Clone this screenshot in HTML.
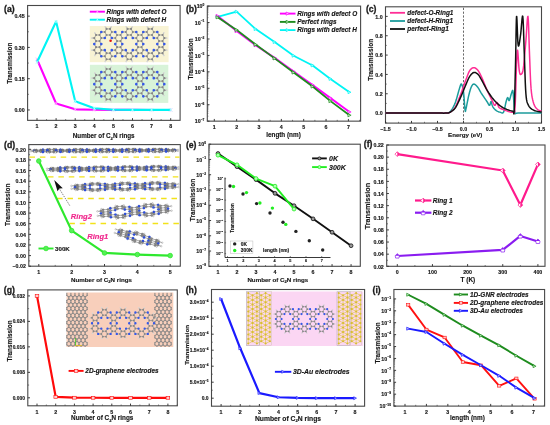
<!DOCTYPE html>
<html><head><meta charset="utf-8"><style>
html,body{margin:0;padding:0;background:#fff;width:550px;height:425px;overflow:hidden}
svg{display:block;filter:blur(0.3px);font-family:"Liberation Sans", sans-serif}
</style></head><body>
<svg width="550" height="425" viewBox="0 0 550 425">
<style>text{stroke-width:0.14px}</style>
<rect width="550" height="425" fill="#fff"/>
<rect x="89.8" y="26" width="78.8" height="36.2" fill="#f8f3d4" stroke="none" stroke-width="1" />
<path d="M153.8,31.98L152.05,35.01M153.8,31.98L152.05,28.94M153.8,31.98L157.3,31.98M152.05,35.01L148.55,35.01M152.05,35.01L153.8,38.04M148.55,35.01L146.8,31.98M148.55,35.01L146.8,38.04M146.8,31.98L148.55,28.94M146.8,31.98L143.3,31.98M148.55,28.94L152.05,28.94M159.05,35.01L157.3,38.04M159.05,35.01L157.3,31.98M159.05,35.01L162.55,35.01M157.3,38.04L153.8,38.04M157.3,38.04L159.05,41.07M164.3,38.04L162.55,41.07M164.3,38.04L162.55,35.01M162.55,41.07L159.05,41.07M162.55,41.07L164.3,44.1M159.05,41.07L157.3,44.1M146.8,38.04L143.3,38.04M143.3,38.04L141.55,35.01M143.3,38.04L141.55,41.07M141.55,35.01L143.3,31.98M141.55,35.01L138.05,35.01M164.3,44.1L162.55,47.13M162.55,47.13L159.05,47.13M162.55,47.13L164.3,50.16M159.05,47.13L157.3,44.1M159.05,47.13L157.3,50.16M132.8,31.98L131.05,35.01M132.8,31.98L131.05,28.94M132.8,31.98L136.3,31.98M131.05,35.01L127.55,35.01M131.05,35.01L132.8,38.04M127.55,35.01L125.8,31.98M127.55,35.01L125.8,38.04M125.8,31.98L127.55,28.94M125.8,31.98L122.3,31.98M127.55,28.94L131.05,28.94M138.05,35.01L136.3,38.04M138.05,35.01L136.3,31.98M136.3,38.04L132.8,38.04M136.3,38.04L138.05,41.07M141.55,41.07L138.05,41.07M141.55,41.07L143.3,44.1M138.05,41.07L136.3,44.1M164.3,50.16L162.55,53.19M162.55,53.19L159.05,53.19M159.05,53.19L157.3,50.16M159.05,53.19L157.3,56.22M157.3,50.16L153.8,50.16M125.8,38.04L122.3,38.04M122.3,38.04L120.55,35.01M122.3,38.04L120.55,41.07M120.55,35.01L122.3,31.98M120.55,35.01L117.05,35.01M143.3,44.1L141.55,47.13M141.55,47.13L138.05,47.13M141.55,47.13L143.3,50.16M138.05,47.13L136.3,44.1M138.05,47.13L136.3,50.16M157.3,56.22L153.8,56.22M153.8,56.22L152.05,53.19M153.8,56.22L152.05,59.26M152.05,53.19L153.8,50.16M152.05,53.19L148.55,53.19M111.8,31.98L110.05,35.01M111.8,31.98L110.05,28.94M111.8,31.98L115.3,31.98M110.05,35.01L106.55,35.01M110.05,35.01L111.8,38.04M106.55,35.01L104.8,31.98M106.55,35.01L104.8,38.04M104.8,31.98L106.55,28.94M104.8,31.98L101.3,31.98M106.55,28.94L110.05,28.94M117.05,35.01L115.3,38.04M117.05,35.01L115.3,31.98M115.3,38.04L111.8,38.04M115.3,38.04L117.05,41.07M120.55,41.07L117.05,41.07M120.55,41.07L122.3,44.1M117.05,41.07L115.3,44.1M143.3,50.16L141.55,53.19M143.3,50.16L146.8,50.16M141.55,53.19L138.05,53.19M141.55,53.19L143.3,56.22M138.05,53.19L136.3,50.16M138.05,53.19L136.3,56.22M136.3,50.16L132.8,50.16M148.55,53.19L146.8,56.22M148.55,53.19L146.8,50.16M146.8,56.22L143.3,56.22M146.8,56.22L148.55,59.26M152.05,59.26L148.55,59.26M104.8,38.04L101.3,38.04M101.3,38.04L99.55,35.01M101.3,38.04L99.55,41.07M99.55,35.01L101.3,31.98M99.55,35.01L96.05,35.01M122.3,44.1L120.55,47.13M120.55,47.13L117.05,47.13M120.55,47.13L122.3,50.16M117.05,47.13L115.3,44.1M117.05,47.13L115.3,50.16M136.3,56.22L132.8,56.22M132.8,56.22L131.05,53.19M132.8,56.22L131.05,59.26M131.05,53.19L132.8,50.16M131.05,53.19L127.55,53.19M99.55,41.07L96.05,41.07M99.55,41.07L101.3,44.1M96.05,41.07L94.3,38.04M96.05,41.07L94.3,44.1M94.3,38.04L96.05,35.01M122.3,50.16L120.55,53.19M122.3,50.16L125.8,50.16M120.55,53.19L117.05,53.19M120.55,53.19L122.3,56.22M117.05,53.19L115.3,50.16M117.05,53.19L115.3,56.22M115.3,50.16L111.8,50.16M127.55,53.19L125.8,56.22M127.55,53.19L125.8,50.16M125.8,56.22L122.3,56.22M125.8,56.22L127.55,59.26M131.05,59.26L127.55,59.26M101.3,44.1L99.55,47.13M99.55,47.13L96.05,47.13M99.55,47.13L101.3,50.16M96.05,47.13L94.3,44.1M96.05,47.13L94.3,50.16M115.3,56.22L111.8,56.22M111.8,56.22L110.05,53.19M111.8,56.22L110.05,59.26M110.05,53.19L111.8,50.16M110.05,53.19L106.55,53.19M101.3,50.16L99.55,53.19M101.3,50.16L104.8,50.16M99.55,53.19L96.05,53.19M99.55,53.19L101.3,56.22M96.05,53.19L94.3,50.16M106.55,53.19L104.8,56.22M106.55,53.19L104.8,50.16M104.8,56.22L101.3,56.22M104.8,56.22L106.55,59.26M110.05,59.26L106.55,59.26M148.55,28.94L147.29,26.76M152.05,28.94L153.31,26.76M164.3,38.04L166.82,38.04M162.55,35.01L163.81,32.82M127.55,28.94L126.29,26.76M131.05,28.94L132.31,26.76M164.3,50.16L166.82,50.16M162.55,53.19L163.81,55.38M106.55,28.94L105.29,26.76M110.05,28.94L111.31,26.76M152.05,59.26L153.31,61.44M148.55,59.26L147.29,61.44M94.3,38.04L91.78,38.04M96.05,35.01L94.79,32.82M131.05,59.26L132.31,61.44M127.55,59.26L126.29,61.44M96.05,53.19L94.79,55.38M94.3,50.16L91.78,50.16M110.05,59.26L111.31,61.44M106.55,59.26L105.29,61.44" stroke="#9a9a9a" stroke-width="0.88" fill="none"/>
<path d="M152.72,31.98a1.08,1.08 0 1,0 2.17,0a1.08,1.08 0 1,0 -2.17,0M150.97,35.01a1.08,1.08 0 1,0 2.17,0a1.08,1.08 0 1,0 -2.17,0M147.47,35.01a1.08,1.08 0 1,0 2.17,0a1.08,1.08 0 1,0 -2.17,0M145.72,31.98a1.08,1.08 0 1,0 2.17,0a1.08,1.08 0 1,0 -2.17,0M147.47,28.94a1.08,1.08 0 1,0 2.17,0a1.08,1.08 0 1,0 -2.17,0M150.97,28.94a1.08,1.08 0 1,0 2.17,0a1.08,1.08 0 1,0 -2.17,0M157.97,35.01a1.08,1.08 0 1,0 2.17,0a1.08,1.08 0 1,0 -2.17,0M156.22,38.04a1.08,1.08 0 1,0 2.17,0a1.08,1.08 0 1,0 -2.17,0M163.22,38.04a1.08,1.08 0 1,0 2.17,0a1.08,1.08 0 1,0 -2.17,0M161.47,41.07a1.08,1.08 0 1,0 2.17,0a1.08,1.08 0 1,0 -2.17,0M157.97,41.07a1.08,1.08 0 1,0 2.17,0a1.08,1.08 0 1,0 -2.17,0M161.47,35.01a1.08,1.08 0 1,0 2.17,0a1.08,1.08 0 1,0 -2.17,0M142.22,38.04a1.08,1.08 0 1,0 2.17,0a1.08,1.08 0 1,0 -2.17,0M140.47,35.01a1.08,1.08 0 1,0 2.17,0a1.08,1.08 0 1,0 -2.17,0M161.47,47.13a1.08,1.08 0 1,0 2.17,0a1.08,1.08 0 1,0 -2.17,0M157.97,47.13a1.08,1.08 0 1,0 2.17,0a1.08,1.08 0 1,0 -2.17,0M131.72,31.98a1.08,1.08 0 1,0 2.17,0a1.08,1.08 0 1,0 -2.17,0M129.97,35.01a1.08,1.08 0 1,0 2.17,0a1.08,1.08 0 1,0 -2.17,0M126.47,35.01a1.08,1.08 0 1,0 2.17,0a1.08,1.08 0 1,0 -2.17,0M124.72,31.98a1.08,1.08 0 1,0 2.17,0a1.08,1.08 0 1,0 -2.17,0M126.47,28.94a1.08,1.08 0 1,0 2.17,0a1.08,1.08 0 1,0 -2.17,0M129.97,28.94a1.08,1.08 0 1,0 2.17,0a1.08,1.08 0 1,0 -2.17,0M136.97,35.01a1.08,1.08 0 1,0 2.17,0a1.08,1.08 0 1,0 -2.17,0M135.22,38.04a1.08,1.08 0 1,0 2.17,0a1.08,1.08 0 1,0 -2.17,0M140.47,41.07a1.08,1.08 0 1,0 2.17,0a1.08,1.08 0 1,0 -2.17,0M136.97,41.07a1.08,1.08 0 1,0 2.17,0a1.08,1.08 0 1,0 -2.17,0M163.22,50.16a1.08,1.08 0 1,0 2.17,0a1.08,1.08 0 1,0 -2.17,0M161.47,53.19a1.08,1.08 0 1,0 2.17,0a1.08,1.08 0 1,0 -2.17,0M157.97,53.19a1.08,1.08 0 1,0 2.17,0a1.08,1.08 0 1,0 -2.17,0M156.22,50.16a1.08,1.08 0 1,0 2.17,0a1.08,1.08 0 1,0 -2.17,0M121.22,38.04a1.08,1.08 0 1,0 2.17,0a1.08,1.08 0 1,0 -2.17,0M119.47,35.01a1.08,1.08 0 1,0 2.17,0a1.08,1.08 0 1,0 -2.17,0M140.47,47.13a1.08,1.08 0 1,0 2.17,0a1.08,1.08 0 1,0 -2.17,0M136.97,47.13a1.08,1.08 0 1,0 2.17,0a1.08,1.08 0 1,0 -2.17,0M152.72,56.22a1.08,1.08 0 1,0 2.17,0a1.08,1.08 0 1,0 -2.17,0M150.97,53.19a1.08,1.08 0 1,0 2.17,0a1.08,1.08 0 1,0 -2.17,0M110.72,31.98a1.08,1.08 0 1,0 2.17,0a1.08,1.08 0 1,0 -2.17,0M108.97,35.01a1.08,1.08 0 1,0 2.17,0a1.08,1.08 0 1,0 -2.17,0M105.47,35.01a1.08,1.08 0 1,0 2.17,0a1.08,1.08 0 1,0 -2.17,0M103.72,31.98a1.08,1.08 0 1,0 2.17,0a1.08,1.08 0 1,0 -2.17,0M105.47,28.94a1.08,1.08 0 1,0 2.17,0a1.08,1.08 0 1,0 -2.17,0M108.97,28.94a1.08,1.08 0 1,0 2.17,0a1.08,1.08 0 1,0 -2.17,0M115.97,35.01a1.08,1.08 0 1,0 2.17,0a1.08,1.08 0 1,0 -2.17,0M114.22,38.04a1.08,1.08 0 1,0 2.17,0a1.08,1.08 0 1,0 -2.17,0M119.47,41.07a1.08,1.08 0 1,0 2.17,0a1.08,1.08 0 1,0 -2.17,0M115.97,41.07a1.08,1.08 0 1,0 2.17,0a1.08,1.08 0 1,0 -2.17,0M142.22,50.16a1.08,1.08 0 1,0 2.17,0a1.08,1.08 0 1,0 -2.17,0M140.47,53.19a1.08,1.08 0 1,0 2.17,0a1.08,1.08 0 1,0 -2.17,0M136.97,53.19a1.08,1.08 0 1,0 2.17,0a1.08,1.08 0 1,0 -2.17,0M135.22,50.16a1.08,1.08 0 1,0 2.17,0a1.08,1.08 0 1,0 -2.17,0M147.47,53.19a1.08,1.08 0 1,0 2.17,0a1.08,1.08 0 1,0 -2.17,0M145.72,56.22a1.08,1.08 0 1,0 2.17,0a1.08,1.08 0 1,0 -2.17,0M150.97,59.26a1.08,1.08 0 1,0 2.17,0a1.08,1.08 0 1,0 -2.17,0M147.47,59.26a1.08,1.08 0 1,0 2.17,0a1.08,1.08 0 1,0 -2.17,0M100.22,38.04a1.08,1.08 0 1,0 2.17,0a1.08,1.08 0 1,0 -2.17,0M98.47,35.01a1.08,1.08 0 1,0 2.17,0a1.08,1.08 0 1,0 -2.17,0M119.47,47.13a1.08,1.08 0 1,0 2.17,0a1.08,1.08 0 1,0 -2.17,0M115.97,47.13a1.08,1.08 0 1,0 2.17,0a1.08,1.08 0 1,0 -2.17,0M131.72,56.22a1.08,1.08 0 1,0 2.17,0a1.08,1.08 0 1,0 -2.17,0M129.97,53.19a1.08,1.08 0 1,0 2.17,0a1.08,1.08 0 1,0 -2.17,0M98.47,41.07a1.08,1.08 0 1,0 2.17,0a1.08,1.08 0 1,0 -2.17,0M94.97,41.07a1.08,1.08 0 1,0 2.17,0a1.08,1.08 0 1,0 -2.17,0M93.22,38.04a1.08,1.08 0 1,0 2.17,0a1.08,1.08 0 1,0 -2.17,0M94.97,35.01a1.08,1.08 0 1,0 2.17,0a1.08,1.08 0 1,0 -2.17,0M121.22,50.16a1.08,1.08 0 1,0 2.17,0a1.08,1.08 0 1,0 -2.17,0M119.47,53.19a1.08,1.08 0 1,0 2.17,0a1.08,1.08 0 1,0 -2.17,0M115.97,53.19a1.08,1.08 0 1,0 2.17,0a1.08,1.08 0 1,0 -2.17,0M114.22,50.16a1.08,1.08 0 1,0 2.17,0a1.08,1.08 0 1,0 -2.17,0M126.47,53.19a1.08,1.08 0 1,0 2.17,0a1.08,1.08 0 1,0 -2.17,0M124.72,56.22a1.08,1.08 0 1,0 2.17,0a1.08,1.08 0 1,0 -2.17,0M129.97,59.26a1.08,1.08 0 1,0 2.17,0a1.08,1.08 0 1,0 -2.17,0M126.47,59.26a1.08,1.08 0 1,0 2.17,0a1.08,1.08 0 1,0 -2.17,0M98.47,47.13a1.08,1.08 0 1,0 2.17,0a1.08,1.08 0 1,0 -2.17,0M94.97,47.13a1.08,1.08 0 1,0 2.17,0a1.08,1.08 0 1,0 -2.17,0M110.72,56.22a1.08,1.08 0 1,0 2.17,0a1.08,1.08 0 1,0 -2.17,0M108.97,53.19a1.08,1.08 0 1,0 2.17,0a1.08,1.08 0 1,0 -2.17,0M100.22,50.16a1.08,1.08 0 1,0 2.17,0a1.08,1.08 0 1,0 -2.17,0M98.47,53.19a1.08,1.08 0 1,0 2.17,0a1.08,1.08 0 1,0 -2.17,0M94.97,53.19a1.08,1.08 0 1,0 2.17,0a1.08,1.08 0 1,0 -2.17,0M93.22,50.16a1.08,1.08 0 1,0 2.17,0a1.08,1.08 0 1,0 -2.17,0M105.47,53.19a1.08,1.08 0 1,0 2.17,0a1.08,1.08 0 1,0 -2.17,0M103.72,56.22a1.08,1.08 0 1,0 2.17,0a1.08,1.08 0 1,0 -2.17,0M108.97,59.26a1.08,1.08 0 1,0 2.17,0a1.08,1.08 0 1,0 -2.17,0M105.47,59.26a1.08,1.08 0 1,0 2.17,0a1.08,1.08 0 1,0 -2.17,0" fill="#878787"/>
<path d="M152.47,38.04a1.33,1.33 0 1,0 2.66,0a1.33,1.33 0 1,0 -2.66,0M155.97,31.98a1.33,1.33 0 1,0 2.66,0a1.33,1.33 0 1,0 -2.66,0M145.47,38.04a1.33,1.33 0 1,0 2.66,0a1.33,1.33 0 1,0 -2.66,0M141.97,31.98a1.33,1.33 0 1,0 2.66,0a1.33,1.33 0 1,0 -2.66,0M162.97,44.1a1.33,1.33 0 1,0 2.66,0a1.33,1.33 0 1,0 -2.66,0M155.97,44.1a1.33,1.33 0 1,0 2.66,0a1.33,1.33 0 1,0 -2.66,0M131.47,38.04a1.33,1.33 0 1,0 2.66,0a1.33,1.33 0 1,0 -2.66,0M134.97,31.98a1.33,1.33 0 1,0 2.66,0a1.33,1.33 0 1,0 -2.66,0M124.47,38.04a1.33,1.33 0 1,0 2.66,0a1.33,1.33 0 1,0 -2.66,0M120.97,31.98a1.33,1.33 0 1,0 2.66,0a1.33,1.33 0 1,0 -2.66,0M141.97,44.1a1.33,1.33 0 1,0 2.66,0a1.33,1.33 0 1,0 -2.66,0M134.97,44.1a1.33,1.33 0 1,0 2.66,0a1.33,1.33 0 1,0 -2.66,0M155.97,56.22a1.33,1.33 0 1,0 2.66,0a1.33,1.33 0 1,0 -2.66,0M152.47,50.16a1.33,1.33 0 1,0 2.66,0a1.33,1.33 0 1,0 -2.66,0M110.47,38.04a1.33,1.33 0 1,0 2.66,0a1.33,1.33 0 1,0 -2.66,0M113.97,31.98a1.33,1.33 0 1,0 2.66,0a1.33,1.33 0 1,0 -2.66,0M141.97,56.22a1.33,1.33 0 1,0 2.66,0a1.33,1.33 0 1,0 -2.66,0M145.47,50.16a1.33,1.33 0 1,0 2.66,0a1.33,1.33 0 1,0 -2.66,0M103.47,38.04a1.33,1.33 0 1,0 2.66,0a1.33,1.33 0 1,0 -2.66,0M99.97,31.98a1.33,1.33 0 1,0 2.66,0a1.33,1.33 0 1,0 -2.66,0M120.97,44.1a1.33,1.33 0 1,0 2.66,0a1.33,1.33 0 1,0 -2.66,0M113.97,44.1a1.33,1.33 0 1,0 2.66,0a1.33,1.33 0 1,0 -2.66,0M134.97,56.22a1.33,1.33 0 1,0 2.66,0a1.33,1.33 0 1,0 -2.66,0M131.47,50.16a1.33,1.33 0 1,0 2.66,0a1.33,1.33 0 1,0 -2.66,0M120.97,56.22a1.33,1.33 0 1,0 2.66,0a1.33,1.33 0 1,0 -2.66,0M124.47,50.16a1.33,1.33 0 1,0 2.66,0a1.33,1.33 0 1,0 -2.66,0M99.97,44.1a1.33,1.33 0 1,0 2.66,0a1.33,1.33 0 1,0 -2.66,0M92.97,44.1a1.33,1.33 0 1,0 2.66,0a1.33,1.33 0 1,0 -2.66,0M113.97,56.22a1.33,1.33 0 1,0 2.66,0a1.33,1.33 0 1,0 -2.66,0M110.47,50.16a1.33,1.33 0 1,0 2.66,0a1.33,1.33 0 1,0 -2.66,0M99.97,56.22a1.33,1.33 0 1,0 2.66,0a1.33,1.33 0 1,0 -2.66,0M103.47,50.16a1.33,1.33 0 1,0 2.66,0a1.33,1.33 0 1,0 -2.66,0" fill="#3558e8"/>
<path d="M146.45,26.76a0.84,0.84 0 1,0 1.68,0a0.84,0.84 0 1,0 -1.68,0M152.47,26.76a0.84,0.84 0 1,0 1.68,0a0.84,0.84 0 1,0 -1.68,0M165.98,38.04a0.84,0.84 0 1,0 1.68,0a0.84,0.84 0 1,0 -1.68,0M162.97,32.82a0.84,0.84 0 1,0 1.68,0a0.84,0.84 0 1,0 -1.68,0M125.45,26.76a0.84,0.84 0 1,0 1.68,0a0.84,0.84 0 1,0 -1.68,0M131.47,26.76a0.84,0.84 0 1,0 1.68,0a0.84,0.84 0 1,0 -1.68,0M165.98,50.16a0.84,0.84 0 1,0 1.68,0a0.84,0.84 0 1,0 -1.68,0M162.97,55.38a0.84,0.84 0 1,0 1.68,0a0.84,0.84 0 1,0 -1.68,0M104.45,26.76a0.84,0.84 0 1,0 1.68,0a0.84,0.84 0 1,0 -1.68,0M110.47,26.76a0.84,0.84 0 1,0 1.68,0a0.84,0.84 0 1,0 -1.68,0M152.47,61.44a0.84,0.84 0 1,0 1.68,0a0.84,0.84 0 1,0 -1.68,0M146.45,61.44a0.84,0.84 0 1,0 1.68,0a0.84,0.84 0 1,0 -1.68,0M90.94,38.04a0.84,0.84 0 1,0 1.68,0a0.84,0.84 0 1,0 -1.68,0M93.95,32.82a0.84,0.84 0 1,0 1.68,0a0.84,0.84 0 1,0 -1.68,0M131.47,61.44a0.84,0.84 0 1,0 1.68,0a0.84,0.84 0 1,0 -1.68,0M125.45,61.44a0.84,0.84 0 1,0 1.68,0a0.84,0.84 0 1,0 -1.68,0M93.95,55.38a0.84,0.84 0 1,0 1.68,0a0.84,0.84 0 1,0 -1.68,0M90.94,50.16a0.84,0.84 0 1,0 1.68,0a0.84,0.84 0 1,0 -1.68,0M110.47,61.44a0.84,0.84 0 1,0 1.68,0a0.84,0.84 0 1,0 -1.68,0M104.45,61.44a0.84,0.84 0 1,0 1.68,0a0.84,0.84 0 1,0 -1.68,0" fill="#d8d8d8"/>
<circle cx="110.6" cy="40.8" r="1.26" fill="#e01010" stroke="none" stroke-width="0.5"/>
<rect x="89.9" y="64.8" width="78.4" height="38.1" fill="#d8f3d8" stroke="none" stroke-width="1" />
<path d="M153.8,72.08L152.05,75.11M153.8,72.08L152.05,69.04M153.8,72.08L157.3,72.08M152.05,75.11L148.55,75.11M152.05,75.11L153.8,78.14M148.55,75.11L146.8,72.08M148.55,75.11L146.8,78.14M146.8,72.08L148.55,69.04M146.8,72.08L143.3,72.08M148.55,69.04L152.05,69.04M159.05,75.11L157.3,78.14M159.05,75.11L157.3,72.08M159.05,75.11L162.55,75.11M157.3,78.14L153.8,78.14M157.3,78.14L159.05,81.17M164.3,78.14L162.55,81.17M164.3,78.14L162.55,75.11M162.55,81.17L159.05,81.17M162.55,81.17L164.3,84.2M159.05,81.17L157.3,84.2M146.8,78.14L143.3,78.14M143.3,78.14L141.55,75.11M143.3,78.14L141.55,81.17M141.55,75.11L143.3,72.08M141.55,75.11L138.05,75.11M164.3,84.2L162.55,87.23M162.55,87.23L159.05,87.23M162.55,87.23L164.3,90.26M159.05,87.23L157.3,84.2M159.05,87.23L157.3,90.26M132.8,72.08L131.05,75.11M132.8,72.08L131.05,69.04M132.8,72.08L136.3,72.08M131.05,75.11L127.55,75.11M131.05,75.11L132.8,78.14M127.55,75.11L125.8,72.08M127.55,75.11L125.8,78.14M125.8,72.08L127.55,69.04M125.8,72.08L122.3,72.08M127.55,69.04L131.05,69.04M138.05,75.11L136.3,78.14M138.05,75.11L136.3,72.08M136.3,78.14L132.8,78.14M136.3,78.14L138.05,81.17M141.55,81.17L138.05,81.17M141.55,81.17L143.3,84.2M138.05,81.17L136.3,84.2M164.3,90.26L162.55,93.29M162.55,93.29L159.05,93.29M159.05,93.29L157.3,90.26M159.05,93.29L157.3,96.32M157.3,90.26L153.8,90.26M125.8,78.14L122.3,78.14M122.3,78.14L120.55,75.11M122.3,78.14L120.55,81.17M120.55,75.11L122.3,72.08M120.55,75.11L117.05,75.11M143.3,84.2L141.55,87.23M141.55,87.23L138.05,87.23M141.55,87.23L143.3,90.26M138.05,87.23L136.3,84.2M138.05,87.23L136.3,90.26M157.3,96.32L153.8,96.32M153.8,96.32L152.05,93.29M153.8,96.32L152.05,99.36M152.05,93.29L153.8,90.26M152.05,93.29L148.55,93.29M111.8,72.08L110.05,75.11M111.8,72.08L110.05,69.04M111.8,72.08L115.3,72.08M110.05,75.11L106.55,75.11M110.05,75.11L111.8,78.14M106.55,75.11L104.8,72.08M106.55,75.11L104.8,78.14M104.8,72.08L106.55,69.04M104.8,72.08L101.3,72.08M106.55,69.04L110.05,69.04M117.05,75.11L115.3,78.14M117.05,75.11L115.3,72.08M115.3,78.14L111.8,78.14M115.3,78.14L117.05,81.17M120.55,81.17L117.05,81.17M120.55,81.17L122.3,84.2M117.05,81.17L115.3,84.2M143.3,90.26L141.55,93.29M143.3,90.26L146.8,90.26M141.55,93.29L138.05,93.29M141.55,93.29L143.3,96.32M138.05,93.29L136.3,90.26M138.05,93.29L136.3,96.32M136.3,90.26L132.8,90.26M148.55,93.29L146.8,96.32M148.55,93.29L146.8,90.26M146.8,96.32L143.3,96.32M146.8,96.32L148.55,99.36M152.05,99.36L148.55,99.36M104.8,78.14L101.3,78.14M101.3,78.14L99.55,75.11M101.3,78.14L99.55,81.17M99.55,75.11L101.3,72.08M99.55,75.11L96.05,75.11M122.3,84.2L120.55,87.23M120.55,87.23L117.05,87.23M120.55,87.23L122.3,90.26M117.05,87.23L115.3,84.2M117.05,87.23L115.3,90.26M136.3,96.32L132.8,96.32M132.8,96.32L131.05,93.29M132.8,96.32L131.05,99.36M131.05,93.29L132.8,90.26M131.05,93.29L127.55,93.29M99.55,81.17L96.05,81.17M99.55,81.17L101.3,84.2M96.05,81.17L94.3,78.14M96.05,81.17L94.3,84.2M94.3,78.14L96.05,75.11M122.3,90.26L120.55,93.29M122.3,90.26L125.8,90.26M120.55,93.29L117.05,93.29M120.55,93.29L122.3,96.32M117.05,93.29L115.3,90.26M117.05,93.29L115.3,96.32M115.3,90.26L111.8,90.26M127.55,93.29L125.8,96.32M127.55,93.29L125.8,90.26M125.8,96.32L122.3,96.32M125.8,96.32L127.55,99.36M131.05,99.36L127.55,99.36M101.3,84.2L99.55,87.23M99.55,87.23L96.05,87.23M99.55,87.23L101.3,90.26M96.05,87.23L94.3,84.2M96.05,87.23L94.3,90.26M115.3,96.32L111.8,96.32M111.8,96.32L110.05,93.29M111.8,96.32L110.05,99.36M110.05,93.29L111.8,90.26M110.05,93.29L106.55,93.29M101.3,90.26L99.55,93.29M101.3,90.26L104.8,90.26M99.55,93.29L96.05,93.29M99.55,93.29L101.3,96.32M96.05,93.29L94.3,90.26M106.55,93.29L104.8,96.32M106.55,93.29L104.8,90.26M104.8,96.32L101.3,96.32M104.8,96.32L106.55,99.36M110.05,99.36L106.55,99.36M148.55,69.04L147.29,66.86M152.05,69.04L153.31,66.86M164.3,78.14L166.82,78.14M162.55,75.11L163.81,72.92M127.55,69.04L126.29,66.86M131.05,69.04L132.31,66.86M164.3,90.26L166.82,90.26M162.55,93.29L163.81,95.48M106.55,69.04L105.29,66.86M110.05,69.04L111.31,66.86M152.05,99.36L153.31,101.54M148.55,99.36L147.29,101.54M94.3,78.14L91.78,78.14M96.05,75.11L94.79,72.92M131.05,99.36L132.31,101.54M127.55,99.36L126.29,101.54M96.05,93.29L94.79,95.48M94.3,90.26L91.78,90.26M110.05,99.36L111.31,101.54M106.55,99.36L105.29,101.54" stroke="#9a9a9a" stroke-width="0.88" fill="none"/>
<path d="M152.72,72.08a1.08,1.08 0 1,0 2.17,0a1.08,1.08 0 1,0 -2.17,0M150.97,75.11a1.08,1.08 0 1,0 2.17,0a1.08,1.08 0 1,0 -2.17,0M147.47,75.11a1.08,1.08 0 1,0 2.17,0a1.08,1.08 0 1,0 -2.17,0M145.72,72.08a1.08,1.08 0 1,0 2.17,0a1.08,1.08 0 1,0 -2.17,0M147.47,69.04a1.08,1.08 0 1,0 2.17,0a1.08,1.08 0 1,0 -2.17,0M150.97,69.04a1.08,1.08 0 1,0 2.17,0a1.08,1.08 0 1,0 -2.17,0M157.97,75.11a1.08,1.08 0 1,0 2.17,0a1.08,1.08 0 1,0 -2.17,0M156.22,78.14a1.08,1.08 0 1,0 2.17,0a1.08,1.08 0 1,0 -2.17,0M163.22,78.14a1.08,1.08 0 1,0 2.17,0a1.08,1.08 0 1,0 -2.17,0M161.47,81.17a1.08,1.08 0 1,0 2.17,0a1.08,1.08 0 1,0 -2.17,0M157.97,81.17a1.08,1.08 0 1,0 2.17,0a1.08,1.08 0 1,0 -2.17,0M161.47,75.11a1.08,1.08 0 1,0 2.17,0a1.08,1.08 0 1,0 -2.17,0M142.22,78.14a1.08,1.08 0 1,0 2.17,0a1.08,1.08 0 1,0 -2.17,0M140.47,75.11a1.08,1.08 0 1,0 2.17,0a1.08,1.08 0 1,0 -2.17,0M161.47,87.23a1.08,1.08 0 1,0 2.17,0a1.08,1.08 0 1,0 -2.17,0M157.97,87.23a1.08,1.08 0 1,0 2.17,0a1.08,1.08 0 1,0 -2.17,0M131.72,72.08a1.08,1.08 0 1,0 2.17,0a1.08,1.08 0 1,0 -2.17,0M129.97,75.11a1.08,1.08 0 1,0 2.17,0a1.08,1.08 0 1,0 -2.17,0M126.47,75.11a1.08,1.08 0 1,0 2.17,0a1.08,1.08 0 1,0 -2.17,0M124.72,72.08a1.08,1.08 0 1,0 2.17,0a1.08,1.08 0 1,0 -2.17,0M126.47,69.04a1.08,1.08 0 1,0 2.17,0a1.08,1.08 0 1,0 -2.17,0M129.97,69.04a1.08,1.08 0 1,0 2.17,0a1.08,1.08 0 1,0 -2.17,0M136.97,75.11a1.08,1.08 0 1,0 2.17,0a1.08,1.08 0 1,0 -2.17,0M135.22,78.14a1.08,1.08 0 1,0 2.17,0a1.08,1.08 0 1,0 -2.17,0M140.47,81.17a1.08,1.08 0 1,0 2.17,0a1.08,1.08 0 1,0 -2.17,0M136.97,81.17a1.08,1.08 0 1,0 2.17,0a1.08,1.08 0 1,0 -2.17,0M163.22,90.26a1.08,1.08 0 1,0 2.17,0a1.08,1.08 0 1,0 -2.17,0M161.47,93.29a1.08,1.08 0 1,0 2.17,0a1.08,1.08 0 1,0 -2.17,0M157.97,93.29a1.08,1.08 0 1,0 2.17,0a1.08,1.08 0 1,0 -2.17,0M156.22,90.26a1.08,1.08 0 1,0 2.17,0a1.08,1.08 0 1,0 -2.17,0M121.22,78.14a1.08,1.08 0 1,0 2.17,0a1.08,1.08 0 1,0 -2.17,0M119.47,75.11a1.08,1.08 0 1,0 2.17,0a1.08,1.08 0 1,0 -2.17,0M140.47,87.23a1.08,1.08 0 1,0 2.17,0a1.08,1.08 0 1,0 -2.17,0M136.97,87.23a1.08,1.08 0 1,0 2.17,0a1.08,1.08 0 1,0 -2.17,0M152.72,96.32a1.08,1.08 0 1,0 2.17,0a1.08,1.08 0 1,0 -2.17,0M150.97,93.29a1.08,1.08 0 1,0 2.17,0a1.08,1.08 0 1,0 -2.17,0M110.72,72.08a1.08,1.08 0 1,0 2.17,0a1.08,1.08 0 1,0 -2.17,0M108.97,75.11a1.08,1.08 0 1,0 2.17,0a1.08,1.08 0 1,0 -2.17,0M105.47,75.11a1.08,1.08 0 1,0 2.17,0a1.08,1.08 0 1,0 -2.17,0M103.72,72.08a1.08,1.08 0 1,0 2.17,0a1.08,1.08 0 1,0 -2.17,0M105.47,69.04a1.08,1.08 0 1,0 2.17,0a1.08,1.08 0 1,0 -2.17,0M108.97,69.04a1.08,1.08 0 1,0 2.17,0a1.08,1.08 0 1,0 -2.17,0M115.97,75.11a1.08,1.08 0 1,0 2.17,0a1.08,1.08 0 1,0 -2.17,0M114.22,78.14a1.08,1.08 0 1,0 2.17,0a1.08,1.08 0 1,0 -2.17,0M119.47,81.17a1.08,1.08 0 1,0 2.17,0a1.08,1.08 0 1,0 -2.17,0M115.97,81.17a1.08,1.08 0 1,0 2.17,0a1.08,1.08 0 1,0 -2.17,0M142.22,90.26a1.08,1.08 0 1,0 2.17,0a1.08,1.08 0 1,0 -2.17,0M140.47,93.29a1.08,1.08 0 1,0 2.17,0a1.08,1.08 0 1,0 -2.17,0M136.97,93.29a1.08,1.08 0 1,0 2.17,0a1.08,1.08 0 1,0 -2.17,0M135.22,90.26a1.08,1.08 0 1,0 2.17,0a1.08,1.08 0 1,0 -2.17,0M147.47,93.29a1.08,1.08 0 1,0 2.17,0a1.08,1.08 0 1,0 -2.17,0M145.72,96.32a1.08,1.08 0 1,0 2.17,0a1.08,1.08 0 1,0 -2.17,0M150.97,99.36a1.08,1.08 0 1,0 2.17,0a1.08,1.08 0 1,0 -2.17,0M147.47,99.36a1.08,1.08 0 1,0 2.17,0a1.08,1.08 0 1,0 -2.17,0M100.22,78.14a1.08,1.08 0 1,0 2.17,0a1.08,1.08 0 1,0 -2.17,0M98.47,75.11a1.08,1.08 0 1,0 2.17,0a1.08,1.08 0 1,0 -2.17,0M119.47,87.23a1.08,1.08 0 1,0 2.17,0a1.08,1.08 0 1,0 -2.17,0M115.97,87.23a1.08,1.08 0 1,0 2.17,0a1.08,1.08 0 1,0 -2.17,0M131.72,96.32a1.08,1.08 0 1,0 2.17,0a1.08,1.08 0 1,0 -2.17,0M129.97,93.29a1.08,1.08 0 1,0 2.17,0a1.08,1.08 0 1,0 -2.17,0M98.47,81.17a1.08,1.08 0 1,0 2.17,0a1.08,1.08 0 1,0 -2.17,0M94.97,81.17a1.08,1.08 0 1,0 2.17,0a1.08,1.08 0 1,0 -2.17,0M93.22,78.14a1.08,1.08 0 1,0 2.17,0a1.08,1.08 0 1,0 -2.17,0M94.97,75.11a1.08,1.08 0 1,0 2.17,0a1.08,1.08 0 1,0 -2.17,0M121.22,90.26a1.08,1.08 0 1,0 2.17,0a1.08,1.08 0 1,0 -2.17,0M119.47,93.29a1.08,1.08 0 1,0 2.17,0a1.08,1.08 0 1,0 -2.17,0M115.97,93.29a1.08,1.08 0 1,0 2.17,0a1.08,1.08 0 1,0 -2.17,0M114.22,90.26a1.08,1.08 0 1,0 2.17,0a1.08,1.08 0 1,0 -2.17,0M126.47,93.29a1.08,1.08 0 1,0 2.17,0a1.08,1.08 0 1,0 -2.17,0M124.72,96.32a1.08,1.08 0 1,0 2.17,0a1.08,1.08 0 1,0 -2.17,0M129.97,99.36a1.08,1.08 0 1,0 2.17,0a1.08,1.08 0 1,0 -2.17,0M126.47,99.36a1.08,1.08 0 1,0 2.17,0a1.08,1.08 0 1,0 -2.17,0M98.47,87.23a1.08,1.08 0 1,0 2.17,0a1.08,1.08 0 1,0 -2.17,0M94.97,87.23a1.08,1.08 0 1,0 2.17,0a1.08,1.08 0 1,0 -2.17,0M110.72,96.32a1.08,1.08 0 1,0 2.17,0a1.08,1.08 0 1,0 -2.17,0M108.97,93.29a1.08,1.08 0 1,0 2.17,0a1.08,1.08 0 1,0 -2.17,0M100.22,90.26a1.08,1.08 0 1,0 2.17,0a1.08,1.08 0 1,0 -2.17,0M98.47,93.29a1.08,1.08 0 1,0 2.17,0a1.08,1.08 0 1,0 -2.17,0M94.97,93.29a1.08,1.08 0 1,0 2.17,0a1.08,1.08 0 1,0 -2.17,0M93.22,90.26a1.08,1.08 0 1,0 2.17,0a1.08,1.08 0 1,0 -2.17,0M105.47,93.29a1.08,1.08 0 1,0 2.17,0a1.08,1.08 0 1,0 -2.17,0M103.72,96.32a1.08,1.08 0 1,0 2.17,0a1.08,1.08 0 1,0 -2.17,0M108.97,99.36a1.08,1.08 0 1,0 2.17,0a1.08,1.08 0 1,0 -2.17,0M105.47,99.36a1.08,1.08 0 1,0 2.17,0a1.08,1.08 0 1,0 -2.17,0" fill="#878787"/>
<path d="M152.47,78.14a1.33,1.33 0 1,0 2.66,0a1.33,1.33 0 1,0 -2.66,0M155.97,72.08a1.33,1.33 0 1,0 2.66,0a1.33,1.33 0 1,0 -2.66,0M145.47,78.14a1.33,1.33 0 1,0 2.66,0a1.33,1.33 0 1,0 -2.66,0M141.97,72.08a1.33,1.33 0 1,0 2.66,0a1.33,1.33 0 1,0 -2.66,0M162.97,84.2a1.33,1.33 0 1,0 2.66,0a1.33,1.33 0 1,0 -2.66,0M155.97,84.2a1.33,1.33 0 1,0 2.66,0a1.33,1.33 0 1,0 -2.66,0M131.47,78.14a1.33,1.33 0 1,0 2.66,0a1.33,1.33 0 1,0 -2.66,0M134.97,72.08a1.33,1.33 0 1,0 2.66,0a1.33,1.33 0 1,0 -2.66,0M124.47,78.14a1.33,1.33 0 1,0 2.66,0a1.33,1.33 0 1,0 -2.66,0M120.97,72.08a1.33,1.33 0 1,0 2.66,0a1.33,1.33 0 1,0 -2.66,0M141.97,84.2a1.33,1.33 0 1,0 2.66,0a1.33,1.33 0 1,0 -2.66,0M134.97,84.2a1.33,1.33 0 1,0 2.66,0a1.33,1.33 0 1,0 -2.66,0M155.97,96.32a1.33,1.33 0 1,0 2.66,0a1.33,1.33 0 1,0 -2.66,0M152.47,90.26a1.33,1.33 0 1,0 2.66,0a1.33,1.33 0 1,0 -2.66,0M110.47,78.14a1.33,1.33 0 1,0 2.66,0a1.33,1.33 0 1,0 -2.66,0M113.97,72.08a1.33,1.33 0 1,0 2.66,0a1.33,1.33 0 1,0 -2.66,0M141.97,96.32a1.33,1.33 0 1,0 2.66,0a1.33,1.33 0 1,0 -2.66,0M145.47,90.26a1.33,1.33 0 1,0 2.66,0a1.33,1.33 0 1,0 -2.66,0M103.47,78.14a1.33,1.33 0 1,0 2.66,0a1.33,1.33 0 1,0 -2.66,0M99.97,72.08a1.33,1.33 0 1,0 2.66,0a1.33,1.33 0 1,0 -2.66,0M120.97,84.2a1.33,1.33 0 1,0 2.66,0a1.33,1.33 0 1,0 -2.66,0M113.97,84.2a1.33,1.33 0 1,0 2.66,0a1.33,1.33 0 1,0 -2.66,0M134.97,96.32a1.33,1.33 0 1,0 2.66,0a1.33,1.33 0 1,0 -2.66,0M131.47,90.26a1.33,1.33 0 1,0 2.66,0a1.33,1.33 0 1,0 -2.66,0M120.97,96.32a1.33,1.33 0 1,0 2.66,0a1.33,1.33 0 1,0 -2.66,0M124.47,90.26a1.33,1.33 0 1,0 2.66,0a1.33,1.33 0 1,0 -2.66,0M99.97,84.2a1.33,1.33 0 1,0 2.66,0a1.33,1.33 0 1,0 -2.66,0M92.97,84.2a1.33,1.33 0 1,0 2.66,0a1.33,1.33 0 1,0 -2.66,0M113.97,96.32a1.33,1.33 0 1,0 2.66,0a1.33,1.33 0 1,0 -2.66,0M110.47,90.26a1.33,1.33 0 1,0 2.66,0a1.33,1.33 0 1,0 -2.66,0M99.97,96.32a1.33,1.33 0 1,0 2.66,0a1.33,1.33 0 1,0 -2.66,0M103.47,90.26a1.33,1.33 0 1,0 2.66,0a1.33,1.33 0 1,0 -2.66,0" fill="#3558e8"/>
<path d="M146.45,66.86a0.84,0.84 0 1,0 1.68,0a0.84,0.84 0 1,0 -1.68,0M152.47,66.86a0.84,0.84 0 1,0 1.68,0a0.84,0.84 0 1,0 -1.68,0M165.98,78.14a0.84,0.84 0 1,0 1.68,0a0.84,0.84 0 1,0 -1.68,0M162.97,72.92a0.84,0.84 0 1,0 1.68,0a0.84,0.84 0 1,0 -1.68,0M125.45,66.86a0.84,0.84 0 1,0 1.68,0a0.84,0.84 0 1,0 -1.68,0M131.47,66.86a0.84,0.84 0 1,0 1.68,0a0.84,0.84 0 1,0 -1.68,0M165.98,90.26a0.84,0.84 0 1,0 1.68,0a0.84,0.84 0 1,0 -1.68,0M162.97,95.48a0.84,0.84 0 1,0 1.68,0a0.84,0.84 0 1,0 -1.68,0M104.45,66.86a0.84,0.84 0 1,0 1.68,0a0.84,0.84 0 1,0 -1.68,0M110.47,66.86a0.84,0.84 0 1,0 1.68,0a0.84,0.84 0 1,0 -1.68,0M152.47,101.54a0.84,0.84 0 1,0 1.68,0a0.84,0.84 0 1,0 -1.68,0M146.45,101.54a0.84,0.84 0 1,0 1.68,0a0.84,0.84 0 1,0 -1.68,0M90.94,78.14a0.84,0.84 0 1,0 1.68,0a0.84,0.84 0 1,0 -1.68,0M93.95,72.92a0.84,0.84 0 1,0 1.68,0a0.84,0.84 0 1,0 -1.68,0M131.47,101.54a0.84,0.84 0 1,0 1.68,0a0.84,0.84 0 1,0 -1.68,0M125.45,101.54a0.84,0.84 0 1,0 1.68,0a0.84,0.84 0 1,0 -1.68,0M93.95,95.48a0.84,0.84 0 1,0 1.68,0a0.84,0.84 0 1,0 -1.68,0M90.94,90.26a0.84,0.84 0 1,0 1.68,0a0.84,0.84 0 1,0 -1.68,0M110.47,101.54a0.84,0.84 0 1,0 1.68,0a0.84,0.84 0 1,0 -1.68,0M104.45,101.54a0.84,0.84 0 1,0 1.68,0a0.84,0.84 0 1,0 -1.68,0" fill="#d8d8d8"/>
<rect x="27.6" y="5.5" width="152.5" height="114.85" fill="none" stroke="#484848" stroke-width="1.1" />
<line x1="27.6" y1="109.96" x2="29.8" y2="109.96" stroke="#333" stroke-width="0.95" />
<text x="24.7" y="112.17" text-anchor="end" fill="#161616" stroke="#161616" style="font-size:5.3px;font-weight:bold;">0.00</text>
<line x1="27.6" y1="78.69" x2="29.8" y2="78.69" stroke="#333" stroke-width="0.95" />
<text x="24.7" y="80.89" text-anchor="end" fill="#161616" stroke="#161616" style="font-size:5.3px;font-weight:bold;">0.15</text>
<line x1="27.6" y1="47.41" x2="29.8" y2="47.41" stroke="#333" stroke-width="0.95" />
<text x="24.7" y="49.62" text-anchor="end" fill="#161616" stroke="#161616" style="font-size:5.3px;font-weight:bold;">0.30</text>
<line x1="27.6" y1="16.13" x2="29.8" y2="16.13" stroke="#333" stroke-width="0.95" />
<text x="24.7" y="18.34" text-anchor="end" fill="#161616" stroke="#161616" style="font-size:5.3px;font-weight:bold;">0.45</text>
<line x1="27.6" y1="94.32" x2="28.9" y2="94.32" stroke="#484848" stroke-width="0.7" />
<line x1="27.6" y1="63.05" x2="28.9" y2="63.05" stroke="#484848" stroke-width="0.7" />
<line x1="27.6" y1="31.77" x2="28.9" y2="31.77" stroke="#484848" stroke-width="0.7" />
<line x1="37" y1="120.35" x2="37" y2="118.15" stroke="#333" stroke-width="0.95" />
<text x="37" y="128.16" text-anchor="middle" fill="#161616" stroke="#161616" style="font-size:5.3px;font-weight:bold;">1</text>
<line x1="56.1" y1="120.35" x2="56.1" y2="118.15" stroke="#333" stroke-width="0.95" />
<text x="56.1" y="128.16" text-anchor="middle" fill="#161616" stroke="#161616" style="font-size:5.3px;font-weight:bold;">2</text>
<line x1="75.2" y1="120.35" x2="75.2" y2="118.15" stroke="#333" stroke-width="0.95" />
<text x="75.2" y="128.16" text-anchor="middle" fill="#161616" stroke="#161616" style="font-size:5.3px;font-weight:bold;">3</text>
<line x1="94.3" y1="120.35" x2="94.3" y2="118.15" stroke="#333" stroke-width="0.95" />
<text x="94.3" y="128.16" text-anchor="middle" fill="#161616" stroke="#161616" style="font-size:5.3px;font-weight:bold;">4</text>
<line x1="113.4" y1="120.35" x2="113.4" y2="118.15" stroke="#333" stroke-width="0.95" />
<text x="113.4" y="128.16" text-anchor="middle" fill="#161616" stroke="#161616" style="font-size:5.3px;font-weight:bold;">5</text>
<line x1="132.5" y1="120.35" x2="132.5" y2="118.15" stroke="#333" stroke-width="0.95" />
<text x="132.5" y="128.16" text-anchor="middle" fill="#161616" stroke="#161616" style="font-size:5.3px;font-weight:bold;">6</text>
<line x1="151.6" y1="120.35" x2="151.6" y2="118.15" stroke="#333" stroke-width="0.95" />
<text x="151.6" y="128.16" text-anchor="middle" fill="#161616" stroke="#161616" style="font-size:5.3px;font-weight:bold;">7</text>
<line x1="170.7" y1="120.35" x2="170.7" y2="118.15" stroke="#333" stroke-width="0.95" />
<text x="170.7" y="128.16" text-anchor="middle" fill="#161616" stroke="#161616" style="font-size:5.3px;font-weight:bold;">8</text>
<line x1="46.55" y1="120.35" x2="46.55" y2="119.05" stroke="#484848" stroke-width="0.7" />
<line x1="65.65" y1="120.35" x2="65.65" y2="119.05" stroke="#484848" stroke-width="0.7" />
<line x1="84.75" y1="120.35" x2="84.75" y2="119.05" stroke="#484848" stroke-width="0.7" />
<line x1="103.85" y1="120.35" x2="103.85" y2="119.05" stroke="#484848" stroke-width="0.7" />
<line x1="122.95" y1="120.35" x2="122.95" y2="119.05" stroke="#484848" stroke-width="0.7" />
<line x1="142.05" y1="120.35" x2="142.05" y2="119.05" stroke="#484848" stroke-width="0.7" />
<line x1="161.15" y1="120.35" x2="161.15" y2="119.05" stroke="#484848" stroke-width="0.7" />
<polyline points="37,59.29 56.1,103.5 75.2,109.33 94.3,109.79 113.4,109.9 132.5,109.92 151.6,109.94 170.7,109.94" fill="none" stroke="#ff00ff" stroke-width="2.1" stroke-linejoin="round" />
<path d="M35.4,57.69 L38.6,60.89 M35.4,60.89 L38.6,57.69 M37,57.69 L37,60.89" stroke="#ffb0ff" stroke-width="0.7"/>
<path d="M54.5,101.9 L57.7,105.1 M54.5,105.1 L57.7,101.9 M56.1,101.9 L56.1,105.1" stroke="#ffb0ff" stroke-width="0.7"/>
<path d="M73.6,107.73 L76.8,110.93 M73.6,110.93 L76.8,107.73 M75.2,107.73 L75.2,110.93" stroke="#ffb0ff" stroke-width="0.7"/>
<path d="M92.7,108.19 L95.9,111.39 M92.7,111.39 L95.9,108.19 M94.3,108.19 L94.3,111.39" stroke="#ffb0ff" stroke-width="0.7"/>
<path d="M111.8,108.3 L115,111.5 M111.8,111.5 L115,108.3 M113.4,108.3 L113.4,111.5" stroke="#ffb0ff" stroke-width="0.7"/>
<path d="M130.9,108.32 L134.1,111.52 M130.9,111.52 L134.1,108.32 M132.5,108.32 L132.5,111.52" stroke="#ffb0ff" stroke-width="0.7"/>
<path d="M150,108.34 L153.2,111.54 M150,111.54 L153.2,108.34 M151.6,108.34 L151.6,111.54" stroke="#ffb0ff" stroke-width="0.7"/>
<path d="M169.1,108.34 L172.3,111.54 M169.1,111.54 L172.3,108.34 M170.7,108.34 L170.7,111.54" stroke="#ffb0ff" stroke-width="0.7"/>
<polyline points="37,62.21 56.1,21.56 75.2,101.2 94.3,108.29 113.4,109.75 132.5,109.86 151.6,109.9 170.7,109.92" fill="none" stroke="#00f4f4" stroke-width="2.1" stroke-linejoin="round" />
<path d="M35.4,60.61 L38.6,63.81 M35.4,63.81 L38.6,60.61 M37,60.61 L37,63.81" stroke="#b0ffff" stroke-width="0.7"/>
<path d="M54.5,19.96 L57.7,23.16 M54.5,23.16 L57.7,19.96 M56.1,19.96 L56.1,23.16" stroke="#b0ffff" stroke-width="0.7"/>
<path d="M73.6,99.6 L76.8,102.8 M73.6,102.8 L76.8,99.6 M75.2,99.6 L75.2,102.8" stroke="#b0ffff" stroke-width="0.7"/>
<path d="M92.7,106.69 L95.9,109.89 M92.7,109.89 L95.9,106.69 M94.3,106.69 L94.3,109.89" stroke="#b0ffff" stroke-width="0.7"/>
<path d="M111.8,108.15 L115,111.35 M111.8,111.35 L115,108.15 M113.4,108.15 L113.4,111.35" stroke="#b0ffff" stroke-width="0.7"/>
<path d="M130.9,108.26 L134.1,111.46 M130.9,111.46 L134.1,108.26 M132.5,108.26 L132.5,111.46" stroke="#b0ffff" stroke-width="0.7"/>
<path d="M150,108.3 L153.2,111.5 M150,111.5 L153.2,108.3 M151.6,108.3 L151.6,111.5" stroke="#b0ffff" stroke-width="0.7"/>
<path d="M169.1,108.32 L172.3,111.52 M169.1,111.52 L172.3,108.32 M170.7,108.32 L170.7,111.52" stroke="#b0ffff" stroke-width="0.7"/>
<line x1="89.8" y1="11.7" x2="104.9" y2="11.7" stroke="#ff00ff" stroke-width="1.9" />
<path d="M95.75,10.1 L98.95,13.3 M95.75,13.3 L98.95,10.1 M97.35,10.1 L97.35,13.3" stroke="#ffb0ff" stroke-width="0.7"/>
<line x1="89.8" y1="19.7" x2="104.9" y2="19.7" stroke="#00f4f4" stroke-width="1.9" />
<path d="M95.75,18.1 L98.95,21.3 M95.75,21.3 L98.95,18.1 M97.35,18.1 L97.35,21.3" stroke="#b0ffff" stroke-width="0.7"/>
<text x="106.5" y="14.02" text-anchor="start" fill="#161616" stroke="#161616" style="font-size:6.45px;font-weight:bold;font-style:italic;">Rings with defect O</text>
<text x="106.5" y="22.02" text-anchor="start" fill="#161616" stroke="#161616" style="font-size:6.45px;font-weight:bold;font-style:italic;">Rings with defect H</text>
<text x="4" y="12" fill="#1a1a1a" stroke="#1a1a1a" style="font-size:8.7px;font-weight:bold;stroke-width:0.3px">(a)</text>
<text x="12" y="63.2" text-anchor="middle" fill="#161616" stroke="#161616" style="font-size:6.4px;font-weight:bold;" transform="rotate(-90 12 63.2)">Transmission</text>
<text x="103.7" y="138.3" text-anchor="middle" fill="#161616" stroke="#161616" style="font-size:6.3px;font-weight:bold;">Number of C<tspan dy="1.3" style="font-size:4.2px">2</tspan><tspan dy="-1.3">N rings</tspan></text>
<rect x="207.3" y="6.1" width="153.3" height="115.05" fill="none" stroke="#484848" stroke-width="1.1" />
<line x1="207.3" y1="6.1" x2="209.5" y2="6.1" stroke="#333" stroke-width="0.95" />
<text x="204.4" y="8.31" text-anchor="end" fill="#161616" stroke="#161616" style="font-size:5.3px;font-weight:bold;">10<tspan dy="-2.38" style="font-size:3.29px">0</tspan></text>
<line x1="207.3" y1="22.54" x2="209.5" y2="22.54" stroke="#333" stroke-width="0.95" />
<text x="204.4" y="24.74" text-anchor="end" fill="#161616" stroke="#161616" style="font-size:5.3px;font-weight:bold;">10<tspan dy="-2.38" style="font-size:3.29px">&#8722;1</tspan></text>
<line x1="207.3" y1="38.97" x2="209.5" y2="38.97" stroke="#333" stroke-width="0.95" />
<text x="204.4" y="41.18" text-anchor="end" fill="#161616" stroke="#161616" style="font-size:5.3px;font-weight:bold;">10<tspan dy="-2.38" style="font-size:3.29px">&#8722;2</tspan></text>
<line x1="207.3" y1="55.41" x2="209.5" y2="55.41" stroke="#333" stroke-width="0.95" />
<text x="204.4" y="57.62" text-anchor="end" fill="#161616" stroke="#161616" style="font-size:5.3px;font-weight:bold;">10<tspan dy="-2.38" style="font-size:3.29px">&#8722;3</tspan></text>
<line x1="207.3" y1="71.84" x2="209.5" y2="71.84" stroke="#333" stroke-width="0.95" />
<text x="204.4" y="74.05" text-anchor="end" fill="#161616" stroke="#161616" style="font-size:5.3px;font-weight:bold;">10<tspan dy="-2.38" style="font-size:3.29px">&#8722;4</tspan></text>
<line x1="207.3" y1="88.28" x2="209.5" y2="88.28" stroke="#333" stroke-width="0.95" />
<text x="204.4" y="90.49" text-anchor="end" fill="#161616" stroke="#161616" style="font-size:5.3px;font-weight:bold;">10<tspan dy="-2.38" style="font-size:3.29px">&#8722;5</tspan></text>
<line x1="207.3" y1="104.71" x2="209.5" y2="104.71" stroke="#333" stroke-width="0.95" />
<text x="204.4" y="106.92" text-anchor="end" fill="#161616" stroke="#161616" style="font-size:5.3px;font-weight:bold;">10<tspan dy="-2.38" style="font-size:3.29px">&#8722;6</tspan></text>
<line x1="207.3" y1="121.15" x2="209.5" y2="121.15" stroke="#333" stroke-width="0.95" />
<text x="204.4" y="123.36" text-anchor="end" fill="#161616" stroke="#161616" style="font-size:5.3px;font-weight:bold;">10<tspan dy="-2.38" style="font-size:3.29px">&#8722;7</tspan></text>
<line x1="207.3" y1="17.59" x2="208.5" y2="17.59" stroke="#484848" stroke-width="0.5" />
<line x1="207.3" y1="14.69" x2="208.5" y2="14.69" stroke="#484848" stroke-width="0.5" />
<line x1="207.3" y1="12.64" x2="208.5" y2="12.64" stroke="#484848" stroke-width="0.5" />
<line x1="207.3" y1="11.05" x2="208.5" y2="11.05" stroke="#484848" stroke-width="0.5" />
<line x1="207.3" y1="9.75" x2="208.5" y2="9.75" stroke="#484848" stroke-width="0.5" />
<line x1="207.3" y1="8.65" x2="208.5" y2="8.65" stroke="#484848" stroke-width="0.5" />
<line x1="207.3" y1="7.69" x2="208.5" y2="7.69" stroke="#484848" stroke-width="0.5" />
<line x1="207.3" y1="6.85" x2="208.5" y2="6.85" stroke="#484848" stroke-width="0.5" />
<line x1="207.3" y1="34.02" x2="208.5" y2="34.02" stroke="#484848" stroke-width="0.5" />
<line x1="207.3" y1="31.13" x2="208.5" y2="31.13" stroke="#484848" stroke-width="0.5" />
<line x1="207.3" y1="29.08" x2="208.5" y2="29.08" stroke="#484848" stroke-width="0.5" />
<line x1="207.3" y1="27.48" x2="208.5" y2="27.48" stroke="#484848" stroke-width="0.5" />
<line x1="207.3" y1="26.18" x2="208.5" y2="26.18" stroke="#484848" stroke-width="0.5" />
<line x1="207.3" y1="25.08" x2="208.5" y2="25.08" stroke="#484848" stroke-width="0.5" />
<line x1="207.3" y1="24.13" x2="208.5" y2="24.13" stroke="#484848" stroke-width="0.5" />
<line x1="207.3" y1="23.29" x2="208.5" y2="23.29" stroke="#484848" stroke-width="0.5" />
<line x1="207.3" y1="50.46" x2="208.5" y2="50.46" stroke="#484848" stroke-width="0.5" />
<line x1="207.3" y1="47.57" x2="208.5" y2="47.57" stroke="#484848" stroke-width="0.5" />
<line x1="207.3" y1="45.51" x2="208.5" y2="45.51" stroke="#484848" stroke-width="0.5" />
<line x1="207.3" y1="43.92" x2="208.5" y2="43.92" stroke="#484848" stroke-width="0.5" />
<line x1="207.3" y1="42.62" x2="208.5" y2="42.62" stroke="#484848" stroke-width="0.5" />
<line x1="207.3" y1="41.52" x2="208.5" y2="41.52" stroke="#484848" stroke-width="0.5" />
<line x1="207.3" y1="40.56" x2="208.5" y2="40.56" stroke="#484848" stroke-width="0.5" />
<line x1="207.3" y1="39.72" x2="208.5" y2="39.72" stroke="#484848" stroke-width="0.5" />
<line x1="207.3" y1="66.9" x2="208.5" y2="66.9" stroke="#484848" stroke-width="0.5" />
<line x1="207.3" y1="64" x2="208.5" y2="64" stroke="#484848" stroke-width="0.5" />
<line x1="207.3" y1="61.95" x2="208.5" y2="61.95" stroke="#484848" stroke-width="0.5" />
<line x1="207.3" y1="60.35" x2="208.5" y2="60.35" stroke="#484848" stroke-width="0.5" />
<line x1="207.3" y1="59.05" x2="208.5" y2="59.05" stroke="#484848" stroke-width="0.5" />
<line x1="207.3" y1="57.95" x2="208.5" y2="57.95" stroke="#484848" stroke-width="0.5" />
<line x1="207.3" y1="57" x2="208.5" y2="57" stroke="#484848" stroke-width="0.5" />
<line x1="207.3" y1="56.16" x2="208.5" y2="56.16" stroke="#484848" stroke-width="0.5" />
<line x1="207.3" y1="83.33" x2="208.5" y2="83.33" stroke="#484848" stroke-width="0.5" />
<line x1="207.3" y1="80.44" x2="208.5" y2="80.44" stroke="#484848" stroke-width="0.5" />
<line x1="207.3" y1="78.38" x2="208.5" y2="78.38" stroke="#484848" stroke-width="0.5" />
<line x1="207.3" y1="76.79" x2="208.5" y2="76.79" stroke="#484848" stroke-width="0.5" />
<line x1="207.3" y1="75.49" x2="208.5" y2="75.49" stroke="#484848" stroke-width="0.5" />
<line x1="207.3" y1="74.39" x2="208.5" y2="74.39" stroke="#484848" stroke-width="0.5" />
<line x1="207.3" y1="73.44" x2="208.5" y2="73.44" stroke="#484848" stroke-width="0.5" />
<line x1="207.3" y1="72.59" x2="208.5" y2="72.59" stroke="#484848" stroke-width="0.5" />
<line x1="207.3" y1="99.77" x2="208.5" y2="99.77" stroke="#484848" stroke-width="0.5" />
<line x1="207.3" y1="96.87" x2="208.5" y2="96.87" stroke="#484848" stroke-width="0.5" />
<line x1="207.3" y1="94.82" x2="208.5" y2="94.82" stroke="#484848" stroke-width="0.5" />
<line x1="207.3" y1="93.23" x2="208.5" y2="93.23" stroke="#484848" stroke-width="0.5" />
<line x1="207.3" y1="91.92" x2="208.5" y2="91.92" stroke="#484848" stroke-width="0.5" />
<line x1="207.3" y1="90.82" x2="208.5" y2="90.82" stroke="#484848" stroke-width="0.5" />
<line x1="207.3" y1="89.87" x2="208.5" y2="89.87" stroke="#484848" stroke-width="0.5" />
<line x1="207.3" y1="89.03" x2="208.5" y2="89.03" stroke="#484848" stroke-width="0.5" />
<line x1="207.3" y1="116.2" x2="208.5" y2="116.2" stroke="#484848" stroke-width="0.5" />
<line x1="207.3" y1="113.31" x2="208.5" y2="113.31" stroke="#484848" stroke-width="0.5" />
<line x1="207.3" y1="111.25" x2="208.5" y2="111.25" stroke="#484848" stroke-width="0.5" />
<line x1="207.3" y1="109.66" x2="208.5" y2="109.66" stroke="#484848" stroke-width="0.5" />
<line x1="207.3" y1="108.36" x2="208.5" y2="108.36" stroke="#484848" stroke-width="0.5" />
<line x1="207.3" y1="107.26" x2="208.5" y2="107.26" stroke="#484848" stroke-width="0.5" />
<line x1="207.3" y1="106.31" x2="208.5" y2="106.31" stroke="#484848" stroke-width="0.5" />
<line x1="207.3" y1="105.47" x2="208.5" y2="105.47" stroke="#484848" stroke-width="0.5" />
<line x1="214.3" y1="121.15" x2="214.3" y2="118.95" stroke="#333" stroke-width="0.95" />
<text x="214.3" y="128.96" text-anchor="middle" fill="#161616" stroke="#161616" style="font-size:5.3px;font-weight:bold;">1</text>
<line x1="236.65" y1="121.15" x2="236.65" y2="118.95" stroke="#333" stroke-width="0.95" />
<text x="236.65" y="128.96" text-anchor="middle" fill="#161616" stroke="#161616" style="font-size:5.3px;font-weight:bold;">2</text>
<line x1="259" y1="121.15" x2="259" y2="118.95" stroke="#333" stroke-width="0.95" />
<text x="259" y="128.96" text-anchor="middle" fill="#161616" stroke="#161616" style="font-size:5.3px;font-weight:bold;">3</text>
<line x1="281.35" y1="121.15" x2="281.35" y2="118.95" stroke="#333" stroke-width="0.95" />
<text x="281.35" y="128.96" text-anchor="middle" fill="#161616" stroke="#161616" style="font-size:5.3px;font-weight:bold;">4</text>
<line x1="303.7" y1="121.15" x2="303.7" y2="118.95" stroke="#333" stroke-width="0.95" />
<text x="303.7" y="128.96" text-anchor="middle" fill="#161616" stroke="#161616" style="font-size:5.3px;font-weight:bold;">5</text>
<line x1="326.05" y1="121.15" x2="326.05" y2="118.95" stroke="#333" stroke-width="0.95" />
<text x="326.05" y="128.96" text-anchor="middle" fill="#161616" stroke="#161616" style="font-size:5.3px;font-weight:bold;">6</text>
<line x1="348.4" y1="121.15" x2="348.4" y2="118.95" stroke="#333" stroke-width="0.95" />
<text x="348.4" y="128.96" text-anchor="middle" fill="#161616" stroke="#161616" style="font-size:5.3px;font-weight:bold;">7</text>
<line x1="225.48" y1="121.15" x2="225.48" y2="119.85" stroke="#484848" stroke-width="0.7" />
<line x1="247.83" y1="121.15" x2="247.83" y2="119.85" stroke="#484848" stroke-width="0.7" />
<line x1="270.18" y1="121.15" x2="270.18" y2="119.85" stroke="#484848" stroke-width="0.7" />
<line x1="292.53" y1="121.15" x2="292.53" y2="119.85" stroke="#484848" stroke-width="0.7" />
<line x1="314.88" y1="121.15" x2="314.88" y2="119.85" stroke="#484848" stroke-width="0.7" />
<line x1="337.23" y1="121.15" x2="337.23" y2="119.85" stroke="#484848" stroke-width="0.7" />
<line x1="359.58" y1="121.15" x2="359.58" y2="119.85" stroke="#484848" stroke-width="0.7" />
<polyline points="217.65,16.78 236.65,11.69 255.65,29.11 274.65,42.09 293.64,55.74 312.64,65.43 330.52,78.91 349.52,92.22" fill="none" stroke="#00f4f4" stroke-width="1.8" stroke-linejoin="round" />
<path d="M216.15,15.28 L219.15,16.78 L216.15,18.28 Z" fill="#c0ffff" stroke="#00f4f4" stroke-width="0.7"/>
<path d="M235.15,10.19 L238.15,11.69 L235.15,13.19 Z" fill="#c0ffff" stroke="#00f4f4" stroke-width="0.7"/>
<path d="M254.15,27.61 L257.15,29.11 L254.15,30.61 Z" fill="#c0ffff" stroke="#00f4f4" stroke-width="0.7"/>
<path d="M273.15,40.59 L276.15,42.09 L273.15,43.59 Z" fill="#c0ffff" stroke="#00f4f4" stroke-width="0.7"/>
<path d="M292.14,54.24 L295.14,55.74 L292.14,57.24 Z" fill="#c0ffff" stroke="#00f4f4" stroke-width="0.7"/>
<path d="M311.14,63.93 L314.14,65.43 L311.14,66.93 Z" fill="#c0ffff" stroke="#00f4f4" stroke-width="0.7"/>
<path d="M329.02,77.41 L332.02,78.91 L329.02,80.41 Z" fill="#c0ffff" stroke="#00f4f4" stroke-width="0.7"/>
<path d="M348.02,90.72 L351.02,92.22 L348.02,93.72 Z" fill="#c0ffff" stroke="#00f4f4" stroke-width="0.7"/>
<polyline points="217.65,15.96 236.65,31.08 255.65,45.22 274.65,57.87 293.64,71.51 312.64,84.99 330.52,98.14 349.52,111.95" fill="none" stroke="#ff00ff" stroke-width="1.9" stroke-linejoin="round" />
<path d="M216.05,14.36 L219.25,15.96 L216.05,17.56 Z" fill="#ffc0ff" stroke="#ff00ff" stroke-width="0.7"/>
<path d="M235.05,29.48 L238.25,31.08 L235.05,32.68 Z" fill="#ffc0ff" stroke="#ff00ff" stroke-width="0.7"/>
<path d="M254.05,43.62 L257.25,45.22 L254.05,46.82 Z" fill="#ffc0ff" stroke="#ff00ff" stroke-width="0.7"/>
<path d="M273.05,56.27 L276.25,57.87 L273.05,59.47 Z" fill="#ffc0ff" stroke="#ff00ff" stroke-width="0.7"/>
<path d="M292.04,69.91 L295.24,71.51 L292.04,73.11 Z" fill="#ffc0ff" stroke="#ff00ff" stroke-width="0.7"/>
<path d="M311.04,83.39 L314.24,84.99 L311.04,86.59 Z" fill="#ffc0ff" stroke="#ff00ff" stroke-width="0.7"/>
<path d="M328.92,96.54 L332.12,98.14 L328.92,99.74 Z" fill="#ffc0ff" stroke="#ff00ff" stroke-width="0.7"/>
<path d="M347.92,110.35 L351.12,111.95 L347.92,113.55 Z" fill="#ffc0ff" stroke="#ff00ff" stroke-width="0.7"/>
<polyline points="217.65,17.28 236.65,29.93 255.65,44.56 274.65,58.37 293.64,72.5 312.64,86.47 330.52,101.1 349.52,115.23" fill="none" stroke="#1e8c1e" stroke-width="1.75" stroke-linejoin="round" />
<path d="M216.05,15.68 L219.25,17.28 L216.05,18.88 Z" fill="#c8f0c8" stroke="#1e8c1e" stroke-width="0.7"/>
<path d="M235.05,28.33 L238.25,29.93 L235.05,31.53 Z" fill="#c8f0c8" stroke="#1e8c1e" stroke-width="0.7"/>
<path d="M254.05,42.96 L257.25,44.56 L254.05,46.16 Z" fill="#c8f0c8" stroke="#1e8c1e" stroke-width="0.7"/>
<path d="M273.05,56.77 L276.25,58.37 L273.05,59.97 Z" fill="#c8f0c8" stroke="#1e8c1e" stroke-width="0.7"/>
<path d="M292.04,70.9 L295.24,72.5 L292.04,74.1 Z" fill="#c8f0c8" stroke="#1e8c1e" stroke-width="0.7"/>
<path d="M311.04,84.87 L314.24,86.47 L311.04,88.07 Z" fill="#c8f0c8" stroke="#1e8c1e" stroke-width="0.7"/>
<path d="M328.92,99.5 L332.12,101.1 L328.92,102.7 Z" fill="#c8f0c8" stroke="#1e8c1e" stroke-width="0.7"/>
<path d="M347.92,113.63 L351.12,115.23 L347.92,116.83 Z" fill="#c8f0c8" stroke="#1e8c1e" stroke-width="0.7"/>
<line x1="279.9" y1="13.6" x2="295.5" y2="13.6" stroke="#ff00ff" stroke-width="1.9" />
<path d="M286.1,12 L289.3,13.6 L286.1,15.2 Z" fill="#ffc0ff" stroke="#ff00ff" stroke-width="0.7"/>
<line x1="279.9" y1="21.9" x2="295.5" y2="21.9" stroke="#1e8c1e" stroke-width="1.9" />
<path d="M286.1,20.3 L289.3,21.9 L286.1,23.5 Z" fill="#c8f0c8" stroke="#1e8c1e" stroke-width="0.7"/>
<line x1="279.9" y1="30.1" x2="295.5" y2="30.1" stroke="#00f4f4" stroke-width="1.8" />
<path d="M286.2,28.6 L289.2,30.1 L286.2,31.6 Z" fill="#c0ffff" stroke="#00f4f4" stroke-width="0.7"/>
<text x="297.2" y="15.92" text-anchor="start" fill="#161616" stroke="#161616" style="font-size:6.45px;font-weight:bold;font-style:italic;">Rings with defect O</text>
<text x="297.2" y="24.22" text-anchor="start" fill="#161616" stroke="#161616" style="font-size:6.45px;font-weight:bold;font-style:italic;">Perfect rings</text>
<text x="297.2" y="32.42" text-anchor="start" fill="#161616" stroke="#161616" style="font-size:6.45px;font-weight:bold;font-style:italic;">Rings with defect H</text>
<text x="185.9" y="11.85" fill="#1a1a1a" stroke="#1a1a1a" style="font-size:8.7px;font-weight:bold;stroke-width:0.3px">(b)</text>
<text x="193" y="59" text-anchor="middle" fill="#161616" stroke="#161616" style="font-size:6.4px;font-weight:bold;" transform="rotate(-90 193 59)">Transmission</text>
<text x="283.5" y="137.4" text-anchor="middle" fill="#161616" stroke="#161616" style="font-size:6.35px;font-weight:bold;">length (nm)</text>
<rect x="385.5" y="6.8" width="156" height="116.3" fill="none" stroke="#484848" stroke-width="1.1" />
<line x1="385.5" y1="113.1" x2="387.7" y2="113.1" stroke="#333" stroke-width="0.95" />
<text x="382.6" y="115.31" text-anchor="end" fill="#161616" stroke="#161616" style="font-size:5.3px;font-weight:bold;">0.0</text>
<line x1="385.5" y1="93.76" x2="387.7" y2="93.76" stroke="#333" stroke-width="0.95" />
<text x="382.6" y="95.97" text-anchor="end" fill="#161616" stroke="#161616" style="font-size:5.3px;font-weight:bold;">0.2</text>
<line x1="385.5" y1="74.42" x2="387.7" y2="74.42" stroke="#333" stroke-width="0.95" />
<text x="382.6" y="76.63" text-anchor="end" fill="#161616" stroke="#161616" style="font-size:5.3px;font-weight:bold;">0.4</text>
<line x1="385.5" y1="55.08" x2="387.7" y2="55.08" stroke="#333" stroke-width="0.95" />
<text x="382.6" y="57.29" text-anchor="end" fill="#161616" stroke="#161616" style="font-size:5.3px;font-weight:bold;">0.6</text>
<line x1="385.5" y1="35.74" x2="387.7" y2="35.74" stroke="#333" stroke-width="0.95" />
<text x="382.6" y="37.95" text-anchor="end" fill="#161616" stroke="#161616" style="font-size:5.3px;font-weight:bold;">0.8</text>
<line x1="385.5" y1="16.4" x2="387.7" y2="16.4" stroke="#333" stroke-width="0.95" />
<text x="382.6" y="18.61" text-anchor="end" fill="#161616" stroke="#161616" style="font-size:5.3px;font-weight:bold;">1.0</text>
<line x1="385.5" y1="122.77" x2="386.8" y2="122.77" stroke="#484848" stroke-width="0.7" />
<line x1="385.5" y1="103.43" x2="386.8" y2="103.43" stroke="#484848" stroke-width="0.7" />
<line x1="385.5" y1="84.09" x2="386.8" y2="84.09" stroke="#484848" stroke-width="0.7" />
<line x1="385.5" y1="64.75" x2="386.8" y2="64.75" stroke="#484848" stroke-width="0.7" />
<line x1="385.5" y1="45.41" x2="386.8" y2="45.41" stroke="#484848" stroke-width="0.7" />
<line x1="385.5" y1="26.07" x2="386.8" y2="26.07" stroke="#484848" stroke-width="0.7" />
<line x1="385.5" y1="123.1" x2="385.5" y2="120.9" stroke="#333" stroke-width="0.95" />
<text x="385.5" y="130.91" text-anchor="middle" fill="#161616" stroke="#161616" style="font-size:5.3px;font-weight:bold;">&#8722;1.5</text>
<line x1="411.5" y1="123.1" x2="411.5" y2="120.9" stroke="#333" stroke-width="0.95" />
<text x="411.5" y="130.91" text-anchor="middle" fill="#161616" stroke="#161616" style="font-size:5.3px;font-weight:bold;">&#8722;1.0</text>
<line x1="437.5" y1="123.1" x2="437.5" y2="120.9" stroke="#333" stroke-width="0.95" />
<text x="437.5" y="130.91" text-anchor="middle" fill="#161616" stroke="#161616" style="font-size:5.3px;font-weight:bold;">&#8722;0.5</text>
<line x1="463.5" y1="123.1" x2="463.5" y2="120.9" stroke="#333" stroke-width="0.95" />
<text x="463.5" y="130.91" text-anchor="middle" fill="#161616" stroke="#161616" style="font-size:5.3px;font-weight:bold;">0.0</text>
<line x1="489.5" y1="123.1" x2="489.5" y2="120.9" stroke="#333" stroke-width="0.95" />
<text x="489.5" y="130.91" text-anchor="middle" fill="#161616" stroke="#161616" style="font-size:5.3px;font-weight:bold;">0.5</text>
<line x1="515.5" y1="123.1" x2="515.5" y2="120.9" stroke="#333" stroke-width="0.95" />
<text x="515.5" y="130.91" text-anchor="middle" fill="#161616" stroke="#161616" style="font-size:5.3px;font-weight:bold;">1.0</text>
<line x1="541.5" y1="123.1" x2="541.5" y2="120.9" stroke="#333" stroke-width="0.95" />
<text x="541.5" y="130.91" text-anchor="middle" fill="#161616" stroke="#161616" style="font-size:5.3px;font-weight:bold;">1.5</text>
<line x1="398.5" y1="123.1" x2="398.5" y2="121.8" stroke="#484848" stroke-width="0.7" />
<line x1="424.5" y1="123.1" x2="424.5" y2="121.8" stroke="#484848" stroke-width="0.7" />
<line x1="450.5" y1="123.1" x2="450.5" y2="121.8" stroke="#484848" stroke-width="0.7" />
<line x1="476.5" y1="123.1" x2="476.5" y2="121.8" stroke="#484848" stroke-width="0.7" />
<line x1="502.5" y1="123.1" x2="502.5" y2="121.8" stroke="#484848" stroke-width="0.7" />
<line x1="528.5" y1="123.1" x2="528.5" y2="121.8" stroke="#484848" stroke-width="0.7" />
<line x1="463.5" y1="7.8" x2="463.5" y2="122.1" stroke="#444" stroke-width="0.8" stroke-dasharray="2.2,1.6"/>
<polyline points="385.5,113.1 390.97,113.1 398.85,113.1 408.02,113.1 417.39,113.1 425.85,113.1 432.3,113.1 436.67,113.11 439.83,113.12 442.08,113.14 443.72,113.14 445.04,113.13 446.34,113.1 447.43,113.07 448.03,113.05 448.32,113.02 448.46,112.94 448.61,112.78 448.94,112.52 449.42,112.18 449.92,111.79 450.44,111.32 450.96,110.76 451.5,110.07 452.06,109.23 452.64,108.26 453.23,107.16 453.85,105.94 454.47,104.6 455.09,103.12 455.7,101.5 456.32,99.59 456.97,97.38 457.62,95.03 458.24,92.72 458.82,90.63 459.34,88.92 459.78,87.53 460.15,86.27 460.48,85.24 460.78,84.48 461.09,84.08 461.42,84.09 461.77,84.53 462.13,85.34 462.49,86.51 462.85,87.99 463.18,89.78 463.5,91.83 463.8,94.51 464.08,97.91 464.34,101.62 464.6,105.18 464.84,108.19 465.06,110.2 465.25,111.17 465.39,111.45 465.52,111.17 465.66,110.45 465.84,109.44 466.1,108.26 466.44,106.74 466.85,104.72 467.3,102.4 467.78,99.99 468.25,97.69 468.7,95.69 469.13,93.95 469.57,92.29 470,90.74 470.43,89.32 470.87,88.06 471.3,86.99 471.72,86.1 472.13,85.38 472.54,84.82 472.96,84.41 473.41,84.17 473.9,84.09 474.44,84.19 475.02,84.48 475.62,84.94 476.25,85.52 476.89,86.22 477.54,86.99 478.19,87.88 478.85,88.92 479.52,90.07 480.22,91.29 480.94,92.53 481.7,93.76 482.54,95.04 483.45,96.41 484.4,97.81 485.32,99.17 486.17,100.42 486.9,101.5 487.5,102.45 488,103.36 488.43,104.16 488.81,104.79 489.16,105.21 489.5,105.36 489.82,105.07 490.1,104.33 490.35,103.37 490.58,102.43 490.81,101.73 491.06,101.5 491.3,101.81 491.52,102.5 491.74,103.43 491.98,104.47 492.27,105.48 492.62,106.33 493.04,107.05 493.51,107.76 494.02,108.45 494.57,109.09 495.14,109.68 495.74,110.2 496.38,110.66 497.07,111.06 497.79,111.41 498.51,111.7 499.22,111.94 499.9,112.13 500.55,112.37 501.19,112.67 501.82,112.92 502.42,112.99 503,112.77 503.54,112.13 504.05,110.9 504.52,109.12 504.97,107.06 505.39,104.93 505.78,103 506.14,101.5 506.46,100.38 506.74,99.45 506.98,98.72 507.22,98.17 507.45,97.8 507.7,97.63 507.95,97.83 508.2,98.45 508.45,99.26 508.7,100.03 508.97,100.53 509.26,100.53 509.58,99.92 509.93,98.85 510.3,97.51 510.67,96.09 511.02,94.78 511.34,93.76 511.64,92.87 511.92,91.93 512.18,91.1 512.44,90.54 512.68,90.4 512.9,90.86 513.1,92.09 513.29,94.01 513.45,96.36 513.61,98.88 513.77,101.32 513.94,103.43 514.09,105.32 514.21,107.23 514.33,109.05 514.48,110.7 514.69,112.08 514.98,113.1 515.14,113.66 515.11,113.82 515.14,113.7 515.48,113.46 516.38,113.21 518.1,113.1 521.1,113.1 525.26,113.1 530,113.1 534.68,113.1 538.72,113.1 541.5,113.1" fill="none" stroke="#1c9c9c" stroke-width="1.5" stroke-linejoin="round" />
<polyline points="385.5,113.1 390.97,113.1 398.85,113.1 408.02,113.1 417.39,113.1 425.85,113.1 432.3,113.1 436.67,113.1 439.83,113.11 442.08,113.12 443.72,113.13 445.04,113.12 446.34,113.1 447.43,113.08 448.03,113.06 448.32,113.03 448.46,112.97 448.61,112.87 448.94,112.71 449.42,112.51 449.92,112.28 450.44,112 450.96,111.67 451.5,111.26 452.06,110.78 452.62,110.28 453.18,109.78 453.75,109.22 454.35,108.51 455,107.57 455.7,106.33 456.48,104.73 457.32,102.81 458.2,100.67 459.11,98.39 460.02,96.06 460.9,93.76 461.78,91.39 462.69,88.85 463.6,86.27 464.48,83.73 465.32,81.36 466.1,79.25 466.79,77.4 467.41,75.71 467.99,74.18 468.55,72.81 469.12,71.6 469.74,70.55 470.4,69.67 471.09,68.94 471.79,68.38 472.49,67.97 473.2,67.73 473.9,67.65 474.6,67.75 475.31,68.04 476.01,68.5 476.71,69.08 477.4,69.78 478.06,70.55 478.68,71.39 479.25,72.31 479.81,73.33 480.39,74.49 481.01,75.81 481.7,77.32 482.48,79.1 483.32,81.15 484.2,83.36 485.11,85.63 486.02,87.84 486.9,89.89 487.8,91.84 488.73,93.8 489.66,95.69 490.56,97.48 491.38,99.11 492.1,100.53 492.69,101.76 493.17,102.86 493.58,103.79 493.95,104.54 494.31,105.07 494.7,105.36 495.11,105.24 495.52,104.68 495.92,103.91 496.31,103.14 496.68,102.59 497.04,102.46 497.35,102.85 497.62,103.61 497.87,104.58 498.14,105.61 498.46,106.57 498.86,107.3 499.34,107.79 499.88,108.16 500.47,108.45 501.1,108.69 501.78,108.94 502.5,109.23 503.28,109.57 504.12,109.91 505,110.26 505.91,110.59 506.82,110.9 507.7,111.17 508.6,111.44 509.55,111.74 510.49,112.01 511.4,112.2 512.21,112.26 512.9,112.13 513.43,112.23 513.84,112.67 514.17,112.98 514.44,112.67 514.7,111.26 514.98,108.26 515.28,102.97 515.56,95.62 515.82,87.17 516.08,78.57 516.32,70.78 516.54,64.75 516.74,60.26 516.91,56.51 517.06,53.57 517.21,51.5 517.38,50.37 517.58,50.24 517.81,51.68 518.06,54.72 518.33,58.71 518.6,62.96 518.87,66.81 519.14,69.58 519.39,71.35 519.62,72.67 519.86,73.57 520.1,74.13 520.38,74.4 520.7,74.42 521.07,74.33 521.49,74.1 521.94,73.57 522.39,72.59 522.85,71 523.3,68.62 523.74,65.19 524.19,60.77 524.63,55.74 525.07,50.46 525.5,45.28 525.9,40.57 526.28,35.59 526.65,29.9 527,24.32 527.34,19.66 527.67,16.75 527.98,16.4 528.27,19.27 528.54,24.82 528.79,32.11 529.04,40.22 529.29,48.19 529.54,55.08 529.79,61.22 530.02,67.44 530.25,73.51 530.5,79.26 530.78,84.46 531.1,88.92 531.46,92.56 531.85,95.51 532.27,97.93 532.72,99.96 533.19,101.74 533.7,103.43 534.24,104.95 534.82,106.15 535.42,107.12 536.05,107.91 536.69,108.59 537.34,109.23 538.05,109.8 538.84,110.23 539.65,110.56 540.4,110.81 541.04,111 541.5,111.17" fill="none" stroke="#ff2d95" stroke-width="1.5" stroke-linejoin="round" />
<polyline points="385.5,113.1 390.97,113.1 398.85,113.1 408.02,113.1 417.39,113.1 425.85,113.1 432.3,113.1 436.67,113.1 439.83,113.11 442.08,113.12 443.72,113.13 445.04,113.12 446.34,113.1 447.43,113.07 448.03,113.05 448.32,113.02 448.46,112.96 448.61,112.86 448.94,112.71 449.42,112.52 449.92,112.3 450.44,112.05 450.96,111.75 451.5,111.39 452.06,110.97 452.62,110.55 453.18,110.15 453.75,109.69 454.35,109.11 455,108.34 455.7,107.3 456.48,105.95 457.32,104.34 458.2,102.54 459.11,100.61 460.02,98.63 460.9,96.66 461.78,94.62 462.69,92.43 463.6,90.19 464.48,87.99 465.32,85.93 466.1,84.09 466.79,82.48 467.41,81.01 467.99,79.68 468.55,78.47 469.12,77.36 469.74,76.35 470.4,75.42 471.09,74.56 471.79,73.82 472.49,73.2 473.2,72.75 473.9,72.49 474.6,72.43 475.31,72.56 476.01,72.85 476.71,73.27 477.4,73.81 478.06,74.42 478.68,75.12 479.25,75.92 479.81,76.84 480.39,77.86 481.01,78.99 481.7,80.22 482.48,81.63 483.32,83.23 484.2,84.94 485.11,86.67 486.02,88.35 486.9,89.89 487.77,91.32 488.63,92.69 489.5,94 490.37,95.26 491.23,96.47 492.1,97.63 492.97,98.73 493.83,99.78 494.7,100.77 495.57,101.71 496.43,102.6 497.3,103.43 498.17,104.2 499.03,104.92 499.9,105.58 500.77,106.19 501.63,106.76 502.5,107.3 503.37,107.8 504.23,108.25 505.1,108.66 505.97,109.04 506.83,109.39 507.7,109.72 508.61,110.04 509.58,110.36 510.54,110.65 511.46,110.9 512.26,111.08 512.9,111.17 513.34,111.66 513.62,112.67 513.79,113.61 513.91,113.91 514.03,112.96 514.2,110.2 514.42,105.23 514.64,98.45 514.87,90.44 515.09,81.76 515.3,73.01 515.5,64.75 515.69,56.01 515.86,46.13 516.02,36.16 516.18,27.18 516.35,20.24 516.54,16.4 516.74,16.58 516.96,20.12 517.19,25.71 517.42,32.02 517.64,37.73 517.84,41.54 518.02,43.6 518.18,44.98 518.33,45.77 518.49,46.05 518.66,45.91 518.88,45.41 519.14,44.44 519.42,42.9 519.73,40.94 520.05,38.68 520.37,36.25 520.7,33.81 521.04,30.59 521.39,26.36 521.76,21.96 522.12,18.26 522.46,16.12 522.78,16.4 523.07,19.6 523.34,25.14 523.59,32.23 523.84,40.11 524.09,47.98 524.34,55.08 524.59,61.84 524.82,68.98 525.06,76.11 525.3,82.87 525.58,88.88 525.9,93.76 526.24,97.34 526.59,99.88 526.97,101.68 527.4,103 527.9,104.14 528.5,105.36 529.19,106.6 529.94,107.58 530.78,108.39 531.68,109.05 532.65,109.64 533.7,110.2 534.94,110.71 536.4,111.13 537.93,111.47 539.38,111.74 540.62,111.96 541.5,112.13" fill="none" stroke="#111" stroke-width="1.5" stroke-linejoin="round" />
<line x1="390" y1="12.8" x2="405" y2="12.8" stroke="#ff2d95" stroke-width="1.8" />
<line x1="390" y1="21" x2="405" y2="21" stroke="#1c9c9c" stroke-width="1.8" />
<line x1="390" y1="29" x2="405" y2="29" stroke="#111" stroke-width="1.8" />
<text x="407.3" y="15.12" text-anchor="start" fill="#161616" stroke="#161616" style="font-size:6.45px;font-weight:bold;font-style:italic;">defect-O-Ring1</text>
<text x="407.3" y="23.32" text-anchor="start" fill="#161616" stroke="#161616" style="font-size:6.45px;font-weight:bold;font-style:italic;">defect-H-Ring1</text>
<text x="407.3" y="31.32" text-anchor="start" fill="#161616" stroke="#161616" style="font-size:6.45px;font-weight:bold;font-style:italic;">perfect-Ring1</text>
<text x="365.9" y="11.85" fill="#1a1a1a" stroke="#1a1a1a" style="font-size:8.7px;font-weight:bold;stroke-width:0.3px">(c)</text>
<text x="373" y="59.7" text-anchor="middle" fill="#161616" stroke="#161616" style="font-size:6.5px;font-weight:bold;" transform="rotate(-90 373 59.7)">Transmission</text>
<text x="465.2" y="137.4" text-anchor="middle" fill="#161616" stroke="#161616" style="font-size:6.2px;font-weight:bold;">Energy (eV)</text>
<rect x="28.8" y="144.6" width="151.5" height="121.6" fill="none" stroke="#484848" stroke-width="1.1" />
<line x1="29.5" y1="157.2" x2="179.5" y2="157.2" stroke="#f2e21a" stroke-width="1.3" stroke-dasharray="5.5,4.9"/>
<line x1="48" y1="176.8" x2="179.5" y2="176.8" stroke="#f2e21a" stroke-width="1.3" stroke-dasharray="5.5,4.9"/>
<line x1="57.1" y1="198.5" x2="179.5" y2="198.5" stroke="#f2e21a" stroke-width="1.3" stroke-dasharray="5.5,4.9"/>
<line x1="69.4" y1="223.5" x2="179.5" y2="223.5" stroke="#f2e21a" stroke-width="1.3" stroke-dasharray="5.5,4.9"/>
<path d="M161.7,149.26L159.5,149.55M161.7,149.26L159.49,148.98M161.7,149.26L166.1,149.24M159.5,149.55L155.1,149.57M159.5,149.55L161.7,149.83M155.1,149.57L152.9,149.29M155.1,149.57L152.9,149.86M152.9,149.29L155.09,148.99M152.9,149.29L148.5,149.3M155.09,148.99L159.49,148.98M168.3,149.52L166.1,149.81M168.3,149.52L166.1,149.24M168.3,149.52L172.7,149.5M166.1,149.81L161.7,149.83M166.1,149.81L168.3,150.09M174.9,149.78L172.7,150.08M174.9,149.78L172.7,149.5M172.7,150.08L168.3,150.09M172.7,150.08L174.9,150.35M168.3,150.09L166.1,150.38M152.9,149.86L148.5,149.87M148.5,149.87L146.3,149.6M148.5,149.87L146.3,150.17M146.3,149.6L148.5,149.3M146.3,149.6L141.9,149.61M174.9,150.35L172.7,150.65M172.7,150.65L168.3,150.66M172.7,150.65L174.9,150.93M168.3,150.66L166.1,150.38M168.3,150.66L166.1,150.96M135.3,149.35L133.1,149.64M135.3,149.35L133.09,149.07M135.3,149.35L139.7,149.33M133.1,149.64L128.7,149.66M133.1,149.64L135.3,149.92M128.7,149.66L126.5,149.38M128.7,149.66L126.5,149.95M126.5,149.38L128.69,149.09M126.5,149.38L122.1,149.4M128.69,149.09L133.09,149.07M141.9,149.61L139.7,149.91M141.9,149.61L139.7,149.33M139.7,149.91L135.3,149.92M139.7,149.91L141.9,150.18M146.3,150.17L141.9,150.18M146.3,150.17L148.5,150.45M141.9,150.18L139.7,150.48M174.9,150.93L172.7,151.22M172.7,151.22L168.3,151.23M168.3,151.23L166.1,150.96M168.3,151.23L166.1,151.53M166.1,150.96L161.7,150.97M126.5,149.95L122.1,149.97M122.1,149.97L119.9,149.69M122.1,149.97L119.9,150.26M119.9,149.69L122.1,149.4M119.9,149.69L115.5,149.7M148.5,150.45L146.3,150.74M146.3,150.74L141.9,150.76M146.3,150.74L148.5,151.02M141.9,150.76L139.7,150.48M141.9,150.76L139.7,151.05M166.1,151.53L161.7,151.54M161.7,151.54L159.5,151.27M161.7,151.54L159.5,151.84M159.5,151.27L161.7,150.97M159.5,151.27L155.1,151.28M108.9,149.44L106.7,149.73M108.9,149.44L106.69,149.16M108.9,149.44L113.3,149.43M106.7,149.73L102.3,149.75M106.7,149.73L108.9,150.01M102.3,149.75L100.1,149.47M102.3,149.75L100.1,150.04M100.1,149.47L102.3,149.18M100.1,149.47L95.7,149.49M102.3,149.18L106.69,149.16M115.5,149.7L113.3,150M115.5,149.7L113.3,149.43M113.3,150L108.9,150.01M113.3,150L115.5,150.28M119.9,150.26L115.5,150.28M119.9,150.26L122.1,150.54M115.5,150.28L113.3,150.57M148.5,151.02L146.3,151.31M148.5,151.02L152.9,151M146.3,151.31L141.9,151.33M146.3,151.31L148.5,151.59M141.9,151.33L139.7,151.05M141.9,151.33L139.7,151.62M139.7,151.05L135.3,151.06M155.1,151.28L152.9,151.57M155.1,151.28L152.9,151M152.9,151.57L148.5,151.59M152.9,151.57L155.1,151.85M159.5,151.84L155.1,151.85M100.1,150.04L95.7,150.06M95.7,150.06L93.5,149.78M95.7,150.06L93.5,150.35M93.5,149.78L95.7,149.49M93.5,149.78L89.1,149.8M122.1,150.54L119.9,150.83M119.9,150.83L115.5,150.85M119.9,150.83L122.1,151.11M115.5,150.85L113.3,150.57M115.5,150.85L113.3,151.14M139.7,151.62L135.3,151.64M135.3,151.64L133.1,151.36M135.3,151.64L133.1,151.93M133.1,151.36L135.3,151.06M133.1,151.36L128.7,151.37M82.5,149.53L80.3,149.83M82.5,149.53L80.3,149.26M82.5,149.53L86.9,149.52M80.3,149.83L75.9,149.84M80.3,149.83L82.5,150.11M75.9,149.84L73.7,149.56M75.9,149.84L73.7,150.14M73.7,149.56L75.9,149.27M73.7,149.56L69.3,149.58M75.9,149.27L80.3,149.26M89.1,149.8L86.9,150.09M89.1,149.8L86.9,149.52M86.9,150.09L82.5,150.11M86.9,150.09L89.1,150.37M93.5,150.35L89.1,150.37M93.5,150.35L95.7,150.63M89.1,150.37L86.9,150.66M122.1,151.11L119.9,151.4M122.1,151.11L126.5,151.09M119.9,151.4L115.5,151.42M119.9,151.4L122.1,151.68M115.5,151.42L113.3,151.14M115.5,151.42L113.3,151.71M113.3,151.14L108.9,151.16M128.7,151.37L126.5,151.67M128.7,151.37L126.5,151.09M126.5,151.67L122.1,151.68M126.5,151.67L128.7,151.94M133.1,151.93L128.7,151.94M73.7,150.14L69.3,150.15M69.3,150.15L67.1,149.87M69.3,150.15L67.1,150.44M67.1,149.87L69.3,149.58M67.1,149.87L62.7,149.89M95.7,150.63L93.5,150.92M93.5,150.92L89.1,150.94M93.5,150.92L95.7,151.2M89.1,150.94L86.9,150.66M89.1,150.94L86.9,151.23M113.3,151.71L108.9,151.73M108.9,151.73L106.7,151.45M108.9,151.73L106.7,152.02M106.7,151.45L108.9,151.16M106.7,151.45L102.3,151.47M56.1,149.63L53.9,149.92M56.1,149.63L53.9,149.35M56.1,149.63L60.5,149.61M53.9,149.92L49.5,149.93M53.9,149.92L56.1,150.2M49.5,149.93L47.3,149.66M49.5,149.93L47.3,150.23M47.3,149.66L49.5,149.36M47.3,149.66L42.9,149.67M49.5,149.36L53.9,149.35M62.7,149.89L60.5,150.18M62.7,149.89L60.5,149.61M60.5,150.18L56.1,150.2M60.5,150.18L62.7,150.46M67.1,150.44L62.7,150.46M67.1,150.44L69.3,150.72M62.7,150.46L60.5,150.75M95.7,151.2L93.5,151.5M95.7,151.2L100.1,151.19M93.5,151.5L89.1,151.51M93.5,151.5L95.7,151.77M89.1,151.51L86.9,151.23M89.1,151.51L86.9,151.8M86.9,151.23L82.5,151.25M102.3,151.47L100.1,151.76M102.3,151.47L100.1,151.19M100.1,151.76L95.7,151.77M100.1,151.76L102.31,152.04M106.7,152.02L102.31,152.04M47.3,150.23L42.9,150.24M42.9,150.24L40.7,149.97M42.9,150.24L40.7,150.54M40.7,149.97L42.9,149.67M40.7,149.97L36.3,149.98M69.3,150.72L67.1,151.02M67.1,151.02L62.7,151.03M67.1,151.02L69.3,151.29M62.7,151.03L60.5,150.75M62.7,151.03L60.5,151.33M86.9,151.8L82.5,151.82M82.5,151.82L80.3,151.54M82.5,151.82L80.31,152.11M80.3,151.54L82.5,151.25M80.3,151.54L75.9,151.56M40.7,150.54L36.3,150.55M40.7,150.54L42.9,150.82M36.3,150.55L34.1,150.27M36.3,150.55L34.1,150.85M34.1,150.27L36.3,149.98M69.3,151.29L67.1,151.59M69.3,151.29L73.7,151.28M67.1,151.59L62.7,151.6M67.1,151.59L69.3,151.87M62.7,151.6L60.5,151.33M62.7,151.6L60.5,151.9M60.5,151.33L56.1,151.34M75.9,151.56L73.7,151.85M75.9,151.56L73.7,151.28M73.7,151.85L69.3,151.87M73.7,151.85L75.91,152.13M80.31,152.11L75.91,152.13M42.9,150.82L40.7,151.11M40.7,151.11L36.3,151.12M40.7,151.11L42.9,151.39M36.3,151.12L34.1,150.85M36.3,151.12L34.1,151.42M60.5,151.9L56.1,151.91M56.1,151.91L53.9,151.63M56.1,151.91L53.91,152.21M53.9,151.63L56.1,151.34M53.9,151.63L49.5,151.65M42.9,151.39L40.7,151.68M42.9,151.39L47.3,151.37M40.7,151.68L36.3,151.7M40.7,151.68L42.9,151.96M36.3,151.7L34.1,151.42M49.5,151.65L47.3,151.94M49.5,151.65L47.3,151.37M47.3,151.94L42.9,151.96M47.3,151.94L49.51,152.22M53.91,152.21L49.51,152.22M155.09,148.99L153.51,148.79M159.49,148.98L161.08,148.77M174.9,149.78L178.07,149.77M172.7,149.5L174.28,149.29M128.69,149.09L127.11,148.89M133.09,149.07L134.68,148.86M174.9,150.93L178.07,150.91M172.7,151.22L174.29,151.42M102.3,149.18L100.71,148.98M106.69,149.16L108.28,148.95M159.5,151.84L161.09,152.04M155.1,151.85L153.52,152.06M75.9,149.27L74.31,149.07M80.3,149.26L81.88,149.04M133.1,151.93L134.69,152.13M128.7,151.94L127.12,152.16M49.5,149.36L47.91,149.16M53.9,149.35L55.48,149.14M106.7,152.02L108.29,152.22M102.31,152.04L100.72,152.25M34.1,150.27L30.93,150.29M36.3,149.98L34.71,149.78M80.31,152.11L81.89,152.31M75.91,152.13L74.32,152.34M36.3,151.7L34.72,151.91M34.1,151.42L30.93,151.43M53.91,152.21L55.49,152.41M49.51,152.22L47.92,152.43" stroke="#8a8a8a" stroke-width="0.7" fill="none"/>
<circle cx="127.11" cy="148.89" r="0.8" fill="#f4f4f4" stroke="#666" stroke-width="0.25"/>
<circle cx="134.68" cy="148.86" r="0.8" fill="#f4f4f4" stroke="#666" stroke-width="0.25"/>
<circle cx="47.91" cy="149.16" r="0.8" fill="#f4f4f4" stroke="#666" stroke-width="0.25"/>
<circle cx="55.48" cy="149.14" r="0.8" fill="#f4f4f4" stroke="#666" stroke-width="0.25"/>
<circle cx="74.31" cy="149.07" r="0.8" fill="#f4f4f4" stroke="#666" stroke-width="0.25"/>
<circle cx="81.88" cy="149.04" r="0.8" fill="#f4f4f4" stroke="#666" stroke-width="0.25"/>
<circle cx="100.71" cy="148.98" r="0.8" fill="#f4f4f4" stroke="#666" stroke-width="0.25"/>
<circle cx="108.28" cy="148.95" r="0.8" fill="#f4f4f4" stroke="#666" stroke-width="0.25"/>
<circle cx="153.51" cy="148.79" r="0.8" fill="#f4f4f4" stroke="#666" stroke-width="0.25"/>
<circle cx="161.08" cy="148.77" r="0.8" fill="#f4f4f4" stroke="#666" stroke-width="0.25"/>
<circle cx="128.69" cy="149.09" r="1.05" fill="#8e8e8e" stroke="#4a4a4a" stroke-width="0.25"/>
<circle cx="133.09" cy="149.07" r="1.05" fill="#8e8e8e" stroke="#4a4a4a" stroke-width="0.25"/>
<circle cx="49.5" cy="149.36" r="1.05" fill="#8e8e8e" stroke="#4a4a4a" stroke-width="0.25"/>
<circle cx="53.9" cy="149.35" r="1.05" fill="#8e8e8e" stroke="#4a4a4a" stroke-width="0.25"/>
<circle cx="75.9" cy="149.27" r="1.05" fill="#8e8e8e" stroke="#4a4a4a" stroke-width="0.25"/>
<circle cx="80.3" cy="149.26" r="1.05" fill="#8e8e8e" stroke="#4a4a4a" stroke-width="0.25"/>
<circle cx="102.3" cy="149.18" r="1.05" fill="#8e8e8e" stroke="#4a4a4a" stroke-width="0.25"/>
<circle cx="106.69" cy="149.16" r="1.05" fill="#8e8e8e" stroke="#4a4a4a" stroke-width="0.25"/>
<circle cx="155.09" cy="148.99" r="1.05" fill="#8e8e8e" stroke="#4a4a4a" stroke-width="0.25"/>
<circle cx="159.49" cy="148.98" r="1.05" fill="#8e8e8e" stroke="#4a4a4a" stroke-width="0.25"/>
<circle cx="86.9" cy="149.52" r="1.2" fill="#2d52ea" stroke="#1a2a80" stroke-width="0.2"/>
<circle cx="113.3" cy="149.43" r="1.2" fill="#2d52ea" stroke="#1a2a80" stroke-width="0.2"/>
<circle cx="126.5" cy="149.38" r="1.05" fill="#8e8e8e" stroke="#4a4a4a" stroke-width="0.25"/>
<circle cx="139.7" cy="149.33" r="1.2" fill="#2d52ea" stroke="#1a2a80" stroke-width="0.2"/>
<circle cx="47.3" cy="149.66" r="1.05" fill="#8e8e8e" stroke="#4a4a4a" stroke-width="0.25"/>
<circle cx="60.5" cy="149.61" r="1.2" fill="#2d52ea" stroke="#1a2a80" stroke-width="0.2"/>
<circle cx="73.7" cy="149.56" r="1.05" fill="#8e8e8e" stroke="#4a4a4a" stroke-width="0.25"/>
<circle cx="82.5" cy="149.53" r="1.05" fill="#8e8e8e" stroke="#4a4a4a" stroke-width="0.25"/>
<circle cx="108.9" cy="149.44" r="1.05" fill="#8e8e8e" stroke="#4a4a4a" stroke-width="0.25"/>
<circle cx="122.1" cy="149.4" r="1.2" fill="#2d52ea" stroke="#1a2a80" stroke-width="0.2"/>
<circle cx="135.3" cy="149.35" r="1.05" fill="#8e8e8e" stroke="#4a4a4a" stroke-width="0.25"/>
<circle cx="42.9" cy="149.67" r="1.2" fill="#2d52ea" stroke="#1a2a80" stroke-width="0.2"/>
<circle cx="56.1" cy="149.63" r="1.05" fill="#8e8e8e" stroke="#4a4a4a" stroke-width="0.25"/>
<circle cx="69.3" cy="149.58" r="1.2" fill="#2d52ea" stroke="#1a2a80" stroke-width="0.2"/>
<circle cx="100.1" cy="149.47" r="1.05" fill="#8e8e8e" stroke="#4a4a4a" stroke-width="0.25"/>
<circle cx="95.7" cy="149.49" r="1.2" fill="#2d52ea" stroke="#1a2a80" stroke-width="0.2"/>
<circle cx="152.9" cy="149.29" r="1.05" fill="#8e8e8e" stroke="#4a4a4a" stroke-width="0.25"/>
<circle cx="166.1" cy="149.24" r="1.2" fill="#2d52ea" stroke="#1a2a80" stroke-width="0.2"/>
<circle cx="148.5" cy="149.3" r="1.2" fill="#2d52ea" stroke="#1a2a80" stroke-width="0.2"/>
<circle cx="161.7" cy="149.26" r="1.05" fill="#8e8e8e" stroke="#4a4a4a" stroke-width="0.25"/>
<circle cx="174.28" cy="149.29" r="0.8" fill="#f4f4f4" stroke="#666" stroke-width="0.25"/>
<circle cx="34.71" cy="149.78" r="0.8" fill="#f4f4f4" stroke="#666" stroke-width="0.25"/>
<circle cx="80.3" cy="149.83" r="1.05" fill="#8e8e8e" stroke="#4a4a4a" stroke-width="0.25"/>
<circle cx="93.5" cy="149.78" r="1.05" fill="#8e8e8e" stroke="#4a4a4a" stroke-width="0.25"/>
<circle cx="106.7" cy="149.73" r="1.05" fill="#8e8e8e" stroke="#4a4a4a" stroke-width="0.25"/>
<circle cx="119.9" cy="149.69" r="1.05" fill="#8e8e8e" stroke="#4a4a4a" stroke-width="0.25"/>
<circle cx="128.7" cy="149.66" r="1.05" fill="#8e8e8e" stroke="#4a4a4a" stroke-width="0.25"/>
<circle cx="133.1" cy="149.64" r="1.05" fill="#8e8e8e" stroke="#4a4a4a" stroke-width="0.25"/>
<circle cx="146.3" cy="149.6" r="1.05" fill="#8e8e8e" stroke="#4a4a4a" stroke-width="0.25"/>
<circle cx="172.7" cy="149.5" r="1.05" fill="#8e8e8e" stroke="#4a4a4a" stroke-width="0.25"/>
<circle cx="36.3" cy="149.98" r="1.05" fill="#8e8e8e" stroke="#4a4a4a" stroke-width="0.25"/>
<circle cx="40.7" cy="149.97" r="1.05" fill="#8e8e8e" stroke="#4a4a4a" stroke-width="0.25"/>
<circle cx="49.5" cy="149.93" r="1.05" fill="#8e8e8e" stroke="#4a4a4a" stroke-width="0.25"/>
<circle cx="53.9" cy="149.92" r="1.05" fill="#8e8e8e" stroke="#4a4a4a" stroke-width="0.25"/>
<circle cx="62.7" cy="149.89" r="1.05" fill="#8e8e8e" stroke="#4a4a4a" stroke-width="0.25"/>
<circle cx="67.1" cy="149.87" r="1.05" fill="#8e8e8e" stroke="#4a4a4a" stroke-width="0.25"/>
<circle cx="75.9" cy="149.84" r="1.05" fill="#8e8e8e" stroke="#4a4a4a" stroke-width="0.25"/>
<circle cx="89.1" cy="149.8" r="1.05" fill="#8e8e8e" stroke="#4a4a4a" stroke-width="0.25"/>
<circle cx="115.5" cy="149.7" r="1.05" fill="#8e8e8e" stroke="#4a4a4a" stroke-width="0.25"/>
<circle cx="141.9" cy="149.61" r="1.05" fill="#8e8e8e" stroke="#4a4a4a" stroke-width="0.25"/>
<circle cx="168.3" cy="149.52" r="1.05" fill="#8e8e8e" stroke="#4a4a4a" stroke-width="0.25"/>
<circle cx="102.3" cy="149.75" r="1.05" fill="#8e8e8e" stroke="#4a4a4a" stroke-width="0.25"/>
<circle cx="155.1" cy="149.57" r="1.05" fill="#8e8e8e" stroke="#4a4a4a" stroke-width="0.25"/>
<circle cx="159.5" cy="149.55" r="1.05" fill="#8e8e8e" stroke="#4a4a4a" stroke-width="0.25"/>
<circle cx="82.5" cy="150.11" r="1.2" fill="#2d52ea" stroke="#1a2a80" stroke-width="0.2"/>
<circle cx="95.7" cy="150.06" r="1.05" fill="#8e8e8e" stroke="#4a4a4a" stroke-width="0.25"/>
<circle cx="108.9" cy="150.01" r="1.2" fill="#2d52ea" stroke="#1a2a80" stroke-width="0.2"/>
<circle cx="122.1" cy="149.97" r="1.05" fill="#8e8e8e" stroke="#4a4a4a" stroke-width="0.25"/>
<circle cx="126.5" cy="149.95" r="1.2" fill="#2d52ea" stroke="#1a2a80" stroke-width="0.2"/>
<circle cx="135.3" cy="149.92" r="1.2" fill="#2d52ea" stroke="#1a2a80" stroke-width="0.2"/>
<circle cx="148.5" cy="149.87" r="1.05" fill="#8e8e8e" stroke="#4a4a4a" stroke-width="0.25"/>
<circle cx="174.9" cy="149.78" r="1.05" fill="#8e8e8e" stroke="#4a4a4a" stroke-width="0.25"/>
<circle cx="178.07" cy="149.77" r="0.8" fill="#f4f4f4" stroke="#666" stroke-width="0.25"/>
<circle cx="42.9" cy="150.24" r="1.05" fill="#8e8e8e" stroke="#4a4a4a" stroke-width="0.25"/>
<circle cx="69.3" cy="150.15" r="1.05" fill="#8e8e8e" stroke="#4a4a4a" stroke-width="0.25"/>
<circle cx="86.9" cy="150.09" r="1.05" fill="#8e8e8e" stroke="#4a4a4a" stroke-width="0.25"/>
<circle cx="113.3" cy="150" r="1.05" fill="#8e8e8e" stroke="#4a4a4a" stroke-width="0.25"/>
<circle cx="139.7" cy="149.91" r="1.05" fill="#8e8e8e" stroke="#4a4a4a" stroke-width="0.25"/>
<circle cx="166.1" cy="149.81" r="1.05" fill="#8e8e8e" stroke="#4a4a4a" stroke-width="0.25"/>
<circle cx="34.1" cy="150.27" r="1.05" fill="#8e8e8e" stroke="#4a4a4a" stroke-width="0.25"/>
<circle cx="47.3" cy="150.23" r="1.2" fill="#2d52ea" stroke="#1a2a80" stroke-width="0.2"/>
<circle cx="56.1" cy="150.2" r="1.2" fill="#2d52ea" stroke="#1a2a80" stroke-width="0.2"/>
<circle cx="60.5" cy="150.18" r="1.05" fill="#8e8e8e" stroke="#4a4a4a" stroke-width="0.25"/>
<circle cx="73.7" cy="150.14" r="1.2" fill="#2d52ea" stroke="#1a2a80" stroke-width="0.2"/>
<circle cx="30.93" cy="150.29" r="0.8" fill="#f4f4f4" stroke="#666" stroke-width="0.25"/>
<circle cx="100.1" cy="150.04" r="1.2" fill="#2d52ea" stroke="#1a2a80" stroke-width="0.2"/>
<circle cx="152.9" cy="149.86" r="1.2" fill="#2d52ea" stroke="#1a2a80" stroke-width="0.2"/>
<circle cx="161.7" cy="149.83" r="1.2" fill="#2d52ea" stroke="#1a2a80" stroke-width="0.2"/>
<circle cx="40.7" cy="150.54" r="1.05" fill="#8e8e8e" stroke="#4a4a4a" stroke-width="0.25"/>
<circle cx="67.1" cy="150.44" r="1.05" fill="#8e8e8e" stroke="#4a4a4a" stroke-width="0.25"/>
<circle cx="93.5" cy="150.35" r="1.05" fill="#8e8e8e" stroke="#4a4a4a" stroke-width="0.25"/>
<circle cx="119.9" cy="150.26" r="1.05" fill="#8e8e8e" stroke="#4a4a4a" stroke-width="0.25"/>
<circle cx="146.3" cy="150.17" r="1.05" fill="#8e8e8e" stroke="#4a4a4a" stroke-width="0.25"/>
<circle cx="172.7" cy="150.08" r="1.05" fill="#8e8e8e" stroke="#4a4a4a" stroke-width="0.25"/>
<circle cx="36.3" cy="150.55" r="1.05" fill="#8e8e8e" stroke="#4a4a4a" stroke-width="0.25"/>
<circle cx="62.7" cy="150.46" r="1.05" fill="#8e8e8e" stroke="#4a4a4a" stroke-width="0.25"/>
<circle cx="89.1" cy="150.37" r="1.05" fill="#8e8e8e" stroke="#4a4a4a" stroke-width="0.25"/>
<circle cx="115.5" cy="150.28" r="1.05" fill="#8e8e8e" stroke="#4a4a4a" stroke-width="0.25"/>
<circle cx="141.9" cy="150.18" r="1.05" fill="#8e8e8e" stroke="#4a4a4a" stroke-width="0.25"/>
<circle cx="168.3" cy="150.09" r="1.05" fill="#8e8e8e" stroke="#4a4a4a" stroke-width="0.25"/>
<circle cx="42.9" cy="150.82" r="1.2" fill="#2d52ea" stroke="#1a2a80" stroke-width="0.2"/>
<circle cx="69.3" cy="150.72" r="1.2" fill="#2d52ea" stroke="#1a2a80" stroke-width="0.2"/>
<circle cx="95.7" cy="150.63" r="1.2" fill="#2d52ea" stroke="#1a2a80" stroke-width="0.2"/>
<circle cx="122.1" cy="150.54" r="1.2" fill="#2d52ea" stroke="#1a2a80" stroke-width="0.2"/>
<circle cx="148.5" cy="150.45" r="1.2" fill="#2d52ea" stroke="#1a2a80" stroke-width="0.2"/>
<circle cx="174.9" cy="150.35" r="1.2" fill="#2d52ea" stroke="#1a2a80" stroke-width="0.2"/>
<circle cx="34.1" cy="150.85" r="1.2" fill="#2d52ea" stroke="#1a2a80" stroke-width="0.2"/>
<circle cx="60.5" cy="150.75" r="1.2" fill="#2d52ea" stroke="#1a2a80" stroke-width="0.2"/>
<circle cx="86.9" cy="150.66" r="1.2" fill="#2d52ea" stroke="#1a2a80" stroke-width="0.2"/>
<circle cx="113.3" cy="150.57" r="1.2" fill="#2d52ea" stroke="#1a2a80" stroke-width="0.2"/>
<circle cx="139.7" cy="150.48" r="1.2" fill="#2d52ea" stroke="#1a2a80" stroke-width="0.2"/>
<circle cx="166.1" cy="150.38" r="1.2" fill="#2d52ea" stroke="#1a2a80" stroke-width="0.2"/>
<circle cx="172.7" cy="150.65" r="1.05" fill="#8e8e8e" stroke="#4a4a4a" stroke-width="0.25"/>
<circle cx="168.3" cy="150.66" r="1.05" fill="#8e8e8e" stroke="#4a4a4a" stroke-width="0.25"/>
<circle cx="119.9" cy="150.83" r="1.05" fill="#8e8e8e" stroke="#4a4a4a" stroke-width="0.25"/>
<circle cx="115.5" cy="150.85" r="1.05" fill="#8e8e8e" stroke="#4a4a4a" stroke-width="0.25"/>
<circle cx="93.5" cy="150.92" r="1.05" fill="#8e8e8e" stroke="#4a4a4a" stroke-width="0.25"/>
<circle cx="40.7" cy="151.11" r="1.05" fill="#8e8e8e" stroke="#4a4a4a" stroke-width="0.25"/>
<circle cx="67.1" cy="151.02" r="1.05" fill="#8e8e8e" stroke="#4a4a4a" stroke-width="0.25"/>
<circle cx="89.1" cy="150.94" r="1.05" fill="#8e8e8e" stroke="#4a4a4a" stroke-width="0.25"/>
<circle cx="36.3" cy="151.12" r="1.05" fill="#8e8e8e" stroke="#4a4a4a" stroke-width="0.25"/>
<circle cx="62.7" cy="151.03" r="1.05" fill="#8e8e8e" stroke="#4a4a4a" stroke-width="0.25"/>
<circle cx="146.3" cy="150.74" r="1.05" fill="#8e8e8e" stroke="#4a4a4a" stroke-width="0.25"/>
<circle cx="141.9" cy="150.76" r="1.05" fill="#8e8e8e" stroke="#4a4a4a" stroke-width="0.25"/>
<circle cx="174.9" cy="150.93" r="1.05" fill="#8e8e8e" stroke="#4a4a4a" stroke-width="0.25"/>
<circle cx="178.07" cy="150.91" r="0.8" fill="#f4f4f4" stroke="#666" stroke-width="0.25"/>
<circle cx="86.9" cy="151.23" r="1.05" fill="#8e8e8e" stroke="#4a4a4a" stroke-width="0.25"/>
<circle cx="113.3" cy="151.14" r="1.05" fill="#8e8e8e" stroke="#4a4a4a" stroke-width="0.25"/>
<circle cx="126.5" cy="151.09" r="1.2" fill="#2d52ea" stroke="#1a2a80" stroke-width="0.2"/>
<circle cx="47.3" cy="151.37" r="1.2" fill="#2d52ea" stroke="#1a2a80" stroke-width="0.2"/>
<circle cx="60.5" cy="151.33" r="1.05" fill="#8e8e8e" stroke="#4a4a4a" stroke-width="0.25"/>
<circle cx="73.7" cy="151.28" r="1.2" fill="#2d52ea" stroke="#1a2a80" stroke-width="0.2"/>
<circle cx="82.5" cy="151.25" r="1.2" fill="#2d52ea" stroke="#1a2a80" stroke-width="0.2"/>
<circle cx="100.1" cy="151.19" r="1.2" fill="#2d52ea" stroke="#1a2a80" stroke-width="0.2"/>
<circle cx="108.9" cy="151.16" r="1.2" fill="#2d52ea" stroke="#1a2a80" stroke-width="0.2"/>
<circle cx="122.1" cy="151.11" r="1.05" fill="#8e8e8e" stroke="#4a4a4a" stroke-width="0.25"/>
<circle cx="34.1" cy="151.42" r="1.05" fill="#8e8e8e" stroke="#4a4a4a" stroke-width="0.25"/>
<circle cx="42.9" cy="151.39" r="1.05" fill="#8e8e8e" stroke="#4a4a4a" stroke-width="0.25"/>
<circle cx="56.1" cy="151.34" r="1.2" fill="#2d52ea" stroke="#1a2a80" stroke-width="0.2"/>
<circle cx="69.3" cy="151.29" r="1.05" fill="#8e8e8e" stroke="#4a4a4a" stroke-width="0.25"/>
<circle cx="95.7" cy="151.2" r="1.05" fill="#8e8e8e" stroke="#4a4a4a" stroke-width="0.25"/>
<circle cx="139.7" cy="151.05" r="1.05" fill="#8e8e8e" stroke="#4a4a4a" stroke-width="0.25"/>
<circle cx="152.9" cy="151" r="1.2" fill="#2d52ea" stroke="#1a2a80" stroke-width="0.2"/>
<circle cx="166.1" cy="150.96" r="1.05" fill="#8e8e8e" stroke="#4a4a4a" stroke-width="0.25"/>
<circle cx="30.93" cy="151.43" r="0.8" fill="#f4f4f4" stroke="#666" stroke-width="0.25"/>
<circle cx="135.3" cy="151.06" r="1.2" fill="#2d52ea" stroke="#1a2a80" stroke-width="0.2"/>
<circle cx="148.5" cy="151.02" r="1.05" fill="#8e8e8e" stroke="#4a4a4a" stroke-width="0.25"/>
<circle cx="161.7" cy="150.97" r="1.2" fill="#2d52ea" stroke="#1a2a80" stroke-width="0.2"/>
<circle cx="172.7" cy="151.22" r="1.05" fill="#8e8e8e" stroke="#4a4a4a" stroke-width="0.25"/>
<circle cx="89.1" cy="151.51" r="1.05" fill="#8e8e8e" stroke="#4a4a4a" stroke-width="0.25"/>
<circle cx="115.5" cy="151.42" r="1.05" fill="#8e8e8e" stroke="#4a4a4a" stroke-width="0.25"/>
<circle cx="119.9" cy="151.4" r="1.05" fill="#8e8e8e" stroke="#4a4a4a" stroke-width="0.25"/>
<circle cx="133.1" cy="151.36" r="1.05" fill="#8e8e8e" stroke="#4a4a4a" stroke-width="0.25"/>
<circle cx="40.7" cy="151.68" r="1.05" fill="#8e8e8e" stroke="#4a4a4a" stroke-width="0.25"/>
<circle cx="53.9" cy="151.63" r="1.05" fill="#8e8e8e" stroke="#4a4a4a" stroke-width="0.25"/>
<circle cx="62.7" cy="151.6" r="1.05" fill="#8e8e8e" stroke="#4a4a4a" stroke-width="0.25"/>
<circle cx="67.1" cy="151.59" r="1.05" fill="#8e8e8e" stroke="#4a4a4a" stroke-width="0.25"/>
<circle cx="80.3" cy="151.54" r="1.05" fill="#8e8e8e" stroke="#4a4a4a" stroke-width="0.25"/>
<circle cx="93.5" cy="151.5" r="1.05" fill="#8e8e8e" stroke="#4a4a4a" stroke-width="0.25"/>
<circle cx="106.7" cy="151.45" r="1.05" fill="#8e8e8e" stroke="#4a4a4a" stroke-width="0.25"/>
<circle cx="128.7" cy="151.37" r="1.05" fill="#8e8e8e" stroke="#4a4a4a" stroke-width="0.25"/>
<circle cx="36.3" cy="151.7" r="1.05" fill="#8e8e8e" stroke="#4a4a4a" stroke-width="0.25"/>
<circle cx="49.5" cy="151.65" r="1.05" fill="#8e8e8e" stroke="#4a4a4a" stroke-width="0.25"/>
<circle cx="75.9" cy="151.56" r="1.05" fill="#8e8e8e" stroke="#4a4a4a" stroke-width="0.25"/>
<circle cx="102.3" cy="151.47" r="1.05" fill="#8e8e8e" stroke="#4a4a4a" stroke-width="0.25"/>
<circle cx="141.9" cy="151.33" r="1.05" fill="#8e8e8e" stroke="#4a4a4a" stroke-width="0.25"/>
<circle cx="146.3" cy="151.31" r="1.05" fill="#8e8e8e" stroke="#4a4a4a" stroke-width="0.25"/>
<circle cx="159.5" cy="151.27" r="1.05" fill="#8e8e8e" stroke="#4a4a4a" stroke-width="0.25"/>
<circle cx="168.3" cy="151.23" r="1.05" fill="#8e8e8e" stroke="#4a4a4a" stroke-width="0.25"/>
<circle cx="155.1" cy="151.28" r="1.05" fill="#8e8e8e" stroke="#4a4a4a" stroke-width="0.25"/>
<circle cx="174.29" cy="151.42" r="0.8" fill="#f4f4f4" stroke="#666" stroke-width="0.25"/>
<circle cx="34.72" cy="151.91" r="0.8" fill="#f4f4f4" stroke="#666" stroke-width="0.25"/>
<circle cx="86.9" cy="151.8" r="1.2" fill="#2d52ea" stroke="#1a2a80" stroke-width="0.2"/>
<circle cx="113.3" cy="151.71" r="1.2" fill="#2d52ea" stroke="#1a2a80" stroke-width="0.2"/>
<circle cx="122.1" cy="151.68" r="1.2" fill="#2d52ea" stroke="#1a2a80" stroke-width="0.2"/>
<circle cx="126.5" cy="151.67" r="1.05" fill="#8e8e8e" stroke="#4a4a4a" stroke-width="0.25"/>
<circle cx="135.3" cy="151.64" r="1.05" fill="#8e8e8e" stroke="#4a4a4a" stroke-width="0.25"/>
<circle cx="42.9" cy="151.96" r="1.2" fill="#2d52ea" stroke="#1a2a80" stroke-width="0.2"/>
<circle cx="47.3" cy="151.94" r="1.05" fill="#8e8e8e" stroke="#4a4a4a" stroke-width="0.25"/>
<circle cx="56.1" cy="151.91" r="1.05" fill="#8e8e8e" stroke="#4a4a4a" stroke-width="0.25"/>
<circle cx="60.5" cy="151.9" r="1.2" fill="#2d52ea" stroke="#1a2a80" stroke-width="0.2"/>
<circle cx="69.3" cy="151.87" r="1.2" fill="#2d52ea" stroke="#1a2a80" stroke-width="0.2"/>
<circle cx="73.7" cy="151.85" r="1.05" fill="#8e8e8e" stroke="#4a4a4a" stroke-width="0.25"/>
<circle cx="82.5" cy="151.82" r="1.05" fill="#8e8e8e" stroke="#4a4a4a" stroke-width="0.25"/>
<circle cx="95.7" cy="151.77" r="1.2" fill="#2d52ea" stroke="#1a2a80" stroke-width="0.2"/>
<circle cx="100.1" cy="151.76" r="1.05" fill="#8e8e8e" stroke="#4a4a4a" stroke-width="0.25"/>
<circle cx="108.9" cy="151.73" r="1.05" fill="#8e8e8e" stroke="#4a4a4a" stroke-width="0.25"/>
<circle cx="139.7" cy="151.62" r="1.2" fill="#2d52ea" stroke="#1a2a80" stroke-width="0.2"/>
<circle cx="148.5" cy="151.59" r="1.2" fill="#2d52ea" stroke="#1a2a80" stroke-width="0.2"/>
<circle cx="152.9" cy="151.57" r="1.05" fill="#8e8e8e" stroke="#4a4a4a" stroke-width="0.25"/>
<circle cx="161.7" cy="151.54" r="1.05" fill="#8e8e8e" stroke="#4a4a4a" stroke-width="0.25"/>
<circle cx="166.1" cy="151.53" r="1.2" fill="#2d52ea" stroke="#1a2a80" stroke-width="0.2"/>
<circle cx="53.91" cy="152.21" r="1.05" fill="#8e8e8e" stroke="#4a4a4a" stroke-width="0.25"/>
<circle cx="80.31" cy="152.11" r="1.05" fill="#8e8e8e" stroke="#4a4a4a" stroke-width="0.25"/>
<circle cx="106.7" cy="152.02" r="1.05" fill="#8e8e8e" stroke="#4a4a4a" stroke-width="0.25"/>
<circle cx="128.7" cy="151.94" r="1.05" fill="#8e8e8e" stroke="#4a4a4a" stroke-width="0.25"/>
<circle cx="133.1" cy="151.93" r="1.05" fill="#8e8e8e" stroke="#4a4a4a" stroke-width="0.25"/>
<circle cx="49.51" cy="152.22" r="1.05" fill="#8e8e8e" stroke="#4a4a4a" stroke-width="0.25"/>
<circle cx="75.91" cy="152.13" r="1.05" fill="#8e8e8e" stroke="#4a4a4a" stroke-width="0.25"/>
<circle cx="102.31" cy="152.04" r="1.05" fill="#8e8e8e" stroke="#4a4a4a" stroke-width="0.25"/>
<circle cx="155.1" cy="151.85" r="1.05" fill="#8e8e8e" stroke="#4a4a4a" stroke-width="0.25"/>
<circle cx="159.5" cy="151.84" r="1.05" fill="#8e8e8e" stroke="#4a4a4a" stroke-width="0.25"/>
<circle cx="55.49" cy="152.41" r="0.8" fill="#f4f4f4" stroke="#666" stroke-width="0.25"/>
<circle cx="81.89" cy="152.31" r="0.8" fill="#f4f4f4" stroke="#666" stroke-width="0.25"/>
<circle cx="108.29" cy="152.22" r="0.8" fill="#f4f4f4" stroke="#666" stroke-width="0.25"/>
<circle cx="127.12" cy="152.16" r="0.8" fill="#f4f4f4" stroke="#666" stroke-width="0.25"/>
<circle cx="134.69" cy="152.13" r="0.8" fill="#f4f4f4" stroke="#666" stroke-width="0.25"/>
<circle cx="47.92" cy="152.43" r="0.8" fill="#f4f4f4" stroke="#666" stroke-width="0.25"/>
<circle cx="74.32" cy="152.34" r="0.8" fill="#f4f4f4" stroke="#666" stroke-width="0.25"/>
<circle cx="100.72" cy="152.25" r="0.8" fill="#f4f4f4" stroke="#666" stroke-width="0.25"/>
<circle cx="153.52" cy="152.06" r="0.8" fill="#f4f4f4" stroke="#666" stroke-width="0.25"/>
<circle cx="161.09" cy="152.04" r="0.8" fill="#f4f4f4" stroke="#666" stroke-width="0.25"/>
<path d="M160.98,166.47L158.58,166.95M160.98,166.47L158.57,166.04M160.98,166.47L165.78,166.42M158.58,166.95L153.78,167M158.58,166.95L160.99,167.38M153.78,167L151.38,166.57M153.78,167L151.39,167.48M151.38,166.57L153.77,166.09M151.38,166.57L146.58,166.62M153.77,166.09L158.57,166.04M168.18,166.85L165.79,167.33M168.18,166.85L165.78,166.42M168.18,166.85L172.98,166.8M165.79,167.33L160.99,167.38M165.79,167.33L168.19,167.76M175.39,167.23L172.99,167.71M175.39,167.23L172.98,166.8M172.99,167.71L168.19,167.76M172.99,167.71L175.4,168.15M168.19,167.76L165.8,168.25M151.39,167.48L146.59,167.53M146.59,167.53L144.18,167.1M146.59,167.53L144.19,168.02M144.18,167.1L146.58,166.62M144.18,167.1L139.38,167.15M175.4,168.15L173,168.63M173,168.63L168.2,168.68M173,168.63L175.41,169.06M168.2,168.68L165.8,168.25M168.2,168.68L165.81,169.16M132.18,166.77L129.78,167.25M132.18,166.77L129.78,166.34M132.18,166.77L136.98,166.72M129.78,167.25L124.98,167.3M129.78,167.25L132.19,167.68M124.98,167.3L122.58,166.87M124.98,167.3L122.59,167.78M122.58,166.87L124.98,166.39M122.58,166.87L117.78,166.92M124.98,166.39L129.78,166.34M139.38,167.15L136.99,167.63M139.38,167.15L136.98,166.72M136.99,167.63L132.19,167.68M136.99,167.63L139.39,168.07M144.19,168.02L139.39,168.07M144.19,168.02L146.6,168.45M139.39,168.07L137,168.55M175.41,169.06L173.01,169.54M173.01,169.54L168.21,169.59M168.21,169.59L165.81,169.16M168.21,169.59L165.82,170.08M165.81,169.16L161.01,169.21M122.59,167.78L117.79,167.84M117.79,167.84L115.39,167.4M117.79,167.84L115.4,168.32M115.39,167.4L117.78,166.92M115.39,167.4L110.59,167.45M146.6,168.45L144.2,168.93M144.2,168.93L139.4,168.98M144.2,168.93L146.61,169.36M139.4,168.98L137,168.55M139.4,168.98L137.01,169.46M165.82,170.08L161.02,170.13M161.02,170.13L158.61,169.69M161.02,170.13L158.62,170.61M158.61,169.69L161.01,169.21M158.61,169.69L153.81,169.74M103.38,167.07L100.99,167.55M103.38,167.07L100.98,166.64M103.38,167.07L108.18,167.02M100.99,167.55L96.19,167.6M100.99,167.55L103.39,167.99M96.19,167.6L93.78,167.17M96.19,167.6L93.79,168.09M93.78,167.17L96.18,166.69M93.78,167.17L88.98,167.22M96.18,166.69L100.98,166.64M110.59,167.45L108.19,167.94M110.59,167.45L108.18,167.02M108.19,167.94L103.39,167.99M108.19,167.94L110.6,168.37M115.4,168.32L110.6,168.37M115.4,168.32L117.8,168.75M110.6,168.37L108.2,168.85M146.61,169.36L144.21,169.84M146.61,169.36L151.41,169.31M144.21,169.84L139.41,169.9M144.21,169.84L146.62,170.28M139.41,169.9L137.01,169.46M139.41,169.9L137.02,170.38M137.01,169.46L132.21,169.51M153.81,169.74L151.42,170.23M153.81,169.74L151.41,169.31M151.42,170.23L146.62,170.28M151.42,170.23L153.82,170.66M158.62,170.61L153.82,170.66M93.79,168.09L88.99,168.14M88.99,168.14L86.59,167.7M88.99,168.14L86.6,168.62M86.59,167.7L88.98,167.22M86.59,167.7L81.79,167.76M117.8,168.75L115.4,169.23M115.4,169.23L110.6,169.28M115.4,169.23L117.81,169.66M110.6,169.28L108.2,168.85M110.6,169.28L108.21,169.76M137.02,170.38L132.22,170.43M132.22,170.43L129.81,170M132.22,170.43L129.82,170.91M129.81,170L132.21,169.51M129.81,170L125.01,170.05M74.58,167.37L72.19,167.86M74.58,167.37L72.18,166.94M74.58,167.37L79.38,167.32M72.19,167.86L67.39,167.91M72.19,167.86L74.59,168.29M67.39,167.91L64.98,167.47M67.39,167.91L64.99,168.39M64.98,167.47L67.38,166.99M64.98,167.47L60.18,167.52M67.38,166.99L72.18,166.94M81.79,167.76L79.39,168.24M81.79,167.76L79.38,167.32M79.39,168.24L74.59,168.29M79.39,168.24L81.8,168.67M86.6,168.62L81.8,168.67M86.6,168.62L89,169.05M81.8,168.67L79.4,169.15M117.81,169.66L115.41,170.15M117.81,169.66L122.61,169.61M115.41,170.15L110.61,170.2M115.41,170.15L117.82,170.58M110.61,170.2L108.21,169.76M110.61,170.2L108.22,170.68M108.21,169.76L103.41,169.82M125.01,170.05L122.62,170.53M125.01,170.05L122.61,169.61M122.62,170.53L117.82,170.58M122.62,170.53L125.02,170.96M129.82,170.91L125.02,170.96M64.99,168.39L60.19,168.44M60.19,168.44L57.79,168.01M60.19,168.44L57.8,168.92M57.79,168.01L60.18,167.52M57.79,168.01L52.99,168.06M89,169.05L86.61,169.53M86.61,169.53L81.81,169.58M86.61,169.53L89.01,169.97M81.81,169.58L79.4,169.15M81.81,169.58L79.41,170.07M108.22,170.68L103.42,170.73M103.42,170.73L101.02,170.3M103.42,170.73L101.02,171.21M101.02,170.3L103.41,169.82M101.02,170.3L96.22,170.35M57.8,168.92L53,168.97M57.8,168.92L60.2,169.35M53,168.97L50.59,168.54M53,168.97L50.6,169.45M50.59,168.54L52.99,168.06M89.01,169.97L86.62,170.45M89.01,169.97L93.81,169.92M86.62,170.45L81.82,170.5M86.62,170.45L89.02,170.88M81.82,170.5L79.41,170.07M81.82,170.5L79.42,170.98M79.41,170.07L74.61,170.12M96.22,170.35L93.82,170.83M96.22,170.35L93.81,169.92M93.82,170.83L89.02,170.88M93.82,170.83L96.22,171.26M101.02,171.21L96.22,171.26M60.2,169.35L57.81,169.84M57.81,169.84L53.01,169.89M57.81,169.84L60.21,170.27M53.01,169.89L50.6,169.45M53.01,169.89L50.61,170.37M79.42,170.98L74.62,171.03M74.62,171.03L72.22,170.6M74.62,171.03L72.23,171.51M72.22,170.6L74.61,170.12M72.22,170.6L67.42,170.65M60.21,170.27L57.82,170.75M60.21,170.27L65.01,170.22M57.82,170.75L53.02,170.8M57.82,170.75L60.22,171.18M53.02,170.8L50.61,170.37M67.42,170.65L65.02,171.13M67.42,170.65L65.01,170.22M65.02,171.13L60.22,171.18M65.02,171.13L67.43,171.56M72.23,171.51L67.43,171.56M153.77,166.09L152.04,165.78M158.57,166.04L160.3,165.69M175.39,167.23L178.84,167.2M172.98,166.8L174.71,166.45M124.98,166.39L123.24,166.08M129.78,166.34L131.5,165.99M175.41,169.06L178.86,169.02M173.01,169.54L174.74,169.85M96.18,166.69L94.45,166.38M100.98,166.64L102.7,166.29M158.62,170.61L160.35,170.92M153.82,170.66L152.1,171.01M67.38,166.99L65.65,166.68M72.18,166.94L73.9,166.59M129.82,170.91L131.55,171.22M125.02,170.96L123.3,171.31M50.59,168.54L47.14,168.58M52.99,168.06L51.26,167.75M101.02,171.21L102.76,171.52M96.22,171.26L94.5,171.61M53.02,170.8L51.29,171.15M50.61,170.37L47.16,170.4M72.23,171.51L73.96,171.82M67.43,171.56L65.7,171.91" stroke="#8a8a8a" stroke-width="0.7" fill="none"/>
<circle cx="123.24" cy="166.08" r="0.8" fill="#f4f4f4" stroke="#666" stroke-width="0.25"/>
<circle cx="131.5" cy="165.99" r="0.8" fill="#f4f4f4" stroke="#666" stroke-width="0.25"/>
<circle cx="65.65" cy="166.68" r="0.8" fill="#f4f4f4" stroke="#666" stroke-width="0.25"/>
<circle cx="73.9" cy="166.59" r="0.8" fill="#f4f4f4" stroke="#666" stroke-width="0.25"/>
<circle cx="94.45" cy="166.38" r="0.8" fill="#f4f4f4" stroke="#666" stroke-width="0.25"/>
<circle cx="102.7" cy="166.29" r="0.8" fill="#f4f4f4" stroke="#666" stroke-width="0.25"/>
<circle cx="152.04" cy="165.78" r="0.8" fill="#f4f4f4" stroke="#666" stroke-width="0.25"/>
<circle cx="160.3" cy="165.69" r="0.8" fill="#f4f4f4" stroke="#666" stroke-width="0.25"/>
<circle cx="124.98" cy="166.39" r="1.05" fill="#8e8e8e" stroke="#4a4a4a" stroke-width="0.25"/>
<circle cx="129.78" cy="166.34" r="1.05" fill="#8e8e8e" stroke="#4a4a4a" stroke-width="0.25"/>
<circle cx="67.38" cy="166.99" r="1.05" fill="#8e8e8e" stroke="#4a4a4a" stroke-width="0.25"/>
<circle cx="72.18" cy="166.94" r="1.05" fill="#8e8e8e" stroke="#4a4a4a" stroke-width="0.25"/>
<circle cx="96.18" cy="166.69" r="1.05" fill="#8e8e8e" stroke="#4a4a4a" stroke-width="0.25"/>
<circle cx="100.98" cy="166.64" r="1.05" fill="#8e8e8e" stroke="#4a4a4a" stroke-width="0.25"/>
<circle cx="153.77" cy="166.09" r="1.05" fill="#8e8e8e" stroke="#4a4a4a" stroke-width="0.25"/>
<circle cx="158.57" cy="166.04" r="1.05" fill="#8e8e8e" stroke="#4a4a4a" stroke-width="0.25"/>
<circle cx="132.18" cy="166.77" r="1.05" fill="#8e8e8e" stroke="#4a4a4a" stroke-width="0.25"/>
<circle cx="136.98" cy="166.72" r="1.2" fill="#2d52ea" stroke="#1a2a80" stroke-width="0.2"/>
<circle cx="146.58" cy="166.62" r="1.2" fill="#2d52ea" stroke="#1a2a80" stroke-width="0.2"/>
<circle cx="151.38" cy="166.57" r="1.05" fill="#8e8e8e" stroke="#4a4a4a" stroke-width="0.25"/>
<circle cx="60.18" cy="167.52" r="1.2" fill="#2d52ea" stroke="#1a2a80" stroke-width="0.2"/>
<circle cx="64.98" cy="167.47" r="1.05" fill="#8e8e8e" stroke="#4a4a4a" stroke-width="0.25"/>
<circle cx="74.58" cy="167.37" r="1.05" fill="#8e8e8e" stroke="#4a4a4a" stroke-width="0.25"/>
<circle cx="79.38" cy="167.32" r="1.2" fill="#2d52ea" stroke="#1a2a80" stroke-width="0.2"/>
<circle cx="88.98" cy="167.22" r="1.2" fill="#2d52ea" stroke="#1a2a80" stroke-width="0.2"/>
<circle cx="93.78" cy="167.17" r="1.05" fill="#8e8e8e" stroke="#4a4a4a" stroke-width="0.25"/>
<circle cx="103.38" cy="167.07" r="1.05" fill="#8e8e8e" stroke="#4a4a4a" stroke-width="0.25"/>
<circle cx="108.18" cy="167.02" r="1.2" fill="#2d52ea" stroke="#1a2a80" stroke-width="0.2"/>
<circle cx="117.78" cy="166.92" r="1.2" fill="#2d52ea" stroke="#1a2a80" stroke-width="0.2"/>
<circle cx="122.58" cy="166.87" r="1.05" fill="#8e8e8e" stroke="#4a4a4a" stroke-width="0.25"/>
<circle cx="160.98" cy="166.47" r="1.05" fill="#8e8e8e" stroke="#4a4a4a" stroke-width="0.25"/>
<circle cx="165.78" cy="166.42" r="1.2" fill="#2d52ea" stroke="#1a2a80" stroke-width="0.2"/>
<circle cx="51.26" cy="167.75" r="0.8" fill="#f4f4f4" stroke="#666" stroke-width="0.25"/>
<circle cx="174.71" cy="166.45" r="0.8" fill="#f4f4f4" stroke="#666" stroke-width="0.25"/>
<circle cx="129.78" cy="167.25" r="1.05" fill="#8e8e8e" stroke="#4a4a4a" stroke-width="0.25"/>
<circle cx="139.38" cy="167.15" r="1.05" fill="#8e8e8e" stroke="#4a4a4a" stroke-width="0.25"/>
<circle cx="144.18" cy="167.1" r="1.05" fill="#8e8e8e" stroke="#4a4a4a" stroke-width="0.25"/>
<circle cx="153.78" cy="167" r="1.05" fill="#8e8e8e" stroke="#4a4a4a" stroke-width="0.25"/>
<circle cx="57.79" cy="168.01" r="1.05" fill="#8e8e8e" stroke="#4a4a4a" stroke-width="0.25"/>
<circle cx="67.39" cy="167.91" r="1.05" fill="#8e8e8e" stroke="#4a4a4a" stroke-width="0.25"/>
<circle cx="72.19" cy="167.86" r="1.05" fill="#8e8e8e" stroke="#4a4a4a" stroke-width="0.25"/>
<circle cx="86.59" cy="167.7" r="1.05" fill="#8e8e8e" stroke="#4a4a4a" stroke-width="0.25"/>
<circle cx="96.19" cy="167.6" r="1.05" fill="#8e8e8e" stroke="#4a4a4a" stroke-width="0.25"/>
<circle cx="100.99" cy="167.55" r="1.05" fill="#8e8e8e" stroke="#4a4a4a" stroke-width="0.25"/>
<circle cx="52.99" cy="168.06" r="1.05" fill="#8e8e8e" stroke="#4a4a4a" stroke-width="0.25"/>
<circle cx="81.79" cy="167.76" r="1.05" fill="#8e8e8e" stroke="#4a4a4a" stroke-width="0.25"/>
<circle cx="110.59" cy="167.45" r="1.05" fill="#8e8e8e" stroke="#4a4a4a" stroke-width="0.25"/>
<circle cx="115.39" cy="167.4" r="1.05" fill="#8e8e8e" stroke="#4a4a4a" stroke-width="0.25"/>
<circle cx="124.98" cy="167.3" r="1.05" fill="#8e8e8e" stroke="#4a4a4a" stroke-width="0.25"/>
<circle cx="158.58" cy="166.95" r="1.05" fill="#8e8e8e" stroke="#4a4a4a" stroke-width="0.25"/>
<circle cx="168.18" cy="166.85" r="1.05" fill="#8e8e8e" stroke="#4a4a4a" stroke-width="0.25"/>
<circle cx="172.98" cy="166.8" r="1.05" fill="#8e8e8e" stroke="#4a4a4a" stroke-width="0.25"/>
<circle cx="136.99" cy="167.63" r="1.05" fill="#8e8e8e" stroke="#4a4a4a" stroke-width="0.25"/>
<circle cx="146.59" cy="167.53" r="1.05" fill="#8e8e8e" stroke="#4a4a4a" stroke-width="0.25"/>
<circle cx="151.39" cy="167.48" r="1.2" fill="#2d52ea" stroke="#1a2a80" stroke-width="0.2"/>
<circle cx="132.19" cy="167.68" r="1.2" fill="#2d52ea" stroke="#1a2a80" stroke-width="0.2"/>
<circle cx="64.99" cy="168.39" r="1.2" fill="#2d52ea" stroke="#1a2a80" stroke-width="0.2"/>
<circle cx="93.79" cy="168.09" r="1.2" fill="#2d52ea" stroke="#1a2a80" stroke-width="0.2"/>
<circle cx="47.14" cy="168.58" r="0.8" fill="#f4f4f4" stroke="#666" stroke-width="0.25"/>
<circle cx="50.59" cy="168.54" r="1.05" fill="#8e8e8e" stroke="#4a4a4a" stroke-width="0.25"/>
<circle cx="60.19" cy="168.44" r="1.05" fill="#8e8e8e" stroke="#4a4a4a" stroke-width="0.25"/>
<circle cx="74.59" cy="168.29" r="1.2" fill="#2d52ea" stroke="#1a2a80" stroke-width="0.2"/>
<circle cx="79.39" cy="168.24" r="1.05" fill="#8e8e8e" stroke="#4a4a4a" stroke-width="0.25"/>
<circle cx="88.99" cy="168.14" r="1.05" fill="#8e8e8e" stroke="#4a4a4a" stroke-width="0.25"/>
<circle cx="103.39" cy="167.99" r="1.2" fill="#2d52ea" stroke="#1a2a80" stroke-width="0.2"/>
<circle cx="108.19" cy="167.94" r="1.05" fill="#8e8e8e" stroke="#4a4a4a" stroke-width="0.25"/>
<circle cx="117.79" cy="167.84" r="1.05" fill="#8e8e8e" stroke="#4a4a4a" stroke-width="0.25"/>
<circle cx="122.59" cy="167.78" r="1.2" fill="#2d52ea" stroke="#1a2a80" stroke-width="0.2"/>
<circle cx="165.79" cy="167.33" r="1.05" fill="#8e8e8e" stroke="#4a4a4a" stroke-width="0.25"/>
<circle cx="175.39" cy="167.23" r="1.05" fill="#8e8e8e" stroke="#4a4a4a" stroke-width="0.25"/>
<circle cx="178.84" cy="167.2" r="0.8" fill="#f4f4f4" stroke="#666" stroke-width="0.25"/>
<circle cx="160.99" cy="167.38" r="1.2" fill="#2d52ea" stroke="#1a2a80" stroke-width="0.2"/>
<circle cx="57.8" cy="168.92" r="1.05" fill="#8e8e8e" stroke="#4a4a4a" stroke-width="0.25"/>
<circle cx="86.6" cy="168.62" r="1.05" fill="#8e8e8e" stroke="#4a4a4a" stroke-width="0.25"/>
<circle cx="115.4" cy="168.32" r="1.05" fill="#8e8e8e" stroke="#4a4a4a" stroke-width="0.25"/>
<circle cx="144.19" cy="168.02" r="1.05" fill="#8e8e8e" stroke="#4a4a4a" stroke-width="0.25"/>
<circle cx="172.99" cy="167.71" r="1.05" fill="#8e8e8e" stroke="#4a4a4a" stroke-width="0.25"/>
<circle cx="53" cy="168.97" r="1.05" fill="#8e8e8e" stroke="#4a4a4a" stroke-width="0.25"/>
<circle cx="81.8" cy="168.67" r="1.05" fill="#8e8e8e" stroke="#4a4a4a" stroke-width="0.25"/>
<circle cx="110.6" cy="168.37" r="1.05" fill="#8e8e8e" stroke="#4a4a4a" stroke-width="0.25"/>
<circle cx="139.39" cy="168.07" r="1.05" fill="#8e8e8e" stroke="#4a4a4a" stroke-width="0.25"/>
<circle cx="168.19" cy="167.76" r="1.05" fill="#8e8e8e" stroke="#4a4a4a" stroke-width="0.25"/>
<circle cx="60.2" cy="169.35" r="1.2" fill="#2d52ea" stroke="#1a2a80" stroke-width="0.2"/>
<circle cx="89" cy="169.05" r="1.2" fill="#2d52ea" stroke="#1a2a80" stroke-width="0.2"/>
<circle cx="117.8" cy="168.75" r="1.2" fill="#2d52ea" stroke="#1a2a80" stroke-width="0.2"/>
<circle cx="146.6" cy="168.45" r="1.2" fill="#2d52ea" stroke="#1a2a80" stroke-width="0.2"/>
<circle cx="175.4" cy="168.15" r="1.2" fill="#2d52ea" stroke="#1a2a80" stroke-width="0.2"/>
<circle cx="50.6" cy="169.45" r="1.2" fill="#2d52ea" stroke="#1a2a80" stroke-width="0.2"/>
<circle cx="79.4" cy="169.15" r="1.2" fill="#2d52ea" stroke="#1a2a80" stroke-width="0.2"/>
<circle cx="108.2" cy="168.85" r="1.2" fill="#2d52ea" stroke="#1a2a80" stroke-width="0.2"/>
<circle cx="137" cy="168.55" r="1.2" fill="#2d52ea" stroke="#1a2a80" stroke-width="0.2"/>
<circle cx="165.8" cy="168.25" r="1.2" fill="#2d52ea" stroke="#1a2a80" stroke-width="0.2"/>
<circle cx="144.2" cy="168.93" r="1.05" fill="#8e8e8e" stroke="#4a4a4a" stroke-width="0.25"/>
<circle cx="173" cy="168.63" r="1.05" fill="#8e8e8e" stroke="#4a4a4a" stroke-width="0.25"/>
<circle cx="139.4" cy="168.98" r="1.05" fill="#8e8e8e" stroke="#4a4a4a" stroke-width="0.25"/>
<circle cx="168.2" cy="168.68" r="1.05" fill="#8e8e8e" stroke="#4a4a4a" stroke-width="0.25"/>
<circle cx="57.81" cy="169.84" r="1.05" fill="#8e8e8e" stroke="#4a4a4a" stroke-width="0.25"/>
<circle cx="86.61" cy="169.53" r="1.05" fill="#8e8e8e" stroke="#4a4a4a" stroke-width="0.25"/>
<circle cx="53.01" cy="169.89" r="1.05" fill="#8e8e8e" stroke="#4a4a4a" stroke-width="0.25"/>
<circle cx="81.81" cy="169.58" r="1.05" fill="#8e8e8e" stroke="#4a4a4a" stroke-width="0.25"/>
<circle cx="115.4" cy="169.23" r="1.05" fill="#8e8e8e" stroke="#4a4a4a" stroke-width="0.25"/>
<circle cx="110.6" cy="169.28" r="1.05" fill="#8e8e8e" stroke="#4a4a4a" stroke-width="0.25"/>
<circle cx="108.21" cy="169.76" r="1.05" fill="#8e8e8e" stroke="#4a4a4a" stroke-width="0.25"/>
<circle cx="132.21" cy="169.51" r="1.2" fill="#2d52ea" stroke="#1a2a80" stroke-width="0.2"/>
<circle cx="137.01" cy="169.46" r="1.05" fill="#8e8e8e" stroke="#4a4a4a" stroke-width="0.25"/>
<circle cx="146.61" cy="169.36" r="1.05" fill="#8e8e8e" stroke="#4a4a4a" stroke-width="0.25"/>
<circle cx="151.41" cy="169.31" r="1.2" fill="#2d52ea" stroke="#1a2a80" stroke-width="0.2"/>
<circle cx="175.41" cy="169.06" r="1.05" fill="#8e8e8e" stroke="#4a4a4a" stroke-width="0.25"/>
<circle cx="178.86" cy="169.02" r="0.8" fill="#f4f4f4" stroke="#666" stroke-width="0.25"/>
<circle cx="47.16" cy="170.4" r="0.8" fill="#f4f4f4" stroke="#666" stroke-width="0.25"/>
<circle cx="50.61" cy="170.37" r="1.05" fill="#8e8e8e" stroke="#4a4a4a" stroke-width="0.25"/>
<circle cx="103.41" cy="169.82" r="1.2" fill="#2d52ea" stroke="#1a2a80" stroke-width="0.2"/>
<circle cx="60.21" cy="170.27" r="1.05" fill="#8e8e8e" stroke="#4a4a4a" stroke-width="0.25"/>
<circle cx="65.01" cy="170.22" r="1.2" fill="#2d52ea" stroke="#1a2a80" stroke-width="0.2"/>
<circle cx="74.61" cy="170.12" r="1.2" fill="#2d52ea" stroke="#1a2a80" stroke-width="0.2"/>
<circle cx="79.41" cy="170.07" r="1.05" fill="#8e8e8e" stroke="#4a4a4a" stroke-width="0.25"/>
<circle cx="89.01" cy="169.97" r="1.05" fill="#8e8e8e" stroke="#4a4a4a" stroke-width="0.25"/>
<circle cx="93.81" cy="169.92" r="1.2" fill="#2d52ea" stroke="#1a2a80" stroke-width="0.2"/>
<circle cx="117.81" cy="169.66" r="1.05" fill="#8e8e8e" stroke="#4a4a4a" stroke-width="0.25"/>
<circle cx="122.61" cy="169.61" r="1.2" fill="#2d52ea" stroke="#1a2a80" stroke-width="0.2"/>
<circle cx="161.01" cy="169.21" r="1.2" fill="#2d52ea" stroke="#1a2a80" stroke-width="0.2"/>
<circle cx="165.81" cy="169.16" r="1.05" fill="#8e8e8e" stroke="#4a4a4a" stroke-width="0.25"/>
<circle cx="139.41" cy="169.9" r="1.05" fill="#8e8e8e" stroke="#4a4a4a" stroke-width="0.25"/>
<circle cx="144.21" cy="169.84" r="1.05" fill="#8e8e8e" stroke="#4a4a4a" stroke-width="0.25"/>
<circle cx="173.01" cy="169.54" r="1.05" fill="#8e8e8e" stroke="#4a4a4a" stroke-width="0.25"/>
<circle cx="110.61" cy="170.2" r="1.05" fill="#8e8e8e" stroke="#4a4a4a" stroke-width="0.25"/>
<circle cx="53.02" cy="170.8" r="1.05" fill="#8e8e8e" stroke="#4a4a4a" stroke-width="0.25"/>
<circle cx="57.82" cy="170.75" r="1.05" fill="#8e8e8e" stroke="#4a4a4a" stroke-width="0.25"/>
<circle cx="67.42" cy="170.65" r="1.05" fill="#8e8e8e" stroke="#4a4a4a" stroke-width="0.25"/>
<circle cx="72.22" cy="170.6" r="1.05" fill="#8e8e8e" stroke="#4a4a4a" stroke-width="0.25"/>
<circle cx="81.82" cy="170.5" r="1.05" fill="#8e8e8e" stroke="#4a4a4a" stroke-width="0.25"/>
<circle cx="86.62" cy="170.45" r="1.05" fill="#8e8e8e" stroke="#4a4a4a" stroke-width="0.25"/>
<circle cx="96.22" cy="170.35" r="1.05" fill="#8e8e8e" stroke="#4a4a4a" stroke-width="0.25"/>
<circle cx="101.02" cy="170.3" r="1.05" fill="#8e8e8e" stroke="#4a4a4a" stroke-width="0.25"/>
<circle cx="115.41" cy="170.15" r="1.05" fill="#8e8e8e" stroke="#4a4a4a" stroke-width="0.25"/>
<circle cx="125.01" cy="170.05" r="1.05" fill="#8e8e8e" stroke="#4a4a4a" stroke-width="0.25"/>
<circle cx="129.81" cy="170" r="1.05" fill="#8e8e8e" stroke="#4a4a4a" stroke-width="0.25"/>
<circle cx="153.81" cy="169.74" r="1.05" fill="#8e8e8e" stroke="#4a4a4a" stroke-width="0.25"/>
<circle cx="158.61" cy="169.69" r="1.05" fill="#8e8e8e" stroke="#4a4a4a" stroke-width="0.25"/>
<circle cx="168.21" cy="169.59" r="1.05" fill="#8e8e8e" stroke="#4a4a4a" stroke-width="0.25"/>
<circle cx="174.74" cy="169.85" r="0.8" fill="#f4f4f4" stroke="#666" stroke-width="0.25"/>
<circle cx="51.29" cy="171.15" r="0.8" fill="#f4f4f4" stroke="#666" stroke-width="0.25"/>
<circle cx="137.02" cy="170.38" r="1.2" fill="#2d52ea" stroke="#1a2a80" stroke-width="0.2"/>
<circle cx="146.62" cy="170.28" r="1.2" fill="#2d52ea" stroke="#1a2a80" stroke-width="0.2"/>
<circle cx="65.02" cy="171.13" r="1.05" fill="#8e8e8e" stroke="#4a4a4a" stroke-width="0.25"/>
<circle cx="74.62" cy="171.03" r="1.05" fill="#8e8e8e" stroke="#4a4a4a" stroke-width="0.25"/>
<circle cx="79.42" cy="170.98" r="1.2" fill="#2d52ea" stroke="#1a2a80" stroke-width="0.2"/>
<circle cx="93.82" cy="170.83" r="1.05" fill="#8e8e8e" stroke="#4a4a4a" stroke-width="0.25"/>
<circle cx="103.42" cy="170.73" r="1.05" fill="#8e8e8e" stroke="#4a4a4a" stroke-width="0.25"/>
<circle cx="108.22" cy="170.68" r="1.2" fill="#2d52ea" stroke="#1a2a80" stroke-width="0.2"/>
<circle cx="122.62" cy="170.53" r="1.05" fill="#8e8e8e" stroke="#4a4a4a" stroke-width="0.25"/>
<circle cx="132.22" cy="170.43" r="1.05" fill="#8e8e8e" stroke="#4a4a4a" stroke-width="0.25"/>
<circle cx="60.22" cy="171.18" r="1.2" fill="#2d52ea" stroke="#1a2a80" stroke-width="0.2"/>
<circle cx="89.02" cy="170.88" r="1.2" fill="#2d52ea" stroke="#1a2a80" stroke-width="0.2"/>
<circle cx="117.82" cy="170.58" r="1.2" fill="#2d52ea" stroke="#1a2a80" stroke-width="0.2"/>
<circle cx="151.42" cy="170.23" r="1.05" fill="#8e8e8e" stroke="#4a4a4a" stroke-width="0.25"/>
<circle cx="161.02" cy="170.13" r="1.05" fill="#8e8e8e" stroke="#4a4a4a" stroke-width="0.25"/>
<circle cx="165.82" cy="170.08" r="1.2" fill="#2d52ea" stroke="#1a2a80" stroke-width="0.2"/>
<circle cx="72.23" cy="171.51" r="1.05" fill="#8e8e8e" stroke="#4a4a4a" stroke-width="0.25"/>
<circle cx="101.02" cy="171.21" r="1.05" fill="#8e8e8e" stroke="#4a4a4a" stroke-width="0.25"/>
<circle cx="129.82" cy="170.91" r="1.05" fill="#8e8e8e" stroke="#4a4a4a" stroke-width="0.25"/>
<circle cx="67.43" cy="171.56" r="1.05" fill="#8e8e8e" stroke="#4a4a4a" stroke-width="0.25"/>
<circle cx="96.22" cy="171.26" r="1.05" fill="#8e8e8e" stroke="#4a4a4a" stroke-width="0.25"/>
<circle cx="125.02" cy="170.96" r="1.05" fill="#8e8e8e" stroke="#4a4a4a" stroke-width="0.25"/>
<circle cx="153.82" cy="170.66" r="1.05" fill="#8e8e8e" stroke="#4a4a4a" stroke-width="0.25"/>
<circle cx="158.62" cy="170.61" r="1.05" fill="#8e8e8e" stroke="#4a4a4a" stroke-width="0.25"/>
<circle cx="73.96" cy="171.82" r="0.8" fill="#f4f4f4" stroke="#666" stroke-width="0.25"/>
<circle cx="102.76" cy="171.52" r="0.8" fill="#f4f4f4" stroke="#666" stroke-width="0.25"/>
<circle cx="131.55" cy="171.22" r="0.8" fill="#f4f4f4" stroke="#666" stroke-width="0.25"/>
<circle cx="65.7" cy="171.91" r="0.8" fill="#f4f4f4" stroke="#666" stroke-width="0.25"/>
<circle cx="94.5" cy="171.61" r="0.8" fill="#f4f4f4" stroke="#666" stroke-width="0.25"/>
<circle cx="123.3" cy="171.31" r="0.8" fill="#f4f4f4" stroke="#666" stroke-width="0.25"/>
<circle cx="152.1" cy="171.01" r="0.8" fill="#f4f4f4" stroke="#666" stroke-width="0.25"/>
<circle cx="160.35" cy="170.92" r="0.8" fill="#f4f4f4" stroke="#666" stroke-width="0.25"/>
<path d="M159.95,183.01L157.46,183.78M159.95,183.01L157.44,182.31M159.95,183.01L164.95,182.93M157.46,183.78L152.46,183.86M157.46,183.78L159.97,184.48M152.46,183.86L149.95,183.16M152.46,183.86L149.97,184.64M149.95,183.16L152.44,182.39M149.95,183.16L144.95,183.24M152.44,182.39L157.44,182.31M167.46,183.62L164.97,184.4M167.46,183.62L164.95,182.93M167.46,183.62L172.46,183.55M164.97,184.4L159.97,184.48M164.97,184.4L167.48,185.1M174.97,184.24L172.48,185.02M174.97,184.24L172.46,183.55M172.48,185.02L167.48,185.1M172.48,185.02L174.99,185.71M167.48,185.1L165,185.87M149.97,184.64L144.97,184.71M144.97,184.71L142.46,184.02M144.97,184.71L142.49,185.49M142.46,184.02L144.95,183.24M142.46,184.02L137.46,184.1M174.99,185.71L172.51,186.49M172.51,186.49L167.51,186.57M172.51,186.49L175.02,187.19M167.51,186.57L165,185.87M167.51,186.57L165.02,187.34M129.95,183.48L127.47,184.25M129.95,183.48L127.44,182.78M129.95,183.48L134.95,183.4M127.47,184.25L122.47,184.33M127.47,184.25L129.98,184.95M122.47,184.33L119.95,183.63M122.47,184.33L119.98,185.11M119.95,183.63L122.44,182.86M119.95,183.63L114.95,183.71M122.44,182.86L127.44,182.78M137.46,184.1L134.98,184.87M137.46,184.1L134.95,183.4M134.98,184.87L129.98,184.95M134.98,184.87L137.49,185.57M142.49,185.49L137.49,185.57M142.49,185.49L145,186.19M137.49,185.57L135,186.34M175.02,187.19L172.53,187.96M172.53,187.96L167.53,188.04M167.53,188.04L165.02,187.34M167.53,188.04L165.04,188.82M165.02,187.34L160.02,187.42M119.98,185.11L114.98,185.19M114.98,185.19L112.47,184.49M114.98,185.19L112.49,185.96M112.47,184.49L114.95,183.71M112.47,184.49L107.47,184.57M145,186.19L142.51,186.96M142.51,186.96L137.51,187.04M142.51,186.96L145.02,187.66M137.51,187.04L135,186.34M137.51,187.04L135.02,187.81M165.04,188.82L160.04,188.89M160.04,188.89L157.53,188.2M160.04,188.89L157.55,189.67M157.53,188.2L160.02,187.42M157.53,188.2L152.53,188.28M99.96,183.95L97.47,184.72M99.96,183.95L97.45,183.25M99.96,183.95L104.96,183.87M97.47,184.72L92.47,184.8M97.47,184.72L99.98,185.42M92.47,184.8L89.96,184.11M92.47,184.8L89.98,185.58M89.96,184.11L92.45,183.33M89.96,184.11L84.96,184.18M92.45,183.33L97.45,183.25M107.47,184.57L104.98,185.34M107.47,184.57L104.96,183.87M104.98,185.34L99.98,185.42M104.98,185.34L107.49,186.04M112.49,185.96L107.49,186.04M112.49,185.96L115,186.66M107.49,186.04L105,186.81M145.02,187.66L142.53,188.43M145.02,187.66L150.02,187.58M142.53,188.43L137.53,188.51M142.53,188.43L145.04,189.13M137.53,188.51L135.02,187.81M137.53,188.51L135.05,189.29M135.02,187.81L130.02,187.89M152.53,188.28L150.04,189.05M152.53,188.28L150.02,187.58M150.04,189.05L145.04,189.13M150.04,189.05L152.55,189.75M157.55,189.67L152.55,189.75M89.98,185.58L84.98,185.66M84.98,185.66L82.47,184.96M84.98,185.66L82.49,186.43M82.47,184.96L84.96,184.18M82.47,184.96L77.47,185.04M115,186.66L112.51,187.43M112.51,187.43L107.51,187.51M112.51,187.43L115.02,188.13M107.51,187.51L105,186.81M107.51,187.51L105.03,188.29M135.05,189.29L130.05,189.37M130.05,189.37L127.53,188.67M130.05,189.37L127.56,190.14M127.53,188.67L130.02,187.89M127.53,188.67L122.53,188.75M82.49,186.43L77.49,186.51M82.49,186.43L85,187.13M77.49,186.51L74.98,185.81M77.49,186.51L75.01,187.29M74.98,185.81L77.47,185.04M115.02,188.13L112.54,188.9M115.02,188.13L120.02,188.05M112.54,188.9L107.54,188.98M112.54,188.9L115.05,189.6M107.54,188.98L105.03,188.29M107.54,188.98L105.05,189.76M105.03,188.29L100.03,188.36M122.53,188.75L120.05,189.52M122.53,188.75L120.02,188.05M120.05,189.52L115.05,189.6M120.05,189.52L122.56,190.22M127.56,190.14L122.56,190.22M85,187.13L82.52,187.9M82.52,187.9L77.52,187.98M82.52,187.9L85.03,188.6M77.52,187.98L75.01,187.29M77.52,187.98L75.03,188.76M105.05,189.76L100.05,189.84M100.05,189.84L97.54,189.14M100.05,189.84L97.56,190.61M97.54,189.14L100.03,188.36M97.54,189.14L92.54,189.22M85.03,188.6L82.54,189.38M85.03,188.6L90.03,188.52M82.54,189.38L77.54,189.45M82.54,189.38L85.05,190.07M77.54,189.45L75.03,188.76M92.54,189.22L90.05,189.99M92.54,189.22L90.03,188.52M90.05,189.99L85.05,190.07M90.05,189.99L92.56,190.69M97.56,190.61L92.56,190.69M152.44,182.39L150.63,181.89M157.44,182.31L159.23,181.75M174.97,184.24L178.57,184.19M172.46,183.55L174.25,182.99M122.44,182.86L120.63,182.36M127.44,182.78L129.23,182.22M175.02,187.19L178.62,187.13M172.53,187.96L174.34,188.46M92.45,183.33L90.64,182.83M97.45,183.25L99.24,182.69M157.55,189.67L159.36,190.17M152.55,189.75L150.76,190.31M74.98,185.81L71.38,185.87M77.47,185.04L75.66,184.54M127.56,190.14L129.37,190.64M122.56,190.22L120.77,190.78M77.54,189.45L75.75,190.01M75.03,188.76L71.43,188.81M97.56,190.61L99.37,191.11M92.56,190.69L90.77,191.25" stroke="#8a8a8a" stroke-width="0.7" fill="none"/>
<circle cx="90.64" cy="182.83" r="0.8" fill="#f4f4f4" stroke="#666" stroke-width="0.25"/>
<circle cx="99.24" cy="182.69" r="0.8" fill="#f4f4f4" stroke="#666" stroke-width="0.25"/>
<circle cx="120.63" cy="182.36" r="0.8" fill="#f4f4f4" stroke="#666" stroke-width="0.25"/>
<circle cx="129.23" cy="182.22" r="0.8" fill="#f4f4f4" stroke="#666" stroke-width="0.25"/>
<circle cx="150.63" cy="181.89" r="0.8" fill="#f4f4f4" stroke="#666" stroke-width="0.25"/>
<circle cx="159.23" cy="181.75" r="0.8" fill="#f4f4f4" stroke="#666" stroke-width="0.25"/>
<circle cx="92.45" cy="183.33" r="1.05" fill="#8e8e8e" stroke="#4a4a4a" stroke-width="0.25"/>
<circle cx="97.45" cy="183.25" r="1.05" fill="#8e8e8e" stroke="#4a4a4a" stroke-width="0.25"/>
<circle cx="122.44" cy="182.86" r="1.05" fill="#8e8e8e" stroke="#4a4a4a" stroke-width="0.25"/>
<circle cx="127.44" cy="182.78" r="1.05" fill="#8e8e8e" stroke="#4a4a4a" stroke-width="0.25"/>
<circle cx="152.44" cy="182.39" r="1.05" fill="#8e8e8e" stroke="#4a4a4a" stroke-width="0.25"/>
<circle cx="157.44" cy="182.31" r="1.05" fill="#8e8e8e" stroke="#4a4a4a" stroke-width="0.25"/>
<circle cx="84.96" cy="184.18" r="1.2" fill="#2d52ea" stroke="#1a2a80" stroke-width="0.2"/>
<circle cx="89.96" cy="184.11" r="1.05" fill="#8e8e8e" stroke="#4a4a4a" stroke-width="0.25"/>
<circle cx="99.96" cy="183.95" r="1.05" fill="#8e8e8e" stroke="#4a4a4a" stroke-width="0.25"/>
<circle cx="104.96" cy="183.87" r="1.2" fill="#2d52ea" stroke="#1a2a80" stroke-width="0.2"/>
<circle cx="114.95" cy="183.71" r="1.2" fill="#2d52ea" stroke="#1a2a80" stroke-width="0.2"/>
<circle cx="119.95" cy="183.63" r="1.05" fill="#8e8e8e" stroke="#4a4a4a" stroke-width="0.25"/>
<circle cx="129.95" cy="183.48" r="1.05" fill="#8e8e8e" stroke="#4a4a4a" stroke-width="0.25"/>
<circle cx="134.95" cy="183.4" r="1.2" fill="#2d52ea" stroke="#1a2a80" stroke-width="0.2"/>
<circle cx="159.95" cy="183.01" r="1.05" fill="#8e8e8e" stroke="#4a4a4a" stroke-width="0.25"/>
<circle cx="164.95" cy="182.93" r="1.2" fill="#2d52ea" stroke="#1a2a80" stroke-width="0.2"/>
<circle cx="144.95" cy="183.24" r="1.2" fill="#2d52ea" stroke="#1a2a80" stroke-width="0.2"/>
<circle cx="149.95" cy="183.16" r="1.05" fill="#8e8e8e" stroke="#4a4a4a" stroke-width="0.25"/>
<circle cx="174.25" cy="182.99" r="0.8" fill="#f4f4f4" stroke="#666" stroke-width="0.25"/>
<circle cx="75.66" cy="184.54" r="0.8" fill="#f4f4f4" stroke="#666" stroke-width="0.25"/>
<circle cx="172.46" cy="183.55" r="1.05" fill="#8e8e8e" stroke="#4a4a4a" stroke-width="0.25"/>
<circle cx="127.47" cy="184.25" r="1.05" fill="#8e8e8e" stroke="#4a4a4a" stroke-width="0.25"/>
<circle cx="157.46" cy="183.78" r="1.05" fill="#8e8e8e" stroke="#4a4a4a" stroke-width="0.25"/>
<circle cx="167.46" cy="183.62" r="1.05" fill="#8e8e8e" stroke="#4a4a4a" stroke-width="0.25"/>
<circle cx="82.47" cy="184.96" r="1.05" fill="#8e8e8e" stroke="#4a4a4a" stroke-width="0.25"/>
<circle cx="92.47" cy="184.8" r="1.05" fill="#8e8e8e" stroke="#4a4a4a" stroke-width="0.25"/>
<circle cx="97.47" cy="184.72" r="1.05" fill="#8e8e8e" stroke="#4a4a4a" stroke-width="0.25"/>
<circle cx="112.47" cy="184.49" r="1.05" fill="#8e8e8e" stroke="#4a4a4a" stroke-width="0.25"/>
<circle cx="122.47" cy="184.33" r="1.05" fill="#8e8e8e" stroke="#4a4a4a" stroke-width="0.25"/>
<circle cx="142.46" cy="184.02" r="1.05" fill="#8e8e8e" stroke="#4a4a4a" stroke-width="0.25"/>
<circle cx="77.47" cy="185.04" r="1.05" fill="#8e8e8e" stroke="#4a4a4a" stroke-width="0.25"/>
<circle cx="107.47" cy="184.57" r="1.05" fill="#8e8e8e" stroke="#4a4a4a" stroke-width="0.25"/>
<circle cx="137.46" cy="184.1" r="1.05" fill="#8e8e8e" stroke="#4a4a4a" stroke-width="0.25"/>
<circle cx="152.46" cy="183.86" r="1.05" fill="#8e8e8e" stroke="#4a4a4a" stroke-width="0.25"/>
<circle cx="164.97" cy="184.4" r="1.05" fill="#8e8e8e" stroke="#4a4a4a" stroke-width="0.25"/>
<circle cx="174.97" cy="184.24" r="1.05" fill="#8e8e8e" stroke="#4a4a4a" stroke-width="0.25"/>
<circle cx="178.57" cy="184.19" r="0.8" fill="#f4f4f4" stroke="#666" stroke-width="0.25"/>
<circle cx="71.38" cy="185.87" r="0.8" fill="#f4f4f4" stroke="#666" stroke-width="0.25"/>
<circle cx="74.98" cy="185.81" r="1.05" fill="#8e8e8e" stroke="#4a4a4a" stroke-width="0.25"/>
<circle cx="84.98" cy="185.66" r="1.05" fill="#8e8e8e" stroke="#4a4a4a" stroke-width="0.25"/>
<circle cx="89.98" cy="185.58" r="1.2" fill="#2d52ea" stroke="#1a2a80" stroke-width="0.2"/>
<circle cx="99.98" cy="185.42" r="1.2" fill="#2d52ea" stroke="#1a2a80" stroke-width="0.2"/>
<circle cx="104.98" cy="185.34" r="1.05" fill="#8e8e8e" stroke="#4a4a4a" stroke-width="0.25"/>
<circle cx="114.98" cy="185.19" r="1.05" fill="#8e8e8e" stroke="#4a4a4a" stroke-width="0.25"/>
<circle cx="119.98" cy="185.11" r="1.2" fill="#2d52ea" stroke="#1a2a80" stroke-width="0.2"/>
<circle cx="129.98" cy="184.95" r="1.2" fill="#2d52ea" stroke="#1a2a80" stroke-width="0.2"/>
<circle cx="134.98" cy="184.87" r="1.05" fill="#8e8e8e" stroke="#4a4a4a" stroke-width="0.25"/>
<circle cx="144.97" cy="184.71" r="1.05" fill="#8e8e8e" stroke="#4a4a4a" stroke-width="0.25"/>
<circle cx="159.97" cy="184.48" r="1.2" fill="#2d52ea" stroke="#1a2a80" stroke-width="0.2"/>
<circle cx="149.97" cy="184.64" r="1.2" fill="#2d52ea" stroke="#1a2a80" stroke-width="0.2"/>
<circle cx="82.49" cy="186.43" r="1.05" fill="#8e8e8e" stroke="#4a4a4a" stroke-width="0.25"/>
<circle cx="112.49" cy="185.96" r="1.05" fill="#8e8e8e" stroke="#4a4a4a" stroke-width="0.25"/>
<circle cx="142.49" cy="185.49" r="1.05" fill="#8e8e8e" stroke="#4a4a4a" stroke-width="0.25"/>
<circle cx="172.48" cy="185.02" r="1.05" fill="#8e8e8e" stroke="#4a4a4a" stroke-width="0.25"/>
<circle cx="77.49" cy="186.51" r="1.05" fill="#8e8e8e" stroke="#4a4a4a" stroke-width="0.25"/>
<circle cx="107.49" cy="186.04" r="1.05" fill="#8e8e8e" stroke="#4a4a4a" stroke-width="0.25"/>
<circle cx="137.49" cy="185.57" r="1.05" fill="#8e8e8e" stroke="#4a4a4a" stroke-width="0.25"/>
<circle cx="167.48" cy="185.1" r="1.05" fill="#8e8e8e" stroke="#4a4a4a" stroke-width="0.25"/>
<circle cx="85" cy="187.13" r="1.2" fill="#2d52ea" stroke="#1a2a80" stroke-width="0.2"/>
<circle cx="115" cy="186.66" r="1.2" fill="#2d52ea" stroke="#1a2a80" stroke-width="0.2"/>
<circle cx="145" cy="186.19" r="1.2" fill="#2d52ea" stroke="#1a2a80" stroke-width="0.2"/>
<circle cx="174.99" cy="185.71" r="1.2" fill="#2d52ea" stroke="#1a2a80" stroke-width="0.2"/>
<circle cx="75.01" cy="187.29" r="1.2" fill="#2d52ea" stroke="#1a2a80" stroke-width="0.2"/>
<circle cx="105" cy="186.81" r="1.2" fill="#2d52ea" stroke="#1a2a80" stroke-width="0.2"/>
<circle cx="135" cy="186.34" r="1.2" fill="#2d52ea" stroke="#1a2a80" stroke-width="0.2"/>
<circle cx="165" cy="185.87" r="1.2" fill="#2d52ea" stroke="#1a2a80" stroke-width="0.2"/>
<circle cx="172.51" cy="186.49" r="1.05" fill="#8e8e8e" stroke="#4a4a4a" stroke-width="0.25"/>
<circle cx="167.51" cy="186.57" r="1.05" fill="#8e8e8e" stroke="#4a4a4a" stroke-width="0.25"/>
<circle cx="82.52" cy="187.9" r="1.05" fill="#8e8e8e" stroke="#4a4a4a" stroke-width="0.25"/>
<circle cx="112.51" cy="187.43" r="1.05" fill="#8e8e8e" stroke="#4a4a4a" stroke-width="0.25"/>
<circle cx="142.51" cy="186.96" r="1.05" fill="#8e8e8e" stroke="#4a4a4a" stroke-width="0.25"/>
<circle cx="77.52" cy="187.98" r="1.05" fill="#8e8e8e" stroke="#4a4a4a" stroke-width="0.25"/>
<circle cx="107.51" cy="187.51" r="1.05" fill="#8e8e8e" stroke="#4a4a4a" stroke-width="0.25"/>
<circle cx="137.51" cy="187.04" r="1.05" fill="#8e8e8e" stroke="#4a4a4a" stroke-width="0.25"/>
<circle cx="175.02" cy="187.19" r="1.05" fill="#8e8e8e" stroke="#4a4a4a" stroke-width="0.25"/>
<circle cx="178.62" cy="187.13" r="0.8" fill="#f4f4f4" stroke="#666" stroke-width="0.25"/>
<circle cx="135.02" cy="187.81" r="1.05" fill="#8e8e8e" stroke="#4a4a4a" stroke-width="0.25"/>
<circle cx="165.02" cy="187.34" r="1.05" fill="#8e8e8e" stroke="#4a4a4a" stroke-width="0.25"/>
<circle cx="71.43" cy="188.81" r="0.8" fill="#f4f4f4" stroke="#666" stroke-width="0.25"/>
<circle cx="75.03" cy="188.76" r="1.05" fill="#8e8e8e" stroke="#4a4a4a" stroke-width="0.25"/>
<circle cx="85.03" cy="188.6" r="1.05" fill="#8e8e8e" stroke="#4a4a4a" stroke-width="0.25"/>
<circle cx="90.03" cy="188.52" r="1.2" fill="#2d52ea" stroke="#1a2a80" stroke-width="0.2"/>
<circle cx="100.03" cy="188.36" r="1.2" fill="#2d52ea" stroke="#1a2a80" stroke-width="0.2"/>
<circle cx="105.03" cy="188.29" r="1.05" fill="#8e8e8e" stroke="#4a4a4a" stroke-width="0.25"/>
<circle cx="115.02" cy="188.13" r="1.05" fill="#8e8e8e" stroke="#4a4a4a" stroke-width="0.25"/>
<circle cx="120.02" cy="188.05" r="1.2" fill="#2d52ea" stroke="#1a2a80" stroke-width="0.2"/>
<circle cx="130.02" cy="187.89" r="1.2" fill="#2d52ea" stroke="#1a2a80" stroke-width="0.2"/>
<circle cx="160.02" cy="187.42" r="1.2" fill="#2d52ea" stroke="#1a2a80" stroke-width="0.2"/>
<circle cx="150.02" cy="187.58" r="1.2" fill="#2d52ea" stroke="#1a2a80" stroke-width="0.2"/>
<circle cx="145.02" cy="187.66" r="1.05" fill="#8e8e8e" stroke="#4a4a4a" stroke-width="0.25"/>
<circle cx="172.53" cy="187.96" r="1.05" fill="#8e8e8e" stroke="#4a4a4a" stroke-width="0.25"/>
<circle cx="137.53" cy="188.51" r="1.05" fill="#8e8e8e" stroke="#4a4a4a" stroke-width="0.25"/>
<circle cx="167.53" cy="188.04" r="1.05" fill="#8e8e8e" stroke="#4a4a4a" stroke-width="0.25"/>
<circle cx="82.54" cy="189.38" r="1.05" fill="#8e8e8e" stroke="#4a4a4a" stroke-width="0.25"/>
<circle cx="97.54" cy="189.14" r="1.05" fill="#8e8e8e" stroke="#4a4a4a" stroke-width="0.25"/>
<circle cx="107.54" cy="188.98" r="1.05" fill="#8e8e8e" stroke="#4a4a4a" stroke-width="0.25"/>
<circle cx="112.54" cy="188.9" r="1.05" fill="#8e8e8e" stroke="#4a4a4a" stroke-width="0.25"/>
<circle cx="127.53" cy="188.67" r="1.05" fill="#8e8e8e" stroke="#4a4a4a" stroke-width="0.25"/>
<circle cx="157.53" cy="188.2" r="1.05" fill="#8e8e8e" stroke="#4a4a4a" stroke-width="0.25"/>
<circle cx="77.54" cy="189.45" r="1.05" fill="#8e8e8e" stroke="#4a4a4a" stroke-width="0.25"/>
<circle cx="92.54" cy="189.22" r="1.05" fill="#8e8e8e" stroke="#4a4a4a" stroke-width="0.25"/>
<circle cx="122.53" cy="188.75" r="1.05" fill="#8e8e8e" stroke="#4a4a4a" stroke-width="0.25"/>
<circle cx="142.53" cy="188.43" r="1.05" fill="#8e8e8e" stroke="#4a4a4a" stroke-width="0.25"/>
<circle cx="152.53" cy="188.28" r="1.05" fill="#8e8e8e" stroke="#4a4a4a" stroke-width="0.25"/>
<circle cx="174.34" cy="188.46" r="0.8" fill="#f4f4f4" stroke="#666" stroke-width="0.25"/>
<circle cx="75.75" cy="190.01" r="0.8" fill="#f4f4f4" stroke="#666" stroke-width="0.25"/>
<circle cx="85.05" cy="190.07" r="1.2" fill="#2d52ea" stroke="#1a2a80" stroke-width="0.2"/>
<circle cx="90.05" cy="189.99" r="1.05" fill="#8e8e8e" stroke="#4a4a4a" stroke-width="0.25"/>
<circle cx="100.05" cy="189.84" r="1.05" fill="#8e8e8e" stroke="#4a4a4a" stroke-width="0.25"/>
<circle cx="105.05" cy="189.76" r="1.2" fill="#2d52ea" stroke="#1a2a80" stroke-width="0.2"/>
<circle cx="115.05" cy="189.6" r="1.2" fill="#2d52ea" stroke="#1a2a80" stroke-width="0.2"/>
<circle cx="120.05" cy="189.52" r="1.05" fill="#8e8e8e" stroke="#4a4a4a" stroke-width="0.25"/>
<circle cx="130.05" cy="189.37" r="1.05" fill="#8e8e8e" stroke="#4a4a4a" stroke-width="0.25"/>
<circle cx="135.05" cy="189.29" r="1.2" fill="#2d52ea" stroke="#1a2a80" stroke-width="0.2"/>
<circle cx="150.04" cy="189.05" r="1.05" fill="#8e8e8e" stroke="#4a4a4a" stroke-width="0.25"/>
<circle cx="160.04" cy="188.89" r="1.05" fill="#8e8e8e" stroke="#4a4a4a" stroke-width="0.25"/>
<circle cx="165.04" cy="188.82" r="1.2" fill="#2d52ea" stroke="#1a2a80" stroke-width="0.2"/>
<circle cx="145.04" cy="189.13" r="1.2" fill="#2d52ea" stroke="#1a2a80" stroke-width="0.2"/>
<circle cx="97.56" cy="190.61" r="1.05" fill="#8e8e8e" stroke="#4a4a4a" stroke-width="0.25"/>
<circle cx="127.56" cy="190.14" r="1.05" fill="#8e8e8e" stroke="#4a4a4a" stroke-width="0.25"/>
<circle cx="157.55" cy="189.67" r="1.05" fill="#8e8e8e" stroke="#4a4a4a" stroke-width="0.25"/>
<circle cx="92.56" cy="190.69" r="1.05" fill="#8e8e8e" stroke="#4a4a4a" stroke-width="0.25"/>
<circle cx="122.56" cy="190.22" r="1.05" fill="#8e8e8e" stroke="#4a4a4a" stroke-width="0.25"/>
<circle cx="152.55" cy="189.75" r="1.05" fill="#8e8e8e" stroke="#4a4a4a" stroke-width="0.25"/>
<circle cx="99.37" cy="191.11" r="0.8" fill="#f4f4f4" stroke="#666" stroke-width="0.25"/>
<circle cx="129.37" cy="190.64" r="0.8" fill="#f4f4f4" stroke="#666" stroke-width="0.25"/>
<circle cx="159.36" cy="190.17" r="0.8" fill="#f4f4f4" stroke="#666" stroke-width="0.25"/>
<circle cx="90.77" cy="191.25" r="0.8" fill="#f4f4f4" stroke="#666" stroke-width="0.25"/>
<circle cx="120.77" cy="190.78" r="0.8" fill="#f4f4f4" stroke="#666" stroke-width="0.25"/>
<circle cx="150.76" cy="190.31" r="0.8" fill="#f4f4f4" stroke="#666" stroke-width="0.25"/>
<path d="M153.34,205.18L151.02,206.47M153.34,205.18L150.87,204.23M153.34,205.18L158.13,204.85M151.02,206.47L146.24,206.8M151.02,206.47L153.5,207.42M146.24,206.8L143.76,205.85M146.24,206.8L143.92,208.09M143.76,205.85L146.08,204.56M143.76,205.85L138.98,206.19M146.08,204.56L150.87,204.23M160.6,205.8L158.28,207.09M160.6,205.8L158.13,204.85M160.6,205.8L165.39,205.46M158.28,207.09L153.5,207.42M158.28,207.09L160.76,208.04M167.86,206.42L165.55,207.7M167.86,206.42L165.39,205.46M165.55,207.7L160.76,208.04M165.55,207.7L168.02,208.66M160.76,208.04L158.44,209.33M143.92,208.09L139.13,208.43M139.13,208.43L136.66,207.47M139.13,208.43L136.82,209.71M136.66,207.47L138.98,206.19M136.66,207.47L131.87,207.81M168.02,208.66L165.7,209.94M165.7,209.94L160.91,210.28M165.7,209.94L168.17,210.9M160.91,210.28L158.44,209.33M160.91,210.28L158.6,211.57M124.61,207.19L122.29,208.48M124.61,207.19L122.14,206.24M124.61,207.19L129.4,206.86M122.29,208.48L117.51,208.81M122.29,208.48L124.77,209.43M117.51,208.81L115.03,207.86M117.51,208.81L115.19,210.1M115.03,207.86L117.35,206.57M115.03,207.86L110.25,208.2M117.35,206.57L122.14,206.24M131.87,207.81L129.56,209.1M131.87,207.81L129.4,206.86M129.56,209.1L124.77,209.43M129.56,209.1L132.03,210.05M136.82,209.71L132.03,210.05M136.82,209.71L139.29,210.67M132.03,210.05L129.71,211.33M168.17,210.9L165.86,212.18M165.86,212.18L161.07,212.52M161.07,212.52L158.6,211.57M161.07,212.52L158.75,213.8M158.6,211.57L153.81,211.9M115.19,210.1L110.4,210.43M110.4,210.43L107.93,209.48M110.4,210.43L108.09,211.72M107.93,209.48L110.25,208.2M107.93,209.48L103.14,209.82M139.29,210.67L136.97,211.95M136.97,211.95L132.18,212.29M136.97,211.95L139.44,212.9M132.18,212.29L129.71,211.33M132.18,212.29L129.87,213.57M158.75,213.8L153.97,214.14M153.97,214.14L151.49,213.19M153.97,214.14L151.65,215.43M151.49,213.19L153.81,211.9M151.49,213.19L146.71,213.52M108.09,211.72L103.3,212.06M108.09,211.72L110.56,212.67M103.3,212.06L100.83,211.1M103.3,212.06L100.98,213.34M100.83,211.1L103.14,209.82M139.44,212.9L137.13,214.19M139.44,212.9L144.23,212.57M137.13,214.19L132.34,214.53M137.13,214.19L139.6,215.14M132.34,214.53L129.87,213.57M132.34,214.53L130.02,215.81M129.87,213.57L125.08,213.91M146.71,213.52L144.39,214.81M146.71,213.52L144.23,212.57M144.39,214.81L139.6,215.14M144.39,214.81L146.86,215.76M151.65,215.43L146.86,215.76M110.56,212.67L108.24,213.96M108.24,213.96L103.45,214.3M108.24,213.96L110.72,214.91M103.45,214.3L100.98,213.34M103.45,214.3L101.14,215.58M130.02,215.81L125.24,216.15M125.24,216.15L122.76,215.2M125.24,216.15L122.92,217.44M122.76,215.2L125.08,213.91M122.76,215.2L117.98,215.53M110.72,214.91L108.4,216.2M110.72,214.91L115.5,214.58M108.4,216.2L103.61,216.54M108.4,216.2L110.87,217.15M103.61,216.54L101.14,215.58M117.98,215.53L115.66,216.82M117.98,215.53L115.5,214.58M115.66,216.82L110.87,217.15M115.66,216.82L118.13,217.77M122.92,217.44L118.13,217.77M146.08,204.56L144.3,203.88M150.87,204.23L152.54,203.3M167.86,206.42L171.31,206.18M165.39,205.46L167.06,204.54M117.35,206.57L115.57,205.89M122.14,206.24L123.81,205.31M168.17,210.9L171.62,210.65M165.86,212.18L167.64,212.87M100.83,211.1L97.38,211.35M103.14,209.82L101.36,209.13M151.65,215.43L153.43,216.11M146.86,215.76L145.19,216.69M103.61,216.54L101.94,217.46M101.14,215.58L97.69,215.82M122.92,217.44L124.7,218.12M118.13,217.77L116.46,218.7" stroke="#8a8a8a" stroke-width="0.7" fill="none"/>
<circle cx="115.57" cy="205.89" r="0.8" fill="#f4f4f4" stroke="#666" stroke-width="0.25"/>
<circle cx="123.81" cy="205.31" r="0.8" fill="#f4f4f4" stroke="#666" stroke-width="0.25"/>
<circle cx="144.3" cy="203.88" r="0.8" fill="#f4f4f4" stroke="#666" stroke-width="0.25"/>
<circle cx="152.54" cy="203.3" r="0.8" fill="#f4f4f4" stroke="#666" stroke-width="0.25"/>
<circle cx="117.35" cy="206.57" r="1.05" fill="#8e8e8e" stroke="#4a4a4a" stroke-width="0.25"/>
<circle cx="122.14" cy="206.24" r="1.05" fill="#8e8e8e" stroke="#4a4a4a" stroke-width="0.25"/>
<circle cx="146.08" cy="204.56" r="1.05" fill="#8e8e8e" stroke="#4a4a4a" stroke-width="0.25"/>
<circle cx="150.87" cy="204.23" r="1.05" fill="#8e8e8e" stroke="#4a4a4a" stroke-width="0.25"/>
<circle cx="110.25" cy="208.2" r="1.2" fill="#2d52ea" stroke="#1a2a80" stroke-width="0.2"/>
<circle cx="115.03" cy="207.86" r="1.05" fill="#8e8e8e" stroke="#4a4a4a" stroke-width="0.25"/>
<circle cx="124.61" cy="207.19" r="1.05" fill="#8e8e8e" stroke="#4a4a4a" stroke-width="0.25"/>
<circle cx="129.4" cy="206.86" r="1.2" fill="#2d52ea" stroke="#1a2a80" stroke-width="0.2"/>
<circle cx="138.98" cy="206.19" r="1.2" fill="#2d52ea" stroke="#1a2a80" stroke-width="0.2"/>
<circle cx="143.76" cy="205.85" r="1.05" fill="#8e8e8e" stroke="#4a4a4a" stroke-width="0.25"/>
<circle cx="153.34" cy="205.18" r="1.05" fill="#8e8e8e" stroke="#4a4a4a" stroke-width="0.25"/>
<circle cx="158.13" cy="204.85" r="1.2" fill="#2d52ea" stroke="#1a2a80" stroke-width="0.2"/>
<circle cx="101.36" cy="209.13" r="0.8" fill="#f4f4f4" stroke="#666" stroke-width="0.25"/>
<circle cx="167.06" cy="204.54" r="0.8" fill="#f4f4f4" stroke="#666" stroke-width="0.25"/>
<circle cx="107.93" cy="209.48" r="1.05" fill="#8e8e8e" stroke="#4a4a4a" stroke-width="0.25"/>
<circle cx="117.51" cy="208.81" r="1.05" fill="#8e8e8e" stroke="#4a4a4a" stroke-width="0.25"/>
<circle cx="122.29" cy="208.48" r="1.05" fill="#8e8e8e" stroke="#4a4a4a" stroke-width="0.25"/>
<circle cx="136.66" cy="207.47" r="1.05" fill="#8e8e8e" stroke="#4a4a4a" stroke-width="0.25"/>
<circle cx="146.24" cy="206.8" r="1.05" fill="#8e8e8e" stroke="#4a4a4a" stroke-width="0.25"/>
<circle cx="151.02" cy="206.47" r="1.05" fill="#8e8e8e" stroke="#4a4a4a" stroke-width="0.25"/>
<circle cx="103.14" cy="209.82" r="1.05" fill="#8e8e8e" stroke="#4a4a4a" stroke-width="0.25"/>
<circle cx="131.87" cy="207.81" r="1.05" fill="#8e8e8e" stroke="#4a4a4a" stroke-width="0.25"/>
<circle cx="160.6" cy="205.8" r="1.05" fill="#8e8e8e" stroke="#4a4a4a" stroke-width="0.25"/>
<circle cx="165.39" cy="205.46" r="1.05" fill="#8e8e8e" stroke="#4a4a4a" stroke-width="0.25"/>
<circle cx="115.19" cy="210.1" r="1.2" fill="#2d52ea" stroke="#1a2a80" stroke-width="0.2"/>
<circle cx="143.92" cy="208.09" r="1.2" fill="#2d52ea" stroke="#1a2a80" stroke-width="0.2"/>
<circle cx="97.38" cy="211.35" r="0.8" fill="#f4f4f4" stroke="#666" stroke-width="0.25"/>
<circle cx="100.83" cy="211.1" r="1.05" fill="#8e8e8e" stroke="#4a4a4a" stroke-width="0.25"/>
<circle cx="110.4" cy="210.43" r="1.05" fill="#8e8e8e" stroke="#4a4a4a" stroke-width="0.25"/>
<circle cx="124.77" cy="209.43" r="1.2" fill="#2d52ea" stroke="#1a2a80" stroke-width="0.2"/>
<circle cx="129.56" cy="209.1" r="1.05" fill="#8e8e8e" stroke="#4a4a4a" stroke-width="0.25"/>
<circle cx="139.13" cy="208.43" r="1.05" fill="#8e8e8e" stroke="#4a4a4a" stroke-width="0.25"/>
<circle cx="153.5" cy="207.42" r="1.2" fill="#2d52ea" stroke="#1a2a80" stroke-width="0.2"/>
<circle cx="158.28" cy="207.09" r="1.05" fill="#8e8e8e" stroke="#4a4a4a" stroke-width="0.25"/>
<circle cx="167.86" cy="206.42" r="1.05" fill="#8e8e8e" stroke="#4a4a4a" stroke-width="0.25"/>
<circle cx="171.31" cy="206.18" r="0.8" fill="#f4f4f4" stroke="#666" stroke-width="0.25"/>
<circle cx="108.09" cy="211.72" r="1.05" fill="#8e8e8e" stroke="#4a4a4a" stroke-width="0.25"/>
<circle cx="136.82" cy="209.71" r="1.05" fill="#8e8e8e" stroke="#4a4a4a" stroke-width="0.25"/>
<circle cx="165.55" cy="207.7" r="1.05" fill="#8e8e8e" stroke="#4a4a4a" stroke-width="0.25"/>
<circle cx="103.3" cy="212.06" r="1.05" fill="#8e8e8e" stroke="#4a4a4a" stroke-width="0.25"/>
<circle cx="132.03" cy="210.05" r="1.05" fill="#8e8e8e" stroke="#4a4a4a" stroke-width="0.25"/>
<circle cx="160.76" cy="208.04" r="1.05" fill="#8e8e8e" stroke="#4a4a4a" stroke-width="0.25"/>
<circle cx="110.56" cy="212.67" r="1.2" fill="#2d52ea" stroke="#1a2a80" stroke-width="0.2"/>
<circle cx="139.29" cy="210.67" r="1.2" fill="#2d52ea" stroke="#1a2a80" stroke-width="0.2"/>
<circle cx="168.02" cy="208.66" r="1.2" fill="#2d52ea" stroke="#1a2a80" stroke-width="0.2"/>
<circle cx="100.98" cy="213.34" r="1.2" fill="#2d52ea" stroke="#1a2a80" stroke-width="0.2"/>
<circle cx="129.71" cy="211.33" r="1.2" fill="#2d52ea" stroke="#1a2a80" stroke-width="0.2"/>
<circle cx="158.44" cy="209.33" r="1.2" fill="#2d52ea" stroke="#1a2a80" stroke-width="0.2"/>
<circle cx="108.24" cy="213.96" r="1.05" fill="#8e8e8e" stroke="#4a4a4a" stroke-width="0.25"/>
<circle cx="136.97" cy="211.95" r="1.05" fill="#8e8e8e" stroke="#4a4a4a" stroke-width="0.25"/>
<circle cx="103.45" cy="214.3" r="1.05" fill="#8e8e8e" stroke="#4a4a4a" stroke-width="0.25"/>
<circle cx="132.18" cy="212.29" r="1.05" fill="#8e8e8e" stroke="#4a4a4a" stroke-width="0.25"/>
<circle cx="165.7" cy="209.94" r="1.05" fill="#8e8e8e" stroke="#4a4a4a" stroke-width="0.25"/>
<circle cx="160.91" cy="210.28" r="1.05" fill="#8e8e8e" stroke="#4a4a4a" stroke-width="0.25"/>
<circle cx="158.6" cy="211.57" r="1.05" fill="#8e8e8e" stroke="#4a4a4a" stroke-width="0.25"/>
<circle cx="97.69" cy="215.82" r="0.8" fill="#f4f4f4" stroke="#666" stroke-width="0.25"/>
<circle cx="101.14" cy="215.58" r="1.05" fill="#8e8e8e" stroke="#4a4a4a" stroke-width="0.25"/>
<circle cx="153.81" cy="211.9" r="1.2" fill="#2d52ea" stroke="#1a2a80" stroke-width="0.2"/>
<circle cx="110.72" cy="214.91" r="1.05" fill="#8e8e8e" stroke="#4a4a4a" stroke-width="0.25"/>
<circle cx="115.5" cy="214.58" r="1.2" fill="#2d52ea" stroke="#1a2a80" stroke-width="0.2"/>
<circle cx="125.08" cy="213.91" r="1.2" fill="#2d52ea" stroke="#1a2a80" stroke-width="0.2"/>
<circle cx="129.87" cy="213.57" r="1.05" fill="#8e8e8e" stroke="#4a4a4a" stroke-width="0.25"/>
<circle cx="139.44" cy="212.9" r="1.05" fill="#8e8e8e" stroke="#4a4a4a" stroke-width="0.25"/>
<circle cx="144.23" cy="212.57" r="1.2" fill="#2d52ea" stroke="#1a2a80" stroke-width="0.2"/>
<circle cx="168.17" cy="210.9" r="1.05" fill="#8e8e8e" stroke="#4a4a4a" stroke-width="0.25"/>
<circle cx="171.62" cy="210.65" r="0.8" fill="#f4f4f4" stroke="#666" stroke-width="0.25"/>
<circle cx="161.07" cy="212.52" r="1.05" fill="#8e8e8e" stroke="#4a4a4a" stroke-width="0.25"/>
<circle cx="103.61" cy="216.54" r="1.05" fill="#8e8e8e" stroke="#4a4a4a" stroke-width="0.25"/>
<circle cx="108.4" cy="216.2" r="1.05" fill="#8e8e8e" stroke="#4a4a4a" stroke-width="0.25"/>
<circle cx="117.98" cy="215.53" r="1.05" fill="#8e8e8e" stroke="#4a4a4a" stroke-width="0.25"/>
<circle cx="122.76" cy="215.2" r="1.05" fill="#8e8e8e" stroke="#4a4a4a" stroke-width="0.25"/>
<circle cx="132.34" cy="214.53" r="1.05" fill="#8e8e8e" stroke="#4a4a4a" stroke-width="0.25"/>
<circle cx="137.13" cy="214.19" r="1.05" fill="#8e8e8e" stroke="#4a4a4a" stroke-width="0.25"/>
<circle cx="146.71" cy="213.52" r="1.05" fill="#8e8e8e" stroke="#4a4a4a" stroke-width="0.25"/>
<circle cx="151.49" cy="213.19" r="1.05" fill="#8e8e8e" stroke="#4a4a4a" stroke-width="0.25"/>
<circle cx="165.86" cy="212.18" r="1.05" fill="#8e8e8e" stroke="#4a4a4a" stroke-width="0.25"/>
<circle cx="167.64" cy="212.87" r="0.8" fill="#f4f4f4" stroke="#666" stroke-width="0.25"/>
<circle cx="101.94" cy="217.46" r="0.8" fill="#f4f4f4" stroke="#666" stroke-width="0.25"/>
<circle cx="115.66" cy="216.82" r="1.05" fill="#8e8e8e" stroke="#4a4a4a" stroke-width="0.25"/>
<circle cx="125.24" cy="216.15" r="1.05" fill="#8e8e8e" stroke="#4a4a4a" stroke-width="0.25"/>
<circle cx="130.02" cy="215.81" r="1.2" fill="#2d52ea" stroke="#1a2a80" stroke-width="0.2"/>
<circle cx="144.39" cy="214.81" r="1.05" fill="#8e8e8e" stroke="#4a4a4a" stroke-width="0.25"/>
<circle cx="153.97" cy="214.14" r="1.05" fill="#8e8e8e" stroke="#4a4a4a" stroke-width="0.25"/>
<circle cx="158.75" cy="213.8" r="1.2" fill="#2d52ea" stroke="#1a2a80" stroke-width="0.2"/>
<circle cx="110.87" cy="217.15" r="1.2" fill="#2d52ea" stroke="#1a2a80" stroke-width="0.2"/>
<circle cx="139.6" cy="215.14" r="1.2" fill="#2d52ea" stroke="#1a2a80" stroke-width="0.2"/>
<circle cx="122.92" cy="217.44" r="1.05" fill="#8e8e8e" stroke="#4a4a4a" stroke-width="0.25"/>
<circle cx="151.65" cy="215.43" r="1.05" fill="#8e8e8e" stroke="#4a4a4a" stroke-width="0.25"/>
<circle cx="118.13" cy="217.77" r="1.05" fill="#8e8e8e" stroke="#4a4a4a" stroke-width="0.25"/>
<circle cx="146.86" cy="215.76" r="1.05" fill="#8e8e8e" stroke="#4a4a4a" stroke-width="0.25"/>
<circle cx="124.7" cy="218.12" r="0.8" fill="#f4f4f4" stroke="#666" stroke-width="0.25"/>
<circle cx="153.43" cy="216.11" r="0.8" fill="#f4f4f4" stroke="#666" stroke-width="0.25"/>
<circle cx="116.46" cy="218.7" r="0.8" fill="#f4f4f4" stroke="#666" stroke-width="0.25"/>
<circle cx="145.19" cy="216.69" r="0.8" fill="#f4f4f4" stroke="#666" stroke-width="0.25"/>
<path d="M144.46,235.62L141.74,235.81M144.46,235.62L142.25,234.01M144.46,235.62L149.39,237.03M141.74,235.81L136.81,234.4M141.74,235.81L143.95,237.42M136.81,234.4L134.6,232.79M136.81,234.4L134.08,234.59M134.6,232.79L137.32,232.6M134.6,232.79L129.67,231.38M137.32,232.6L142.25,234.01M151.6,238.64L148.88,238.83M151.6,238.64L149.39,237.03M151.6,238.64L156.53,240.05M148.88,238.83L143.95,237.42M148.88,238.83L151.09,240.44M158.74,241.66L156.02,241.85M158.74,241.66L156.53,240.05M156.02,241.85L151.09,240.44M156.02,241.85L158.23,243.46M151.09,240.44L148.36,240.63M134.08,234.59L129.15,233.17M129.15,233.17L126.95,231.57M129.15,233.17L126.43,233.37M126.95,231.57L129.67,231.38M126.95,231.57L122.01,230.15M158.23,243.46L155.5,243.65M155.5,243.65L150.57,242.23M155.5,243.65L157.71,245.25M150.57,242.23L148.36,240.63M150.57,242.23L147.85,242.43M126.43,233.37L121.5,231.95M126.43,233.37L128.64,234.97M121.5,231.95L119.29,230.35M121.5,231.95L118.77,232.14M119.29,230.35L122.01,230.15M157.71,245.25L154.99,245.45M154.99,245.45L150.05,244.03M150.05,244.03L147.85,242.43M150.05,244.03L147.33,244.22M147.85,242.43L142.92,241.01M128.64,234.97L125.91,235.16M125.91,235.16L120.98,233.75M125.91,235.16L128.12,236.77M120.98,233.75L118.77,232.14M120.98,233.75L118.26,233.94M147.33,244.22L142.4,242.81M142.4,242.81L140.19,241.2M142.4,242.81L139.68,243M140.19,241.2L142.92,241.01M140.19,241.2L135.26,239.79M128.12,236.77L125.4,236.96M128.12,236.77L133.05,238.18M125.4,236.96L120.47,235.55M125.4,236.96L127.61,238.57M120.47,235.55L118.26,233.94M135.26,239.79L132.54,239.98M135.26,239.79L133.05,238.18M132.54,239.98L127.61,238.57M132.54,239.98L134.75,241.59M139.68,243L134.75,241.59M137.32,232.6L135.73,231.44M142.25,234.01L144.22,233.87M158.74,241.66L162.29,242.68M156.53,240.05L158.49,239.91M119.29,230.35L115.74,229.33M122.01,230.15L120.42,229M157.71,245.25L161.26,246.27M154.99,245.45L156.58,246.6M120.47,235.55L118.51,235.69M118.26,233.94L114.71,232.92M139.68,243L141.27,244.16M134.75,241.59L132.78,241.73" stroke="#8a8a8a" stroke-width="0.7" fill="none"/>
<circle cx="135.73" cy="231.44" r="0.8" fill="#f4f4f4" stroke="#666" stroke-width="0.25"/>
<circle cx="144.22" cy="233.87" r="0.8" fill="#f4f4f4" stroke="#666" stroke-width="0.25"/>
<circle cx="137.32" cy="232.6" r="1.05" fill="#8e8e8e" stroke="#4a4a4a" stroke-width="0.25"/>
<circle cx="142.25" cy="234.01" r="1.05" fill="#8e8e8e" stroke="#4a4a4a" stroke-width="0.25"/>
<circle cx="129.67" cy="231.38" r="1.2" fill="#2d52ea" stroke="#1a2a80" stroke-width="0.2"/>
<circle cx="134.6" cy="232.79" r="1.05" fill="#8e8e8e" stroke="#4a4a4a" stroke-width="0.25"/>
<circle cx="144.46" cy="235.62" r="1.05" fill="#8e8e8e" stroke="#4a4a4a" stroke-width="0.25"/>
<circle cx="149.39" cy="237.03" r="1.2" fill="#2d52ea" stroke="#1a2a80" stroke-width="0.2"/>
<circle cx="158.49" cy="239.91" r="0.8" fill="#f4f4f4" stroke="#666" stroke-width="0.25"/>
<circle cx="120.42" cy="229" r="0.8" fill="#f4f4f4" stroke="#666" stroke-width="0.25"/>
<circle cx="126.95" cy="231.57" r="1.05" fill="#8e8e8e" stroke="#4a4a4a" stroke-width="0.25"/>
<circle cx="136.81" cy="234.4" r="1.05" fill="#8e8e8e" stroke="#4a4a4a" stroke-width="0.25"/>
<circle cx="141.74" cy="235.81" r="1.05" fill="#8e8e8e" stroke="#4a4a4a" stroke-width="0.25"/>
<circle cx="156.53" cy="240.05" r="1.05" fill="#8e8e8e" stroke="#4a4a4a" stroke-width="0.25"/>
<circle cx="122.01" cy="230.15" r="1.05" fill="#8e8e8e" stroke="#4a4a4a" stroke-width="0.25"/>
<circle cx="151.6" cy="238.64" r="1.05" fill="#8e8e8e" stroke="#4a4a4a" stroke-width="0.25"/>
<circle cx="134.08" cy="234.59" r="1.2" fill="#2d52ea" stroke="#1a2a80" stroke-width="0.2"/>
<circle cx="143.95" cy="237.42" r="1.2" fill="#2d52ea" stroke="#1a2a80" stroke-width="0.2"/>
<circle cx="115.74" cy="229.33" r="0.8" fill="#f4f4f4" stroke="#666" stroke-width="0.25"/>
<circle cx="119.29" cy="230.35" r="1.05" fill="#8e8e8e" stroke="#4a4a4a" stroke-width="0.25"/>
<circle cx="129.15" cy="233.17" r="1.05" fill="#8e8e8e" stroke="#4a4a4a" stroke-width="0.25"/>
<circle cx="148.88" cy="238.83" r="1.05" fill="#8e8e8e" stroke="#4a4a4a" stroke-width="0.25"/>
<circle cx="158.74" cy="241.66" r="1.05" fill="#8e8e8e" stroke="#4a4a4a" stroke-width="0.25"/>
<circle cx="162.29" cy="242.68" r="0.8" fill="#f4f4f4" stroke="#666" stroke-width="0.25"/>
<circle cx="126.43" cy="233.37" r="1.05" fill="#8e8e8e" stroke="#4a4a4a" stroke-width="0.25"/>
<circle cx="156.02" cy="241.85" r="1.05" fill="#8e8e8e" stroke="#4a4a4a" stroke-width="0.25"/>
<circle cx="121.5" cy="231.95" r="1.05" fill="#8e8e8e" stroke="#4a4a4a" stroke-width="0.25"/>
<circle cx="151.09" cy="240.44" r="1.05" fill="#8e8e8e" stroke="#4a4a4a" stroke-width="0.25"/>
<circle cx="128.64" cy="234.97" r="1.2" fill="#2d52ea" stroke="#1a2a80" stroke-width="0.2"/>
<circle cx="158.23" cy="243.46" r="1.2" fill="#2d52ea" stroke="#1a2a80" stroke-width="0.2"/>
<circle cx="118.77" cy="232.14" r="1.2" fill="#2d52ea" stroke="#1a2a80" stroke-width="0.2"/>
<circle cx="148.36" cy="240.63" r="1.2" fill="#2d52ea" stroke="#1a2a80" stroke-width="0.2"/>
<circle cx="125.91" cy="235.16" r="1.05" fill="#8e8e8e" stroke="#4a4a4a" stroke-width="0.25"/>
<circle cx="155.5" cy="243.65" r="1.05" fill="#8e8e8e" stroke="#4a4a4a" stroke-width="0.25"/>
<circle cx="120.98" cy="233.75" r="1.05" fill="#8e8e8e" stroke="#4a4a4a" stroke-width="0.25"/>
<circle cx="150.57" cy="242.23" r="1.05" fill="#8e8e8e" stroke="#4a4a4a" stroke-width="0.25"/>
<circle cx="114.71" cy="232.92" r="0.8" fill="#f4f4f4" stroke="#666" stroke-width="0.25"/>
<circle cx="118.26" cy="233.94" r="1.05" fill="#8e8e8e" stroke="#4a4a4a" stroke-width="0.25"/>
<circle cx="157.71" cy="245.25" r="1.05" fill="#8e8e8e" stroke="#4a4a4a" stroke-width="0.25"/>
<circle cx="161.26" cy="246.27" r="0.8" fill="#f4f4f4" stroke="#666" stroke-width="0.25"/>
<circle cx="128.12" cy="236.77" r="1.05" fill="#8e8e8e" stroke="#4a4a4a" stroke-width="0.25"/>
<circle cx="133.05" cy="238.18" r="1.2" fill="#2d52ea" stroke="#1a2a80" stroke-width="0.2"/>
<circle cx="142.92" cy="241.01" r="1.2" fill="#2d52ea" stroke="#1a2a80" stroke-width="0.2"/>
<circle cx="147.85" cy="242.43" r="1.05" fill="#8e8e8e" stroke="#4a4a4a" stroke-width="0.25"/>
<circle cx="120.47" cy="235.55" r="1.05" fill="#8e8e8e" stroke="#4a4a4a" stroke-width="0.25"/>
<circle cx="125.4" cy="236.96" r="1.05" fill="#8e8e8e" stroke="#4a4a4a" stroke-width="0.25"/>
<circle cx="135.26" cy="239.79" r="1.05" fill="#8e8e8e" stroke="#4a4a4a" stroke-width="0.25"/>
<circle cx="140.19" cy="241.2" r="1.05" fill="#8e8e8e" stroke="#4a4a4a" stroke-width="0.25"/>
<circle cx="150.05" cy="244.03" r="1.05" fill="#8e8e8e" stroke="#4a4a4a" stroke-width="0.25"/>
<circle cx="154.99" cy="245.45" r="1.05" fill="#8e8e8e" stroke="#4a4a4a" stroke-width="0.25"/>
<circle cx="118.51" cy="235.69" r="0.8" fill="#f4f4f4" stroke="#666" stroke-width="0.25"/>
<circle cx="156.58" cy="246.6" r="0.8" fill="#f4f4f4" stroke="#666" stroke-width="0.25"/>
<circle cx="127.61" cy="238.57" r="1.2" fill="#2d52ea" stroke="#1a2a80" stroke-width="0.2"/>
<circle cx="132.54" cy="239.98" r="1.05" fill="#8e8e8e" stroke="#4a4a4a" stroke-width="0.25"/>
<circle cx="142.4" cy="242.81" r="1.05" fill="#8e8e8e" stroke="#4a4a4a" stroke-width="0.25"/>
<circle cx="147.33" cy="244.22" r="1.2" fill="#2d52ea" stroke="#1a2a80" stroke-width="0.2"/>
<circle cx="134.75" cy="241.59" r="1.05" fill="#8e8e8e" stroke="#4a4a4a" stroke-width="0.25"/>
<circle cx="139.68" cy="243" r="1.05" fill="#8e8e8e" stroke="#4a4a4a" stroke-width="0.25"/>
<circle cx="132.78" cy="241.73" r="0.8" fill="#f4f4f4" stroke="#666" stroke-width="0.25"/>
<circle cx="141.27" cy="244.16" r="0.8" fill="#f4f4f4" stroke="#666" stroke-width="0.25"/>
<line x1="28.8" y1="266.23" x2="31" y2="266.23" stroke="#333" stroke-width="0.95" />
<text x="25.9" y="268.44" text-anchor="end" fill="#161616" stroke="#161616" style="font-size:5.3px;font-weight:bold;">&#8722;0.02</text>
<line x1="28.8" y1="255.6" x2="31" y2="255.6" stroke="#333" stroke-width="0.95" />
<text x="25.9" y="257.81" text-anchor="end" fill="#161616" stroke="#161616" style="font-size:5.3px;font-weight:bold;">0.00</text>
<line x1="28.8" y1="244.97" x2="31" y2="244.97" stroke="#333" stroke-width="0.95" />
<text x="25.9" y="247.18" text-anchor="end" fill="#161616" stroke="#161616" style="font-size:5.3px;font-weight:bold;">0.02</text>
<line x1="28.8" y1="234.34" x2="31" y2="234.34" stroke="#333" stroke-width="0.95" />
<text x="25.9" y="236.55" text-anchor="end" fill="#161616" stroke="#161616" style="font-size:5.3px;font-weight:bold;">0.04</text>
<line x1="28.8" y1="223.72" x2="31" y2="223.72" stroke="#333" stroke-width="0.95" />
<text x="25.9" y="225.92" text-anchor="end" fill="#161616" stroke="#161616" style="font-size:5.3px;font-weight:bold;">0.06</text>
<line x1="28.8" y1="213.09" x2="31" y2="213.09" stroke="#333" stroke-width="0.95" />
<text x="25.9" y="215.3" text-anchor="end" fill="#161616" stroke="#161616" style="font-size:5.3px;font-weight:bold;">0.08</text>
<line x1="28.8" y1="202.46" x2="31" y2="202.46" stroke="#333" stroke-width="0.95" />
<text x="25.9" y="204.67" text-anchor="end" fill="#161616" stroke="#161616" style="font-size:5.3px;font-weight:bold;">0.10</text>
<line x1="28.8" y1="191.83" x2="31" y2="191.83" stroke="#333" stroke-width="0.95" />
<text x="25.9" y="194.04" text-anchor="end" fill="#161616" stroke="#161616" style="font-size:5.3px;font-weight:bold;">0.12</text>
<line x1="28.8" y1="181.2" x2="31" y2="181.2" stroke="#333" stroke-width="0.95" />
<text x="25.9" y="183.41" text-anchor="end" fill="#161616" stroke="#161616" style="font-size:5.3px;font-weight:bold;">0.14</text>
<line x1="28.8" y1="170.58" x2="31" y2="170.58" stroke="#333" stroke-width="0.95" />
<text x="25.9" y="172.78" text-anchor="end" fill="#161616" stroke="#161616" style="font-size:5.3px;font-weight:bold;">0.16</text>
<line x1="28.8" y1="159.95" x2="31" y2="159.95" stroke="#333" stroke-width="0.95" />
<text x="25.9" y="162.16" text-anchor="end" fill="#161616" stroke="#161616" style="font-size:5.3px;font-weight:bold;">0.18</text>
<line x1="28.8" y1="149.32" x2="31" y2="149.32" stroke="#333" stroke-width="0.95" />
<text x="25.9" y="151.53" text-anchor="end" fill="#161616" stroke="#161616" style="font-size:5.3px;font-weight:bold;">0.20</text>
<line x1="28.8" y1="260.91" x2="30.1" y2="260.91" stroke="#484848" stroke-width="0.7" />
<line x1="28.8" y1="250.29" x2="30.1" y2="250.29" stroke="#484848" stroke-width="0.7" />
<line x1="28.8" y1="239.66" x2="30.1" y2="239.66" stroke="#484848" stroke-width="0.7" />
<line x1="28.8" y1="229.03" x2="30.1" y2="229.03" stroke="#484848" stroke-width="0.7" />
<line x1="28.8" y1="218.4" x2="30.1" y2="218.4" stroke="#484848" stroke-width="0.7" />
<line x1="28.8" y1="207.77" x2="30.1" y2="207.77" stroke="#484848" stroke-width="0.7" />
<line x1="28.8" y1="197.15" x2="30.1" y2="197.15" stroke="#484848" stroke-width="0.7" />
<line x1="28.8" y1="186.52" x2="30.1" y2="186.52" stroke="#484848" stroke-width="0.7" />
<line x1="28.8" y1="175.89" x2="30.1" y2="175.89" stroke="#484848" stroke-width="0.7" />
<line x1="28.8" y1="165.26" x2="30.1" y2="165.26" stroke="#484848" stroke-width="0.7" />
<line x1="28.8" y1="154.63" x2="30.1" y2="154.63" stroke="#484848" stroke-width="0.7" />
<line x1="38.8" y1="266.2" x2="38.8" y2="264" stroke="#333" stroke-width="0.95" />
<text x="38.8" y="274.01" text-anchor="middle" fill="#161616" stroke="#161616" style="font-size:5.3px;font-weight:bold;">1</text>
<line x1="71.65" y1="266.2" x2="71.65" y2="264" stroke="#333" stroke-width="0.95" />
<text x="71.65" y="274.01" text-anchor="middle" fill="#161616" stroke="#161616" style="font-size:5.3px;font-weight:bold;">2</text>
<line x1="104.5" y1="266.2" x2="104.5" y2="264" stroke="#333" stroke-width="0.95" />
<text x="104.5" y="274.01" text-anchor="middle" fill="#161616" stroke="#161616" style="font-size:5.3px;font-weight:bold;">3</text>
<line x1="137.35" y1="266.2" x2="137.35" y2="264" stroke="#333" stroke-width="0.95" />
<text x="137.35" y="274.01" text-anchor="middle" fill="#161616" stroke="#161616" style="font-size:5.3px;font-weight:bold;">4</text>
<line x1="170.2" y1="266.2" x2="170.2" y2="264" stroke="#333" stroke-width="0.95" />
<text x="170.2" y="274.01" text-anchor="middle" fill="#161616" stroke="#161616" style="font-size:5.3px;font-weight:bold;">5</text>
<line x1="55.22" y1="266.2" x2="55.22" y2="264.9" stroke="#484848" stroke-width="0.7" />
<line x1="88.08" y1="266.2" x2="88.08" y2="264.9" stroke="#484848" stroke-width="0.7" />
<line x1="120.92" y1="266.2" x2="120.92" y2="264.9" stroke="#484848" stroke-width="0.7" />
<line x1="153.78" y1="266.2" x2="153.78" y2="264.9" stroke="#484848" stroke-width="0.7" />
<polyline points="38.8,161.01 71.65,230.62 104.5,252.94 137.35,254.54 170.2,255.6" fill="none" stroke="#2ee82e" stroke-width="2.2" stroke-linejoin="round" />
<circle cx="38.8" cy="161.01" r="2.3" fill="#55f055" stroke="#2ee82e" stroke-width="0.8"/>
<circle cx="71.65" cy="230.62" r="2.3" fill="#55f055" stroke="#2ee82e" stroke-width="0.8"/>
<circle cx="104.5" cy="252.94" r="2.3" fill="#55f055" stroke="#2ee82e" stroke-width="0.8"/>
<circle cx="137.35" cy="254.54" r="2.3" fill="#55f055" stroke="#2ee82e" stroke-width="0.8"/>
<circle cx="170.2" cy="255.6" r="2.3" fill="#55f055" stroke="#2ee82e" stroke-width="0.8"/>
<line x1="38.5" y1="248.5" x2="53.5" y2="248.5" stroke="#2ee82e" stroke-width="1.9" />
<circle cx="46" cy="248.5" r="2.3" fill="#55f055" stroke="#2ee82e" stroke-width="0.8"/>
<text x="55" y="250.83" text-anchor="start" fill="#161616" stroke="#161616" style="font-size:6.2px;font-weight:bold;">300K</text>
<line x1="59.8" y1="189.5" x2="70.3" y2="206.5" stroke="#555" stroke-width="0.75" stroke-dasharray="1.4,1.1"/>
<path d="M54.2,179.9 L62.8,188.2 L59.4,188.6 L57.5,191.3 Z" fill="#111"/>
<text x="70.8" y="218.94" text-anchor="start" fill="#f0268c" stroke="#f0268c" style="font-size:7.6px;font-weight:bold;font-style:italic;">Ring2</text>
<text x="87.2" y="239.34" text-anchor="start" fill="#f0268c" stroke="#f0268c" style="font-size:7.6px;font-weight:bold;font-style:italic;">Ring1</text>
<text x="4.1" y="147.6" fill="#1a1a1a" stroke="#1a1a1a" style="font-size:8.7px;font-weight:bold;stroke-width:0.3px">(d)</text>
<text x="10.2" y="204.7" text-anchor="middle" fill="#161616" stroke="#161616" style="font-size:6.6px;font-weight:bold;" transform="rotate(-90 10.2 204.7)">Transmission</text>
<text x="101.5" y="281.5" text-anchor="middle" fill="#161616" stroke="#161616" style="font-size:6.2px;font-weight:bold;">Number of C<tspan dy="1.3" style="font-size:4.2px">2</tspan><tspan dy="-1.3">N rings</tspan></text>
<rect x="208.9" y="144.2" width="151.4" height="122.1" fill="none" stroke="#484848" stroke-width="1.1" />
<line x1="208.9" y1="144.2" x2="211.1" y2="144.2" stroke="#333" stroke-width="0.95" />
<text x="206" y="146.41" text-anchor="end" fill="#161616" stroke="#161616" style="font-size:5.3px;font-weight:bold;">10<tspan dy="-2.38" style="font-size:3.29px">0</tspan></text>
<line x1="208.9" y1="159.46" x2="211.1" y2="159.46" stroke="#333" stroke-width="0.95" />
<text x="206" y="161.67" text-anchor="end" fill="#161616" stroke="#161616" style="font-size:5.3px;font-weight:bold;">10<tspan dy="-2.38" style="font-size:3.29px">&#8722;1</tspan></text>
<line x1="208.9" y1="174.72" x2="211.1" y2="174.72" stroke="#333" stroke-width="0.95" />
<text x="206" y="176.93" text-anchor="end" fill="#161616" stroke="#161616" style="font-size:5.3px;font-weight:bold;">10<tspan dy="-2.38" style="font-size:3.29px">&#8722;2</tspan></text>
<line x1="208.9" y1="189.99" x2="211.1" y2="189.99" stroke="#333" stroke-width="0.95" />
<text x="206" y="192.2" text-anchor="end" fill="#161616" stroke="#161616" style="font-size:5.3px;font-weight:bold;">10<tspan dy="-2.38" style="font-size:3.29px">&#8722;3</tspan></text>
<line x1="208.9" y1="205.25" x2="211.1" y2="205.25" stroke="#333" stroke-width="0.95" />
<text x="206" y="207.46" text-anchor="end" fill="#161616" stroke="#161616" style="font-size:5.3px;font-weight:bold;">10<tspan dy="-2.38" style="font-size:3.29px">&#8722;4</tspan></text>
<line x1="208.9" y1="220.51" x2="211.1" y2="220.51" stroke="#333" stroke-width="0.95" />
<text x="206" y="222.72" text-anchor="end" fill="#161616" stroke="#161616" style="font-size:5.3px;font-weight:bold;">10<tspan dy="-2.38" style="font-size:3.29px">&#8722;5</tspan></text>
<line x1="208.9" y1="235.78" x2="211.1" y2="235.78" stroke="#333" stroke-width="0.95" />
<text x="206" y="237.98" text-anchor="end" fill="#161616" stroke="#161616" style="font-size:5.3px;font-weight:bold;">10<tspan dy="-2.38" style="font-size:3.29px">&#8722;6</tspan></text>
<line x1="208.9" y1="251.04" x2="211.1" y2="251.04" stroke="#333" stroke-width="0.95" />
<text x="206" y="253.25" text-anchor="end" fill="#161616" stroke="#161616" style="font-size:5.3px;font-weight:bold;">10<tspan dy="-2.38" style="font-size:3.29px">&#8722;7</tspan></text>
<line x1="208.9" y1="266.3" x2="211.1" y2="266.3" stroke="#333" stroke-width="0.95" />
<text x="206" y="268.51" text-anchor="end" fill="#161616" stroke="#161616" style="font-size:5.3px;font-weight:bold;">10<tspan dy="-2.38" style="font-size:3.29px">&#8722;8</tspan></text>
<line x1="208.9" y1="154.87" x2="210.1" y2="154.87" stroke="#484848" stroke-width="0.5" />
<line x1="208.9" y1="152.18" x2="210.1" y2="152.18" stroke="#484848" stroke-width="0.5" />
<line x1="208.9" y1="150.27" x2="210.1" y2="150.27" stroke="#484848" stroke-width="0.5" />
<line x1="208.9" y1="148.79" x2="210.1" y2="148.79" stroke="#484848" stroke-width="0.5" />
<line x1="208.9" y1="147.59" x2="210.1" y2="147.59" stroke="#484848" stroke-width="0.5" />
<line x1="208.9" y1="146.56" x2="210.1" y2="146.56" stroke="#484848" stroke-width="0.5" />
<line x1="208.9" y1="145.68" x2="210.1" y2="145.68" stroke="#484848" stroke-width="0.5" />
<line x1="208.9" y1="144.9" x2="210.1" y2="144.9" stroke="#484848" stroke-width="0.5" />
<line x1="208.9" y1="170.13" x2="210.1" y2="170.13" stroke="#484848" stroke-width="0.5" />
<line x1="208.9" y1="167.44" x2="210.1" y2="167.44" stroke="#484848" stroke-width="0.5" />
<line x1="208.9" y1="165.54" x2="210.1" y2="165.54" stroke="#484848" stroke-width="0.5" />
<line x1="208.9" y1="164.06" x2="210.1" y2="164.06" stroke="#484848" stroke-width="0.5" />
<line x1="208.9" y1="162.85" x2="210.1" y2="162.85" stroke="#484848" stroke-width="0.5" />
<line x1="208.9" y1="161.83" x2="210.1" y2="161.83" stroke="#484848" stroke-width="0.5" />
<line x1="208.9" y1="160.94" x2="210.1" y2="160.94" stroke="#484848" stroke-width="0.5" />
<line x1="208.9" y1="160.16" x2="210.1" y2="160.16" stroke="#484848" stroke-width="0.5" />
<line x1="208.9" y1="185.39" x2="210.1" y2="185.39" stroke="#484848" stroke-width="0.5" />
<line x1="208.9" y1="182.71" x2="210.1" y2="182.71" stroke="#484848" stroke-width="0.5" />
<line x1="208.9" y1="180.8" x2="210.1" y2="180.8" stroke="#484848" stroke-width="0.5" />
<line x1="208.9" y1="179.32" x2="210.1" y2="179.32" stroke="#484848" stroke-width="0.5" />
<line x1="208.9" y1="178.11" x2="210.1" y2="178.11" stroke="#484848" stroke-width="0.5" />
<line x1="208.9" y1="177.09" x2="210.1" y2="177.09" stroke="#484848" stroke-width="0.5" />
<line x1="208.9" y1="176.2" x2="210.1" y2="176.2" stroke="#484848" stroke-width="0.5" />
<line x1="208.9" y1="175.42" x2="210.1" y2="175.42" stroke="#484848" stroke-width="0.5" />
<line x1="208.9" y1="200.66" x2="210.1" y2="200.66" stroke="#484848" stroke-width="0.5" />
<line x1="208.9" y1="197.97" x2="210.1" y2="197.97" stroke="#484848" stroke-width="0.5" />
<line x1="208.9" y1="196.06" x2="210.1" y2="196.06" stroke="#484848" stroke-width="0.5" />
<line x1="208.9" y1="194.58" x2="210.1" y2="194.58" stroke="#484848" stroke-width="0.5" />
<line x1="208.9" y1="193.37" x2="210.1" y2="193.37" stroke="#484848" stroke-width="0.5" />
<line x1="208.9" y1="192.35" x2="210.1" y2="192.35" stroke="#484848" stroke-width="0.5" />
<line x1="208.9" y1="191.47" x2="210.1" y2="191.47" stroke="#484848" stroke-width="0.5" />
<line x1="208.9" y1="190.69" x2="210.1" y2="190.69" stroke="#484848" stroke-width="0.5" />
<line x1="208.9" y1="215.92" x2="210.1" y2="215.92" stroke="#484848" stroke-width="0.5" />
<line x1="208.9" y1="213.23" x2="210.1" y2="213.23" stroke="#484848" stroke-width="0.5" />
<line x1="208.9" y1="211.32" x2="210.1" y2="211.32" stroke="#484848" stroke-width="0.5" />
<line x1="208.9" y1="209.84" x2="210.1" y2="209.84" stroke="#484848" stroke-width="0.5" />
<line x1="208.9" y1="208.64" x2="210.1" y2="208.64" stroke="#484848" stroke-width="0.5" />
<line x1="208.9" y1="207.61" x2="210.1" y2="207.61" stroke="#484848" stroke-width="0.5" />
<line x1="208.9" y1="206.73" x2="210.1" y2="206.73" stroke="#484848" stroke-width="0.5" />
<line x1="208.9" y1="205.95" x2="210.1" y2="205.95" stroke="#484848" stroke-width="0.5" />
<line x1="208.9" y1="231.18" x2="210.1" y2="231.18" stroke="#484848" stroke-width="0.5" />
<line x1="208.9" y1="228.49" x2="210.1" y2="228.49" stroke="#484848" stroke-width="0.5" />
<line x1="208.9" y1="226.59" x2="210.1" y2="226.59" stroke="#484848" stroke-width="0.5" />
<line x1="208.9" y1="225.11" x2="210.1" y2="225.11" stroke="#484848" stroke-width="0.5" />
<line x1="208.9" y1="223.9" x2="210.1" y2="223.9" stroke="#484848" stroke-width="0.5" />
<line x1="208.9" y1="222.88" x2="210.1" y2="222.88" stroke="#484848" stroke-width="0.5" />
<line x1="208.9" y1="221.99" x2="210.1" y2="221.99" stroke="#484848" stroke-width="0.5" />
<line x1="208.9" y1="221.21" x2="210.1" y2="221.21" stroke="#484848" stroke-width="0.5" />
<line x1="208.9" y1="246.44" x2="210.1" y2="246.44" stroke="#484848" stroke-width="0.5" />
<line x1="208.9" y1="243.76" x2="210.1" y2="243.76" stroke="#484848" stroke-width="0.5" />
<line x1="208.9" y1="241.85" x2="210.1" y2="241.85" stroke="#484848" stroke-width="0.5" />
<line x1="208.9" y1="240.37" x2="210.1" y2="240.37" stroke="#484848" stroke-width="0.5" />
<line x1="208.9" y1="239.16" x2="210.1" y2="239.16" stroke="#484848" stroke-width="0.5" />
<line x1="208.9" y1="238.14" x2="210.1" y2="238.14" stroke="#484848" stroke-width="0.5" />
<line x1="208.9" y1="237.25" x2="210.1" y2="237.25" stroke="#484848" stroke-width="0.5" />
<line x1="208.9" y1="236.47" x2="210.1" y2="236.47" stroke="#484848" stroke-width="0.5" />
<line x1="208.9" y1="261.71" x2="210.1" y2="261.71" stroke="#484848" stroke-width="0.5" />
<line x1="208.9" y1="259.02" x2="210.1" y2="259.02" stroke="#484848" stroke-width="0.5" />
<line x1="208.9" y1="257.11" x2="210.1" y2="257.11" stroke="#484848" stroke-width="0.5" />
<line x1="208.9" y1="255.63" x2="210.1" y2="255.63" stroke="#484848" stroke-width="0.5" />
<line x1="208.9" y1="254.42" x2="210.1" y2="254.42" stroke="#484848" stroke-width="0.5" />
<line x1="208.9" y1="253.4" x2="210.1" y2="253.4" stroke="#484848" stroke-width="0.5" />
<line x1="208.9" y1="252.52" x2="210.1" y2="252.52" stroke="#484848" stroke-width="0.5" />
<line x1="208.9" y1="251.74" x2="210.1" y2="251.74" stroke="#484848" stroke-width="0.5" />
<line x1="218" y1="266.3" x2="218" y2="264.1" stroke="#333" stroke-width="0.95" />
<text x="218" y="274.11" text-anchor="middle" fill="#161616" stroke="#161616" style="font-size:5.3px;font-weight:bold;">1</text>
<line x1="237.01" y1="266.3" x2="237.01" y2="264.1" stroke="#333" stroke-width="0.95" />
<text x="237.01" y="274.11" text-anchor="middle" fill="#161616" stroke="#161616" style="font-size:5.3px;font-weight:bold;">2</text>
<line x1="256.02" y1="266.3" x2="256.02" y2="264.1" stroke="#333" stroke-width="0.95" />
<text x="256.02" y="274.11" text-anchor="middle" fill="#161616" stroke="#161616" style="font-size:5.3px;font-weight:bold;">3</text>
<line x1="275.03" y1="266.3" x2="275.03" y2="264.1" stroke="#333" stroke-width="0.95" />
<text x="275.03" y="274.11" text-anchor="middle" fill="#161616" stroke="#161616" style="font-size:5.3px;font-weight:bold;">4</text>
<line x1="294.04" y1="266.3" x2="294.04" y2="264.1" stroke="#333" stroke-width="0.95" />
<text x="294.04" y="274.11" text-anchor="middle" fill="#161616" stroke="#161616" style="font-size:5.3px;font-weight:bold;">5</text>
<line x1="313.05" y1="266.3" x2="313.05" y2="264.1" stroke="#333" stroke-width="0.95" />
<text x="313.05" y="274.11" text-anchor="middle" fill="#161616" stroke="#161616" style="font-size:5.3px;font-weight:bold;">6</text>
<line x1="332.06" y1="266.3" x2="332.06" y2="264.1" stroke="#333" stroke-width="0.95" />
<text x="332.06" y="274.11" text-anchor="middle" fill="#161616" stroke="#161616" style="font-size:5.3px;font-weight:bold;">7</text>
<line x1="351.07" y1="266.3" x2="351.07" y2="264.1" stroke="#333" stroke-width="0.95" />
<text x="351.07" y="274.11" text-anchor="middle" fill="#161616" stroke="#161616" style="font-size:5.3px;font-weight:bold;">8</text>
<line x1="227.5" y1="266.3" x2="227.5" y2="265" stroke="#484848" stroke-width="0.7" />
<line x1="246.51" y1="266.3" x2="246.51" y2="265" stroke="#484848" stroke-width="0.7" />
<line x1="265.52" y1="266.3" x2="265.52" y2="265" stroke="#484848" stroke-width="0.7" />
<line x1="284.54" y1="266.3" x2="284.54" y2="265" stroke="#484848" stroke-width="0.7" />
<line x1="303.55" y1="266.3" x2="303.55" y2="265" stroke="#484848" stroke-width="0.7" />
<line x1="322.56" y1="266.3" x2="322.56" y2="265" stroke="#484848" stroke-width="0.7" />
<line x1="341.56" y1="266.3" x2="341.56" y2="265" stroke="#484848" stroke-width="0.7" />
<line x1="225" y1="177.5" x2="225" y2="257.5" stroke="#222" stroke-width="0.9" />
<line x1="225" y1="257.5" x2="330.5" y2="257.5" stroke="#222" stroke-width="0.9" />
<line x1="224.6" y1="178.7" x2="226.1" y2="178.7" stroke="#333" stroke-width="0.6" />
<text x="223" y="180.07" text-anchor="end" fill="#161616" stroke="#161616" style="font-size:3.8px;font-weight:bold;">10<tspan dy="-1.71" style="font-size:2.36px">0</tspan></text>
<line x1="224.6" y1="189.4" x2="226.1" y2="189.4" stroke="#333" stroke-width="0.6" />
<text x="223" y="190.77" text-anchor="end" fill="#161616" stroke="#161616" style="font-size:3.8px;font-weight:bold;">10<tspan dy="-1.71" style="font-size:2.36px">&#8722;1</tspan></text>
<line x1="224.6" y1="200.1" x2="226.1" y2="200.1" stroke="#333" stroke-width="0.6" />
<text x="223" y="201.47" text-anchor="end" fill="#161616" stroke="#161616" style="font-size:3.8px;font-weight:bold;">10<tspan dy="-1.71" style="font-size:2.36px">&#8722;2</tspan></text>
<line x1="224.6" y1="210.8" x2="226.1" y2="210.8" stroke="#333" stroke-width="0.6" />
<text x="223" y="212.17" text-anchor="end" fill="#161616" stroke="#161616" style="font-size:3.8px;font-weight:bold;">10<tspan dy="-1.71" style="font-size:2.36px">&#8722;3</tspan></text>
<line x1="224.6" y1="221.5" x2="226.1" y2="221.5" stroke="#333" stroke-width="0.6" />
<text x="223" y="222.87" text-anchor="end" fill="#161616" stroke="#161616" style="font-size:3.8px;font-weight:bold;">10<tspan dy="-1.71" style="font-size:2.36px">&#8722;4</tspan></text>
<line x1="224.6" y1="232.2" x2="226.1" y2="232.2" stroke="#333" stroke-width="0.6" />
<text x="223" y="233.57" text-anchor="end" fill="#161616" stroke="#161616" style="font-size:3.8px;font-weight:bold;">10<tspan dy="-1.71" style="font-size:2.36px">&#8722;5</tspan></text>
<line x1="224.6" y1="242.9" x2="226.1" y2="242.9" stroke="#333" stroke-width="0.6" />
<text x="223" y="244.27" text-anchor="end" fill="#161616" stroke="#161616" style="font-size:3.8px;font-weight:bold;">10<tspan dy="-1.71" style="font-size:2.36px">&#8722;6</tspan></text>
<line x1="224.6" y1="253.6" x2="226.1" y2="253.6" stroke="#333" stroke-width="0.6" />
<text x="223" y="254.97" text-anchor="end" fill="#161616" stroke="#161616" style="font-size:3.8px;font-weight:bold;">10<tspan dy="-1.71" style="font-size:2.36px">&#8722;7</tspan></text>
<line x1="227.5" y1="257.5" x2="227.5" y2="256" stroke="#333" stroke-width="0.6" />
<text x="227.5" y="262.47" text-anchor="middle" fill="#161616" stroke="#161616" style="font-size:3.8px;font-weight:bold;">1</text>
<line x1="243.2" y1="257.5" x2="243.2" y2="256" stroke="#333" stroke-width="0.6" />
<text x="243.2" y="262.47" text-anchor="middle" fill="#161616" stroke="#161616" style="font-size:3.8px;font-weight:bold;">2</text>
<line x1="258.9" y1="257.5" x2="258.9" y2="256" stroke="#333" stroke-width="0.6" />
<text x="258.9" y="262.47" text-anchor="middle" fill="#161616" stroke="#161616" style="font-size:3.8px;font-weight:bold;">3</text>
<line x1="274.6" y1="257.5" x2="274.6" y2="256" stroke="#333" stroke-width="0.6" />
<text x="274.6" y="262.47" text-anchor="middle" fill="#161616" stroke="#161616" style="font-size:3.8px;font-weight:bold;">4</text>
<line x1="290.3" y1="257.5" x2="290.3" y2="256" stroke="#333" stroke-width="0.6" />
<text x="290.3" y="262.47" text-anchor="middle" fill="#161616" stroke="#161616" style="font-size:3.8px;font-weight:bold;">5</text>
<line x1="306" y1="257.5" x2="306" y2="256" stroke="#333" stroke-width="0.6" />
<text x="306" y="262.47" text-anchor="middle" fill="#161616" stroke="#161616" style="font-size:3.8px;font-weight:bold;">6</text>
<line x1="321.7" y1="257.5" x2="321.7" y2="256" stroke="#333" stroke-width="0.6" />
<text x="321.7" y="262.47" text-anchor="middle" fill="#161616" stroke="#161616" style="font-size:3.8px;font-weight:bold;">7</text>
<text x="234" y="218" text-anchor="middle" fill="#161616" stroke="#161616" style="font-size:4.6px;font-weight:bold;" transform="rotate(-90 234 218)">Transmission</text>
<text x="263.1" y="251.53" text-anchor="start" fill="#161616" stroke="#161616" style="font-size:4.8px;font-weight:bold;">length (nm)</text>
<rect x="230.4" y="241" width="22.5" height="12.4" fill="none" stroke="#bbb" stroke-width="0.5" />
<circle cx="230" cy="186" r="1.7" fill="#222" stroke="none" stroke-width="0.5"/>
<circle cx="243" cy="194" r="1.7" fill="#222" stroke="none" stroke-width="0.5"/>
<circle cx="256.6" cy="203.6" r="1.7" fill="#222" stroke="none" stroke-width="0.5"/>
<circle cx="270" cy="213" r="1.7" fill="#222" stroke="none" stroke-width="0.5"/>
<circle cx="283" cy="222.2" r="1.7" fill="#222" stroke="none" stroke-width="0.5"/>
<circle cx="295.9" cy="231.4" r="1.7" fill="#222" stroke="none" stroke-width="0.5"/>
<circle cx="309.3" cy="240.8" r="1.7" fill="#222" stroke="none" stroke-width="0.5"/>
<circle cx="322.7" cy="250" r="1.7" fill="#222" stroke="none" stroke-width="0.5"/>
<circle cx="233.5" cy="186.5" r="1.7" fill="#22ee22" stroke="none" stroke-width="0.5"/>
<circle cx="246.5" cy="192.6" r="1.7" fill="#22ee22" stroke="none" stroke-width="0.5"/>
<circle cx="259.9" cy="203" r="1.7" fill="#22ee22" stroke="none" stroke-width="0.5"/>
<circle cx="272.4" cy="208.1" r="1.7" fill="#22ee22" stroke="none" stroke-width="0.5"/>
<circle cx="285.8" cy="224.4" r="1.7" fill="#22ee22" stroke="none" stroke-width="0.5"/>
<circle cx="234.7" cy="243.9" r="1.7" fill="#222" stroke="none" stroke-width="0.5"/>
<circle cx="234.7" cy="250.5" r="1.7" fill="#22ee22" stroke="none" stroke-width="0.5"/>
<text x="240.8" y="245.66" text-anchor="start" fill="#161616" stroke="#161616" style="font-size:4.9px;font-weight:bold;">0K</text>
<text x="240.8" y="252.26" text-anchor="start" fill="#161616" stroke="#161616" style="font-size:4.9px;font-weight:bold;">300K</text>
<polyline points="218,153.51 237.01,166.64 256.02,179.61 275.03,193.35 294.04,205.71 313.05,218.83 332.06,232.26 351.07,245.7" fill="none" stroke="#111" stroke-width="1.9" stroke-linejoin="round" />
<circle cx="218" cy="153.51" r="1.9" fill="#999" stroke="#111" stroke-width="0.8"/>
<circle cx="237.01" cy="166.64" r="1.9" fill="#999" stroke="#111" stroke-width="0.8"/>
<circle cx="256.02" cy="179.61" r="1.9" fill="#999" stroke="#111" stroke-width="0.8"/>
<circle cx="275.03" cy="193.35" r="1.9" fill="#999" stroke="#111" stroke-width="0.8"/>
<circle cx="294.04" cy="205.71" r="1.9" fill="#999" stroke="#111" stroke-width="0.8"/>
<circle cx="313.05" cy="218.83" r="1.9" fill="#999" stroke="#111" stroke-width="0.8"/>
<circle cx="332.06" cy="232.26" r="1.9" fill="#999" stroke="#111" stroke-width="0.8"/>
<circle cx="351.07" cy="245.7" r="1.9" fill="#999" stroke="#111" stroke-width="0.8"/>
<polyline points="218,155.19 237.01,164.8 256.02,178.54 275.03,186.17 294.04,209.07" fill="none" stroke="#22ee22" stroke-width="1.9" stroke-linejoin="round" />
<circle cx="218" cy="155.19" r="1.9" fill="#b0ffb0" stroke="#22ee22" stroke-width="0.8"/>
<circle cx="237.01" cy="164.8" r="1.9" fill="#b0ffb0" stroke="#22ee22" stroke-width="0.8"/>
<circle cx="256.02" cy="178.54" r="1.9" fill="#b0ffb0" stroke="#22ee22" stroke-width="0.8"/>
<circle cx="275.03" cy="186.17" r="1.9" fill="#b0ffb0" stroke="#22ee22" stroke-width="0.8"/>
<circle cx="294.04" cy="209.07" r="1.9" fill="#b0ffb0" stroke="#22ee22" stroke-width="0.8"/>
<line x1="312.1" y1="158.4" x2="326.8" y2="158.4" stroke="#111" stroke-width="1.9" />
<circle cx="319.45" cy="158.4" r="1.5" fill="#999" stroke="#111" stroke-width="0.8"/>
<line x1="312.1" y1="167.1" x2="326.8" y2="167.1" stroke="#22ee22" stroke-width="1.9" />
<circle cx="319.45" cy="167.1" r="1.5" fill="#b0ffb0" stroke="#22ee22" stroke-width="0.8"/>
<text x="329" y="160.94" text-anchor="start" fill="#161616" stroke="#161616" style="font-size:7.05px;font-weight:bold;font-style:italic;">0K</text>
<text x="329" y="169.64" text-anchor="start" fill="#161616" stroke="#161616" style="font-size:7.05px;font-weight:bold;font-style:italic;">300K</text>
<text x="185.9" y="147.8" fill="#1a1a1a" stroke="#1a1a1a" style="font-size:8.7px;font-weight:bold;stroke-width:0.3px">(e)</text>
<text x="195.3" y="200" text-anchor="middle" fill="#161616" stroke="#161616" style="font-size:6.6px;font-weight:bold;" transform="rotate(-90 195.3 200)">Transmission</text>
<text x="277.8" y="281.8" text-anchor="middle" fill="#161616" stroke="#161616" style="font-size:6.2px;font-weight:bold;">Number of C<tspan dy="1.3" style="font-size:4.2px">2</tspan><tspan dy="-1.3">N rings</tspan></text>
<rect x="386.7" y="145" width="158.3" height="121.3" fill="none" stroke="#484848" stroke-width="1.1" />
<line x1="386.7" y1="266.3" x2="388.9" y2="266.3" stroke="#333" stroke-width="0.95" />
<text x="383.8" y="268.51" text-anchor="end" fill="#161616" stroke="#161616" style="font-size:5.3px;font-weight:bold;">0.02</text>
<line x1="386.7" y1="254.17" x2="388.9" y2="254.17" stroke="#333" stroke-width="0.95" />
<text x="383.8" y="256.38" text-anchor="end" fill="#161616" stroke="#161616" style="font-size:5.3px;font-weight:bold;">0.04</text>
<line x1="386.7" y1="242.04" x2="388.9" y2="242.04" stroke="#333" stroke-width="0.95" />
<text x="383.8" y="244.25" text-anchor="end" fill="#161616" stroke="#161616" style="font-size:5.3px;font-weight:bold;">0.06</text>
<line x1="386.7" y1="229.91" x2="388.9" y2="229.91" stroke="#333" stroke-width="0.95" />
<text x="383.8" y="232.12" text-anchor="end" fill="#161616" stroke="#161616" style="font-size:5.3px;font-weight:bold;">0.08</text>
<line x1="386.7" y1="217.78" x2="388.9" y2="217.78" stroke="#333" stroke-width="0.95" />
<text x="383.8" y="219.99" text-anchor="end" fill="#161616" stroke="#161616" style="font-size:5.3px;font-weight:bold;">0.10</text>
<line x1="386.7" y1="205.65" x2="388.9" y2="205.65" stroke="#333" stroke-width="0.95" />
<text x="383.8" y="207.86" text-anchor="end" fill="#161616" stroke="#161616" style="font-size:5.3px;font-weight:bold;">0.12</text>
<line x1="386.7" y1="193.52" x2="388.9" y2="193.52" stroke="#333" stroke-width="0.95" />
<text x="383.8" y="195.73" text-anchor="end" fill="#161616" stroke="#161616" style="font-size:5.3px;font-weight:bold;">0.14</text>
<line x1="386.7" y1="181.39" x2="388.9" y2="181.39" stroke="#333" stroke-width="0.95" />
<text x="383.8" y="183.6" text-anchor="end" fill="#161616" stroke="#161616" style="font-size:5.3px;font-weight:bold;">0.16</text>
<line x1="386.7" y1="169.26" x2="388.9" y2="169.26" stroke="#333" stroke-width="0.95" />
<text x="383.8" y="171.47" text-anchor="end" fill="#161616" stroke="#161616" style="font-size:5.3px;font-weight:bold;">0.18</text>
<line x1="386.7" y1="157.13" x2="388.9" y2="157.13" stroke="#333" stroke-width="0.95" />
<text x="383.8" y="159.34" text-anchor="end" fill="#161616" stroke="#161616" style="font-size:5.3px;font-weight:bold;">0.20</text>
<line x1="386.7" y1="145" x2="388.9" y2="145" stroke="#333" stroke-width="0.95" />
<text x="383.8" y="147.21" text-anchor="end" fill="#161616" stroke="#161616" style="font-size:5.3px;font-weight:bold;">0.22</text>
<line x1="386.7" y1="260.24" x2="388" y2="260.24" stroke="#484848" stroke-width="0.7" />
<line x1="386.7" y1="248.1" x2="388" y2="248.1" stroke="#484848" stroke-width="0.7" />
<line x1="386.7" y1="235.97" x2="388" y2="235.97" stroke="#484848" stroke-width="0.7" />
<line x1="386.7" y1="223.84" x2="388" y2="223.84" stroke="#484848" stroke-width="0.7" />
<line x1="386.7" y1="211.72" x2="388" y2="211.72" stroke="#484848" stroke-width="0.7" />
<line x1="386.7" y1="199.59" x2="388" y2="199.59" stroke="#484848" stroke-width="0.7" />
<line x1="386.7" y1="187.46" x2="388" y2="187.46" stroke="#484848" stroke-width="0.7" />
<line x1="386.7" y1="175.32" x2="388" y2="175.32" stroke="#484848" stroke-width="0.7" />
<line x1="386.7" y1="163.19" x2="388" y2="163.19" stroke="#484848" stroke-width="0.7" />
<line x1="386.7" y1="151.06" x2="388" y2="151.06" stroke="#484848" stroke-width="0.7" />
<line x1="397.3" y1="266.3" x2="397.3" y2="264.1" stroke="#333" stroke-width="0.95" />
<text x="397.3" y="274.11" text-anchor="middle" fill="#161616" stroke="#161616" style="font-size:5.3px;font-weight:bold;">0</text>
<line x1="432.45" y1="266.3" x2="432.45" y2="264.1" stroke="#333" stroke-width="0.95" />
<text x="432.45" y="274.11" text-anchor="middle" fill="#161616" stroke="#161616" style="font-size:5.3px;font-weight:bold;">100</text>
<line x1="467.6" y1="266.3" x2="467.6" y2="264.1" stroke="#333" stroke-width="0.95" />
<text x="467.6" y="274.11" text-anchor="middle" fill="#161616" stroke="#161616" style="font-size:5.3px;font-weight:bold;">200</text>
<line x1="502.75" y1="266.3" x2="502.75" y2="264.1" stroke="#333" stroke-width="0.95" />
<text x="502.75" y="274.11" text-anchor="middle" fill="#161616" stroke="#161616" style="font-size:5.3px;font-weight:bold;">300</text>
<line x1="537.9" y1="266.3" x2="537.9" y2="264.1" stroke="#333" stroke-width="0.95" />
<text x="537.9" y="274.11" text-anchor="middle" fill="#161616" stroke="#161616" style="font-size:5.3px;font-weight:bold;">400</text>
<line x1="414.88" y1="266.3" x2="414.88" y2="265" stroke="#484848" stroke-width="0.7" />
<line x1="450.02" y1="266.3" x2="450.02" y2="265" stroke="#484848" stroke-width="0.7" />
<line x1="485.18" y1="266.3" x2="485.18" y2="265" stroke="#484848" stroke-width="0.7" />
<line x1="520.33" y1="266.3" x2="520.33" y2="265" stroke="#484848" stroke-width="0.7" />
<polyline points="397.3,154.1 502.75,170.47 520.33,205.04 537.9,164.41" fill="none" stroke="#ff1a8c" stroke-width="2.2" stroke-linejoin="round" />
<path d="M397.3,151.7 L399.7,154.1 L397.3,156.5 L394.9,154.1 Z" fill="white" stroke="#ff1a8c" stroke-width="0.7"/>
<path d="M397.3,151.7 L399.7,154.1 L397.3,156.5 Z" fill="#ff1a8c"/>
<path d="M502.75,168.07 L505.15,170.47 L502.75,172.87 L500.35,170.47 Z" fill="white" stroke="#ff1a8c" stroke-width="0.7"/>
<path d="M502.75,168.07 L505.15,170.47 L502.75,172.87 Z" fill="#ff1a8c"/>
<path d="M520.33,202.64 L522.73,205.04 L520.33,207.44 L517.93,205.04 Z" fill="white" stroke="#ff1a8c" stroke-width="0.7"/>
<path d="M520.33,202.64 L522.73,205.04 L520.33,207.44 Z" fill="#ff1a8c"/>
<path d="M537.9,162.01 L540.3,164.41 L537.9,166.81 L535.5,164.41 Z" fill="white" stroke="#ff1a8c" stroke-width="0.7"/>
<path d="M537.9,162.01 L540.3,164.41 L537.9,166.81 Z" fill="#ff1a8c"/>
<polyline points="397.3,255.99 502.75,249.92 520.33,235.97 537.9,241.43" fill="none" stroke="#8a1cf0" stroke-width="2.2" stroke-linejoin="round" />
<path d="M397.3,253.68 L399.4,255.67 L398.98,258.09 L395.62,258.09 L395.2,255.67 Z" fill="white" stroke="#8a1cf0" stroke-width="0.7"/>
<path d="M397.3,253.68 L399.4,255.67 L395.2,255.67 Z" fill="#8a1cf0"/>
<path d="M502.75,247.61 L504.85,249.61 L504.43,252.02 L501.07,252.02 L500.65,249.61 Z" fill="white" stroke="#8a1cf0" stroke-width="0.7"/>
<path d="M502.75,247.61 L504.85,249.61 L500.65,249.61 Z" fill="#8a1cf0"/>
<path d="M520.33,233.66 L522.43,235.66 L522,238.07 L518.65,238.07 L518.23,235.66 Z" fill="white" stroke="#8a1cf0" stroke-width="0.7"/>
<path d="M520.33,233.66 L522.43,235.66 L518.23,235.66 Z" fill="#8a1cf0"/>
<path d="M537.9,239.12 L540,241.12 L539.58,243.53 L536.22,243.53 L535.8,241.12 Z" fill="white" stroke="#8a1cf0" stroke-width="0.7"/>
<path d="M537.9,239.12 L540,241.12 L535.8,241.12 Z" fill="#8a1cf0"/>
<line x1="415" y1="200.5" x2="431.4" y2="200.5" stroke="#ff1a8c" stroke-width="2.2" />
<path d="M423.2,198.1 L425.6,200.5 L423.2,202.9 L420.8,200.5 Z" fill="white" stroke="#ff1a8c" stroke-width="0.7"/>
<path d="M423.2,198.1 L425.6,200.5 L423.2,202.9 Z" fill="#ff1a8c"/>
<line x1="415" y1="212.7" x2="431.4" y2="212.7" stroke="#8a1cf0" stroke-width="2.2" />
<path d="M423.2,210.39 L425.3,212.38 L424.88,214.8 L421.52,214.8 L421.1,212.38 Z" fill="white" stroke="#8a1cf0" stroke-width="0.7"/>
<path d="M423.2,210.39 L425.3,212.38 L421.1,212.38 Z" fill="#8a1cf0"/>
<text x="432.7" y="202.84" text-anchor="start" fill="#161616" stroke="#161616" style="font-size:6.5px;font-weight:bold;font-style:italic;">Ring 1</text>
<text x="432.7" y="215.04" text-anchor="start" fill="#161616" stroke="#161616" style="font-size:6.5px;font-weight:bold;font-style:italic;">Ring 2</text>
<text x="363.8" y="147.4" fill="#1a1a1a" stroke="#1a1a1a" style="font-size:8.7px;font-weight:bold;stroke-width:0.3px">(f)</text>
<text x="370.5" y="206.1" text-anchor="middle" fill="#161616" stroke="#161616" style="font-size:7.2px;font-weight:bold;" transform="rotate(-90 370.5 206.1)">Transmission</text>
<text x="467.9" y="281.9" text-anchor="middle" fill="#161616" stroke="#161616" style="font-size:6.5px;font-weight:bold;">T (K)</text>
<rect x="66.5" y="292.5" width="106.8" height="54.5" fill="#f8cfbb" stroke="none" stroke-width="1" />
<path d="M66.8,293.27L66.8,295.62M70.87,295.62L68.84,296.8M68.84,296.8L66.8,295.62M66.8,295.62L66.8,293.27M70.87,293.27L70.87,295.62M74.94,295.62L72.91,296.8M72.91,296.8L70.87,295.62M70.87,295.62L70.87,293.27M74.94,293.27L74.94,295.62M79.01,295.62L76.98,296.8M76.98,296.8L74.94,295.62M74.94,295.62L74.94,293.27M79.01,293.27L79.01,295.62M83.08,295.62L81.05,296.8M81.05,296.8L79.01,295.62M79.01,295.62L79.01,293.27M83.08,293.27L83.08,295.62M87.15,295.62L85.12,296.8M85.12,296.8L83.08,295.62M83.08,295.62L83.08,293.27M87.15,293.27L87.15,295.62M87.15,295.62L87.15,293.27M68.84,299.14L66.8,300.32M66.8,295.62L68.84,296.79M68.84,296.79L68.84,299.14M72.91,299.14L70.87,300.32M70.87,300.32L68.84,299.14M68.84,299.14L68.84,296.79M68.84,296.79L70.87,295.62M70.87,295.62L72.91,296.79M72.91,296.79L72.91,299.14M76.98,299.14L74.94,300.32M74.94,300.32L72.91,299.14M72.91,299.14L72.91,296.79M72.91,296.79L74.94,295.62M74.94,295.62L76.98,296.79M76.98,296.79L76.98,299.14M81.05,299.14L79.01,300.32M79.01,300.32L76.98,299.14M76.98,299.14L76.98,296.79M76.98,296.79L79.01,295.62M79.01,295.62L81.05,296.79M81.05,296.79L81.05,299.14M85.12,299.14L83.08,300.32M83.08,300.32L81.05,299.14M81.05,299.14L81.05,296.79M81.05,296.79L83.08,295.62M83.08,295.62L85.12,296.79M85.12,296.79L85.12,299.14M87.15,300.32L85.12,299.14M85.12,299.14L85.12,296.79M85.12,296.79L87.15,295.62M66.8,300.32L66.8,302.67M70.87,302.67L68.84,303.84M68.84,303.84L66.8,302.67M66.8,302.67L66.8,300.32M66.8,300.32L68.84,299.14M68.84,299.14L70.87,300.32M70.87,300.32L70.87,302.67M74.94,302.67L72.91,303.84M72.91,303.84L70.87,302.67M70.87,302.67L70.87,300.32M70.87,300.32L72.91,299.14M72.91,299.14L74.94,300.32M74.94,300.32L74.94,302.67M79.01,302.67L76.98,303.84M76.98,303.84L74.94,302.67M74.94,302.67L74.94,300.32M74.94,300.32L76.98,299.14M76.98,299.14L79.01,300.32M79.01,300.32L79.01,302.67M83.08,302.67L81.05,303.84M81.05,303.84L79.01,302.67M79.01,302.67L79.01,300.32M79.01,300.32L81.05,299.14M81.05,299.14L83.08,300.32M83.08,300.32L83.08,302.67M87.15,302.67L85.12,303.84M85.12,303.84L83.08,302.67M83.08,302.67L83.08,300.32M83.08,300.32L85.12,299.14M85.12,299.14L87.15,300.32M87.15,300.32L87.15,302.67M87.15,302.67L87.15,300.32M68.84,306.19L66.8,307.37M66.8,302.67L68.84,303.84M68.84,303.84L68.84,306.19M72.91,306.19L70.87,307.37M70.87,307.37L68.84,306.19M68.84,306.19L68.84,303.84M68.84,303.84L70.87,302.67M70.87,302.67L72.91,303.84M72.91,303.84L72.91,306.19M76.98,306.19L74.94,307.37M74.94,307.37L72.91,306.19M72.91,306.19L72.91,303.84M72.91,303.84L74.94,302.67M74.94,302.67L76.98,303.84M76.98,303.84L76.98,306.19M81.05,306.19L79.01,307.37M79.01,307.37L76.98,306.19M76.98,306.19L76.98,303.84M76.98,303.84L79.01,302.67M79.01,302.67L81.05,303.84M81.05,303.84L81.05,306.19M85.12,306.19L83.08,307.37M83.08,307.37L81.05,306.19M81.05,306.19L81.05,303.84M81.05,303.84L83.08,302.67M83.08,302.67L85.12,303.84M85.12,303.84L85.12,306.19M87.15,307.37L85.12,306.19M85.12,306.19L85.12,303.84M85.12,303.84L87.15,302.67M66.8,307.37L66.8,309.72M70.87,309.72L68.84,310.89M68.84,310.89L66.8,309.72M66.8,309.72L66.8,307.37M66.8,307.37L68.84,306.19M68.84,306.19L70.87,307.37M70.87,307.37L70.87,309.72M74.94,309.72L72.91,310.89M72.91,310.89L70.87,309.72M70.87,309.72L70.87,307.37M70.87,307.37L72.91,306.19M72.91,306.19L74.94,307.37M74.94,307.37L74.94,309.72M79.01,309.72L76.98,310.89M76.98,310.89L74.94,309.72M74.94,309.72L74.94,307.37M74.94,307.37L76.98,306.19M76.98,306.19L79.01,307.37M79.01,307.37L79.01,309.72M83.08,309.72L81.05,310.89M81.05,310.89L79.01,309.72M79.01,309.72L79.01,307.37M79.01,307.37L81.05,306.19M81.05,306.19L83.08,307.37M83.08,307.37L83.08,309.72M87.15,309.72L85.12,310.89M85.12,310.89L83.08,309.72M83.08,309.72L83.08,307.37M83.08,307.37L85.12,306.19M85.12,306.19L87.15,307.37M87.15,307.37L87.15,309.72M87.15,309.72L87.15,307.37M68.84,313.24L66.8,314.42M66.8,309.72L68.84,310.89M68.84,310.89L68.84,313.24M72.91,313.24L70.87,314.42M70.87,314.42L68.84,313.24M68.84,313.24L68.84,310.89M68.84,310.89L70.87,309.72M70.87,309.72L72.91,310.89M72.91,310.89L72.91,313.24M76.98,313.24L74.94,314.42M74.94,314.42L72.91,313.24M72.91,313.24L72.91,310.89M72.91,310.89L74.94,309.72M74.94,309.72L76.98,310.89M76.98,310.89L76.98,313.24M81.05,313.24L79.01,314.42M79.01,314.42L76.98,313.24M76.98,313.24L76.98,310.89M76.98,310.89L79.01,309.72M79.01,309.72L81.05,310.89M81.05,310.89L81.05,313.24M85.12,313.24L83.08,314.42M83.08,314.42L81.05,313.24M81.05,313.24L81.05,310.89M81.05,310.89L83.08,309.72M83.08,309.72L85.12,310.89M85.12,310.89L85.12,313.24M87.15,314.42L85.12,313.24M85.12,313.24L85.12,310.89M85.12,310.89L87.15,309.72M66.8,314.42L66.8,316.77M70.87,316.77L68.84,317.94M68.84,317.94L66.8,316.77M66.8,316.77L66.8,314.42M66.8,314.42L68.84,313.24M68.84,313.24L70.87,314.42M70.87,314.42L70.87,316.77M74.94,316.77L72.91,317.94M72.91,317.94L70.87,316.77M70.87,316.77L70.87,314.42M70.87,314.42L72.91,313.24M72.91,313.24L74.94,314.42M74.94,314.42L74.94,316.77M79.01,316.77L76.98,317.94M76.98,317.94L74.94,316.77M74.94,316.77L74.94,314.42M74.94,314.42L76.98,313.24M76.98,313.24L79.01,314.42M79.01,314.42L79.01,316.77M83.08,316.77L81.05,317.94M81.05,317.94L79.01,316.77M79.01,316.77L79.01,314.42M79.01,314.42L81.05,313.24M81.05,313.24L83.08,314.42M83.08,314.42L83.08,316.77M87.15,316.77L85.12,317.94M85.12,317.94L83.08,316.77M83.08,316.77L83.08,314.42M83.08,314.42L85.12,313.24M85.12,313.24L87.15,314.42M87.15,314.42L87.15,316.77M87.15,316.77L87.15,314.42M68.84,320.29L66.8,321.47M66.8,316.77L68.84,317.94M68.84,317.94L68.84,320.29M72.91,320.29L70.87,321.47M70.87,321.47L68.84,320.29M68.84,320.29L68.84,317.94M68.84,317.94L70.87,316.77M70.87,316.77L72.91,317.94M72.91,317.94L72.91,320.29M76.98,320.29L74.94,321.47M74.94,321.47L72.91,320.29M72.91,320.29L72.91,317.94M72.91,317.94L74.94,316.77M74.94,316.77L76.98,317.94M76.98,317.94L76.98,320.29M81.05,320.29L79.01,321.47M79.01,321.47L76.98,320.29M76.98,320.29L76.98,317.94M76.98,317.94L79.01,316.77M79.01,316.77L81.05,317.94M81.05,317.94L81.05,320.29M85.12,320.29L83.08,321.47M83.08,321.47L81.05,320.29M81.05,320.29L81.05,317.94M81.05,317.94L83.08,316.77M83.08,316.77L85.12,317.94M85.12,317.94L85.12,320.29M87.15,321.47L85.12,320.29M85.12,320.29L85.12,317.94M85.12,317.94L87.15,316.77M66.8,321.47L66.8,323.82M70.87,323.82L68.84,324.99M68.84,324.99L66.8,323.82M66.8,323.82L66.8,321.47M66.8,321.47L68.84,320.29M68.84,320.29L70.87,321.47M70.87,321.47L70.87,323.82M74.94,323.82L72.91,324.99M72.91,324.99L70.87,323.82M70.87,323.82L70.87,321.47M70.87,321.47L72.91,320.29M72.91,320.29L74.94,321.47M74.94,321.47L74.94,323.82M79.01,323.82L76.98,324.99M76.98,324.99L74.94,323.82M74.94,323.82L74.94,321.47M74.94,321.47L76.98,320.29M76.98,320.29L79.01,321.47M79.01,321.47L79.01,323.82M83.08,323.82L81.05,324.99M81.05,324.99L79.01,323.82M79.01,323.82L79.01,321.47M79.01,321.47L81.05,320.29M81.05,320.29L83.08,321.47M83.08,321.47L83.08,323.82M87.15,323.82L85.12,324.99M85.12,324.99L83.08,323.82M83.08,323.82L83.08,321.47M83.08,321.47L85.12,320.29M85.12,320.29L87.15,321.47M87.15,321.47L87.15,323.82M87.15,323.82L87.15,321.47M68.84,327.34L66.8,328.52M66.8,323.82L68.84,324.99M68.84,324.99L68.84,327.34M72.91,327.34L70.87,328.52M70.87,328.52L68.84,327.34M68.84,327.34L68.84,324.99M68.84,324.99L70.87,323.82M70.87,323.82L72.91,324.99M72.91,324.99L72.91,327.34M76.98,327.34L74.94,328.52M74.94,328.52L72.91,327.34M72.91,327.34L72.91,324.99M72.91,324.99L74.94,323.82M74.94,323.82L76.98,324.99M76.98,324.99L76.98,327.34M81.05,327.34L79.01,328.52M79.01,328.52L76.98,327.34M76.98,327.34L76.98,324.99M76.98,324.99L79.01,323.82M79.01,323.82L81.05,324.99M81.05,324.99L81.05,327.34M85.12,327.34L83.08,328.52M83.08,328.52L81.05,327.34M81.05,327.34L81.05,324.99M81.05,324.99L83.08,323.82M83.08,323.82L85.12,324.99M85.12,324.99L85.12,327.34M87.15,328.52L85.12,327.34M85.12,327.34L85.12,324.99M85.12,324.99L87.15,323.82M66.8,328.52L66.8,330.87M70.87,330.87L68.84,332.04M68.84,332.04L66.8,330.87M66.8,330.87L66.8,328.52M66.8,328.52L68.84,327.34M68.84,327.34L70.87,328.52M70.87,328.52L70.87,330.87M74.94,330.87L72.91,332.04M72.91,332.04L70.87,330.87M70.87,330.87L70.87,328.52M70.87,328.52L72.91,327.34M72.91,327.34L74.94,328.52M74.94,328.52L74.94,330.87M79.01,330.87L76.98,332.04M76.98,332.04L74.94,330.87M74.94,330.87L74.94,328.52M74.94,328.52L76.98,327.34M76.98,327.34L79.01,328.52M79.01,328.52L79.01,330.87M83.08,330.87L81.05,332.04M81.05,332.04L79.01,330.87M79.01,330.87L79.01,328.52M79.01,328.52L81.05,327.34M81.05,327.34L83.08,328.52M83.08,328.52L83.08,330.87M87.15,330.87L85.12,332.04M85.12,332.04L83.08,330.87M83.08,330.87L83.08,328.52M83.08,328.52L85.12,327.34M85.12,327.34L87.15,328.52M87.15,328.52L87.15,330.87M87.15,330.87L87.15,328.52M68.84,334.39L66.8,335.57M66.8,330.87L68.84,332.04M68.84,332.04L68.84,334.39M72.91,334.39L70.87,335.57M70.87,335.57L68.84,334.39M68.84,334.39L68.84,332.04M68.84,332.04L70.87,330.87M70.87,330.87L72.91,332.04M72.91,332.04L72.91,334.39M76.98,334.39L74.94,335.57M74.94,335.57L72.91,334.39M72.91,334.39L72.91,332.04M72.91,332.04L74.94,330.87M74.94,330.87L76.98,332.04M76.98,332.04L76.98,334.39M81.05,334.39L79.01,335.57M79.01,335.57L76.98,334.39M76.98,334.39L76.98,332.04M76.98,332.04L79.01,330.87M79.01,330.87L81.05,332.04M81.05,332.04L81.05,334.39M85.12,334.39L83.08,335.57M83.08,335.57L81.05,334.39M81.05,334.39L81.05,332.04M81.05,332.04L83.08,330.87M83.08,330.87L85.12,332.04M85.12,332.04L85.12,334.39M87.15,335.57L85.12,334.39M85.12,334.39L85.12,332.04M85.12,332.04L87.15,330.87M66.8,335.57L66.8,337.92M70.87,337.92L68.84,339.09M68.84,339.09L66.8,337.92M66.8,337.92L66.8,335.57M66.8,335.57L68.84,334.39M68.84,334.39L70.87,335.57M70.87,335.57L70.87,337.92M74.94,337.92L72.91,339.09M72.91,339.09L70.87,337.92M70.87,337.92L70.87,335.57M70.87,335.57L72.91,334.39M72.91,334.39L74.94,335.57M74.94,335.57L74.94,337.92M79.01,337.92L76.98,339.09M76.98,339.09L74.94,337.92M74.94,337.92L74.94,335.57M74.94,335.57L76.98,334.39M76.98,334.39L79.01,335.57M79.01,335.57L79.01,337.92M83.08,337.92L81.05,339.09M81.05,339.09L79.01,337.92M79.01,337.92L79.01,335.57M79.01,335.57L81.05,334.39M81.05,334.39L83.08,335.57M83.08,335.57L83.08,337.92M87.15,337.92L85.12,339.09M85.12,339.09L83.08,337.92M83.08,337.92L83.08,335.57M83.08,335.57L85.12,334.39M85.12,334.39L87.15,335.57M87.15,335.57L87.15,337.92M87.15,337.92L87.15,335.57M68.84,341.44L66.8,342.62M66.8,337.92L68.84,339.09M68.84,339.09L68.84,341.44M72.91,341.44L70.87,342.62M70.87,342.62L68.84,341.44M68.84,341.44L68.84,339.09M68.84,339.09L70.87,337.92M70.87,337.92L72.91,339.09M72.91,339.09L72.91,341.44M76.98,341.44L74.94,342.62M74.94,342.62L72.91,341.44M72.91,341.44L72.91,339.09M72.91,339.09L74.94,337.92M74.94,337.92L76.98,339.09M76.98,339.09L76.98,341.44M81.05,341.44L79.01,342.62M79.01,342.62L76.98,341.44M76.98,341.44L76.98,339.09M76.98,339.09L79.01,337.92M79.01,337.92L81.05,339.09M81.05,339.09L81.05,341.44M85.12,341.44L83.08,342.62M83.08,342.62L81.05,341.44M81.05,341.44L81.05,339.09M81.05,339.09L83.08,337.92M83.08,337.92L85.12,339.09M85.12,339.09L85.12,341.44M87.15,342.62L85.12,341.44M85.12,341.44L85.12,339.09M85.12,339.09L87.15,337.92M66.8,342.62L66.8,344.97M70.87,344.97L68.84,346.14M68.84,346.14L66.8,344.97M66.8,344.97L66.8,342.62M66.8,342.62L68.84,341.44M68.84,341.44L70.87,342.62M70.87,342.62L70.87,344.97M74.94,344.97L72.91,346.14M72.91,346.14L70.87,344.97M70.87,344.97L70.87,342.62M70.87,342.62L72.91,341.44M72.91,341.44L74.94,342.62M74.94,342.62L74.94,344.97M79.01,344.97L76.98,346.14M76.98,346.14L74.94,344.97M74.94,344.97L74.94,342.62M74.94,342.62L76.98,341.44M76.98,341.44L79.01,342.62M79.01,342.62L79.01,344.97M83.08,344.97L81.05,346.14M81.05,346.14L79.01,344.97M79.01,344.97L79.01,342.62M79.01,342.62L81.05,341.44M81.05,341.44L83.08,342.62M83.08,342.62L83.08,344.97M87.15,344.97L85.12,346.14M85.12,346.14L83.08,344.97M83.08,344.97L83.08,342.62M83.08,342.62L85.12,341.44M85.12,341.44L87.15,342.62M87.15,342.62L87.15,344.97M87.15,344.97L87.15,342.62M66.8,344.97L68.84,346.14M68.84,346.14L70.87,344.97M70.87,344.97L72.91,346.14M72.91,346.14L74.94,344.97M74.94,344.97L76.98,346.14M76.98,346.14L79.01,344.97M79.01,344.97L81.05,346.14M81.05,346.14L83.08,344.97M83.08,344.97L85.12,346.14M85.12,346.14L87.15,344.97" stroke="#858585" stroke-width="0.6" fill="none" stroke-linecap="round"/>
<path d="M154.9,293.27L154.9,295.62M158.97,295.62L156.94,296.8M156.94,296.8L154.9,295.62M154.9,295.62L154.9,293.27M158.97,293.27L158.97,295.62M163.04,295.62L161.01,296.8M161.01,296.8L158.97,295.62M158.97,295.62L158.97,293.27M163.04,293.27L163.04,295.62M167.11,295.62L165.08,296.8M165.08,296.8L163.04,295.62M163.04,295.62L163.04,293.27M167.11,293.27L167.11,295.62M171.18,295.62L169.15,296.8M169.15,296.8L167.11,295.62M167.11,295.62L167.11,293.27M171.18,293.27L171.18,295.62M171.18,295.62L171.18,293.27M156.94,299.14L154.9,300.32M154.9,295.62L156.94,296.79M156.94,296.79L156.94,299.14M161.01,299.14L158.97,300.32M158.97,300.32L156.94,299.14M156.94,299.14L156.94,296.79M156.94,296.79L158.97,295.62M158.97,295.62L161.01,296.79M161.01,296.79L161.01,299.14M165.08,299.14L163.04,300.32M163.04,300.32L161.01,299.14M161.01,299.14L161.01,296.79M161.01,296.79L163.04,295.62M163.04,295.62L165.08,296.79M165.08,296.79L165.08,299.14M169.15,299.14L167.11,300.32M167.11,300.32L165.08,299.14M165.08,299.14L165.08,296.79M165.08,296.79L167.11,295.62M167.11,295.62L169.15,296.79M169.15,296.79L169.15,299.14M171.18,300.32L169.15,299.14M169.15,299.14L169.15,296.79M169.15,296.79L171.18,295.62M154.9,300.32L154.9,302.67M158.97,302.67L156.94,303.84M156.94,303.84L154.9,302.67M154.9,302.67L154.9,300.32M154.9,300.32L156.94,299.14M156.94,299.14L158.97,300.32M158.97,300.32L158.97,302.67M163.04,302.67L161.01,303.84M161.01,303.84L158.97,302.67M158.97,302.67L158.97,300.32M158.97,300.32L161.01,299.14M161.01,299.14L163.04,300.32M163.04,300.32L163.04,302.67M167.11,302.67L165.08,303.84M165.08,303.84L163.04,302.67M163.04,302.67L163.04,300.32M163.04,300.32L165.08,299.14M165.08,299.14L167.11,300.32M167.11,300.32L167.11,302.67M171.18,302.67L169.15,303.84M169.15,303.84L167.11,302.67M167.11,302.67L167.11,300.32M167.11,300.32L169.15,299.14M169.15,299.14L171.18,300.32M171.18,300.32L171.18,302.67M171.18,302.67L171.18,300.32M156.94,306.19L154.9,307.37M154.9,302.67L156.94,303.84M156.94,303.84L156.94,306.19M161.01,306.19L158.97,307.37M158.97,307.37L156.94,306.19M156.94,306.19L156.94,303.84M156.94,303.84L158.97,302.67M158.97,302.67L161.01,303.84M161.01,303.84L161.01,306.19M165.08,306.19L163.04,307.37M163.04,307.37L161.01,306.19M161.01,306.19L161.01,303.84M161.01,303.84L163.04,302.67M163.04,302.67L165.08,303.84M165.08,303.84L165.08,306.19M169.15,306.19L167.11,307.37M167.11,307.37L165.08,306.19M165.08,306.19L165.08,303.84M165.08,303.84L167.11,302.67M167.11,302.67L169.15,303.84M169.15,303.84L169.15,306.19M171.18,307.37L169.15,306.19M169.15,306.19L169.15,303.84M169.15,303.84L171.18,302.67M154.9,307.37L154.9,309.72M158.97,309.72L156.94,310.89M156.94,310.89L154.9,309.72M154.9,309.72L154.9,307.37M154.9,307.37L156.94,306.19M156.94,306.19L158.97,307.37M158.97,307.37L158.97,309.72M163.04,309.72L161.01,310.89M161.01,310.89L158.97,309.72M158.97,309.72L158.97,307.37M158.97,307.37L161.01,306.19M161.01,306.19L163.04,307.37M163.04,307.37L163.04,309.72M167.11,309.72L165.08,310.89M165.08,310.89L163.04,309.72M163.04,309.72L163.04,307.37M163.04,307.37L165.08,306.19M165.08,306.19L167.11,307.37M167.11,307.37L167.11,309.72M171.18,309.72L169.15,310.89M169.15,310.89L167.11,309.72M167.11,309.72L167.11,307.37M167.11,307.37L169.15,306.19M169.15,306.19L171.18,307.37M171.18,307.37L171.18,309.72M171.18,309.72L171.18,307.37M156.94,313.24L154.9,314.42M154.9,309.72L156.94,310.89M156.94,310.89L156.94,313.24M161.01,313.24L158.97,314.42M158.97,314.42L156.94,313.24M156.94,313.24L156.94,310.89M156.94,310.89L158.97,309.72M158.97,309.72L161.01,310.89M161.01,310.89L161.01,313.24M165.08,313.24L163.04,314.42M163.04,314.42L161.01,313.24M161.01,313.24L161.01,310.89M161.01,310.89L163.04,309.72M163.04,309.72L165.08,310.89M165.08,310.89L165.08,313.24M169.15,313.24L167.11,314.42M167.11,314.42L165.08,313.24M165.08,313.24L165.08,310.89M165.08,310.89L167.11,309.72M167.11,309.72L169.15,310.89M169.15,310.89L169.15,313.24M171.18,314.42L169.15,313.24M169.15,313.24L169.15,310.89M169.15,310.89L171.18,309.72M154.9,314.42L154.9,316.77M158.97,316.77L156.94,317.94M156.94,317.94L154.9,316.77M154.9,316.77L154.9,314.42M154.9,314.42L156.94,313.24M156.94,313.24L158.97,314.42M158.97,314.42L158.97,316.77M163.04,316.77L161.01,317.94M161.01,317.94L158.97,316.77M158.97,316.77L158.97,314.42M158.97,314.42L161.01,313.24M161.01,313.24L163.04,314.42M163.04,314.42L163.04,316.77M167.11,316.77L165.08,317.94M165.08,317.94L163.04,316.77M163.04,316.77L163.04,314.42M163.04,314.42L165.08,313.24M165.08,313.24L167.11,314.42M167.11,314.42L167.11,316.77M171.18,316.77L169.15,317.94M169.15,317.94L167.11,316.77M167.11,316.77L167.11,314.42M167.11,314.42L169.15,313.24M169.15,313.24L171.18,314.42M171.18,314.42L171.18,316.77M171.18,316.77L171.18,314.42M156.94,320.29L154.9,321.47M154.9,316.77L156.94,317.94M156.94,317.94L156.94,320.29M161.01,320.29L158.97,321.47M158.97,321.47L156.94,320.29M156.94,320.29L156.94,317.94M156.94,317.94L158.97,316.77M158.97,316.77L161.01,317.94M161.01,317.94L161.01,320.29M165.08,320.29L163.04,321.47M163.04,321.47L161.01,320.29M161.01,320.29L161.01,317.94M161.01,317.94L163.04,316.77M163.04,316.77L165.08,317.94M165.08,317.94L165.08,320.29M169.15,320.29L167.11,321.47M167.11,321.47L165.08,320.29M165.08,320.29L165.08,317.94M165.08,317.94L167.11,316.77M167.11,316.77L169.15,317.94M169.15,317.94L169.15,320.29M171.18,321.47L169.15,320.29M169.15,320.29L169.15,317.94M169.15,317.94L171.18,316.77M154.9,321.47L154.9,323.82M158.97,323.82L156.94,324.99M156.94,324.99L154.9,323.82M154.9,323.82L154.9,321.47M154.9,321.47L156.94,320.29M156.94,320.29L158.97,321.47M158.97,321.47L158.97,323.82M163.04,323.82L161.01,324.99M161.01,324.99L158.97,323.82M158.97,323.82L158.97,321.47M158.97,321.47L161.01,320.29M161.01,320.29L163.04,321.47M163.04,321.47L163.04,323.82M167.11,323.82L165.08,324.99M165.08,324.99L163.04,323.82M163.04,323.82L163.04,321.47M163.04,321.47L165.08,320.29M165.08,320.29L167.11,321.47M167.11,321.47L167.11,323.82M171.18,323.82L169.15,324.99M169.15,324.99L167.11,323.82M167.11,323.82L167.11,321.47M167.11,321.47L169.15,320.29M169.15,320.29L171.18,321.47M171.18,321.47L171.18,323.82M171.18,323.82L171.18,321.47M156.94,327.34L154.9,328.52M154.9,323.82L156.94,324.99M156.94,324.99L156.94,327.34M161.01,327.34L158.97,328.52M158.97,328.52L156.94,327.34M156.94,327.34L156.94,324.99M156.94,324.99L158.97,323.82M158.97,323.82L161.01,324.99M161.01,324.99L161.01,327.34M165.08,327.34L163.04,328.52M163.04,328.52L161.01,327.34M161.01,327.34L161.01,324.99M161.01,324.99L163.04,323.82M163.04,323.82L165.08,324.99M165.08,324.99L165.08,327.34M169.15,327.34L167.11,328.52M167.11,328.52L165.08,327.34M165.08,327.34L165.08,324.99M165.08,324.99L167.11,323.82M167.11,323.82L169.15,324.99M169.15,324.99L169.15,327.34M171.18,328.52L169.15,327.34M169.15,327.34L169.15,324.99M169.15,324.99L171.18,323.82M154.9,328.52L154.9,330.87M158.97,330.87L156.94,332.04M156.94,332.04L154.9,330.87M154.9,330.87L154.9,328.52M154.9,328.52L156.94,327.34M156.94,327.34L158.97,328.52M158.97,328.52L158.97,330.87M163.04,330.87L161.01,332.04M161.01,332.04L158.97,330.87M158.97,330.87L158.97,328.52M158.97,328.52L161.01,327.34M161.01,327.34L163.04,328.52M163.04,328.52L163.04,330.87M167.11,330.87L165.08,332.04M165.08,332.04L163.04,330.87M163.04,330.87L163.04,328.52M163.04,328.52L165.08,327.34M165.08,327.34L167.11,328.52M167.11,328.52L167.11,330.87M171.18,330.87L169.15,332.04M169.15,332.04L167.11,330.87M167.11,330.87L167.11,328.52M167.11,328.52L169.15,327.34M169.15,327.34L171.18,328.52M171.18,328.52L171.18,330.87M171.18,330.87L171.18,328.52M156.94,334.39L154.9,335.57M154.9,330.87L156.94,332.04M156.94,332.04L156.94,334.39M161.01,334.39L158.97,335.57M158.97,335.57L156.94,334.39M156.94,334.39L156.94,332.04M156.94,332.04L158.97,330.87M158.97,330.87L161.01,332.04M161.01,332.04L161.01,334.39M165.08,334.39L163.04,335.57M163.04,335.57L161.01,334.39M161.01,334.39L161.01,332.04M161.01,332.04L163.04,330.87M163.04,330.87L165.08,332.04M165.08,332.04L165.08,334.39M169.15,334.39L167.11,335.57M167.11,335.57L165.08,334.39M165.08,334.39L165.08,332.04M165.08,332.04L167.11,330.87M167.11,330.87L169.15,332.04M169.15,332.04L169.15,334.39M171.18,335.57L169.15,334.39M169.15,334.39L169.15,332.04M169.15,332.04L171.18,330.87M154.9,335.57L154.9,337.92M158.97,337.92L156.94,339.09M156.94,339.09L154.9,337.92M154.9,337.92L154.9,335.57M154.9,335.57L156.94,334.39M156.94,334.39L158.97,335.57M158.97,335.57L158.97,337.92M163.04,337.92L161.01,339.09M161.01,339.09L158.97,337.92M158.97,337.92L158.97,335.57M158.97,335.57L161.01,334.39M161.01,334.39L163.04,335.57M163.04,335.57L163.04,337.92M167.11,337.92L165.08,339.09M165.08,339.09L163.04,337.92M163.04,337.92L163.04,335.57M163.04,335.57L165.08,334.39M165.08,334.39L167.11,335.57M167.11,335.57L167.11,337.92M171.18,337.92L169.15,339.09M169.15,339.09L167.11,337.92M167.11,337.92L167.11,335.57M167.11,335.57L169.15,334.39M169.15,334.39L171.18,335.57M171.18,335.57L171.18,337.92M171.18,337.92L171.18,335.57M156.94,341.44L154.9,342.62M154.9,337.92L156.94,339.09M156.94,339.09L156.94,341.44M161.01,341.44L158.97,342.62M158.97,342.62L156.94,341.44M156.94,341.44L156.94,339.09M156.94,339.09L158.97,337.92M158.97,337.92L161.01,339.09M161.01,339.09L161.01,341.44M165.08,341.44L163.04,342.62M163.04,342.62L161.01,341.44M161.01,341.44L161.01,339.09M161.01,339.09L163.04,337.92M163.04,337.92L165.08,339.09M165.08,339.09L165.08,341.44M169.15,341.44L167.11,342.62M167.11,342.62L165.08,341.44M165.08,341.44L165.08,339.09M165.08,339.09L167.11,337.92M167.11,337.92L169.15,339.09M169.15,339.09L169.15,341.44M171.18,342.62L169.15,341.44M169.15,341.44L169.15,339.09M169.15,339.09L171.18,337.92M154.9,342.62L154.9,344.97M158.97,344.97L156.94,346.14M156.94,346.14L154.9,344.97M154.9,344.97L154.9,342.62M154.9,342.62L156.94,341.44M156.94,341.44L158.97,342.62M158.97,342.62L158.97,344.97M163.04,344.97L161.01,346.14M161.01,346.14L158.97,344.97M158.97,344.97L158.97,342.62M158.97,342.62L161.01,341.44M161.01,341.44L163.04,342.62M163.04,342.62L163.04,344.97M167.11,344.97L165.08,346.14M165.08,346.14L163.04,344.97M163.04,344.97L163.04,342.62M163.04,342.62L165.08,341.44M165.08,341.44L167.11,342.62M167.11,342.62L167.11,344.97M171.18,344.97L169.15,346.14M169.15,346.14L167.11,344.97M167.11,344.97L167.11,342.62M167.11,342.62L169.15,341.44M169.15,341.44L171.18,342.62M171.18,342.62L171.18,344.97M171.18,344.97L171.18,342.62M154.9,344.97L156.94,346.14M156.94,346.14L158.97,344.97M158.97,344.97L161.01,346.14M161.01,346.14L163.04,344.97M163.04,344.97L165.08,346.14M165.08,346.14L167.11,344.97M167.11,344.97L169.15,346.14M169.15,346.14L171.18,344.97" stroke="#858585" stroke-width="0.6" fill="none" stroke-linecap="round"/>
<path d="M144.7,312.46L143.15,315.15M144.7,312.46L143.15,309.78M144.7,312.46L147.8,312.46M143.15,315.15L140.05,315.15M143.15,315.15L144.7,317.83M140.05,315.15L138.5,312.46M140.05,315.15L138.5,317.83M138.5,312.46L140.05,309.78M138.5,312.46L135.4,312.46M140.05,309.78L143.15,309.78M149.35,315.15L147.8,317.83M149.35,315.15L147.8,312.46M149.35,315.15L152.45,315.15M147.8,317.83L144.7,317.83M147.8,317.83L149.35,320.52M154,317.83L152.45,320.52M154,317.83L152.45,315.15M152.45,320.52L149.35,320.52M152.45,320.52L154,323.2M149.35,320.52L147.8,323.2M138.5,317.83L135.4,317.83M135.4,317.83L133.85,315.15M135.4,317.83L133.85,320.52M133.85,315.15L135.4,312.46M133.85,315.15L130.75,315.15M154,323.2L152.45,325.88M152.45,325.88L149.35,325.88M152.45,325.88L154,328.57M149.35,325.88L147.8,323.2M149.35,325.88L147.8,328.57M126.1,312.46L124.55,315.15M126.1,312.46L124.55,309.78M126.1,312.46L129.2,312.46M124.55,315.15L121.45,315.15M124.55,315.15L126.1,317.83M121.45,315.15L119.9,312.46M121.45,315.15L119.9,317.83M119.9,312.46L121.45,309.78M119.9,312.46L116.8,312.46M121.45,309.78L124.55,309.78M130.75,315.15L129.2,317.83M130.75,315.15L129.2,312.46M129.2,317.83L126.1,317.83M129.2,317.83L130.75,320.52M133.85,320.52L130.75,320.52M133.85,320.52L135.4,323.2M130.75,320.52L129.2,323.2M154,328.57L152.45,331.25M152.45,331.25L149.35,331.25M149.35,331.25L147.8,328.57M149.35,331.25L147.8,333.94M147.8,328.57L144.7,328.57M119.9,317.83L116.8,317.83M116.8,317.83L115.25,315.15M116.8,317.83L115.25,320.52M115.25,315.15L116.8,312.46M115.25,315.15L112.15,315.15M135.4,323.2L133.85,325.88M133.85,325.88L130.75,325.88M133.85,325.88L135.4,328.57M130.75,325.88L129.2,323.2M130.75,325.88L129.2,328.57M147.8,333.94L144.7,333.94M144.7,333.94L143.15,331.25M144.7,333.94L143.15,336.62M143.15,331.25L144.7,328.57M143.15,331.25L140.05,331.25M107.5,312.46L105.95,315.15M107.5,312.46L105.95,309.78M107.5,312.46L110.6,312.46M105.95,315.15L102.85,315.15M105.95,315.15L107.5,317.83M102.85,315.15L101.3,312.46M102.85,315.15L101.3,317.83M101.3,312.46L102.85,309.78M101.3,312.46L98.2,312.46M102.85,309.78L105.95,309.78M112.15,315.15L110.6,317.83M112.15,315.15L110.6,312.46M110.6,317.83L107.5,317.83M110.6,317.83L112.15,320.52M115.25,320.52L112.15,320.52M115.25,320.52L116.8,323.2M112.15,320.52L110.6,323.2M135.4,328.57L133.85,331.25M135.4,328.57L138.5,328.57M133.85,331.25L130.75,331.25M133.85,331.25L135.4,333.94M130.75,331.25L129.2,328.57M130.75,331.25L129.2,333.94M129.2,328.57L126.1,328.57M140.05,331.25L138.5,333.94M140.05,331.25L138.5,328.57M138.5,333.94L135.4,333.94M138.5,333.94L140.05,336.62M143.15,336.62L140.05,336.62M101.3,317.83L98.2,317.83M98.2,317.83L96.65,315.15M98.2,317.83L96.65,320.52M96.65,315.15L98.2,312.46M96.65,315.15L93.55,315.15M116.8,323.2L115.25,325.88M115.25,325.88L112.15,325.88M115.25,325.88L116.8,328.57M112.15,325.88L110.6,323.2M112.15,325.88L110.6,328.57M129.2,333.94L126.1,333.94M126.1,333.94L124.55,331.25M126.1,333.94L124.55,336.62M124.55,331.25L126.1,328.57M124.55,331.25L121.45,331.25M96.65,320.52L93.55,320.52M96.65,320.52L98.2,323.2M93.55,320.52L92,317.83M93.55,320.52L92,323.2M92,317.83L93.55,315.15M116.8,328.57L115.25,331.25M116.8,328.57L119.9,328.57M115.25,331.25L112.15,331.25M115.25,331.25L116.8,333.94M112.15,331.25L110.6,328.57M112.15,331.25L110.6,333.94M110.6,328.57L107.5,328.57M121.45,331.25L119.9,333.94M121.45,331.25L119.9,328.57M119.9,333.94L116.8,333.94M119.9,333.94L121.45,336.62M124.55,336.62L121.45,336.62M98.2,323.2L96.65,325.88M96.65,325.88L93.55,325.88M96.65,325.88L98.2,328.57M93.55,325.88L92,323.2M93.55,325.88L92,328.57M110.6,333.94L107.5,333.94M107.5,333.94L105.95,331.25M107.5,333.94L105.95,336.62M105.95,331.25L107.5,328.57M105.95,331.25L102.85,331.25M98.2,328.57L96.65,331.25M98.2,328.57L101.3,328.57M96.65,331.25L93.55,331.25M96.65,331.25L98.2,333.94M93.55,331.25L92,328.57M102.85,331.25L101.3,333.94M102.85,331.25L101.3,328.57M101.3,333.94L98.2,333.94M101.3,333.94L102.85,336.62M105.95,336.62L102.85,336.62M140.05,309.78L138.93,307.84M143.15,309.78L144.27,307.84M154,317.83L156.23,317.83M152.45,315.15L153.57,313.21M121.45,309.78L120.33,307.84M124.55,309.78L125.67,307.84M154,328.57L156.23,328.57M152.45,331.25L153.57,333.19M102.85,309.78L101.73,307.84M105.95,309.78L107.07,307.84M143.15,336.62L144.27,338.56M140.05,336.62L138.93,338.56M92,317.83L89.77,317.83M93.55,315.15L92.43,313.21M124.55,336.62L125.67,338.56M121.45,336.62L120.33,338.56M93.55,331.25L92.43,333.19M92,328.57L89.77,328.57M105.95,336.62L107.07,338.56M102.85,336.62L101.73,338.56" stroke="#9a9a9a" stroke-width="0.78" fill="none"/>
<path d="M143.74,312.46a0.96,0.96 0 1,0 1.92,0a0.96,0.96 0 1,0 -1.92,0M142.19,315.15a0.96,0.96 0 1,0 1.92,0a0.96,0.96 0 1,0 -1.92,0M139.09,315.15a0.96,0.96 0 1,0 1.92,0a0.96,0.96 0 1,0 -1.92,0M137.54,312.46a0.96,0.96 0 1,0 1.92,0a0.96,0.96 0 1,0 -1.92,0M139.09,309.78a0.96,0.96 0 1,0 1.92,0a0.96,0.96 0 1,0 -1.92,0M142.19,309.78a0.96,0.96 0 1,0 1.92,0a0.96,0.96 0 1,0 -1.92,0M148.39,315.15a0.96,0.96 0 1,0 1.92,0a0.96,0.96 0 1,0 -1.92,0M146.84,317.83a0.96,0.96 0 1,0 1.92,0a0.96,0.96 0 1,0 -1.92,0M153.04,317.83a0.96,0.96 0 1,0 1.92,0a0.96,0.96 0 1,0 -1.92,0M151.49,320.52a0.96,0.96 0 1,0 1.92,0a0.96,0.96 0 1,0 -1.92,0M148.39,320.52a0.96,0.96 0 1,0 1.92,0a0.96,0.96 0 1,0 -1.92,0M151.49,315.15a0.96,0.96 0 1,0 1.92,0a0.96,0.96 0 1,0 -1.92,0M134.44,317.83a0.96,0.96 0 1,0 1.92,0a0.96,0.96 0 1,0 -1.92,0M132.89,315.15a0.96,0.96 0 1,0 1.92,0a0.96,0.96 0 1,0 -1.92,0M151.49,325.88a0.96,0.96 0 1,0 1.92,0a0.96,0.96 0 1,0 -1.92,0M148.39,325.88a0.96,0.96 0 1,0 1.92,0a0.96,0.96 0 1,0 -1.92,0M125.14,312.46a0.96,0.96 0 1,0 1.92,0a0.96,0.96 0 1,0 -1.92,0M123.59,315.15a0.96,0.96 0 1,0 1.92,0a0.96,0.96 0 1,0 -1.92,0M120.49,315.15a0.96,0.96 0 1,0 1.92,0a0.96,0.96 0 1,0 -1.92,0M118.94,312.46a0.96,0.96 0 1,0 1.92,0a0.96,0.96 0 1,0 -1.92,0M120.49,309.78a0.96,0.96 0 1,0 1.92,0a0.96,0.96 0 1,0 -1.92,0M123.59,309.78a0.96,0.96 0 1,0 1.92,0a0.96,0.96 0 1,0 -1.92,0M129.79,315.15a0.96,0.96 0 1,0 1.92,0a0.96,0.96 0 1,0 -1.92,0M128.24,317.83a0.96,0.96 0 1,0 1.92,0a0.96,0.96 0 1,0 -1.92,0M132.89,320.52a0.96,0.96 0 1,0 1.92,0a0.96,0.96 0 1,0 -1.92,0M129.79,320.52a0.96,0.96 0 1,0 1.92,0a0.96,0.96 0 1,0 -1.92,0M153.04,328.57a0.96,0.96 0 1,0 1.92,0a0.96,0.96 0 1,0 -1.92,0M151.49,331.25a0.96,0.96 0 1,0 1.92,0a0.96,0.96 0 1,0 -1.92,0M148.39,331.25a0.96,0.96 0 1,0 1.92,0a0.96,0.96 0 1,0 -1.92,0M146.84,328.57a0.96,0.96 0 1,0 1.92,0a0.96,0.96 0 1,0 -1.92,0M115.84,317.83a0.96,0.96 0 1,0 1.92,0a0.96,0.96 0 1,0 -1.92,0M114.29,315.15a0.96,0.96 0 1,0 1.92,0a0.96,0.96 0 1,0 -1.92,0M132.89,325.88a0.96,0.96 0 1,0 1.92,0a0.96,0.96 0 1,0 -1.92,0M129.79,325.88a0.96,0.96 0 1,0 1.92,0a0.96,0.96 0 1,0 -1.92,0M143.74,333.94a0.96,0.96 0 1,0 1.92,0a0.96,0.96 0 1,0 -1.92,0M142.19,331.25a0.96,0.96 0 1,0 1.92,0a0.96,0.96 0 1,0 -1.92,0M106.54,312.46a0.96,0.96 0 1,0 1.92,0a0.96,0.96 0 1,0 -1.92,0M104.99,315.15a0.96,0.96 0 1,0 1.92,0a0.96,0.96 0 1,0 -1.92,0M101.89,315.15a0.96,0.96 0 1,0 1.92,0a0.96,0.96 0 1,0 -1.92,0M100.34,312.46a0.96,0.96 0 1,0 1.92,0a0.96,0.96 0 1,0 -1.92,0M101.89,309.78a0.96,0.96 0 1,0 1.92,0a0.96,0.96 0 1,0 -1.92,0M104.99,309.78a0.96,0.96 0 1,0 1.92,0a0.96,0.96 0 1,0 -1.92,0M111.19,315.15a0.96,0.96 0 1,0 1.92,0a0.96,0.96 0 1,0 -1.92,0M109.64,317.83a0.96,0.96 0 1,0 1.92,0a0.96,0.96 0 1,0 -1.92,0M114.29,320.52a0.96,0.96 0 1,0 1.92,0a0.96,0.96 0 1,0 -1.92,0M111.19,320.52a0.96,0.96 0 1,0 1.92,0a0.96,0.96 0 1,0 -1.92,0M134.44,328.57a0.96,0.96 0 1,0 1.92,0a0.96,0.96 0 1,0 -1.92,0M132.89,331.25a0.96,0.96 0 1,0 1.92,0a0.96,0.96 0 1,0 -1.92,0M129.79,331.25a0.96,0.96 0 1,0 1.92,0a0.96,0.96 0 1,0 -1.92,0M128.24,328.57a0.96,0.96 0 1,0 1.92,0a0.96,0.96 0 1,0 -1.92,0M139.09,331.25a0.96,0.96 0 1,0 1.92,0a0.96,0.96 0 1,0 -1.92,0M137.54,333.94a0.96,0.96 0 1,0 1.92,0a0.96,0.96 0 1,0 -1.92,0M142.19,336.62a0.96,0.96 0 1,0 1.92,0a0.96,0.96 0 1,0 -1.92,0M139.09,336.62a0.96,0.96 0 1,0 1.92,0a0.96,0.96 0 1,0 -1.92,0M97.24,317.83a0.96,0.96 0 1,0 1.92,0a0.96,0.96 0 1,0 -1.92,0M95.69,315.15a0.96,0.96 0 1,0 1.92,0a0.96,0.96 0 1,0 -1.92,0M114.29,325.88a0.96,0.96 0 1,0 1.92,0a0.96,0.96 0 1,0 -1.92,0M111.19,325.88a0.96,0.96 0 1,0 1.92,0a0.96,0.96 0 1,0 -1.92,0M125.14,333.94a0.96,0.96 0 1,0 1.92,0a0.96,0.96 0 1,0 -1.92,0M123.59,331.25a0.96,0.96 0 1,0 1.92,0a0.96,0.96 0 1,0 -1.92,0M95.69,320.52a0.96,0.96 0 1,0 1.92,0a0.96,0.96 0 1,0 -1.92,0M92.59,320.52a0.96,0.96 0 1,0 1.92,0a0.96,0.96 0 1,0 -1.92,0M91.04,317.83a0.96,0.96 0 1,0 1.92,0a0.96,0.96 0 1,0 -1.92,0M92.59,315.15a0.96,0.96 0 1,0 1.92,0a0.96,0.96 0 1,0 -1.92,0M115.84,328.57a0.96,0.96 0 1,0 1.92,0a0.96,0.96 0 1,0 -1.92,0M114.29,331.25a0.96,0.96 0 1,0 1.92,0a0.96,0.96 0 1,0 -1.92,0M111.19,331.25a0.96,0.96 0 1,0 1.92,0a0.96,0.96 0 1,0 -1.92,0M109.64,328.57a0.96,0.96 0 1,0 1.92,0a0.96,0.96 0 1,0 -1.92,0M120.49,331.25a0.96,0.96 0 1,0 1.92,0a0.96,0.96 0 1,0 -1.92,0M118.94,333.94a0.96,0.96 0 1,0 1.92,0a0.96,0.96 0 1,0 -1.92,0M123.59,336.62a0.96,0.96 0 1,0 1.92,0a0.96,0.96 0 1,0 -1.92,0M120.49,336.62a0.96,0.96 0 1,0 1.92,0a0.96,0.96 0 1,0 -1.92,0M95.69,325.88a0.96,0.96 0 1,0 1.92,0a0.96,0.96 0 1,0 -1.92,0M92.59,325.88a0.96,0.96 0 1,0 1.92,0a0.96,0.96 0 1,0 -1.92,0M106.54,333.94a0.96,0.96 0 1,0 1.92,0a0.96,0.96 0 1,0 -1.92,0M104.99,331.25a0.96,0.96 0 1,0 1.92,0a0.96,0.96 0 1,0 -1.92,0M97.24,328.57a0.96,0.96 0 1,0 1.92,0a0.96,0.96 0 1,0 -1.92,0M95.69,331.25a0.96,0.96 0 1,0 1.92,0a0.96,0.96 0 1,0 -1.92,0M92.59,331.25a0.96,0.96 0 1,0 1.92,0a0.96,0.96 0 1,0 -1.92,0M91.04,328.57a0.96,0.96 0 1,0 1.92,0a0.96,0.96 0 1,0 -1.92,0M101.89,331.25a0.96,0.96 0 1,0 1.92,0a0.96,0.96 0 1,0 -1.92,0M100.34,333.94a0.96,0.96 0 1,0 1.92,0a0.96,0.96 0 1,0 -1.92,0M104.99,336.62a0.96,0.96 0 1,0 1.92,0a0.96,0.96 0 1,0 -1.92,0M101.89,336.62a0.96,0.96 0 1,0 1.92,0a0.96,0.96 0 1,0 -1.92,0" fill="#878787"/>
<path d="M143.52,317.83a1.18,1.18 0 1,0 2.36,0a1.18,1.18 0 1,0 -2.36,0M146.62,312.46a1.18,1.18 0 1,0 2.36,0a1.18,1.18 0 1,0 -2.36,0M137.32,317.83a1.18,1.18 0 1,0 2.36,0a1.18,1.18 0 1,0 -2.36,0M134.22,312.46a1.18,1.18 0 1,0 2.36,0a1.18,1.18 0 1,0 -2.36,0M152.82,323.2a1.18,1.18 0 1,0 2.36,0a1.18,1.18 0 1,0 -2.36,0M146.62,323.2a1.18,1.18 0 1,0 2.36,0a1.18,1.18 0 1,0 -2.36,0M124.92,317.83a1.18,1.18 0 1,0 2.36,0a1.18,1.18 0 1,0 -2.36,0M128.02,312.46a1.18,1.18 0 1,0 2.36,0a1.18,1.18 0 1,0 -2.36,0M118.72,317.83a1.18,1.18 0 1,0 2.36,0a1.18,1.18 0 1,0 -2.36,0M115.62,312.46a1.18,1.18 0 1,0 2.36,0a1.18,1.18 0 1,0 -2.36,0M134.22,323.2a1.18,1.18 0 1,0 2.36,0a1.18,1.18 0 1,0 -2.36,0M128.02,323.2a1.18,1.18 0 1,0 2.36,0a1.18,1.18 0 1,0 -2.36,0M146.62,333.94a1.18,1.18 0 1,0 2.36,0a1.18,1.18 0 1,0 -2.36,0M143.52,328.57a1.18,1.18 0 1,0 2.36,0a1.18,1.18 0 1,0 -2.36,0M106.32,317.83a1.18,1.18 0 1,0 2.36,0a1.18,1.18 0 1,0 -2.36,0M109.42,312.46a1.18,1.18 0 1,0 2.36,0a1.18,1.18 0 1,0 -2.36,0M134.22,333.94a1.18,1.18 0 1,0 2.36,0a1.18,1.18 0 1,0 -2.36,0M137.32,328.57a1.18,1.18 0 1,0 2.36,0a1.18,1.18 0 1,0 -2.36,0M100.12,317.83a1.18,1.18 0 1,0 2.36,0a1.18,1.18 0 1,0 -2.36,0M97.02,312.46a1.18,1.18 0 1,0 2.36,0a1.18,1.18 0 1,0 -2.36,0M115.62,323.2a1.18,1.18 0 1,0 2.36,0a1.18,1.18 0 1,0 -2.36,0M109.42,323.2a1.18,1.18 0 1,0 2.36,0a1.18,1.18 0 1,0 -2.36,0M128.02,333.94a1.18,1.18 0 1,0 2.36,0a1.18,1.18 0 1,0 -2.36,0M124.92,328.57a1.18,1.18 0 1,0 2.36,0a1.18,1.18 0 1,0 -2.36,0M115.62,333.94a1.18,1.18 0 1,0 2.36,0a1.18,1.18 0 1,0 -2.36,0M118.72,328.57a1.18,1.18 0 1,0 2.36,0a1.18,1.18 0 1,0 -2.36,0M97.02,323.2a1.18,1.18 0 1,0 2.36,0a1.18,1.18 0 1,0 -2.36,0M90.82,323.2a1.18,1.18 0 1,0 2.36,0a1.18,1.18 0 1,0 -2.36,0M109.42,333.94a1.18,1.18 0 1,0 2.36,0a1.18,1.18 0 1,0 -2.36,0M106.32,328.57a1.18,1.18 0 1,0 2.36,0a1.18,1.18 0 1,0 -2.36,0M97.02,333.94a1.18,1.18 0 1,0 2.36,0a1.18,1.18 0 1,0 -2.36,0M100.12,328.57a1.18,1.18 0 1,0 2.36,0a1.18,1.18 0 1,0 -2.36,0" fill="#3558e8"/>
<path d="M138.19,307.84a0.74,0.74 0 1,0 1.49,0a0.74,0.74 0 1,0 -1.49,0M143.52,307.84a0.74,0.74 0 1,0 1.49,0a0.74,0.74 0 1,0 -1.49,0M155.49,317.83a0.74,0.74 0 1,0 1.49,0a0.74,0.74 0 1,0 -1.49,0M152.82,313.21a0.74,0.74 0 1,0 1.49,0a0.74,0.74 0 1,0 -1.49,0M119.59,307.84a0.74,0.74 0 1,0 1.49,0a0.74,0.74 0 1,0 -1.49,0M124.92,307.84a0.74,0.74 0 1,0 1.49,0a0.74,0.74 0 1,0 -1.49,0M155.49,328.57a0.74,0.74 0 1,0 1.49,0a0.74,0.74 0 1,0 -1.49,0M152.82,333.19a0.74,0.74 0 1,0 1.49,0a0.74,0.74 0 1,0 -1.49,0M100.99,307.84a0.74,0.74 0 1,0 1.49,0a0.74,0.74 0 1,0 -1.49,0M106.32,307.84a0.74,0.74 0 1,0 1.49,0a0.74,0.74 0 1,0 -1.49,0M143.52,338.56a0.74,0.74 0 1,0 1.49,0a0.74,0.74 0 1,0 -1.49,0M138.19,338.56a0.74,0.74 0 1,0 1.49,0a0.74,0.74 0 1,0 -1.49,0M89.02,317.83a0.74,0.74 0 1,0 1.49,0a0.74,0.74 0 1,0 -1.49,0M91.69,313.21a0.74,0.74 0 1,0 1.49,0a0.74,0.74 0 1,0 -1.49,0M124.92,338.56a0.74,0.74 0 1,0 1.49,0a0.74,0.74 0 1,0 -1.49,0M119.59,338.56a0.74,0.74 0 1,0 1.49,0a0.74,0.74 0 1,0 -1.49,0M91.69,333.19a0.74,0.74 0 1,0 1.49,0a0.74,0.74 0 1,0 -1.49,0M89.02,328.57a0.74,0.74 0 1,0 1.49,0a0.74,0.74 0 1,0 -1.49,0M106.32,338.56a0.74,0.74 0 1,0 1.49,0a0.74,0.74 0 1,0 -1.49,0M100.99,338.56a0.74,0.74 0 1,0 1.49,0a0.74,0.74 0 1,0 -1.49,0" fill="#d8d8d8"/>
<line x1="75.5" y1="338" x2="75.5" y2="345.5" stroke="#44cc22" stroke-width="0.8" />
<line x1="75.5" y1="345.5" x2="82" y2="345.5" stroke="#e8c020" stroke-width="0.8" />
<rect x="27.8" y="289.9" width="149.5" height="115.9" fill="none" stroke="#484848" stroke-width="1.1" />
<line x1="27.8" y1="397.8" x2="30" y2="397.8" stroke="#333" stroke-width="0.95" />
<text x="24.9" y="399.86" text-anchor="end" fill="#161616" stroke="#161616" style="font-size:4.9px;font-weight:bold;">0.000</text>
<line x1="27.8" y1="372.33" x2="30" y2="372.33" stroke="#333" stroke-width="0.95" />
<text x="24.9" y="374.39" text-anchor="end" fill="#161616" stroke="#161616" style="font-size:4.9px;font-weight:bold;">0.008</text>
<line x1="27.8" y1="346.86" x2="30" y2="346.86" stroke="#333" stroke-width="0.95" />
<text x="24.9" y="348.92" text-anchor="end" fill="#161616" stroke="#161616" style="font-size:4.9px;font-weight:bold;">0.016</text>
<line x1="27.8" y1="321.38" x2="30" y2="321.38" stroke="#333" stroke-width="0.95" />
<text x="24.9" y="323.45" text-anchor="end" fill="#161616" stroke="#161616" style="font-size:4.9px;font-weight:bold;">0.024</text>
<line x1="27.8" y1="295.91" x2="30" y2="295.91" stroke="#333" stroke-width="0.95" />
<text x="24.9" y="297.98" text-anchor="end" fill="#161616" stroke="#161616" style="font-size:4.9px;font-weight:bold;">0.032</text>
<line x1="27.8" y1="385.06" x2="29.1" y2="385.06" stroke="#484848" stroke-width="0.7" />
<line x1="27.8" y1="359.59" x2="29.1" y2="359.59" stroke="#484848" stroke-width="0.7" />
<line x1="27.8" y1="334.12" x2="29.1" y2="334.12" stroke="#484848" stroke-width="0.7" />
<line x1="27.8" y1="308.65" x2="29.1" y2="308.65" stroke="#484848" stroke-width="0.7" />
<line x1="37" y1="405.8" x2="37" y2="403.6" stroke="#333" stroke-width="0.95" />
<text x="37" y="413.61" text-anchor="middle" fill="#161616" stroke="#161616" style="font-size:5.3px;font-weight:bold;">1</text>
<line x1="55.7" y1="405.8" x2="55.7" y2="403.6" stroke="#333" stroke-width="0.95" />
<text x="55.7" y="413.61" text-anchor="middle" fill="#161616" stroke="#161616" style="font-size:5.3px;font-weight:bold;">2</text>
<line x1="74.4" y1="405.8" x2="74.4" y2="403.6" stroke="#333" stroke-width="0.95" />
<text x="74.4" y="413.61" text-anchor="middle" fill="#161616" stroke="#161616" style="font-size:5.3px;font-weight:bold;">3</text>
<line x1="93.1" y1="405.8" x2="93.1" y2="403.6" stroke="#333" stroke-width="0.95" />
<text x="93.1" y="413.61" text-anchor="middle" fill="#161616" stroke="#161616" style="font-size:5.3px;font-weight:bold;">4</text>
<line x1="111.8" y1="405.8" x2="111.8" y2="403.6" stroke="#333" stroke-width="0.95" />
<text x="111.8" y="413.61" text-anchor="middle" fill="#161616" stroke="#161616" style="font-size:5.3px;font-weight:bold;">5</text>
<line x1="130.5" y1="405.8" x2="130.5" y2="403.6" stroke="#333" stroke-width="0.95" />
<text x="130.5" y="413.61" text-anchor="middle" fill="#161616" stroke="#161616" style="font-size:5.3px;font-weight:bold;">6</text>
<line x1="149.2" y1="405.8" x2="149.2" y2="403.6" stroke="#333" stroke-width="0.95" />
<text x="149.2" y="413.61" text-anchor="middle" fill="#161616" stroke="#161616" style="font-size:5.3px;font-weight:bold;">7</text>
<line x1="167.9" y1="405.8" x2="167.9" y2="403.6" stroke="#333" stroke-width="0.95" />
<text x="167.9" y="413.61" text-anchor="middle" fill="#161616" stroke="#161616" style="font-size:5.3px;font-weight:bold;">8</text>
<line x1="46.35" y1="405.8" x2="46.35" y2="404.5" stroke="#484848" stroke-width="0.7" />
<line x1="65.05" y1="405.8" x2="65.05" y2="404.5" stroke="#484848" stroke-width="0.7" />
<line x1="83.75" y1="405.8" x2="83.75" y2="404.5" stroke="#484848" stroke-width="0.7" />
<line x1="102.45" y1="405.8" x2="102.45" y2="404.5" stroke="#484848" stroke-width="0.7" />
<line x1="121.15" y1="405.8" x2="121.15" y2="404.5" stroke="#484848" stroke-width="0.7" />
<line x1="139.85" y1="405.8" x2="139.85" y2="404.5" stroke="#484848" stroke-width="0.7" />
<line x1="158.55" y1="405.8" x2="158.55" y2="404.5" stroke="#484848" stroke-width="0.7" />
<line x1="177.25" y1="405.8" x2="177.25" y2="404.5" stroke="#484848" stroke-width="0.7" />
<polyline points="37,295.91 55.7,396.84 74.4,397.7 93.1,397.77 111.8,397.8 130.5,397.8 149.2,397.8 167.9,397.8" fill="none" stroke="#ff0a0a" stroke-width="2.2" stroke-linejoin="round" />
<rect x="35.2" y="294.47" width="3.6" height="2.88" fill="#ffd0d0" stroke="#ff0a0a" stroke-width="0.6" />
<rect x="53.9" y="395.4" width="3.6" height="2.88" fill="#ffd0d0" stroke="#ff0a0a" stroke-width="0.6" />
<rect x="72.6" y="396.26" width="3.6" height="2.88" fill="#ffd0d0" stroke="#ff0a0a" stroke-width="0.6" />
<rect x="91.3" y="396.33" width="3.6" height="2.88" fill="#ffd0d0" stroke="#ff0a0a" stroke-width="0.6" />
<rect x="110" y="396.36" width="3.6" height="2.88" fill="#ffd0d0" stroke="#ff0a0a" stroke-width="0.6" />
<rect x="128.7" y="396.36" width="3.6" height="2.88" fill="#ffd0d0" stroke="#ff0a0a" stroke-width="0.6" />
<rect x="147.4" y="396.36" width="3.6" height="2.88" fill="#ffd0d0" stroke="#ff0a0a" stroke-width="0.6" />
<rect x="166.1" y="396.36" width="3.6" height="2.88" fill="#ffd0d0" stroke="#ff0a0a" stroke-width="0.6" />
<line x1="68.6" y1="370.9" x2="83.6" y2="370.9" stroke="#ff0a0a" stroke-width="1.9" />
<rect x="74.3" y="369.46" width="3.6" height="2.88" fill="#ffd0d0" stroke="#ff0a0a" stroke-width="0.6" />
<text x="85.3" y="373.32" text-anchor="start" fill="#161616" stroke="#161616" style="font-size:6.45px;font-weight:bold;font-style:italic;">2D-graphene electrodes</text>
<text x="3.8" y="293.4" fill="#1a1a1a" stroke="#1a1a1a" style="font-size:8.7px;font-weight:bold;stroke-width:0.3px">(g)</text>
<text x="12.4" y="341" text-anchor="middle" fill="#161616" stroke="#161616" style="font-size:6.4px;font-weight:bold;" transform="rotate(-90 12.4 341)">Transmission</text>
<text x="102.2" y="420.4" text-anchor="middle" fill="#161616" stroke="#161616" style="font-size:6.35px;font-weight:bold;">Number of C<tspan dy="1.3" style="font-size:4.2px">2</tspan><tspan dy="-1.3">N rings</tspan></text>
<rect x="246.2" y="291.5" width="116.9" height="54.5" fill="#fbd6f3" stroke="none" stroke-width="1" />
<path d="M248.2,293l0,4.6M248.2,293l4.35,2.3M248.2,297.6l0,4.6M248.2,297.6l4.35,-2.3M248.2,297.6l4.35,2.3M248.2,302.2l0,4.6M248.2,302.2l4.35,-2.3M248.2,302.2l4.35,2.3M248.2,306.8l0,4.6M248.2,306.8l4.35,-2.3M248.2,306.8l4.35,2.3M248.2,311.4l0,4.6M248.2,311.4l4.35,-2.3M248.2,311.4l4.35,2.3M248.2,316l0,4.6M248.2,316l4.35,-2.3M248.2,316l4.35,2.3M248.2,320.6l0,4.6M248.2,320.6l4.35,-2.3M248.2,320.6l4.35,2.3M248.2,325.2l0,4.6M248.2,325.2l4.35,-2.3M248.2,325.2l4.35,2.3M248.2,329.8l0,4.6M248.2,329.8l4.35,-2.3M248.2,329.8l4.35,2.3M248.2,334.4l0,4.6M248.2,334.4l4.35,-2.3M248.2,334.4l4.35,2.3M248.2,339l0,4.6M248.2,339l4.35,-2.3M248.2,339l4.35,2.3M248.2,343.6l4.35,-2.3M252.55,295.3l0,4.6M252.55,295.3l4.35,-2.3M252.55,295.3l4.35,2.3M252.55,299.9l0,4.6M252.55,299.9l4.35,-2.3M252.55,299.9l4.35,2.3M252.55,304.5l0,4.6M252.55,304.5l4.35,-2.3M252.55,304.5l4.35,2.3M252.55,309.1l0,4.6M252.55,309.1l4.35,-2.3M252.55,309.1l4.35,2.3M252.55,313.7l0,4.6M252.55,313.7l4.35,-2.3M252.55,313.7l4.35,2.3M252.55,318.3l0,4.6M252.55,318.3l4.35,-2.3M252.55,318.3l4.35,2.3M252.55,322.9l0,4.6M252.55,322.9l4.35,-2.3M252.55,322.9l4.35,2.3M252.55,327.5l0,4.6M252.55,327.5l4.35,-2.3M252.55,327.5l4.35,2.3M252.55,332.1l0,4.6M252.55,332.1l4.35,-2.3M252.55,332.1l4.35,2.3M252.55,336.7l0,4.6M252.55,336.7l4.35,-2.3M252.55,336.7l4.35,2.3M252.55,341.3l4.35,-2.3M252.55,341.3l4.35,2.3M256.9,293l0,4.6M256.9,293l4.35,2.3M256.9,297.6l0,4.6M256.9,297.6l4.35,-2.3M256.9,297.6l4.35,2.3M256.9,302.2l0,4.6M256.9,302.2l4.35,-2.3M256.9,302.2l4.35,2.3M256.9,306.8l0,4.6M256.9,306.8l4.35,-2.3M256.9,306.8l4.35,2.3M256.9,311.4l0,4.6M256.9,311.4l4.35,-2.3M256.9,311.4l4.35,2.3M256.9,316l0,4.6M256.9,316l4.35,-2.3M256.9,316l4.35,2.3M256.9,320.6l0,4.6M256.9,320.6l4.35,-2.3M256.9,320.6l4.35,2.3M256.9,325.2l0,4.6M256.9,325.2l4.35,-2.3M256.9,325.2l4.35,2.3M256.9,329.8l0,4.6M256.9,329.8l4.35,-2.3M256.9,329.8l4.35,2.3M256.9,334.4l0,4.6M256.9,334.4l4.35,-2.3M256.9,334.4l4.35,2.3M256.9,339l0,4.6M256.9,339l4.35,-2.3M256.9,339l4.35,2.3M256.9,343.6l4.35,-2.3M261.25,295.3l0,4.6M261.25,295.3l4.35,-2.3M261.25,295.3l4.35,2.3M261.25,299.9l0,4.6M261.25,299.9l4.35,-2.3M261.25,299.9l4.35,2.3M261.25,304.5l0,4.6M261.25,304.5l4.35,-2.3M261.25,304.5l4.35,2.3M261.25,309.1l0,4.6M261.25,309.1l4.35,-2.3M261.25,309.1l4.35,2.3M261.25,313.7l0,4.6M261.25,313.7l4.35,-2.3M261.25,313.7l4.35,2.3M261.25,318.3l0,4.6M261.25,318.3l4.35,-2.3M261.25,318.3l4.35,2.3M261.25,322.9l0,4.6M261.25,322.9l4.35,-2.3M261.25,322.9l4.35,2.3M261.25,327.5l0,4.6M261.25,327.5l4.35,-2.3M261.25,327.5l4.35,2.3M261.25,332.1l0,4.6M261.25,332.1l4.35,-2.3M261.25,332.1l4.35,2.3M261.25,336.7l0,4.6M261.25,336.7l4.35,-2.3M261.25,336.7l4.35,2.3M261.25,341.3l4.35,-2.3M261.25,341.3l4.35,2.3M265.6,293l0,4.6M265.6,293l4.35,2.3M265.6,297.6l0,4.6M265.6,297.6l4.35,-2.3M265.6,297.6l4.35,2.3M265.6,302.2l0,4.6M265.6,302.2l4.35,-2.3M265.6,302.2l4.35,2.3M265.6,306.8l0,4.6M265.6,306.8l4.35,-2.3M265.6,306.8l4.35,2.3M265.6,311.4l0,4.6M265.6,311.4l4.35,-2.3M265.6,311.4l4.35,2.3M265.6,316l0,4.6M265.6,316l4.35,-2.3M265.6,316l4.35,2.3M265.6,320.6l0,4.6M265.6,320.6l4.35,-2.3M265.6,320.6l4.35,2.3M265.6,325.2l0,4.6M265.6,325.2l4.35,-2.3M265.6,325.2l4.35,2.3M265.6,329.8l0,4.6M265.6,329.8l4.35,-2.3M265.6,329.8l4.35,2.3M265.6,334.4l0,4.6M265.6,334.4l4.35,-2.3M265.6,334.4l4.35,2.3M265.6,339l0,4.6M265.6,339l4.35,-2.3M265.6,339l4.35,2.3M265.6,343.6l4.35,-2.3M269.95,295.3l0,4.6M269.95,299.9l0,4.6M269.95,304.5l0,4.6M269.95,309.1l0,4.6M269.95,313.7l0,4.6M269.95,318.3l0,4.6M269.95,322.9l0,4.6M269.95,327.5l0,4.6M269.95,332.1l0,4.6M269.95,336.7l0,4.6" stroke="#e6cc62" stroke-width="0.85" fill="none"/>
<path d="M247.2,293a1,1 0 1,0 2,0a1,1 0 1,0 -2,0M247.2,297.6a1,1 0 1,0 2,0a1,1 0 1,0 -2,0M247.2,302.2a1,1 0 1,0 2,0a1,1 0 1,0 -2,0M247.2,306.8a1,1 0 1,0 2,0a1,1 0 1,0 -2,0M247.2,311.4a1,1 0 1,0 2,0a1,1 0 1,0 -2,0M247.2,316a1,1 0 1,0 2,0a1,1 0 1,0 -2,0M247.2,320.6a1,1 0 1,0 2,0a1,1 0 1,0 -2,0M247.2,325.2a1,1 0 1,0 2,0a1,1 0 1,0 -2,0M247.2,329.8a1,1 0 1,0 2,0a1,1 0 1,0 -2,0M247.2,334.4a1,1 0 1,0 2,0a1,1 0 1,0 -2,0M247.2,339a1,1 0 1,0 2,0a1,1 0 1,0 -2,0M247.2,343.6a1,1 0 1,0 2,0a1,1 0 1,0 -2,0M251.55,295.3a1,1 0 1,0 2,0a1,1 0 1,0 -2,0M251.55,299.9a1,1 0 1,0 2,0a1,1 0 1,0 -2,0M251.55,304.5a1,1 0 1,0 2,0a1,1 0 1,0 -2,0M251.55,309.1a1,1 0 1,0 2,0a1,1 0 1,0 -2,0M251.55,313.7a1,1 0 1,0 2,0a1,1 0 1,0 -2,0M251.55,318.3a1,1 0 1,0 2,0a1,1 0 1,0 -2,0M251.55,322.9a1,1 0 1,0 2,0a1,1 0 1,0 -2,0M251.55,327.5a1,1 0 1,0 2,0a1,1 0 1,0 -2,0M251.55,332.1a1,1 0 1,0 2,0a1,1 0 1,0 -2,0M251.55,336.7a1,1 0 1,0 2,0a1,1 0 1,0 -2,0M251.55,341.3a1,1 0 1,0 2,0a1,1 0 1,0 -2,0M255.9,293a1,1 0 1,0 2,0a1,1 0 1,0 -2,0M255.9,297.6a1,1 0 1,0 2,0a1,1 0 1,0 -2,0M255.9,302.2a1,1 0 1,0 2,0a1,1 0 1,0 -2,0M255.9,306.8a1,1 0 1,0 2,0a1,1 0 1,0 -2,0M255.9,311.4a1,1 0 1,0 2,0a1,1 0 1,0 -2,0M255.9,316a1,1 0 1,0 2,0a1,1 0 1,0 -2,0M255.9,320.6a1,1 0 1,0 2,0a1,1 0 1,0 -2,0M255.9,325.2a1,1 0 1,0 2,0a1,1 0 1,0 -2,0M255.9,329.8a1,1 0 1,0 2,0a1,1 0 1,0 -2,0M255.9,334.4a1,1 0 1,0 2,0a1,1 0 1,0 -2,0M255.9,339a1,1 0 1,0 2,0a1,1 0 1,0 -2,0M255.9,343.6a1,1 0 1,0 2,0a1,1 0 1,0 -2,0M260.25,295.3a1,1 0 1,0 2,0a1,1 0 1,0 -2,0M260.25,299.9a1,1 0 1,0 2,0a1,1 0 1,0 -2,0M260.25,304.5a1,1 0 1,0 2,0a1,1 0 1,0 -2,0M260.25,309.1a1,1 0 1,0 2,0a1,1 0 1,0 -2,0M260.25,313.7a1,1 0 1,0 2,0a1,1 0 1,0 -2,0M260.25,318.3a1,1 0 1,0 2,0a1,1 0 1,0 -2,0M260.25,322.9a1,1 0 1,0 2,0a1,1 0 1,0 -2,0M260.25,327.5a1,1 0 1,0 2,0a1,1 0 1,0 -2,0M260.25,332.1a1,1 0 1,0 2,0a1,1 0 1,0 -2,0M260.25,336.7a1,1 0 1,0 2,0a1,1 0 1,0 -2,0M260.25,341.3a1,1 0 1,0 2,0a1,1 0 1,0 -2,0M264.6,293a1,1 0 1,0 2,0a1,1 0 1,0 -2,0M264.6,297.6a1,1 0 1,0 2,0a1,1 0 1,0 -2,0M264.6,302.2a1,1 0 1,0 2,0a1,1 0 1,0 -2,0M264.6,306.8a1,1 0 1,0 2,0a1,1 0 1,0 -2,0M264.6,311.4a1,1 0 1,0 2,0a1,1 0 1,0 -2,0M264.6,316a1,1 0 1,0 2,0a1,1 0 1,0 -2,0M264.6,320.6a1,1 0 1,0 2,0a1,1 0 1,0 -2,0M264.6,325.2a1,1 0 1,0 2,0a1,1 0 1,0 -2,0M264.6,329.8a1,1 0 1,0 2,0a1,1 0 1,0 -2,0M264.6,334.4a1,1 0 1,0 2,0a1,1 0 1,0 -2,0M264.6,339a1,1 0 1,0 2,0a1,1 0 1,0 -2,0M264.6,343.6a1,1 0 1,0 2,0a1,1 0 1,0 -2,0M268.95,295.3a1,1 0 1,0 2,0a1,1 0 1,0 -2,0M268.95,299.9a1,1 0 1,0 2,0a1,1 0 1,0 -2,0M268.95,304.5a1,1 0 1,0 2,0a1,1 0 1,0 -2,0M268.95,309.1a1,1 0 1,0 2,0a1,1 0 1,0 -2,0M268.95,313.7a1,1 0 1,0 2,0a1,1 0 1,0 -2,0M268.95,318.3a1,1 0 1,0 2,0a1,1 0 1,0 -2,0M268.95,322.9a1,1 0 1,0 2,0a1,1 0 1,0 -2,0M268.95,327.5a1,1 0 1,0 2,0a1,1 0 1,0 -2,0M268.95,332.1a1,1 0 1,0 2,0a1,1 0 1,0 -2,0M268.95,336.7a1,1 0 1,0 2,0a1,1 0 1,0 -2,0M268.95,341.3a1,1 0 1,0 2,0a1,1 0 1,0 -2,0" fill="#d6bc30"/>
<rect x="246.5" y="291.8" width="12.8" height="53.7" fill="none" stroke="#a8a8a8" stroke-width="0.5" />
<rect x="259.3" y="291.8" width="12.1" height="53.7" fill="none" stroke="#c8c0a0" stroke-width="0.4" />
<path d="M338.7,293l0,4.6M338.7,293l4.35,2.3M338.7,297.6l0,4.6M338.7,297.6l4.35,-2.3M338.7,297.6l4.35,2.3M338.7,302.2l0,4.6M338.7,302.2l4.35,-2.3M338.7,302.2l4.35,2.3M338.7,306.8l0,4.6M338.7,306.8l4.35,-2.3M338.7,306.8l4.35,2.3M338.7,311.4l0,4.6M338.7,311.4l4.35,-2.3M338.7,311.4l4.35,2.3M338.7,316l0,4.6M338.7,316l4.35,-2.3M338.7,316l4.35,2.3M338.7,320.6l0,4.6M338.7,320.6l4.35,-2.3M338.7,320.6l4.35,2.3M338.7,325.2l0,4.6M338.7,325.2l4.35,-2.3M338.7,325.2l4.35,2.3M338.7,329.8l0,4.6M338.7,329.8l4.35,-2.3M338.7,329.8l4.35,2.3M338.7,334.4l0,4.6M338.7,334.4l4.35,-2.3M338.7,334.4l4.35,2.3M338.7,339l0,4.6M338.7,339l4.35,-2.3M338.7,339l4.35,2.3M338.7,343.6l4.35,-2.3M343.05,295.3l0,4.6M343.05,295.3l4.35,-2.3M343.05,295.3l4.35,2.3M343.05,299.9l0,4.6M343.05,299.9l4.35,-2.3M343.05,299.9l4.35,2.3M343.05,304.5l0,4.6M343.05,304.5l4.35,-2.3M343.05,304.5l4.35,2.3M343.05,309.1l0,4.6M343.05,309.1l4.35,-2.3M343.05,309.1l4.35,2.3M343.05,313.7l0,4.6M343.05,313.7l4.35,-2.3M343.05,313.7l4.35,2.3M343.05,318.3l0,4.6M343.05,318.3l4.35,-2.3M343.05,318.3l4.35,2.3M343.05,322.9l0,4.6M343.05,322.9l4.35,-2.3M343.05,322.9l4.35,2.3M343.05,327.5l0,4.6M343.05,327.5l4.35,-2.3M343.05,327.5l4.35,2.3M343.05,332.1l0,4.6M343.05,332.1l4.35,-2.3M343.05,332.1l4.35,2.3M343.05,336.7l0,4.6M343.05,336.7l4.35,-2.3M343.05,336.7l4.35,2.3M343.05,341.3l4.35,-2.3M343.05,341.3l4.35,2.3M347.4,293l0,4.6M347.4,293l4.35,2.3M347.4,297.6l0,4.6M347.4,297.6l4.35,-2.3M347.4,297.6l4.35,2.3M347.4,302.2l0,4.6M347.4,302.2l4.35,-2.3M347.4,302.2l4.35,2.3M347.4,306.8l0,4.6M347.4,306.8l4.35,-2.3M347.4,306.8l4.35,2.3M347.4,311.4l0,4.6M347.4,311.4l4.35,-2.3M347.4,311.4l4.35,2.3M347.4,316l0,4.6M347.4,316l4.35,-2.3M347.4,316l4.35,2.3M347.4,320.6l0,4.6M347.4,320.6l4.35,-2.3M347.4,320.6l4.35,2.3M347.4,325.2l0,4.6M347.4,325.2l4.35,-2.3M347.4,325.2l4.35,2.3M347.4,329.8l0,4.6M347.4,329.8l4.35,-2.3M347.4,329.8l4.35,2.3M347.4,334.4l0,4.6M347.4,334.4l4.35,-2.3M347.4,334.4l4.35,2.3M347.4,339l0,4.6M347.4,339l4.35,-2.3M347.4,339l4.35,2.3M347.4,343.6l4.35,-2.3M351.75,295.3l0,4.6M351.75,295.3l4.35,-2.3M351.75,295.3l4.35,2.3M351.75,299.9l0,4.6M351.75,299.9l4.35,-2.3M351.75,299.9l4.35,2.3M351.75,304.5l0,4.6M351.75,304.5l4.35,-2.3M351.75,304.5l4.35,2.3M351.75,309.1l0,4.6M351.75,309.1l4.35,-2.3M351.75,309.1l4.35,2.3M351.75,313.7l0,4.6M351.75,313.7l4.35,-2.3M351.75,313.7l4.35,2.3M351.75,318.3l0,4.6M351.75,318.3l4.35,-2.3M351.75,318.3l4.35,2.3M351.75,322.9l0,4.6M351.75,322.9l4.35,-2.3M351.75,322.9l4.35,2.3M351.75,327.5l0,4.6M351.75,327.5l4.35,-2.3M351.75,327.5l4.35,2.3M351.75,332.1l0,4.6M351.75,332.1l4.35,-2.3M351.75,332.1l4.35,2.3M351.75,336.7l0,4.6M351.75,336.7l4.35,-2.3M351.75,336.7l4.35,2.3M351.75,341.3l4.35,-2.3M351.75,341.3l4.35,2.3M356.1,293l0,4.6M356.1,293l4.35,2.3M356.1,297.6l0,4.6M356.1,297.6l4.35,-2.3M356.1,297.6l4.35,2.3M356.1,302.2l0,4.6M356.1,302.2l4.35,-2.3M356.1,302.2l4.35,2.3M356.1,306.8l0,4.6M356.1,306.8l4.35,-2.3M356.1,306.8l4.35,2.3M356.1,311.4l0,4.6M356.1,311.4l4.35,-2.3M356.1,311.4l4.35,2.3M356.1,316l0,4.6M356.1,316l4.35,-2.3M356.1,316l4.35,2.3M356.1,320.6l0,4.6M356.1,320.6l4.35,-2.3M356.1,320.6l4.35,2.3M356.1,325.2l0,4.6M356.1,325.2l4.35,-2.3M356.1,325.2l4.35,2.3M356.1,329.8l0,4.6M356.1,329.8l4.35,-2.3M356.1,329.8l4.35,2.3M356.1,334.4l0,4.6M356.1,334.4l4.35,-2.3M356.1,334.4l4.35,2.3M356.1,339l0,4.6M356.1,339l4.35,-2.3M356.1,339l4.35,2.3M356.1,343.6l4.35,-2.3M360.45,295.3l0,4.6M360.45,299.9l0,4.6M360.45,304.5l0,4.6M360.45,309.1l0,4.6M360.45,313.7l0,4.6M360.45,318.3l0,4.6M360.45,322.9l0,4.6M360.45,327.5l0,4.6M360.45,332.1l0,4.6M360.45,336.7l0,4.6" stroke="#e6cc62" stroke-width="0.85" fill="none"/>
<path d="M337.7,293a1,1 0 1,0 2,0a1,1 0 1,0 -2,0M337.7,297.6a1,1 0 1,0 2,0a1,1 0 1,0 -2,0M337.7,302.2a1,1 0 1,0 2,0a1,1 0 1,0 -2,0M337.7,306.8a1,1 0 1,0 2,0a1,1 0 1,0 -2,0M337.7,311.4a1,1 0 1,0 2,0a1,1 0 1,0 -2,0M337.7,316a1,1 0 1,0 2,0a1,1 0 1,0 -2,0M337.7,320.6a1,1 0 1,0 2,0a1,1 0 1,0 -2,0M337.7,325.2a1,1 0 1,0 2,0a1,1 0 1,0 -2,0M337.7,329.8a1,1 0 1,0 2,0a1,1 0 1,0 -2,0M337.7,334.4a1,1 0 1,0 2,0a1,1 0 1,0 -2,0M337.7,339a1,1 0 1,0 2,0a1,1 0 1,0 -2,0M337.7,343.6a1,1 0 1,0 2,0a1,1 0 1,0 -2,0M342.05,295.3a1,1 0 1,0 2,0a1,1 0 1,0 -2,0M342.05,299.9a1,1 0 1,0 2,0a1,1 0 1,0 -2,0M342.05,304.5a1,1 0 1,0 2,0a1,1 0 1,0 -2,0M342.05,309.1a1,1 0 1,0 2,0a1,1 0 1,0 -2,0M342.05,313.7a1,1 0 1,0 2,0a1,1 0 1,0 -2,0M342.05,318.3a1,1 0 1,0 2,0a1,1 0 1,0 -2,0M342.05,322.9a1,1 0 1,0 2,0a1,1 0 1,0 -2,0M342.05,327.5a1,1 0 1,0 2,0a1,1 0 1,0 -2,0M342.05,332.1a1,1 0 1,0 2,0a1,1 0 1,0 -2,0M342.05,336.7a1,1 0 1,0 2,0a1,1 0 1,0 -2,0M342.05,341.3a1,1 0 1,0 2,0a1,1 0 1,0 -2,0M346.4,293a1,1 0 1,0 2,0a1,1 0 1,0 -2,0M346.4,297.6a1,1 0 1,0 2,0a1,1 0 1,0 -2,0M346.4,302.2a1,1 0 1,0 2,0a1,1 0 1,0 -2,0M346.4,306.8a1,1 0 1,0 2,0a1,1 0 1,0 -2,0M346.4,311.4a1,1 0 1,0 2,0a1,1 0 1,0 -2,0M346.4,316a1,1 0 1,0 2,0a1,1 0 1,0 -2,0M346.4,320.6a1,1 0 1,0 2,0a1,1 0 1,0 -2,0M346.4,325.2a1,1 0 1,0 2,0a1,1 0 1,0 -2,0M346.4,329.8a1,1 0 1,0 2,0a1,1 0 1,0 -2,0M346.4,334.4a1,1 0 1,0 2,0a1,1 0 1,0 -2,0M346.4,339a1,1 0 1,0 2,0a1,1 0 1,0 -2,0M346.4,343.6a1,1 0 1,0 2,0a1,1 0 1,0 -2,0M350.75,295.3a1,1 0 1,0 2,0a1,1 0 1,0 -2,0M350.75,299.9a1,1 0 1,0 2,0a1,1 0 1,0 -2,0M350.75,304.5a1,1 0 1,0 2,0a1,1 0 1,0 -2,0M350.75,309.1a1,1 0 1,0 2,0a1,1 0 1,0 -2,0M350.75,313.7a1,1 0 1,0 2,0a1,1 0 1,0 -2,0M350.75,318.3a1,1 0 1,0 2,0a1,1 0 1,0 -2,0M350.75,322.9a1,1 0 1,0 2,0a1,1 0 1,0 -2,0M350.75,327.5a1,1 0 1,0 2,0a1,1 0 1,0 -2,0M350.75,332.1a1,1 0 1,0 2,0a1,1 0 1,0 -2,0M350.75,336.7a1,1 0 1,0 2,0a1,1 0 1,0 -2,0M350.75,341.3a1,1 0 1,0 2,0a1,1 0 1,0 -2,0M355.1,293a1,1 0 1,0 2,0a1,1 0 1,0 -2,0M355.1,297.6a1,1 0 1,0 2,0a1,1 0 1,0 -2,0M355.1,302.2a1,1 0 1,0 2,0a1,1 0 1,0 -2,0M355.1,306.8a1,1 0 1,0 2,0a1,1 0 1,0 -2,0M355.1,311.4a1,1 0 1,0 2,0a1,1 0 1,0 -2,0M355.1,316a1,1 0 1,0 2,0a1,1 0 1,0 -2,0M355.1,320.6a1,1 0 1,0 2,0a1,1 0 1,0 -2,0M355.1,325.2a1,1 0 1,0 2,0a1,1 0 1,0 -2,0M355.1,329.8a1,1 0 1,0 2,0a1,1 0 1,0 -2,0M355.1,334.4a1,1 0 1,0 2,0a1,1 0 1,0 -2,0M355.1,339a1,1 0 1,0 2,0a1,1 0 1,0 -2,0M355.1,343.6a1,1 0 1,0 2,0a1,1 0 1,0 -2,0M359.45,295.3a1,1 0 1,0 2,0a1,1 0 1,0 -2,0M359.45,299.9a1,1 0 1,0 2,0a1,1 0 1,0 -2,0M359.45,304.5a1,1 0 1,0 2,0a1,1 0 1,0 -2,0M359.45,309.1a1,1 0 1,0 2,0a1,1 0 1,0 -2,0M359.45,313.7a1,1 0 1,0 2,0a1,1 0 1,0 -2,0M359.45,318.3a1,1 0 1,0 2,0a1,1 0 1,0 -2,0M359.45,322.9a1,1 0 1,0 2,0a1,1 0 1,0 -2,0M359.45,327.5a1,1 0 1,0 2,0a1,1 0 1,0 -2,0M359.45,332.1a1,1 0 1,0 2,0a1,1 0 1,0 -2,0M359.45,336.7a1,1 0 1,0 2,0a1,1 0 1,0 -2,0M359.45,341.3a1,1 0 1,0 2,0a1,1 0 1,0 -2,0" fill="#d6bc30"/>
<rect x="337" y="291.8" width="13" height="53.7" fill="none" stroke="#a8a8a8" stroke-width="0.5" />
<rect x="350" y="291.8" width="11.7" height="53.7" fill="none" stroke="#c8c0a0" stroke-width="0.4" />
<path d="M324.35,309.13L322.92,311.6M324.35,309.13L322.92,306.66M324.35,309.13L327.2,309.13M322.92,311.6L320.07,311.6M322.92,311.6L324.35,314.06M320.07,311.6L318.65,309.13M320.07,311.6L318.65,314.06M318.65,309.13L320.07,306.66M318.65,309.13L315.8,309.13M320.07,306.66L322.92,306.66M328.62,311.6L327.2,314.06M328.62,311.6L327.2,309.13M328.62,311.6L331.47,311.6M327.2,314.06L324.35,314.06M327.2,314.06L328.62,316.53M332.9,314.06L331.47,316.53M332.9,314.06L331.47,311.6M331.47,316.53L328.62,316.53M331.47,316.53L332.9,319M328.62,316.53L327.2,319M318.65,314.06L315.8,314.06M315.8,314.06L314.38,311.6M315.8,314.06L314.38,316.53M314.38,311.6L315.8,309.13M314.38,311.6L311.52,311.6M332.9,319L331.47,321.47M331.47,321.47L328.62,321.47M331.47,321.47L332.9,323.94M328.62,321.47L327.2,319M328.62,321.47L327.2,323.94M307.25,309.13L305.82,311.6M307.25,309.13L305.82,306.66M307.25,309.13L310.1,309.13M305.82,311.6L302.97,311.6M305.82,311.6L307.25,314.06M302.97,311.6L301.55,309.13M302.97,311.6L301.55,314.06M301.55,309.13L302.97,306.66M301.55,309.13L298.7,309.13M302.97,306.66L305.82,306.66M311.52,311.6L310.1,314.06M311.52,311.6L310.1,309.13M310.1,314.06L307.25,314.06M310.1,314.06L311.52,316.53M314.38,316.53L311.52,316.53M314.38,316.53L315.8,319M311.52,316.53L310.1,319M332.9,323.94L331.47,326.4M331.47,326.4L328.62,326.4M328.62,326.4L327.2,323.94M328.62,326.4L327.2,328.87M327.2,323.94L324.35,323.94M301.55,314.06L298.7,314.06M298.7,314.06L297.27,311.6M298.7,314.06L297.27,316.53M297.27,311.6L298.7,309.13M297.27,311.6L294.42,311.6M315.8,319L314.38,321.47M314.38,321.47L311.52,321.47M314.38,321.47L315.8,323.94M311.52,321.47L310.1,319M311.52,321.47L310.1,323.94M327.2,328.87L324.35,328.87M324.35,328.87L322.92,326.4M324.35,328.87L322.92,331.34M322.92,326.4L324.35,323.94M322.92,326.4L320.07,326.4M290.15,309.13L288.72,311.6M290.15,309.13L288.72,306.66M290.15,309.13L293,309.13M288.72,311.6L285.88,311.6M288.72,311.6L290.15,314.06M285.88,311.6L284.45,309.13M285.88,311.6L284.45,314.06M284.45,309.13L285.88,306.66M284.45,309.13L281.6,309.13M285.88,306.66L288.72,306.66M294.42,311.6L293,314.06M294.42,311.6L293,309.13M293,314.06L290.15,314.06M293,314.06L294.42,316.53M297.27,316.53L294.42,316.53M297.27,316.53L298.7,319M294.42,316.53L293,319M315.8,323.94L314.38,326.4M315.8,323.94L318.65,323.94M314.38,326.4L311.52,326.4M314.38,326.4L315.8,328.87M311.52,326.4L310.1,323.94M311.52,326.4L310.1,328.87M310.1,323.94L307.25,323.94M320.07,326.4L318.65,328.87M320.07,326.4L318.65,323.94M318.65,328.87L315.8,328.87M318.65,328.87L320.07,331.34M322.92,331.34L320.07,331.34M284.45,314.06L281.6,314.06M281.6,314.06L280.17,311.6M281.6,314.06L280.17,316.53M280.17,311.6L281.6,309.13M280.17,311.6L277.32,311.6M298.7,319L297.27,321.47M297.27,321.47L294.42,321.47M297.27,321.47L298.7,323.94M294.42,321.47L293,319M294.42,321.47L293,323.94M310.1,328.87L307.25,328.87M307.25,328.87L305.82,326.4M307.25,328.87L305.82,331.34M305.82,326.4L307.25,323.94M305.82,326.4L302.97,326.4M280.17,316.53L277.32,316.53M280.17,316.53L281.6,319M277.32,316.53L275.9,314.06M277.32,316.53L275.9,319M275.9,314.06L277.32,311.6M298.7,323.94L297.27,326.4M298.7,323.94L301.55,323.94M297.27,326.4L294.42,326.4M297.27,326.4L298.7,328.87M294.42,326.4L293,323.94M294.42,326.4L293,328.87M293,323.94L290.15,323.94M302.97,326.4L301.55,328.87M302.97,326.4L301.55,323.94M301.55,328.87L298.7,328.87M301.55,328.87L302.97,331.34M305.82,331.34L302.97,331.34M281.6,319L280.17,321.47M280.17,321.47L277.32,321.47M280.17,321.47L281.6,323.94M277.32,321.47L275.9,319M277.32,321.47L275.9,323.94M293,328.87L290.15,328.87M290.15,328.87L288.72,326.4M290.15,328.87L288.72,331.34M288.72,326.4L290.15,323.94M288.72,326.4L285.88,326.4M281.6,323.94L280.17,326.4M281.6,323.94L284.45,323.94M280.17,326.4L277.32,326.4M280.17,326.4L281.6,328.87M277.32,326.4L275.9,323.94M285.88,326.4L284.45,328.87M285.88,326.4L284.45,323.94M284.45,328.87L281.6,328.87M284.45,328.87L285.88,331.34M288.72,331.34L285.88,331.34M320.07,306.66L319.05,304.88M322.92,306.66L323.95,304.88M332.9,314.06L334.95,314.06M331.47,311.6L332.5,309.82M302.97,306.66L301.95,304.88M305.82,306.66L306.85,304.88M332.9,323.94L334.95,323.94M331.47,326.4L332.5,328.18M285.88,306.66L284.85,304.88M288.72,306.66L289.75,304.88M322.92,331.34L323.95,333.12M320.07,331.34L319.05,333.12M275.9,314.06L273.85,314.06M277.32,311.6L276.3,309.82M305.82,331.34L306.85,333.12M302.97,331.34L301.95,333.12M277.32,326.4L276.3,328.18M275.9,323.94L273.85,323.94M288.72,331.34L289.75,333.12M285.88,331.34L284.85,333.12" stroke="#9a9a9a" stroke-width="0.71" fill="none"/>
<path d="M323.47,309.13a0.88,0.88 0 1,0 1.77,0a0.88,0.88 0 1,0 -1.77,0M322.04,311.6a0.88,0.88 0 1,0 1.77,0a0.88,0.88 0 1,0 -1.77,0M319.19,311.6a0.88,0.88 0 1,0 1.77,0a0.88,0.88 0 1,0 -1.77,0M317.77,309.13a0.88,0.88 0 1,0 1.77,0a0.88,0.88 0 1,0 -1.77,0M319.19,306.66a0.88,0.88 0 1,0 1.77,0a0.88,0.88 0 1,0 -1.77,0M322.04,306.66a0.88,0.88 0 1,0 1.77,0a0.88,0.88 0 1,0 -1.77,0M327.74,311.6a0.88,0.88 0 1,0 1.77,0a0.88,0.88 0 1,0 -1.77,0M326.32,314.06a0.88,0.88 0 1,0 1.77,0a0.88,0.88 0 1,0 -1.77,0M332.02,314.06a0.88,0.88 0 1,0 1.77,0a0.88,0.88 0 1,0 -1.77,0M330.59,316.53a0.88,0.88 0 1,0 1.77,0a0.88,0.88 0 1,0 -1.77,0M327.74,316.53a0.88,0.88 0 1,0 1.77,0a0.88,0.88 0 1,0 -1.77,0M330.59,311.6a0.88,0.88 0 1,0 1.77,0a0.88,0.88 0 1,0 -1.77,0M314.92,314.06a0.88,0.88 0 1,0 1.77,0a0.88,0.88 0 1,0 -1.77,0M313.49,311.6a0.88,0.88 0 1,0 1.77,0a0.88,0.88 0 1,0 -1.77,0M330.59,321.47a0.88,0.88 0 1,0 1.77,0a0.88,0.88 0 1,0 -1.77,0M327.74,321.47a0.88,0.88 0 1,0 1.77,0a0.88,0.88 0 1,0 -1.77,0M306.37,309.13a0.88,0.88 0 1,0 1.77,0a0.88,0.88 0 1,0 -1.77,0M304.94,311.6a0.88,0.88 0 1,0 1.77,0a0.88,0.88 0 1,0 -1.77,0M302.09,311.6a0.88,0.88 0 1,0 1.77,0a0.88,0.88 0 1,0 -1.77,0M300.67,309.13a0.88,0.88 0 1,0 1.77,0a0.88,0.88 0 1,0 -1.77,0M302.09,306.66a0.88,0.88 0 1,0 1.77,0a0.88,0.88 0 1,0 -1.77,0M304.94,306.66a0.88,0.88 0 1,0 1.77,0a0.88,0.88 0 1,0 -1.77,0M310.64,311.6a0.88,0.88 0 1,0 1.77,0a0.88,0.88 0 1,0 -1.77,0M309.22,314.06a0.88,0.88 0 1,0 1.77,0a0.88,0.88 0 1,0 -1.77,0M313.49,316.53a0.88,0.88 0 1,0 1.77,0a0.88,0.88 0 1,0 -1.77,0M310.64,316.53a0.88,0.88 0 1,0 1.77,0a0.88,0.88 0 1,0 -1.77,0M332.02,323.94a0.88,0.88 0 1,0 1.77,0a0.88,0.88 0 1,0 -1.77,0M330.59,326.4a0.88,0.88 0 1,0 1.77,0a0.88,0.88 0 1,0 -1.77,0M327.74,326.4a0.88,0.88 0 1,0 1.77,0a0.88,0.88 0 1,0 -1.77,0M326.32,323.94a0.88,0.88 0 1,0 1.77,0a0.88,0.88 0 1,0 -1.77,0M297.82,314.06a0.88,0.88 0 1,0 1.77,0a0.88,0.88 0 1,0 -1.77,0M296.39,311.6a0.88,0.88 0 1,0 1.77,0a0.88,0.88 0 1,0 -1.77,0M313.49,321.47a0.88,0.88 0 1,0 1.77,0a0.88,0.88 0 1,0 -1.77,0M310.64,321.47a0.88,0.88 0 1,0 1.77,0a0.88,0.88 0 1,0 -1.77,0M323.47,328.87a0.88,0.88 0 1,0 1.77,0a0.88,0.88 0 1,0 -1.77,0M322.04,326.4a0.88,0.88 0 1,0 1.77,0a0.88,0.88 0 1,0 -1.77,0M289.27,309.13a0.88,0.88 0 1,0 1.77,0a0.88,0.88 0 1,0 -1.77,0M287.84,311.6a0.88,0.88 0 1,0 1.77,0a0.88,0.88 0 1,0 -1.77,0M284.99,311.6a0.88,0.88 0 1,0 1.77,0a0.88,0.88 0 1,0 -1.77,0M283.57,309.13a0.88,0.88 0 1,0 1.77,0a0.88,0.88 0 1,0 -1.77,0M284.99,306.66a0.88,0.88 0 1,0 1.77,0a0.88,0.88 0 1,0 -1.77,0M287.84,306.66a0.88,0.88 0 1,0 1.77,0a0.88,0.88 0 1,0 -1.77,0M293.54,311.6a0.88,0.88 0 1,0 1.77,0a0.88,0.88 0 1,0 -1.77,0M292.12,314.06a0.88,0.88 0 1,0 1.77,0a0.88,0.88 0 1,0 -1.77,0M296.39,316.53a0.88,0.88 0 1,0 1.77,0a0.88,0.88 0 1,0 -1.77,0M293.54,316.53a0.88,0.88 0 1,0 1.77,0a0.88,0.88 0 1,0 -1.77,0M314.92,323.94a0.88,0.88 0 1,0 1.77,0a0.88,0.88 0 1,0 -1.77,0M313.49,326.4a0.88,0.88 0 1,0 1.77,0a0.88,0.88 0 1,0 -1.77,0M310.64,326.4a0.88,0.88 0 1,0 1.77,0a0.88,0.88 0 1,0 -1.77,0M309.22,323.94a0.88,0.88 0 1,0 1.77,0a0.88,0.88 0 1,0 -1.77,0M319.19,326.4a0.88,0.88 0 1,0 1.77,0a0.88,0.88 0 1,0 -1.77,0M317.77,328.87a0.88,0.88 0 1,0 1.77,0a0.88,0.88 0 1,0 -1.77,0M322.04,331.34a0.88,0.88 0 1,0 1.77,0a0.88,0.88 0 1,0 -1.77,0M319.19,331.34a0.88,0.88 0 1,0 1.77,0a0.88,0.88 0 1,0 -1.77,0M280.72,314.06a0.88,0.88 0 1,0 1.77,0a0.88,0.88 0 1,0 -1.77,0M279.29,311.6a0.88,0.88 0 1,0 1.77,0a0.88,0.88 0 1,0 -1.77,0M296.39,321.47a0.88,0.88 0 1,0 1.77,0a0.88,0.88 0 1,0 -1.77,0M293.54,321.47a0.88,0.88 0 1,0 1.77,0a0.88,0.88 0 1,0 -1.77,0M306.37,328.87a0.88,0.88 0 1,0 1.77,0a0.88,0.88 0 1,0 -1.77,0M304.94,326.4a0.88,0.88 0 1,0 1.77,0a0.88,0.88 0 1,0 -1.77,0M279.29,316.53a0.88,0.88 0 1,0 1.77,0a0.88,0.88 0 1,0 -1.77,0M276.44,316.53a0.88,0.88 0 1,0 1.77,0a0.88,0.88 0 1,0 -1.77,0M275.02,314.06a0.88,0.88 0 1,0 1.77,0a0.88,0.88 0 1,0 -1.77,0M276.44,311.6a0.88,0.88 0 1,0 1.77,0a0.88,0.88 0 1,0 -1.77,0M297.82,323.94a0.88,0.88 0 1,0 1.77,0a0.88,0.88 0 1,0 -1.77,0M296.39,326.4a0.88,0.88 0 1,0 1.77,0a0.88,0.88 0 1,0 -1.77,0M293.54,326.4a0.88,0.88 0 1,0 1.77,0a0.88,0.88 0 1,0 -1.77,0M292.12,323.94a0.88,0.88 0 1,0 1.77,0a0.88,0.88 0 1,0 -1.77,0M302.09,326.4a0.88,0.88 0 1,0 1.77,0a0.88,0.88 0 1,0 -1.77,0M300.67,328.87a0.88,0.88 0 1,0 1.77,0a0.88,0.88 0 1,0 -1.77,0M304.94,331.34a0.88,0.88 0 1,0 1.77,0a0.88,0.88 0 1,0 -1.77,0M302.09,331.34a0.88,0.88 0 1,0 1.77,0a0.88,0.88 0 1,0 -1.77,0M279.29,321.47a0.88,0.88 0 1,0 1.77,0a0.88,0.88 0 1,0 -1.77,0M276.44,321.47a0.88,0.88 0 1,0 1.77,0a0.88,0.88 0 1,0 -1.77,0M289.27,328.87a0.88,0.88 0 1,0 1.77,0a0.88,0.88 0 1,0 -1.77,0M287.84,326.4a0.88,0.88 0 1,0 1.77,0a0.88,0.88 0 1,0 -1.77,0M280.72,323.94a0.88,0.88 0 1,0 1.77,0a0.88,0.88 0 1,0 -1.77,0M279.29,326.4a0.88,0.88 0 1,0 1.77,0a0.88,0.88 0 1,0 -1.77,0M276.44,326.4a0.88,0.88 0 1,0 1.77,0a0.88,0.88 0 1,0 -1.77,0M275.02,323.94a0.88,0.88 0 1,0 1.77,0a0.88,0.88 0 1,0 -1.77,0M284.99,326.4a0.88,0.88 0 1,0 1.77,0a0.88,0.88 0 1,0 -1.77,0M283.57,328.87a0.88,0.88 0 1,0 1.77,0a0.88,0.88 0 1,0 -1.77,0M287.84,331.34a0.88,0.88 0 1,0 1.77,0a0.88,0.88 0 1,0 -1.77,0M284.99,331.34a0.88,0.88 0 1,0 1.77,0a0.88,0.88 0 1,0 -1.77,0" fill="#878787"/>
<path d="M323.27,314.06a1.08,1.08 0 1,0 2.17,0a1.08,1.08 0 1,0 -2.17,0M326.12,309.13a1.08,1.08 0 1,0 2.17,0a1.08,1.08 0 1,0 -2.17,0M317.57,314.06a1.08,1.08 0 1,0 2.17,0a1.08,1.08 0 1,0 -2.17,0M314.72,309.13a1.08,1.08 0 1,0 2.17,0a1.08,1.08 0 1,0 -2.17,0M331.82,319a1.08,1.08 0 1,0 2.17,0a1.08,1.08 0 1,0 -2.17,0M326.12,319a1.08,1.08 0 1,0 2.17,0a1.08,1.08 0 1,0 -2.17,0M306.17,314.06a1.08,1.08 0 1,0 2.17,0a1.08,1.08 0 1,0 -2.17,0M309.02,309.13a1.08,1.08 0 1,0 2.17,0a1.08,1.08 0 1,0 -2.17,0M300.47,314.06a1.08,1.08 0 1,0 2.17,0a1.08,1.08 0 1,0 -2.17,0M297.62,309.13a1.08,1.08 0 1,0 2.17,0a1.08,1.08 0 1,0 -2.17,0M314.72,319a1.08,1.08 0 1,0 2.17,0a1.08,1.08 0 1,0 -2.17,0M309.02,319a1.08,1.08 0 1,0 2.17,0a1.08,1.08 0 1,0 -2.17,0M326.12,328.87a1.08,1.08 0 1,0 2.17,0a1.08,1.08 0 1,0 -2.17,0M323.27,323.94a1.08,1.08 0 1,0 2.17,0a1.08,1.08 0 1,0 -2.17,0M289.07,314.06a1.08,1.08 0 1,0 2.17,0a1.08,1.08 0 1,0 -2.17,0M291.92,309.13a1.08,1.08 0 1,0 2.17,0a1.08,1.08 0 1,0 -2.17,0M314.72,328.87a1.08,1.08 0 1,0 2.17,0a1.08,1.08 0 1,0 -2.17,0M317.57,323.94a1.08,1.08 0 1,0 2.17,0a1.08,1.08 0 1,0 -2.17,0M283.37,314.06a1.08,1.08 0 1,0 2.17,0a1.08,1.08 0 1,0 -2.17,0M280.52,309.13a1.08,1.08 0 1,0 2.17,0a1.08,1.08 0 1,0 -2.17,0M297.62,319a1.08,1.08 0 1,0 2.17,0a1.08,1.08 0 1,0 -2.17,0M291.92,319a1.08,1.08 0 1,0 2.17,0a1.08,1.08 0 1,0 -2.17,0M309.02,328.87a1.08,1.08 0 1,0 2.17,0a1.08,1.08 0 1,0 -2.17,0M306.17,323.94a1.08,1.08 0 1,0 2.17,0a1.08,1.08 0 1,0 -2.17,0M297.62,328.87a1.08,1.08 0 1,0 2.17,0a1.08,1.08 0 1,0 -2.17,0M300.47,323.94a1.08,1.08 0 1,0 2.17,0a1.08,1.08 0 1,0 -2.17,0M280.52,319a1.08,1.08 0 1,0 2.17,0a1.08,1.08 0 1,0 -2.17,0M274.82,319a1.08,1.08 0 1,0 2.17,0a1.08,1.08 0 1,0 -2.17,0M291.92,328.87a1.08,1.08 0 1,0 2.17,0a1.08,1.08 0 1,0 -2.17,0M289.07,323.94a1.08,1.08 0 1,0 2.17,0a1.08,1.08 0 1,0 -2.17,0M280.52,328.87a1.08,1.08 0 1,0 2.17,0a1.08,1.08 0 1,0 -2.17,0M283.37,323.94a1.08,1.08 0 1,0 2.17,0a1.08,1.08 0 1,0 -2.17,0" fill="#3558e8"/>
<path d="M318.36,304.88a0.68,0.68 0 1,0 1.37,0a0.68,0.68 0 1,0 -1.37,0M323.27,304.88a0.68,0.68 0 1,0 1.37,0a0.68,0.68 0 1,0 -1.37,0M334.27,314.06a0.68,0.68 0 1,0 1.37,0a0.68,0.68 0 1,0 -1.37,0M331.82,309.82a0.68,0.68 0 1,0 1.37,0a0.68,0.68 0 1,0 -1.37,0M301.26,304.88a0.68,0.68 0 1,0 1.37,0a0.68,0.68 0 1,0 -1.37,0M306.17,304.88a0.68,0.68 0 1,0 1.37,0a0.68,0.68 0 1,0 -1.37,0M334.27,323.94a0.68,0.68 0 1,0 1.37,0a0.68,0.68 0 1,0 -1.37,0M331.82,328.18a0.68,0.68 0 1,0 1.37,0a0.68,0.68 0 1,0 -1.37,0M284.16,304.88a0.68,0.68 0 1,0 1.37,0a0.68,0.68 0 1,0 -1.37,0M289.07,304.88a0.68,0.68 0 1,0 1.37,0a0.68,0.68 0 1,0 -1.37,0M323.27,333.12a0.68,0.68 0 1,0 1.37,0a0.68,0.68 0 1,0 -1.37,0M318.36,333.12a0.68,0.68 0 1,0 1.37,0a0.68,0.68 0 1,0 -1.37,0M273.16,314.06a0.68,0.68 0 1,0 1.37,0a0.68,0.68 0 1,0 -1.37,0M275.61,309.82a0.68,0.68 0 1,0 1.37,0a0.68,0.68 0 1,0 -1.37,0M306.17,333.12a0.68,0.68 0 1,0 1.37,0a0.68,0.68 0 1,0 -1.37,0M301.26,333.12a0.68,0.68 0 1,0 1.37,0a0.68,0.68 0 1,0 -1.37,0M275.61,328.18a0.68,0.68 0 1,0 1.37,0a0.68,0.68 0 1,0 -1.37,0M273.16,323.94a0.68,0.68 0 1,0 1.37,0a0.68,0.68 0 1,0 -1.37,0M289.07,333.12a0.68,0.68 0 1,0 1.37,0a0.68,0.68 0 1,0 -1.37,0M284.16,333.12a0.68,0.68 0 1,0 1.37,0a0.68,0.68 0 1,0 -1.37,0" fill="#d8d8d8"/>
<rect x="211.5" y="289.5" width="153.1" height="116.7" fill="none" stroke="#484848" stroke-width="1.1" />
<line x1="211.5" y1="398.2" x2="213.7" y2="398.2" stroke="#333" stroke-width="0.95" />
<text x="208.6" y="400.3" text-anchor="end" fill="#161616" stroke="#161616" style="font-size:5px;font-weight:bold;">0.0</text>
<line x1="211.5" y1="382.2" x2="213.7" y2="382.2" stroke="#333" stroke-width="0.95" />
<text x="208.6" y="384.3" text-anchor="end" fill="#161616" stroke="#161616" style="font-size:5px;font-weight:bold;">5.0&#215;10<tspan dy="-2.25" style="font-size:3.1px">&#8722;5</tspan></text>
<line x1="211.5" y1="366.2" x2="213.7" y2="366.2" stroke="#333" stroke-width="0.95" />
<text x="208.6" y="368.3" text-anchor="end" fill="#161616" stroke="#161616" style="font-size:5px;font-weight:bold;">1.0&#215;10<tspan dy="-2.25" style="font-size:3.1px">&#8722;4</tspan></text>
<line x1="211.5" y1="350.2" x2="213.7" y2="350.2" stroke="#333" stroke-width="0.95" />
<text x="208.6" y="352.3" text-anchor="end" fill="#161616" stroke="#161616" style="font-size:5px;font-weight:bold;">1.5&#215;10<tspan dy="-2.25" style="font-size:3.1px">&#8722;4</tspan></text>
<line x1="211.5" y1="334.2" x2="213.7" y2="334.2" stroke="#333" stroke-width="0.95" />
<text x="208.6" y="336.3" text-anchor="end" fill="#161616" stroke="#161616" style="font-size:5px;font-weight:bold;">2.0&#215;10<tspan dy="-2.25" style="font-size:3.1px">&#8722;4</tspan></text>
<line x1="211.5" y1="318.2" x2="213.7" y2="318.2" stroke="#333" stroke-width="0.95" />
<text x="208.6" y="320.3" text-anchor="end" fill="#161616" stroke="#161616" style="font-size:5px;font-weight:bold;">2.5&#215;10<tspan dy="-2.25" style="font-size:3.1px">&#8722;4</tspan></text>
<line x1="211.5" y1="302.2" x2="213.7" y2="302.2" stroke="#333" stroke-width="0.95" />
<text x="208.6" y="304.3" text-anchor="end" fill="#161616" stroke="#161616" style="font-size:5px;font-weight:bold;">3.0&#215;10<tspan dy="-2.25" style="font-size:3.1px">&#8722;4</tspan></text>
<line x1="211.5" y1="390.2" x2="212.8" y2="390.2" stroke="#484848" stroke-width="0.7" />
<line x1="211.5" y1="374.2" x2="212.8" y2="374.2" stroke="#484848" stroke-width="0.7" />
<line x1="211.5" y1="358.2" x2="212.8" y2="358.2" stroke="#484848" stroke-width="0.7" />
<line x1="211.5" y1="342.2" x2="212.8" y2="342.2" stroke="#484848" stroke-width="0.7" />
<line x1="211.5" y1="326.2" x2="212.8" y2="326.2" stroke="#484848" stroke-width="0.7" />
<line x1="211.5" y1="310.2" x2="212.8" y2="310.2" stroke="#484848" stroke-width="0.7" />
<line x1="221.1" y1="406.2" x2="221.1" y2="404" stroke="#333" stroke-width="0.95" />
<text x="221.1" y="414.01" text-anchor="middle" fill="#161616" stroke="#161616" style="font-size:5.3px;font-weight:bold;">1</text>
<line x1="240.24" y1="406.2" x2="240.24" y2="404" stroke="#333" stroke-width="0.95" />
<text x="240.24" y="414.01" text-anchor="middle" fill="#161616" stroke="#161616" style="font-size:5.3px;font-weight:bold;">2</text>
<line x1="259.38" y1="406.2" x2="259.38" y2="404" stroke="#333" stroke-width="0.95" />
<text x="259.38" y="414.01" text-anchor="middle" fill="#161616" stroke="#161616" style="font-size:5.3px;font-weight:bold;">3</text>
<line x1="278.52" y1="406.2" x2="278.52" y2="404" stroke="#333" stroke-width="0.95" />
<text x="278.52" y="414.01" text-anchor="middle" fill="#161616" stroke="#161616" style="font-size:5.3px;font-weight:bold;">4</text>
<line x1="297.66" y1="406.2" x2="297.66" y2="404" stroke="#333" stroke-width="0.95" />
<text x="297.66" y="414.01" text-anchor="middle" fill="#161616" stroke="#161616" style="font-size:5.3px;font-weight:bold;">5</text>
<line x1="316.8" y1="406.2" x2="316.8" y2="404" stroke="#333" stroke-width="0.95" />
<text x="316.8" y="414.01" text-anchor="middle" fill="#161616" stroke="#161616" style="font-size:5.3px;font-weight:bold;">6</text>
<line x1="335.94" y1="406.2" x2="335.94" y2="404" stroke="#333" stroke-width="0.95" />
<text x="335.94" y="414.01" text-anchor="middle" fill="#161616" stroke="#161616" style="font-size:5.3px;font-weight:bold;">7</text>
<line x1="355.08" y1="406.2" x2="355.08" y2="404" stroke="#333" stroke-width="0.95" />
<text x="355.08" y="414.01" text-anchor="middle" fill="#161616" stroke="#161616" style="font-size:5.3px;font-weight:bold;">8</text>
<line x1="211.53" y1="406.2" x2="211.53" y2="404.9" stroke="#484848" stroke-width="0.7" />
<line x1="230.67" y1="406.2" x2="230.67" y2="404.9" stroke="#484848" stroke-width="0.7" />
<line x1="249.81" y1="406.2" x2="249.81" y2="404.9" stroke="#484848" stroke-width="0.7" />
<line x1="268.95" y1="406.2" x2="268.95" y2="404.9" stroke="#484848" stroke-width="0.7" />
<line x1="288.09" y1="406.2" x2="288.09" y2="404.9" stroke="#484848" stroke-width="0.7" />
<line x1="307.23" y1="406.2" x2="307.23" y2="404.9" stroke="#484848" stroke-width="0.7" />
<line x1="326.37" y1="406.2" x2="326.37" y2="404.9" stroke="#484848" stroke-width="0.7" />
<line x1="345.51" y1="406.2" x2="345.51" y2="404.9" stroke="#484848" stroke-width="0.7" />
<polyline points="221.1,299 240.24,348.28 259.38,393.08 278.52,397.24 297.66,397.94 316.8,398.1 335.94,398.14 355.08,398.17" fill="none" stroke="#1a1aff" stroke-width="2.2" stroke-linejoin="round" />
<path d="M219.7,297.6 L222.5,299 L219.7,300.4 Z" fill="#d0d0ff" stroke="#1a1aff" stroke-width="0.7"/>
<path d="M238.84,346.88 L241.64,348.28 L238.84,349.68 Z" fill="#d0d0ff" stroke="#1a1aff" stroke-width="0.7"/>
<path d="M257.98,391.68 L260.78,393.08 L257.98,394.48 Z" fill="#d0d0ff" stroke="#1a1aff" stroke-width="0.7"/>
<path d="M277.12,395.84 L279.92,397.24 L277.12,398.64 Z" fill="#d0d0ff" stroke="#1a1aff" stroke-width="0.7"/>
<path d="M296.26,396.54 L299.06,397.94 L296.26,399.34 Z" fill="#d0d0ff" stroke="#1a1aff" stroke-width="0.7"/>
<path d="M315.4,396.7 L318.2,398.1 L315.4,399.5 Z" fill="#d0d0ff" stroke="#1a1aff" stroke-width="0.7"/>
<path d="M334.54,396.74 L337.34,398.14 L334.54,399.54 Z" fill="#d0d0ff" stroke="#1a1aff" stroke-width="0.7"/>
<path d="M353.68,396.77 L356.48,398.17 L353.68,399.57 Z" fill="#d0d0ff" stroke="#1a1aff" stroke-width="0.7"/>
<line x1="274.9" y1="371.8" x2="291.3" y2="371.8" stroke="#1a1aff" stroke-width="1.9" />
<path d="M281.7,370.4 L284.5,371.8 L281.7,373.2 Z" fill="#d0d0ff" stroke="#1a1aff" stroke-width="0.7"/>
<text x="292.9" y="374.28" text-anchor="start" fill="#161616" stroke="#161616" style="font-size:6.9px;font-weight:bold;font-style:italic;">3D-Au electrodes</text>
<text x="185.7" y="293.4" fill="#1a1a1a" stroke="#1a1a1a" style="font-size:8.7px;font-weight:bold;stroke-width:0.3px">(h)</text>
<text x="189.2" y="344.9" text-anchor="middle" fill="#161616" stroke="#161616" style="font-size:6.2px;font-weight:bold;" transform="rotate(-90 189.2 344.9)">Transmission</text>
<text x="288" y="421" text-anchor="middle" fill="#161616" stroke="#161616" style="font-size:6.75px;font-weight:bold;">Number of C<tspan dy="1.3" style="font-size:4.2px">2</tspan><tspan dy="-1.3">N rings</tspan></text>
<rect x="393.9" y="289.5" width="150.7" height="116.6" fill="none" stroke="#484848" stroke-width="1.1" />
<line x1="393.9" y1="298.9" x2="396.1" y2="298.9" stroke="#333" stroke-width="0.95" />
<text x="391" y="301.11" text-anchor="end" fill="#161616" stroke="#161616" style="font-size:5.3px;font-weight:bold;">10<tspan dy="-2.38" style="font-size:3.29px">&#8722;1</tspan></text>
<line x1="393.9" y1="310.81" x2="396.1" y2="310.81" stroke="#333" stroke-width="0.95" />
<text x="391" y="313.02" text-anchor="end" fill="#161616" stroke="#161616" style="font-size:5.3px;font-weight:bold;">10<tspan dy="-2.38" style="font-size:3.29px">&#8722;2</tspan></text>
<line x1="393.9" y1="322.72" x2="396.1" y2="322.72" stroke="#333" stroke-width="0.95" />
<text x="391" y="324.93" text-anchor="end" fill="#161616" stroke="#161616" style="font-size:5.3px;font-weight:bold;">10<tspan dy="-2.38" style="font-size:3.29px">&#8722;3</tspan></text>
<line x1="393.9" y1="334.63" x2="396.1" y2="334.63" stroke="#333" stroke-width="0.95" />
<text x="391" y="336.84" text-anchor="end" fill="#161616" stroke="#161616" style="font-size:5.3px;font-weight:bold;">10<tspan dy="-2.38" style="font-size:3.29px">&#8722;4</tspan></text>
<line x1="393.9" y1="346.54" x2="396.1" y2="346.54" stroke="#333" stroke-width="0.95" />
<text x="391" y="348.75" text-anchor="end" fill="#161616" stroke="#161616" style="font-size:5.3px;font-weight:bold;">10<tspan dy="-2.38" style="font-size:3.29px">&#8722;5</tspan></text>
<line x1="393.9" y1="358.45" x2="396.1" y2="358.45" stroke="#333" stroke-width="0.95" />
<text x="391" y="360.66" text-anchor="end" fill="#161616" stroke="#161616" style="font-size:5.3px;font-weight:bold;">10<tspan dy="-2.38" style="font-size:3.29px">&#8722;6</tspan></text>
<line x1="393.9" y1="370.36" x2="396.1" y2="370.36" stroke="#333" stroke-width="0.95" />
<text x="391" y="372.57" text-anchor="end" fill="#161616" stroke="#161616" style="font-size:5.3px;font-weight:bold;">10<tspan dy="-2.38" style="font-size:3.29px">&#8722;7</tspan></text>
<line x1="393.9" y1="382.27" x2="396.1" y2="382.27" stroke="#333" stroke-width="0.95" />
<text x="391" y="384.48" text-anchor="end" fill="#161616" stroke="#161616" style="font-size:5.3px;font-weight:bold;">10<tspan dy="-2.38" style="font-size:3.29px">&#8722;8</tspan></text>
<line x1="393.9" y1="394.18" x2="396.1" y2="394.18" stroke="#333" stroke-width="0.95" />
<text x="391" y="396.39" text-anchor="end" fill="#161616" stroke="#161616" style="font-size:5.3px;font-weight:bold;">10<tspan dy="-2.38" style="font-size:3.29px">&#8722;9</tspan></text>
<line x1="393.9" y1="406.09" x2="396.1" y2="406.09" stroke="#333" stroke-width="0.95" />
<text x="391" y="408.3" text-anchor="end" fill="#161616" stroke="#161616" style="font-size:5.3px;font-weight:bold;">10<tspan dy="-2.38" style="font-size:3.29px">&#8722;10</tspan></text>
<line x1="393.9" y1="307.22" x2="395.1" y2="307.22" stroke="#484848" stroke-width="0.5" />
<line x1="393.9" y1="305.13" x2="395.1" y2="305.13" stroke="#484848" stroke-width="0.5" />
<line x1="393.9" y1="303.64" x2="395.1" y2="303.64" stroke="#484848" stroke-width="0.5" />
<line x1="393.9" y1="302.49" x2="395.1" y2="302.49" stroke="#484848" stroke-width="0.5" />
<line x1="393.9" y1="301.54" x2="395.1" y2="301.54" stroke="#484848" stroke-width="0.5" />
<line x1="393.9" y1="300.74" x2="395.1" y2="300.74" stroke="#484848" stroke-width="0.5" />
<line x1="393.9" y1="300.05" x2="395.1" y2="300.05" stroke="#484848" stroke-width="0.5" />
<line x1="393.9" y1="299.44" x2="395.1" y2="299.44" stroke="#484848" stroke-width="0.5" />
<line x1="393.9" y1="319.13" x2="395.1" y2="319.13" stroke="#484848" stroke-width="0.5" />
<line x1="393.9" y1="317.04" x2="395.1" y2="317.04" stroke="#484848" stroke-width="0.5" />
<line x1="393.9" y1="315.55" x2="395.1" y2="315.55" stroke="#484848" stroke-width="0.5" />
<line x1="393.9" y1="314.4" x2="395.1" y2="314.4" stroke="#484848" stroke-width="0.5" />
<line x1="393.9" y1="313.45" x2="395.1" y2="313.45" stroke="#484848" stroke-width="0.5" />
<line x1="393.9" y1="312.65" x2="395.1" y2="312.65" stroke="#484848" stroke-width="0.5" />
<line x1="393.9" y1="311.96" x2="395.1" y2="311.96" stroke="#484848" stroke-width="0.5" />
<line x1="393.9" y1="311.35" x2="395.1" y2="311.35" stroke="#484848" stroke-width="0.5" />
<line x1="393.9" y1="331.04" x2="395.1" y2="331.04" stroke="#484848" stroke-width="0.5" />
<line x1="393.9" y1="328.95" x2="395.1" y2="328.95" stroke="#484848" stroke-width="0.5" />
<line x1="393.9" y1="327.46" x2="395.1" y2="327.46" stroke="#484848" stroke-width="0.5" />
<line x1="393.9" y1="326.31" x2="395.1" y2="326.31" stroke="#484848" stroke-width="0.5" />
<line x1="393.9" y1="325.36" x2="395.1" y2="325.36" stroke="#484848" stroke-width="0.5" />
<line x1="393.9" y1="324.56" x2="395.1" y2="324.56" stroke="#484848" stroke-width="0.5" />
<line x1="393.9" y1="323.87" x2="395.1" y2="323.87" stroke="#484848" stroke-width="0.5" />
<line x1="393.9" y1="323.26" x2="395.1" y2="323.26" stroke="#484848" stroke-width="0.5" />
<line x1="393.9" y1="342.95" x2="395.1" y2="342.95" stroke="#484848" stroke-width="0.5" />
<line x1="393.9" y1="340.86" x2="395.1" y2="340.86" stroke="#484848" stroke-width="0.5" />
<line x1="393.9" y1="339.37" x2="395.1" y2="339.37" stroke="#484848" stroke-width="0.5" />
<line x1="393.9" y1="338.22" x2="395.1" y2="338.22" stroke="#484848" stroke-width="0.5" />
<line x1="393.9" y1="337.27" x2="395.1" y2="337.27" stroke="#484848" stroke-width="0.5" />
<line x1="393.9" y1="336.47" x2="395.1" y2="336.47" stroke="#484848" stroke-width="0.5" />
<line x1="393.9" y1="335.78" x2="395.1" y2="335.78" stroke="#484848" stroke-width="0.5" />
<line x1="393.9" y1="335.17" x2="395.1" y2="335.17" stroke="#484848" stroke-width="0.5" />
<line x1="393.9" y1="354.86" x2="395.1" y2="354.86" stroke="#484848" stroke-width="0.5" />
<line x1="393.9" y1="352.77" x2="395.1" y2="352.77" stroke="#484848" stroke-width="0.5" />
<line x1="393.9" y1="351.28" x2="395.1" y2="351.28" stroke="#484848" stroke-width="0.5" />
<line x1="393.9" y1="350.13" x2="395.1" y2="350.13" stroke="#484848" stroke-width="0.5" />
<line x1="393.9" y1="349.18" x2="395.1" y2="349.18" stroke="#484848" stroke-width="0.5" />
<line x1="393.9" y1="348.38" x2="395.1" y2="348.38" stroke="#484848" stroke-width="0.5" />
<line x1="393.9" y1="347.69" x2="395.1" y2="347.69" stroke="#484848" stroke-width="0.5" />
<line x1="393.9" y1="347.08" x2="395.1" y2="347.08" stroke="#484848" stroke-width="0.5" />
<line x1="393.9" y1="366.77" x2="395.1" y2="366.77" stroke="#484848" stroke-width="0.5" />
<line x1="393.9" y1="364.68" x2="395.1" y2="364.68" stroke="#484848" stroke-width="0.5" />
<line x1="393.9" y1="363.19" x2="395.1" y2="363.19" stroke="#484848" stroke-width="0.5" />
<line x1="393.9" y1="362.04" x2="395.1" y2="362.04" stroke="#484848" stroke-width="0.5" />
<line x1="393.9" y1="361.09" x2="395.1" y2="361.09" stroke="#484848" stroke-width="0.5" />
<line x1="393.9" y1="360.29" x2="395.1" y2="360.29" stroke="#484848" stroke-width="0.5" />
<line x1="393.9" y1="359.6" x2="395.1" y2="359.6" stroke="#484848" stroke-width="0.5" />
<line x1="393.9" y1="358.99" x2="395.1" y2="358.99" stroke="#484848" stroke-width="0.5" />
<line x1="393.9" y1="378.68" x2="395.1" y2="378.68" stroke="#484848" stroke-width="0.5" />
<line x1="393.9" y1="376.59" x2="395.1" y2="376.59" stroke="#484848" stroke-width="0.5" />
<line x1="393.9" y1="375.1" x2="395.1" y2="375.1" stroke="#484848" stroke-width="0.5" />
<line x1="393.9" y1="373.95" x2="395.1" y2="373.95" stroke="#484848" stroke-width="0.5" />
<line x1="393.9" y1="373" x2="395.1" y2="373" stroke="#484848" stroke-width="0.5" />
<line x1="393.9" y1="372.2" x2="395.1" y2="372.2" stroke="#484848" stroke-width="0.5" />
<line x1="393.9" y1="371.51" x2="395.1" y2="371.51" stroke="#484848" stroke-width="0.5" />
<line x1="393.9" y1="370.9" x2="395.1" y2="370.9" stroke="#484848" stroke-width="0.5" />
<line x1="393.9" y1="390.59" x2="395.1" y2="390.59" stroke="#484848" stroke-width="0.5" />
<line x1="393.9" y1="388.5" x2="395.1" y2="388.5" stroke="#484848" stroke-width="0.5" />
<line x1="393.9" y1="387.01" x2="395.1" y2="387.01" stroke="#484848" stroke-width="0.5" />
<line x1="393.9" y1="385.86" x2="395.1" y2="385.86" stroke="#484848" stroke-width="0.5" />
<line x1="393.9" y1="384.91" x2="395.1" y2="384.91" stroke="#484848" stroke-width="0.5" />
<line x1="393.9" y1="384.11" x2="395.1" y2="384.11" stroke="#484848" stroke-width="0.5" />
<line x1="393.9" y1="383.42" x2="395.1" y2="383.42" stroke="#484848" stroke-width="0.5" />
<line x1="393.9" y1="382.81" x2="395.1" y2="382.81" stroke="#484848" stroke-width="0.5" />
<line x1="393.9" y1="402.5" x2="395.1" y2="402.5" stroke="#484848" stroke-width="0.5" />
<line x1="393.9" y1="400.41" x2="395.1" y2="400.41" stroke="#484848" stroke-width="0.5" />
<line x1="393.9" y1="398.92" x2="395.1" y2="398.92" stroke="#484848" stroke-width="0.5" />
<line x1="393.9" y1="397.77" x2="395.1" y2="397.77" stroke="#484848" stroke-width="0.5" />
<line x1="393.9" y1="396.82" x2="395.1" y2="396.82" stroke="#484848" stroke-width="0.5" />
<line x1="393.9" y1="396.02" x2="395.1" y2="396.02" stroke="#484848" stroke-width="0.5" />
<line x1="393.9" y1="395.33" x2="395.1" y2="395.33" stroke="#484848" stroke-width="0.5" />
<line x1="393.9" y1="394.72" x2="395.1" y2="394.72" stroke="#484848" stroke-width="0.5" />
<line x1="405" y1="406.1" x2="405" y2="403.9" stroke="#333" stroke-width="0.95" />
<text x="405" y="413.91" text-anchor="middle" fill="#161616" stroke="#161616" style="font-size:5.3px;font-weight:bold;">1</text>
<line x1="426.42" y1="406.1" x2="426.42" y2="403.9" stroke="#333" stroke-width="0.95" />
<text x="426.42" y="413.91" text-anchor="middle" fill="#161616" stroke="#161616" style="font-size:5.3px;font-weight:bold;">2</text>
<line x1="447.84" y1="406.1" x2="447.84" y2="403.9" stroke="#333" stroke-width="0.95" />
<text x="447.84" y="413.91" text-anchor="middle" fill="#161616" stroke="#161616" style="font-size:5.3px;font-weight:bold;">3</text>
<line x1="469.26" y1="406.1" x2="469.26" y2="403.9" stroke="#333" stroke-width="0.95" />
<text x="469.26" y="413.91" text-anchor="middle" fill="#161616" stroke="#161616" style="font-size:5.3px;font-weight:bold;">4</text>
<line x1="490.68" y1="406.1" x2="490.68" y2="403.9" stroke="#333" stroke-width="0.95" />
<text x="490.68" y="413.91" text-anchor="middle" fill="#161616" stroke="#161616" style="font-size:5.3px;font-weight:bold;">5</text>
<line x1="512.1" y1="406.1" x2="512.1" y2="403.9" stroke="#333" stroke-width="0.95" />
<text x="512.1" y="413.91" text-anchor="middle" fill="#161616" stroke="#161616" style="font-size:5.3px;font-weight:bold;">6</text>
<line x1="533.52" y1="406.1" x2="533.52" y2="403.9" stroke="#333" stroke-width="0.95" />
<text x="533.52" y="413.91" text-anchor="middle" fill="#161616" stroke="#161616" style="font-size:5.3px;font-weight:bold;">7</text>
<line x1="394.29" y1="406.1" x2="394.29" y2="404.8" stroke="#484848" stroke-width="0.7" />
<line x1="415.71" y1="406.1" x2="415.71" y2="404.8" stroke="#484848" stroke-width="0.7" />
<line x1="437.13" y1="406.1" x2="437.13" y2="404.8" stroke="#484848" stroke-width="0.7" />
<line x1="458.55" y1="406.1" x2="458.55" y2="404.8" stroke="#484848" stroke-width="0.7" />
<line x1="479.97" y1="406.1" x2="479.97" y2="404.8" stroke="#484848" stroke-width="0.7" />
<line x1="501.39" y1="406.1" x2="501.39" y2="404.8" stroke="#484848" stroke-width="0.7" />
<line x1="522.81" y1="406.1" x2="522.81" y2="404.8" stroke="#484848" stroke-width="0.7" />
<line x1="544.23" y1="406.1" x2="544.23" y2="404.8" stroke="#484848" stroke-width="0.7" />
<polyline points="408.21,294.73 426.42,303.9 444.63,314.86 462.83,325.7 481.04,335.7 499.25,345.35 516.38,355.71 534.59,366.19" fill="none" stroke="#1e8c1e" stroke-width="1.9" stroke-linejoin="round" />
<path d="M406.71,293.23 L409.71,294.73 L406.71,296.23 Z" fill="#c8f0c8" stroke="#1e8c1e" stroke-width="0.7"/>
<path d="M424.92,302.4 L427.92,303.9 L424.92,305.4 Z" fill="#c8f0c8" stroke="#1e8c1e" stroke-width="0.7"/>
<path d="M443.13,313.36 L446.13,314.86 L443.13,316.36 Z" fill="#c8f0c8" stroke="#1e8c1e" stroke-width="0.7"/>
<path d="M461.33,324.2 L464.33,325.7 L461.33,327.2 Z" fill="#c8f0c8" stroke="#1e8c1e" stroke-width="0.7"/>
<path d="M479.54,334.2 L482.54,335.7 L479.54,337.2 Z" fill="#c8f0c8" stroke="#1e8c1e" stroke-width="0.7"/>
<path d="M497.75,343.85 L500.75,345.35 L497.75,346.85 Z" fill="#c8f0c8" stroke="#1e8c1e" stroke-width="0.7"/>
<path d="M514.88,354.21 L517.88,355.71 L514.88,357.21 Z" fill="#c8f0c8" stroke="#1e8c1e" stroke-width="0.7"/>
<path d="M533.09,364.69 L536.09,366.19 L533.09,367.69 Z" fill="#c8f0c8" stroke="#1e8c1e" stroke-width="0.7"/>
<polyline points="408.21,304.85 426.42,329.51 444.63,337.49 462.83,362.02 481.04,365.24 499.25,385.84 516.38,378.34 534.59,398.82" fill="none" stroke="#ff1010" stroke-width="1.9" stroke-linejoin="round" />
<rect x="406.61" y="303.57" width="3.2" height="2.56" fill="#ffc8c8" stroke="#ff1010" stroke-width="0.6" />
<rect x="424.82" y="328.23" width="3.2" height="2.56" fill="#ffc8c8" stroke="#ff1010" stroke-width="0.6" />
<rect x="443.03" y="336.21" width="3.2" height="2.56" fill="#ffc8c8" stroke="#ff1010" stroke-width="0.6" />
<rect x="461.23" y="360.74" width="3.2" height="2.56" fill="#ffc8c8" stroke="#ff1010" stroke-width="0.6" />
<rect x="479.44" y="363.96" width="3.2" height="2.56" fill="#ffc8c8" stroke="#ff1010" stroke-width="0.6" />
<rect x="497.65" y="384.56" width="3.2" height="2.56" fill="#ffc8c8" stroke="#ff1010" stroke-width="0.6" />
<rect x="514.78" y="377.06" width="3.2" height="2.56" fill="#ffc8c8" stroke="#ff1010" stroke-width="0.6" />
<rect x="532.99" y="397.54" width="3.2" height="2.56" fill="#ffc8c8" stroke="#ff1010" stroke-width="0.6" />
<polyline points="408.21,328.67 426.42,332.01 444.63,343.68 462.83,354.88 481.04,365.24 499.25,375.84 516.38,387.63 534.59,398.11" fill="none" stroke="#1a1aff" stroke-width="1.9" stroke-linejoin="round" />
<path d="M406.71,327.17 L409.71,328.67 L406.71,330.17 Z" fill="#c8c8ff" stroke="#1a1aff" stroke-width="0.7"/>
<path d="M424.92,330.51 L427.92,332.01 L424.92,333.51 Z" fill="#c8c8ff" stroke="#1a1aff" stroke-width="0.7"/>
<path d="M443.13,342.18 L446.13,343.68 L443.13,345.18 Z" fill="#c8c8ff" stroke="#1a1aff" stroke-width="0.7"/>
<path d="M461.33,353.38 L464.33,354.88 L461.33,356.38 Z" fill="#c8c8ff" stroke="#1a1aff" stroke-width="0.7"/>
<path d="M479.54,363.74 L482.54,365.24 L479.54,366.74 Z" fill="#c8c8ff" stroke="#1a1aff" stroke-width="0.7"/>
<path d="M497.75,374.34 L500.75,375.84 L497.75,377.34 Z" fill="#c8c8ff" stroke="#1a1aff" stroke-width="0.7"/>
<path d="M514.88,386.13 L517.88,387.63 L514.88,389.13 Z" fill="#c8c8ff" stroke="#1a1aff" stroke-width="0.7"/>
<path d="M533.09,396.61 L536.09,398.11 L533.09,399.61 Z" fill="#c8c8ff" stroke="#1a1aff" stroke-width="0.7"/>
<line x1="453.8" y1="294.5" x2="468" y2="294.5" stroke="#1e8c1e" stroke-width="1.9" />
<path d="M459.4,293 L462.4,294.5 L459.4,296 Z" fill="#c8f0c8" stroke="#1e8c1e" stroke-width="0.7"/>
<line x1="453.8" y1="302.9" x2="468" y2="302.9" stroke="#ff1010" stroke-width="1.9" />
<rect x="459.3" y="301.62" width="3.2" height="2.56" fill="#ffc8c8" stroke="#ff1010" stroke-width="0.6" />
<line x1="453.8" y1="310.8" x2="468" y2="310.8" stroke="#1a1aff" stroke-width="1.9" />
<path d="M459.4,309.3 L462.4,310.8 L459.4,312.3 Z" fill="#c8c8ff" stroke="#1a1aff" stroke-width="0.7"/>
<text x="470" y="296.82" text-anchor="start" fill="#161616" stroke="#161616" style="font-size:6.45px;font-weight:bold;font-style:italic;">1D-GNR electrodes</text>
<text x="470" y="305.22" text-anchor="start" fill="#161616" stroke="#161616" style="font-size:6.45px;font-weight:bold;font-style:italic;">2D-graphene electrodes</text>
<text x="470" y="313.12" text-anchor="start" fill="#161616" stroke="#161616" style="font-size:6.45px;font-weight:bold;font-style:italic;">3D-Au electrodes</text>
<text x="372.5" y="293.3" fill="#1a1a1a" stroke="#1a1a1a" style="font-size:8.7px;font-weight:bold;stroke-width:0.3px">(i)</text>
<text x="379.7" y="343" text-anchor="middle" fill="#161616" stroke="#161616" style="font-size:6.4px;font-weight:bold;" transform="rotate(-90 379.7 343)">Transmission</text>
<text x="467.4" y="420" text-anchor="middle" fill="#161616" stroke="#161616" style="font-size:6.4px;font-weight:bold;">length (nm)</text>
</svg></body></html>
